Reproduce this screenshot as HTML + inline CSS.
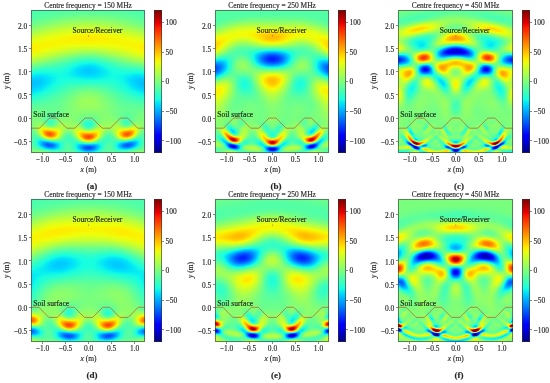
<!DOCTYPE html>
<html><head><meta charset="utf-8"><style>
html,body{margin:0;padding:0;background:#fff;}
body{width:550px;height:383px;position:relative;overflow:hidden;font-family:"Liberation Serif",serif;color:#262626;-webkit-text-stroke:0.2px rgba(38,38,38,0.7);}
.fld{position:absolute;overflow:hidden;}
.fld i{display:block;height:1px;}
.frm{position:absolute;border:1px solid rgba(50,50,50,0.6);}
.ttl{position:absolute;width:0;white-space:nowrap;font-size:7.45px;line-height:10px;display:flex;justify-content:center;}
.yt{position:absolute;width:36.8px;text-align:right;font-size:7.45px;line-height:10px;}
.xt{position:absolute;width:40px;text-align:center;font-size:7.45px;line-height:10px;}
.ct{position:absolute;font-size:7.45px;line-height:10px;white-space:nowrap;}
.yl{position:absolute;width:20px;height:10px;font-size:7.45px;line-height:10px;text-align:center;transform:rotate(-90deg);white-space:nowrap;}
.xl{position:absolute;width:40px;font-size:7.45px;line-height:10px;text-align:center;white-space:nowrap;}
.cap{position:absolute;width:40px;font-size:9px;line-height:10px;text-align:center;font-weight:bold;}
.cb{position:absolute;width:6px;border:1px solid rgba(50,50,50,0.6);background-origin:border-box;}
.tk{position:absolute;background:#8a8a8a;}
.ann{position:absolute;font-size:7.55px;line-height:10px;white-space:nowrap;color:#161616;}
svg{position:absolute;}
</style></head><body>
<div class="fld" style="left:31px;top:10px;width:114px;height:143px"><i style="background:linear-gradient(90deg,#49ffad 0px,#56ffa0 66.5px,#49ffad 114px)"></i><i style="background:linear-gradient(90deg,#49ffad 0px,#5aff9d 63.5px,#49ffad 114px)"></i><i style="background:linear-gradient(90deg,#49ffad 0px,#5dff9a 53.5px,#56ffa0 91.5px,#49ffad 114px)"></i><i style="background:linear-gradient(90deg,#49ffad 0px,#60ff97 47.5px,#60ff97 77.5px,#49ffad 114px)"></i><i style="background:linear-gradient(90deg,#4dffaa 0px,#66ff90 49.5px,#60ff97 86.5px,#4dffaa 114px)"></i><i style="background:linear-gradient(90deg,#4dffaa 0px,#6dff8a 49.5px,#66ff90 83.5px,#4dffaa 114px)"></i><i style="background:linear-gradient(90deg,#50ffa7 0px,#70ff87 44.5px,#70ff87 75.5px,#50ffa7 114px)"></i><i style="background:linear-gradient(90deg,#50ffa7 0px,#77ff80 42.5px,#77ff80 74.5px,#53ffa4 114px)"></i><i style="background:linear-gradient(90deg,#53ffa4 0px,#7aff7d 38.5px,#80ff77 68.5px,#5dff9a 107.5px,#56ffa0 114px)"></i><i style="background:linear-gradient(90deg,#56ffa0 0px,#80ff77 38.5px,#87ff70 62.5px,#7aff7d 86.5px,#5aff9d 114px)"></i><i style="background:linear-gradient(90deg,#5aff9d 0px,#87ff70 36.5px,#90ff66 64.5px,#73ff83 97.5px,#5dff9a 114px)"></i><i style="background:linear-gradient(90deg,#5dff9a 0px,#8aff6d 32.5px,#97ff60 56.5px,#8dff6a 80.5px,#60ff97 114px)"></i><i style="background:linear-gradient(90deg,#63ff94 0px,#97ff60 37.5px,#a0ff56 63.5px,#83ff73 94.5px,#63ff94 114px)"></i><i style="background:linear-gradient(90deg,#66ff90 0px,#9aff5d 33.5px,#a7ff50 55.5px,#a0ff56 76.5px,#6dff8a 111.5px,#6aff8d 114px)"></i><i style="background:linear-gradient(90deg,#6dff8a 0px,#a4ff53 35.5px,#b1ff46 57.5px,#a4ff53 80.5px,#70ff87 114px)"></i><i style="background:linear-gradient(90deg,#73ff83 0px,#aaff4d 34.5px,#baff3c 58.5px,#a7ff50 84.5px,#73ff83 114px)"></i><i style="background:linear-gradient(90deg,#7aff7d 0px,#adff49 30.5px,#c1ff36 54.5px,#baff3c 74.5px,#8aff6d 106.5px,#7aff7d 114px)"></i><i style="background:linear-gradient(90deg,#80ff77 0px,#b4ff43 29.5px,#caff2c 55.5px,#beff39 78.5px,#8aff6d 109.5px,#80ff77 114px)"></i><i style="background:linear-gradient(90deg,#87ff70 0px,#baff3c 28.5px,#d1ff26 52.5px,#caff2c 74.5px,#94ff63 108.5px,#8aff6d 114px)"></i><i style="background:linear-gradient(90deg,#8dff6a 0px,#beff39 25.5px,#d7ff1f 50.5px,#d7ff1f 68.5px,#adff49 99.5px,#90ff66 114px)"></i><i style="background:linear-gradient(90deg,#94ff63 0px,#beff39 20.5px,#e1ff16 52.5px,#dbff1c 72.5px,#adff49 103.5px,#97ff60 114px)"></i><i style="background:linear-gradient(90deg,#9dff5a 0px,#ceff29 26.5px,#e7ff0f 52.5px,#e1ff16 73.5px,#adff49 107.5px,#a0ff56 114px)"></i><i style="background:linear-gradient(90deg,#a4ff53 0px,#ceff29 21.5px,#eeff09 52.5px,#e7ff0f 72.5px,#beff39 103.5px,#a7ff50 114px)"></i><i style="background:linear-gradient(90deg,#adff49 0px,#d7ff1f 23.5px,#f1fc06 50.5px,#f1fc06 68.5px,#c7ff30 102.5px,#adff49 114px)"></i><i style="background:linear-gradient(90deg,#b4ff43 0px,#dbff1c 20.5px,#f1fc06 43.5px,#f8f500 61.5px,#e4ff13 86.5px,#beff39 110.5px,#b7ff40 114px)"></i><i style="background:linear-gradient(90deg,#baff3c 0px,#dbff1c 16.5px,#f1fc06 38.5px,#fbf100 56.5px,#f4f802 75.5px,#e4ff13 91.5px,#c1ff36 112.5px,#beff39 114px)"></i><i style="background:linear-gradient(90deg,#c4ff33 0px,#e7ff0f 22.5px,#f8f500 42.5px,#feed00 63.5px,#f1fc06 83.5px,#ceff29 110.5px,#c7ff30 114px)"></i><i style="background:linear-gradient(90deg,#caff2c 0px,#e7ff0f 18.5px,#f8f500 39.5px,#ffea00 62.5px,#f1fc06 87.5px,#d4ff23 110.5px,#ceff29 114px)"></i><i style="background:linear-gradient(90deg,#d4ff23 0px,#eeff09 19.5px,#feed00 48.5px,#feed00 72.5px,#ebff0c 100.5px,#d4ff23 114px)"></i><i style="background:linear-gradient(90deg,#dbff1c 0px,#f1fc06 19.5px,#ffea00 59.5px,#f1fc06 97.5px,#deff19 114px)"></i><i style="background:linear-gradient(90deg,#e1ff16 0px,#f4f802 19.5px,#feed00 62.5px,#f1fc06 103.5px,#e4ff13 114px)"></i><i style="background:linear-gradient(90deg,#e7ff0f 0px,#f8f500 19.5px,#f8f500 97.5px,#e7ff0f 114px)"></i><i style="background:linear-gradient(90deg,#ebff0c 0px,#f8f500 12.5px,#f4f802 109.5px,#eeff09 114px)"></i><i style="background:linear-gradient(90deg,#f1fc06 0px,#f8f500 15.5px,#f4f802 112.5px,#f1fc06 114px)"></i><i style="background:linear-gradient(90deg,#f4f802 0px,#fbf100 15.5px,#eeff09 49.5px,#f4f802 91.5px,#fbf100 109.5px,#f8f500 114px)"></i><i style="background:linear-gradient(90deg,#f8f500 0px,#f8f500 19.5px,#ebff0c 40.5px,#e7ff0f 66.5px,#f1fc06 89.5px,#fbf100 108.5px,#fbf100 114px)"></i><i style="background:linear-gradient(90deg,#fbf100 0px,#fbf100 12.5px,#e7ff0f 32.5px,#deff19 63.5px,#f1fc06 93.5px,#feed00 111.5px,#fbf100 114px)"></i><i style="background:linear-gradient(90deg,#feed00 0px,#f1fc06 20.5px,#d4ff23 51.5px,#dbff1c 75.5px,#f1fc06 96.5px,#feed00 114px)"></i><i style="background:linear-gradient(90deg,#feed00 0px,#f1fc06 16.5px,#caff2c 51.5px,#ceff29 70.5px,#f1fc06 99.5px,#feed00 114px)"></i><i style="background:linear-gradient(90deg,#feed00 0px,#f1fc06 13.5px,#c1ff36 49.5px,#c1ff36 67.5px,#f1fc06 102.5px,#feed00 114px)"></i><i style="background:linear-gradient(90deg,#fbf100 0px,#eeff09 12.5px,#b4ff43 50.5px,#b4ff43 65.5px,#f1fc06 105.5px,#fbf100 114px)"></i><i style="background:linear-gradient(90deg,#fbf100 0px,#e7ff0f 12.5px,#aaff4d 48.5px,#a7ff50 61.5px,#baff3c 77.5px,#f1fc06 108.5px,#f8f500 114px)"></i><i style="background:linear-gradient(90deg,#f4f802 0px,#d1ff26 20.5px,#9aff5d 51.5px,#9aff5d 64.5px,#f1fc06 111.5px,#f4f802 114px)"></i><i style="background:linear-gradient(90deg,#f1fc06 0px,#8dff6a 50.5px,#8dff6a 64.5px,#f1fc06 114px)"></i><i style="background:linear-gradient(90deg,#ebff0c 0px,#83ff73 48.5px,#7dff7a 62.5px,#b4ff43 88.5px,#ebff0c 114px)"></i><i style="background:linear-gradient(90deg,#e4ff13 0px,#73ff83 50.5px,#70ff87 62.5px,#a0ff56 84.5px,#e4ff13 114px)"></i><i style="background:linear-gradient(90deg,#deff19 0px,#63ff94 51.5px,#63ff94 63.5px,#dbff1c 114px)"></i><i style="background:linear-gradient(90deg,#d4ff23 0px,#6aff8d 42.5px,#53ffa4 56.5px,#5dff9a 67.5px,#adff49 98.5px,#d1ff26 114px)"></i><i style="background:linear-gradient(90deg,#caff2c 0px,#66ff90 39.5px,#46ffb1 53.5px,#4dffaa 65.5px,#a0ff56 97.5px,#c7ff30 114px)"></i><i style="background:linear-gradient(90deg,#c1ff36 0px,#56ffa0 41.5px,#39ffbe 54.5px,#40ffb7 65.5px,#8dff6a 93.5px,#beff39 114px)"></i><i style="background:linear-gradient(90deg,#b7ff40 0px,#87ff70 18.5px,#5dff9a 35.5px,#30ffc7 52.5px,#30ffc7 62.5px,#60ff97 80.5px,#b4ff43 114px)"></i><i style="background:linear-gradient(90deg,#aaff4d 0px,#7aff7d 19.5px,#50ffa7 36.5px,#26ffd1 51.5px,#23ffd4 61.5px,#46ffb1 75.5px,#73ff83 91.5px,#a0ff56 111.5px,#a7ff50 114px)"></i><i style="background:linear-gradient(90deg,#a0ff56 0px,#77ff80 15.5px,#4dffaa 34.5px,#19ffde 52.5px,#19ffde 62.5px,#6aff8d 91.5px,#8dff6a 108.5px,#9dff5a 114px)"></i><i style="background:linear-gradient(90deg,#94ff63 0px,#6dff8a 14.5px,#49ffad 32.5px,#13fce4 51.5px,#0cf4eb 59.5px,#23ffd4 70.5px,#5aff9d 88.5px,#80ff77 108.5px,#90ff66 114px)"></i><i style="background:linear-gradient(90deg,#87ff70 0px,#63ff94 13.5px,#46ffb1 30.5px,#13fce4 47.5px,#06ecf1 55.5px,#09f0ee 63.5px,#1cffdb 70.5px,#50ffa7 88.5px,#73ff83 108.5px,#83ff73 114px)"></i><i style="background:linear-gradient(90deg,#7aff7d 0px,#5aff9d 12.5px,#39ffbe 32.5px,#13fce4 45.5px,#00e4f8 53.5px,#00e4f8 62.5px,#19ffde 72.5px,#49ffad 89.5px,#6aff8d 109.5px,#77ff80 114px)"></i><i style="background:linear-gradient(90deg,#6dff8a 0px,#50ffa7 11.5px,#36ffc1 31.5px,#13fce4 42.5px,#00e0fb 51.5px,#00d8ff 59.5px,#06ecf1 67.5px,#1cffdb 75.5px,#40ffb7 88.5px,#5aff9d 108.5px,#6aff8d 114px)"></i><i style="background:linear-gradient(90deg,#60ff97 0px,#43ffb4 12.5px,#30ffc7 31.5px,#13fce4 41.5px,#00e0fb 49.5px,#00d4ff 55.5px,#00d8ff 63.5px,#06ecf1 69.5px,#19ffde 75.5px,#39ffbe 89.5px,#49ffad 106.5px,#5dff9a 114px)"></i><i style="background:linear-gradient(90deg,#53ffa4 0px,#39ffbe 11.5px,#2cffca 29.5px,#13fce4 39.5px,#00dcfe 48.5px,#00ccff 57.5px,#00e0fb 67.5px,#16ffe1 76.5px,#33ffc4 90.5px,#40ffb7 108.5px,#50ffa7 114px)"></i><i style="background:linear-gradient(90deg,#46ffb1 0px,#30ffc7 11.5px,#26ffd1 30.5px,#13fce4 38.5px,#00e0fb 46.5px,#00ccff 55.5px,#00d0ff 63.5px,#02e8f4 71.5px,#19ffde 78.5px,#2cffca 91.5px,#33ffc4 107.5px,#43ffb4 114px)"></i><i style="background:linear-gradient(90deg,#39ffbe 0px,#26ffd1 10.5px,#23ffd4 29.5px,#13fce4 37.5px,#00dcfe 46.5px,#00c8ff 56.5px,#00d4ff 65.5px,#09f0ee 74.5px,#19ffde 80.5px,#26ffd1 93.5px,#2cffca 109.5px,#36ffc1 114px)"></i><i style="background:linear-gradient(90deg,#30ffc7 0px,#1cffdb 9.5px,#1cffdb 31.5px,#0ff8e7 38.5px,#00e0fb 45.5px,#00c8ff 55.5px,#00d4ff 65.5px,#06ecf1 73.5px,#19ffde 81.5px,#1fffd7 96.5px,#1fffd7 108.5px,#2cffca 114px)"></i><i style="background:linear-gradient(90deg,#23ffd4 0px,#13fce4 12.5px,#1cffdb 29.5px,#0ff8e7 37.5px,#00e0fb 45.5px,#00ccff 55.5px,#00d0ff 63.5px,#02e8f4 72.5px,#19ffde 82.5px,#19ffde 96.5px,#16ffe1 108.5px,#1fffd7 114px)"></i><i style="background:linear-gradient(90deg,#19ffde 0px,#0cf4eb 9.5px,#19ffde 30.5px,#0cf4eb 38.5px,#00d8ff 48.5px,#00ccff 58.5px,#00e4f8 70.5px,#16ffe1 82.5px,#16ffe1 94.5px,#0cf4eb 107.5px,#16ffe1 114px)"></i><i style="background:linear-gradient(90deg,#0ff8e7 0px,#06ecf1 6.5px,#09f0ee 15.5px,#16ffe1 27.5px,#0ff8e7 37.5px,#00dcfe 48.5px,#00d0ff 58.5px,#00e4f8 69.5px,#16ffe1 82.5px,#0ff8e7 95.5px,#06ecf1 105.5px,#0cf4eb 114px)"></i><i style="background:linear-gradient(90deg,#06ecf1 0px,#00e0fb 8.5px,#0ff8e7 22.5px,#16ffe1 33.5px,#00e0fb 49.5px,#00d8ff 59.5px,#06ecf1 71.5px,#16ffe1 82.5px,#0ff8e7 93.5px,#00e0fb 106.5px,#02e8f4 114px)"></i><i style="background:linear-gradient(90deg,#00e4f8 0px,#00dcfe 8.5px,#02e8f4 16.5px,#13fce4 26.5px,#13fce4 37.5px,#00e0fb 53.5px,#00e4f8 65.5px,#16ffe1 80.5px,#0cf4eb 93.5px,#00dcfe 103.5px,#00e0fb 114px)"></i><i style="background:linear-gradient(90deg,#00dcfe 0px,#00d4ff 8.5px,#02e8f4 18.5px,#16ffe1 28.5px,#0ff8e7 42.5px,#02e8f4 55.5px,#06ecf1 66.5px,#16ffe1 79.5px,#0ff8e7 91.5px,#00dcfe 101.5px,#00d4ff 111.5px,#00d8ff 114px)"></i><i style="background:linear-gradient(90deg,#00d4ff 0px,#00ccff 6.5px,#00e4f8 17.5px,#16ffe1 28.5px,#16ffe1 41.5px,#09f0ee 56.5px,#0cf4eb 66.5px,#19ffde 79.5px,#0ff8e7 91.5px,#00e0fb 99.5px,#00ccff 109.5px,#00d0ff 114px)"></i><i style="background:linear-gradient(90deg,#00ccff 0px,#00ccff 9.5px,#00e4f8 17.5px,#16ffe1 27.5px,#19ffde 40.5px,#0ff8e7 61.5px,#1cffdb 81.5px,#0ff8e7 91.5px,#00dcfe 99.5px,#00c8ff 109.5px,#00ccff 114px)"></i><i style="background:linear-gradient(90deg,#00c8ff 0px,#00c8ff 8.5px,#00e4f8 17.5px,#16ffe1 27.5px,#1fffd7 39.5px,#19ffde 65.5px,#1fffd7 81.5px,#0ff8e7 91.5px,#00dcfe 99.5px,#00c4ff 109.5px,#00c8ff 114px)"></i><i style="background:linear-gradient(90deg,#00c4ff 0px,#00c8ff 8.5px,#00e4f8 17.5px,#16ffe1 26.5px,#23ffd4 37.5px,#23ffd4 73.5px,#1cffdb 86.5px,#0ff8e7 91.5px,#00dcfe 99.5px,#00c4ff 109.5px,#00c4ff 114px)"></i><i style="background:linear-gradient(90deg,#00c0ff 0px,#00c8ff 8.5px,#00e4f8 17.5px,#16ffe1 25.5px,#29ffce 38.5px,#26ffd1 81.5px,#13fce4 91.5px,#00e0fb 99.5px,#00c4ff 108.5px,#00c0ff 114px)"></i><i style="background:linear-gradient(90deg,#00c0ff 0px,#00c8ff 8.5px,#00e4f8 16.5px,#16ffe1 24.5px,#2cffca 36.5px,#33ffc4 67.5px,#23ffd4 85.5px,#0ff8e7 93.5px,#00dcfe 100.5px,#00c0ff 111.5px,#00c0ff 114px)"></i><i style="background:linear-gradient(90deg,#00c0ff 0px,#00d0ff 10.5px,#06ecf1 17.5px,#16ffe1 23.5px,#33ffc4 37.5px,#3cffba 61.5px,#30ffc7 80.5px,#13fce4 93.5px,#00dcfe 101.5px,#00c4ff 109.5px,#00c0ff 114px)"></i><i style="background:linear-gradient(90deg,#00c0ff 0px,#00d4ff 10.5px,#06ecf1 16.5px,#16ffe1 22.5px,#39ffbe 37.5px,#46ffb1 59.5px,#36ffc1 79.5px,#13fce4 94.5px,#00dcfe 102.5px,#00c4ff 111.5px,#00c0ff 114px)"></i><i style="background:linear-gradient(90deg,#00c4ff 0px,#00d8ff 10.5px,#09f0ee 16.5px,#19ffde 22.5px,#3cffba 36.5px,#50ffa7 56.5px,#43ffb4 74.5px,#1fffd7 90.5px,#0ff8e7 96.5px,#00dcfe 103.5px,#00c4ff 114px)"></i><i style="background:linear-gradient(90deg,#00c8ff 0px,#00dcfe 10.5px,#16ffe1 19.5px,#49ffad 40.5px,#5aff9d 58.5px,#43ffb4 77.5px,#13fce4 96.5px,#00dcfe 104.5px,#00c8ff 114px)"></i><i style="background:linear-gradient(90deg,#00ccff 0px,#00e0fb 9.5px,#16ffe1 18.5px,#50ffa7 40.5px,#60ff97 57.5px,#56ffa0 70.5px,#1cffdb 94.5px,#09f0ee 100.5px,#00d4ff 109.5px,#00ccff 114px)"></i><i style="background:linear-gradient(90deg,#00d0ff 0px,#00e4f8 9.5px,#19ffde 17.5px,#5dff9a 44.5px,#6aff8d 60.5px,#49ffad 79.5px,#13fce4 99.5px,#00e0fb 107.5px,#00d0ff 114px)"></i><i style="background:linear-gradient(90deg,#00d4ff 0px,#00e4f8 6.5px,#16ffe1 15.5px,#63ff94 44.5px,#70ff87 57.5px,#66ff90 68.5px,#1cffdb 97.5px,#0ff8e7 102.5px,#00e0fb 109.5px,#00d8ff 114px)"></i><i style="background:linear-gradient(90deg,#00dcfe 0px,#09f0ee 8.5px,#19ffde 14.5px,#73ff83 49.5px,#77ff80 62.5px,#4dffaa 81.5px,#13fce4 103.5px,#00e0fb 112.5px,#00dcfe 114px)"></i><i style="background:linear-gradient(90deg,#00e4f8 0px,#19ffde 12.5px,#7aff7d 50.5px,#7dff7a 61.5px,#63ff94 74.5px,#13fce4 105.5px,#00e4f8 114px)"></i><i style="background:linear-gradient(90deg,#06ecf1 0px,#1cffdb 10.5px,#83ff73 52.5px,#83ff73 62.5px,#5aff9d 79.5px,#13fce4 108.5px,#06ecf1 114px)"></i><i style="background:linear-gradient(90deg,#0cf4eb 0px,#1fffd7 9.5px,#66ff90 38.5px,#87ff70 51.5px,#87ff70 64.5px,#2cffca 99.5px,#0ff8e7 112.5px,#0cf4eb 114px)"></i><i style="background:linear-gradient(90deg,#13fce4 0px,#5dff9a 33.5px,#8dff6a 52.5px,#8dff6a 63.5px,#39ffbe 95.5px,#13fce4 114px)"></i><i style="background:linear-gradient(90deg,#19ffde 0px,#60ff97 33.5px,#90ff66 51.5px,#90ff66 63.5px,#46ffb1 91.5px,#19ffde 114px)"></i><i style="background:linear-gradient(90deg,#1fffd7 0px,#60ff97 32.5px,#94ff63 51.5px,#94ff63 63.5px,#49ffad 91.5px,#23ffd4 114px)"></i><i style="background:linear-gradient(90deg,#26ffd1 0px,#66ff90 34.5px,#97ff60 51.5px,#97ff60 63.5px,#50ffa7 90.5px,#29ffce 114px)"></i><i style="background:linear-gradient(90deg,#2cffca 0px,#66ff90 33.5px,#9aff5d 52.5px,#9aff5d 63.5px,#56ffa0 88.5px,#30ffc7 114px)"></i><i style="background:linear-gradient(90deg,#33ffc4 0px,#4dffaa 16.5px,#6aff8d 33.5px,#9aff5d 51.5px,#9dff5a 61.5px,#7aff7d 75.5px,#53ffa4 92.5px,#3cffba 110.5px,#36ffc1 114px)"></i><i style="background:linear-gradient(90deg,#39ffbe 0px,#50ffa7 14.5px,#60ff97 28.5px,#9dff5a 52.5px,#9dff5a 62.5px,#5aff9d 90.5px,#40ffb7 112.5px,#3cffba 114px)"></i><i style="background:linear-gradient(90deg,#40ffb7 0px,#53ffa4 13.5px,#66ff90 30.5px,#9aff5d 50.5px,#9dff5a 61.5px,#80ff77 74.5px,#5aff9d 91.5px,#49ffad 110.5px,#43ffb4 114px)"></i><i style="background:linear-gradient(90deg,#46ffb1 0px,#56ffa0 12.5px,#63ff94 28.5px,#9dff5a 52.5px,#9dff5a 62.5px,#5dff9a 90.5px,#50ffa7 110.5px,#49ffad 114px)"></i><i style="background:linear-gradient(90deg,#4dffaa 0px,#5aff9d 13.5px,#66ff90 29.5px,#9dff5a 52.5px,#97ff60 66.5px,#60ff97 89.5px,#53ffa4 111.5px,#50ffa7 114px)"></i><i style="background:linear-gradient(90deg,#53ffa4 0px,#5dff9a 12.5px,#66ff90 28.5px,#9aff5d 51.5px,#9aff5d 63.5px,#60ff97 91.5px,#5aff9d 110.5px,#53ffa4 114px)"></i><i style="background:linear-gradient(90deg,#56ffa0 0px,#60ff97 10.5px,#66ff90 27.5px,#9aff5d 52.5px,#94ff63 67.5px,#63ff94 90.5px,#5dff9a 111.5px,#5aff9d 114px)"></i><i style="background:linear-gradient(90deg,#5dff9a 0px,#63ff94 15.5px,#63ff94 24.5px,#97ff60 51.5px,#90ff66 68.5px,#63ff94 91.5px,#60ff97 112.5px,#5dff9a 114px)"></i><i style="background:linear-gradient(90deg,#60ff97 0px,#66ff90 13.5px,#66ff90 26.5px,#90ff66 48.5px,#90ff66 67.5px,#63ff94 92.5px,#63ff94 114px)"></i><i style="background:linear-gradient(90deg,#63ff94 0px,#6aff8d 11.5px,#63ff94 23.5px,#8dff6a 47.5px,#8dff6a 69.5px,#63ff94 93.5px,#66ff90 114px)"></i><i style="background:linear-gradient(90deg,#6aff8d 0px,#6aff8d 12.5px,#63ff94 23.5px,#8aff6d 45.5px,#8aff6d 71.5px,#63ff94 93.5px,#6dff8a 111.5px,#6aff8d 114px)"></i><i style="background:linear-gradient(90deg,#6dff8a 0px,#6dff8a 10.5px,#60ff97 21.5px,#87ff70 43.5px,#87ff70 73.5px,#60ff97 95.5px,#70ff87 111.5px,#6dff8a 114px)"></i><i style="background:linear-gradient(90deg,#70ff87 0px,#70ff87 9.5px,#60ff97 20.5px,#7aff7d 33.5px,#87ff70 46.5px,#83ff73 76.5px,#60ff97 94.5px,#73ff83 111.5px,#70ff87 114px)"></i><i style="background:linear-gradient(90deg,#73ff83 0px,#70ff87 9.5px,#5dff9a 20.5px,#83ff73 39.5px,#83ff73 49.5px,#7dff7a 61.5px,#87ff70 73.5px,#6dff8a 87.5px,#5dff9a 96.5px,#73ff83 110.5px,#73ff83 114px)"></i><i style="background:linear-gradient(90deg,#73ff83 0px,#73ff83 8.5px,#5aff9d 20.5px,#83ff73 37.5px,#83ff73 47.5px,#77ff80 58.5px,#87ff70 74.5px,#6dff8a 87.5px,#5aff9d 95.5px,#77ff80 109.5px,#77ff80 114px)"></i><i style="background:linear-gradient(90deg,#77ff80 0px,#73ff83 9.5px,#56ffa0 20.5px,#80ff77 34.5px,#83ff73 45.5px,#6dff8a 58.5px,#87ff70 74.5px,#73ff83 85.5px,#56ffa0 95.5px,#77ff80 108.5px,#77ff80 114px)"></i><i style="background:linear-gradient(90deg,#7aff7d 0px,#73ff83 9.5px,#53ffa4 19.5px,#6dff8a 27.5px,#83ff73 35.5px,#83ff73 45.5px,#66ff90 56.5px,#73ff83 64.5px,#87ff70 72.5px,#7dff7a 83.5px,#53ffa4 95.5px,#7aff7d 108.5px,#7aff7d 114px)"></i><i style="background:linear-gradient(90deg,#7aff7d 0px,#7aff7d 7.5px,#60ff97 14.5px,#4dffaa 19.5px,#63ff94 25.5px,#7dff7a 31.5px,#87ff70 39.5px,#7dff7a 47.5px,#5dff9a 56.5px,#66ff90 62.5px,#87ff70 71.5px,#80ff77 83.5px,#4dffaa 94.5px,#56ffa0 98.5px,#7aff7d 107.5px,#7aff7d 114px)"></i><i style="background:linear-gradient(90deg,#7dff7a 0px,#7aff7d 8.5px,#5dff9a 14.5px,#46ffb1 19.5px,#56ffa0 23.5px,#80ff77 30.5px,#8aff6d 41.5px,#6dff8a 50.5px,#53ffa4 56.5px,#60ff97 62.5px,#83ff73 70.5px,#8aff6d 78.5px,#77ff80 86.5px,#46ffb1 94.5px,#50ffa7 98.5px,#77ff80 105.5px,#7dff7a 114px)"></i><i style="background:linear-gradient(90deg,#7dff7a 0px,#7dff7a 8.5px,#5dff9a 14.5px,#40ffb7 18.5px,#49ffad 22.5px,#80ff77 29.5px,#8aff6d 37.5px,#83ff73 45.5px,#4dffaa 55.5px,#49ffad 59.5px,#80ff77 69.5px,#8aff6d 75.5px,#83ff73 84.5px,#5dff9a 90.5px,#40ffb7 94.5px,#43ffb4 97.5px,#77ff80 104.5px,#80ff77 112.5px,#7dff7a 114px)"></i><i style="background:linear-gradient(90deg,#7dff7a 0px,#7dff7a 9.5px,#5dff9a 14.5px,#39ffbe 18.5px,#40ffb7 21.5px,#7dff7a 28.5px,#8dff6a 34.5px,#87ff70 44.5px,#6dff8a 49.5px,#43ffb4 54.5px,#3cffba 58.5px,#50ffa7 62.5px,#80ff77 68.5px,#8dff6a 76.5px,#87ff70 84.5px,#70ff87 88.5px,#40ffb7 93.5px,#39ffbe 96.5px,#7aff7d 104.5px,#80ff77 112.5px,#80ff77 114px)"></i><i style="background:linear-gradient(90deg,#80ff77 0px,#80ff77 9.5px,#66ff90 13.5px,#36ffc1 18.5px,#46ffb1 22.5px,#83ff73 28.5px,#90ff66 33.5px,#87ff70 45.5px,#56ffa0 51.5px,#36ffc1 55.5px,#33ffc4 58.5px,#49ffad 62.5px,#7aff7d 67.5px,#8aff6d 71.5px,#90ff66 83.5px,#7dff7a 87.5px,#39ffbe 94.5px,#36ffc1 96.5px,#5aff9d 100.5px,#7dff7a 104.5px,#83ff73 111.5px,#80ff77 114px)"></i><i style="background:linear-gradient(90deg,#7dff7a 0px,#8aff6d 8.5px,#77ff80 12.5px,#3cffba 17.5px,#36ffc1 19.5px,#49ffad 22.5px,#8dff6a 28.5px,#94ff63 36.5px,#8aff6d 45.5px,#60ff97 50.5px,#33ffc4 54.5px,#26ffd1 57.5px,#3cffba 61.5px,#83ff73 68.5px,#90ff66 73.5px,#90ff66 85.5px,#70ff87 89.5px,#40ffb7 93.5px,#36ffc1 96.5px,#5dff9a 100.5px,#7dff7a 103.5px,#8aff6d 107.5px,#80ff77 114px)"></i><i style="background:linear-gradient(90deg,#7dff7a 0px,#90ff66 9.5px,#80ff77 12.5px,#43ffb4 17.5px,#3cffba 19.5px,#5aff9d 23.5px,#8dff6a 27.5px,#9aff5d 30.5px,#8dff6a 45.5px,#7aff7d 48.5px,#2cffca 54.5px,#1fffd7 57.5px,#2cffca 60.5px,#80ff77 67.5px,#94ff63 71.5px,#9aff5d 85.5px,#77ff80 89.5px,#46ffb1 93.5px,#3cffba 96.5px,#66ff90 100.5px,#8dff6a 104.5px,#8aff6d 109.5px,#80ff77 114px)"></i><i style="background:linear-gradient(90deg,#7dff7a 0px,#97ff60 9.5px,#8dff6a 12.5px,#50ffa7 17.5px,#46ffb1 19.5px,#5aff9d 22.5px,#97ff60 27.5px,#a4ff53 31.5px,#94ff63 39.5px,#94ff63 45.5px,#80ff77 48.5px,#23ffd4 55.5px,#1cffdb 58.5px,#36ffc1 61.5px,#7dff7a 66.5px,#90ff66 68.5px,#97ff60 74.5px,#9aff5d 80.5px,#a4ff53 84.5px,#8dff6a 88.5px,#50ffa7 93.5px,#46ffb1 95.5px,#5aff9d 98.5px,#94ff63 103.5px,#94ff63 107.5px,#80ff77 114px)"></i><i style="background:linear-gradient(90deg,#7aff7d 0px,#a4ff53 9.5px,#9dff5a 12.5px,#5dff9a 18.5px,#60ff97 21.5px,#a7ff50 28.5px,#aaff4d 31.5px,#97ff60 37.5px,#9aff5d 46.5px,#7dff7a 49.5px,#26ffd1 55.5px,#1fffd7 58.5px,#3cffba 61.5px,#8aff6d 66.5px,#9dff5a 69.5px,#9aff5d 79.5px,#aaff4d 84.5px,#9aff5d 88.5px,#63ff94 93.5px,#5aff9d 95.5px,#6dff8a 98.5px,#9dff5a 102.5px,#a4ff53 105.5px,#7dff7a 114px)"></i><i style="background:linear-gradient(90deg,#77ff80 0px,#90ff66 5.5px,#b7ff40 10.5px,#adff49 13.5px,#7aff7d 18.5px,#7aff7d 21.5px,#adff49 27.5px,#b1ff46 30.5px,#97ff60 37.5px,#a4ff53 46.5px,#97ff60 48.5px,#5aff9d 52.5px,#29ffce 56.5px,#30ffc7 59.5px,#97ff60 66.5px,#a7ff50 69.5px,#97ff60 77.5px,#a4ff53 81.5px,#b4ff43 85.5px,#9dff5a 89.5px,#7aff7d 93.5px,#7aff7d 96.5px,#b4ff43 102.5px,#b7ff40 104.5px,#7aff7d 114px)"></i><i style="background:linear-gradient(90deg,#73ff83 0px,#8aff6d 4.5px,#c7ff30 10.5px,#ceff29 12.5px,#b1ff46 16.5px,#9aff5d 19.5px,#9dff5a 22.5px,#beff39 28.5px,#aaff4d 32.5px,#94ff63 37.5px,#a4ff53 42.5px,#b1ff46 46.5px,#9dff5a 49.5px,#43ffb4 55.5px,#39ffbe 57.5px,#4dffaa 60.5px,#a7ff50 66.5px,#b1ff46 69.5px,#94ff63 77.5px,#a4ff53 81.5px,#beff39 86.5px,#97ff60 94.5px,#adff49 98.5px,#ceff29 102.5px,#c1ff36 105.5px,#83ff73 111.5px,#77ff80 114px)"></i><i style="background:linear-gradient(90deg,#6dff8a 0px,#87ff70 4.5px,#dbff1c 10.5px,#e7ff0f 13.5px,#d1ff26 17.5px,#beff39 21.5px,#caff2c 27.5px,#b4ff43 31.5px,#90ff66 36.5px,#9aff5d 40.5px,#c1ff36 46.5px,#b1ff46 49.5px,#5dff9a 55.5px,#53ffa4 57.5px,#5dff9a 59.5px,#baff3c 66.5px,#beff39 69.5px,#90ff66 76.5px,#9aff5d 80.5px,#c7ff30 86.5px,#c4ff33 90.5px,#beff39 94.5px,#e7ff0f 101.5px,#e4ff13 103.5px,#b1ff46 107.5px,#80ff77 111.5px,#73ff83 114px)"></i><i style="background:linear-gradient(90deg,#6aff8d 0px,#7aff7d 3.5px,#a0ff56 6.5px,#e7ff0f 10.5px,#f8f500 11.5px,#ffe200 13.5px,#ffea00 16.5px,#f1fc06 19.5px,#d1ff26 28.5px,#8aff6d 36.5px,#90ff66 39.5px,#b4ff43 43.5px,#ceff29 46.5px,#c7ff30 49.5px,#97ff60 53.5px,#7aff7d 56.5px,#7aff7d 58.5px,#a4ff53 62.5px,#ceff29 66.5px,#c7ff30 69.5px,#8aff6d 76.5px,#90ff66 79.5px,#b4ff43 83.5px,#d7ff1f 87.5px,#eeff09 95.5px,#ffe200 99.5px,#ffea00 102.5px,#f8f500 103.5px,#ebff0c 104.5px,#87ff70 110.5px,#6dff8a 114px)"></i><i style="background:linear-gradient(90deg,#63ff94 0px,#73ff83 3.5px,#a0ff56 6.5px,#f4f802 10.5px,#ffe200 11.5px,#ffc400 13.5px,#ffb900 16.5px,#ffde00 22.5px,#feed00 24.5px,#eeff09 26.5px,#8dff6a 34.5px,#80ff77 37.5px,#90ff66 40.5px,#d7ff1f 46.5px,#e1ff16 48.5px,#d1ff26 51.5px,#a4ff53 56.5px,#aaff4d 59.5px,#dbff1c 64.5px,#deff19 67.5px,#c4ff33 70.5px,#90ff66 74.5px,#80ff77 77.5px,#97ff60 81.5px,#ebff0c 88.5px,#fbf100 90.5px,#ffbd00 97.5px,#ffb900 100.5px,#ffe200 103.5px,#f4f802 104.5px,#a0ff56 108.5px,#73ff83 111.5px,#66ff90 114px)"></i><i style="background:linear-gradient(90deg,#60ff97 0px,#6dff8a 3.5px,#9aff5d 6.5px,#deff19 9.5px,#f8f500 10.5px,#ffab00 13.5px,#ff8d00 16.5px,#ff9800 19.5px,#ffd000 24.5px,#fbf100 26.5px,#eeff09 27.5px,#90ff66 33.5px,#7aff7d 36.5px,#7aff7d 38.5px,#94ff63 41.5px,#ebff0c 47.5px,#f4f802 50.5px,#d4ff23 56.5px,#deff19 60.5px,#f4f802 64.5px,#ebff0c 67.5px,#b4ff43 71.5px,#8aff6d 74.5px,#77ff80 77.5px,#83ff73 80.5px,#dbff1c 86.5px,#ebff0c 87.5px,#fbf100 88.5px,#ffab00 93.5px,#ff8d00 97.5px,#ff9c00 100.5px,#ffbd00 102.5px,#fbf100 104.5px,#e1ff16 105.5px,#9aff5d 108.5px,#6dff8a 111.5px,#63ff94 114px)"></i><i style="background:linear-gradient(90deg,#5dff9a 0px,#66ff90 3.5px,#7dff7a 5.5px,#beff39 8.5px,#f4f802 10.5px,#ffd700 11.5px,#ff8900 14.5px,#ff6f00 16.5px,#ff6f00 19.5px,#ff9400 22.5px,#ffe200 26.5px,#f4f802 27.5px,#a7ff50 31.5px,#7aff7d 34.5px,#6aff8d 37.5px,#7dff7a 40.5px,#d1ff26 45.5px,#f1fc06 47.5px,#feed00 48.5px,#ffd700 51.5px,#ffe600 57.5px,#ffd700 63.5px,#ffea00 66.5px,#f4f802 67.5px,#adff49 71.5px,#7dff7a 74.5px,#6aff8d 77.5px,#7aff7d 80.5px,#b7ff40 84.5px,#f1fc06 87.5px,#ffe600 88.5px,#ffa700 91.5px,#ff7a00 94.5px,#ff6c00 97.5px,#ff7a00 99.5px,#ff9c00 101.5px,#f8f500 104.5px,#dbff1c 105.5px,#90ff66 108.5px,#66ff90 111.5px,#5dff9a 114px)"></i><i style="background:linear-gradient(90deg,#5dff9a 0px,#60ff97 3.5px,#73ff83 5.5px,#b1ff46 8.5px,#ebff0c 10.5px,#ffe200 11.5px,#ff8600 14.5px,#ff6000 16.5px,#ff5500 18.5px,#ff6000 20.5px,#ff9400 23.5px,#ffde00 26.5px,#f4f802 27.5px,#9dff5a 31.5px,#70ff87 34.5px,#60ff97 36.5px,#66ff90 39.5px,#90ff66 42.5px,#e1ff16 46.5px,#f4f802 47.5px,#ffe200 48.5px,#ffb900 51.5px,#ffae00 54.5px,#ffb200 62.5px,#ffd000 65.5px,#f8f500 67.5px,#e4ff13 68.5px,#80ff77 73.5px,#63ff94 76.5px,#60ff97 78.5px,#7aff7d 81.5px,#c4ff33 85.5px,#f1fc06 87.5px,#ffde00 88.5px,#ff8200 92.5px,#ff6000 94.5px,#ff5500 97.5px,#ff8200 100.5px,#ffde00 103.5px,#eeff09 104.5px,#9aff5d 107.5px,#73ff83 109.5px,#5dff9a 112.5px,#5aff9d 114px)"></i><i style="background:linear-gradient(90deg,#5aff9d 0px,#5aff9d 3.5px,#66ff90 5.5px,#9dff5a 8.5px,#f4f802 11.5px,#ffd300 12.5px,#ff7700 15.5px,#ff5900 17.5px,#ff5200 19.5px,#ff7700 22.5px,#ffc400 25.5px,#ffe200 26.5px,#eeff09 27.5px,#90ff66 31.5px,#5aff9d 35.5px,#56ffa0 38.5px,#73ff83 41.5px,#c4ff33 45.5px,#f4f802 47.5px,#ffde00 48.5px,#ffa300 51.5px,#ff8900 53.5px,#ff7a00 57.5px,#ff8900 61.5px,#ffc400 65.5px,#ffde00 66.5px,#f4f802 67.5px,#97ff60 71.5px,#66ff90 74.5px,#53ffa4 77.5px,#63ff94 80.5px,#90ff66 83.5px,#eeff09 87.5px,#ffe200 88.5px,#ff7a00 92.5px,#ff5900 94.5px,#ff5200 96.5px,#ff5500 97.5px,#ff7700 99.5px,#ffd000 102.5px,#f8f500 103.5px,#dbff1c 104.5px,#a0ff56 106.5px,#77ff80 108.5px,#5aff9d 111.5px,#5aff9d 114px)"></i><i style="background:linear-gradient(90deg,#5aff9d 0px,#56ffa0 4.5px,#73ff83 7.5px,#baff3c 10.5px,#dbff1c 11.5px,#f8f500 12.5px,#ff9400 15.5px,#ff6c00 17.5px,#ff6000 19.5px,#ff8200 22.5px,#ffd000 25.5px,#feed00 26.5px,#e4ff13 27.5px,#87ff70 31.5px,#5aff9d 34.5px,#49ffad 37.5px,#50ffa7 39.5px,#73ff83 42.5px,#d1ff26 46.5px,#ebff0c 47.5px,#ffe600 48.5px,#ff9800 51.5px,#ff7300 53.5px,#ff5900 56.5px,#ff5d00 59.5px,#ff8200 62.5px,#ffc400 65.5px,#ffe200 66.5px,#eeff09 67.5px,#8aff6d 71.5px,#5aff9d 74.5px,#49ffad 77.5px,#5aff9d 80.5px,#83ff73 83.5px,#e1ff16 87.5px,#fbf100 88.5px,#ff9c00 91.5px,#ff7300 93.5px,#ff6000 95.5px,#ff6c00 97.5px,#ff9100 99.5px,#fbf100 102.5px,#dbff1c 103.5px,#8aff6d 106.5px,#66ff90 108.5px,#53ffa4 111.5px,#56ffa0 114px)"></i><i style="background:linear-gradient(90deg,#5aff9d 0px,#4dffaa 4.5px,#60ff97 7.5px,#83ff73 9.5px,#eeff09 13.5px,#ffde00 14.5px,#ffab00 16.5px,#ff8900 18.5px,#ff8900 20.5px,#ff9f00 22.5px,#ffea00 25.5px,#e7ff0f 26.5px,#77ff80 31.5px,#50ffa7 34.5px,#43ffb4 37.5px,#4dffaa 40.5px,#7aff7d 43.5px,#dbff1c 47.5px,#f8f500 48.5px,#ff9800 51.5px,#ff5900 54.5px,#ff4300 57.5px,#ff5900 60.5px,#ff7e00 62.5px,#ffd000 65.5px,#fbf100 66.5px,#deff19 67.5px,#7aff7d 71.5px,#50ffa7 74.5px,#43ffb4 76.5px,#49ffad 79.5px,#66ff90 82.5px,#b4ff43 86.5px,#e7ff0f 88.5px,#feed00 89.5px,#ffb600 91.5px,#ff8900 94.5px,#ff8900 96.5px,#ffa700 98.5px,#ffdb00 100.5px,#f1fc06 101.5px,#83ff73 105.5px,#60ff97 107.5px,#4dffaa 110.5px,#56ffa0 114px)"></i><i style="background:linear-gradient(90deg,#5aff9d 0px,#43ffb4 5.5px,#53ffa4 8.5px,#73ff83 10.5px,#eeff09 15.5px,#ffe600 16.5px,#ffc400 18.5px,#ffbd00 20.5px,#ffd000 22.5px,#f8f500 24.5px,#e1ff16 25.5px,#6aff8d 31.5px,#43ffb4 35.5px,#40ffb7 39.5px,#5aff9d 42.5px,#aaff4d 46.5px,#e4ff13 48.5px,#ffea00 49.5px,#ff7300 53.5px,#ff5200 55.5px,#ff4700 57.5px,#ff5200 59.5px,#ff8900 62.5px,#ffe600 65.5px,#e7ff0f 66.5px,#7dff7a 70.5px,#4dffaa 73.5px,#3cffba 77.5px,#50ffa7 81.5px,#8aff6d 85.5px,#e1ff16 89.5px,#f4f802 90.5px,#ffe200 91.5px,#ffbd00 94.5px,#ffc400 96.5px,#ffe600 98.5px,#f1fc06 99.5px,#77ff80 104.5px,#53ffa4 106.5px,#43ffb4 109.5px,#56ffa0 114px)"></i><i style="background:linear-gradient(90deg,#5dff9a 0px,#36ffc1 6.5px,#40ffb7 9.5px,#83ff73 13.5px,#d4ff23 17.5px,#e7ff0f 19.5px,#e7ff0f 21.5px,#caff2c 24.5px,#6aff8d 30.5px,#46ffb1 34.5px,#39ffbe 38.5px,#4dffaa 42.5px,#7dff7a 45.5px,#e4ff13 49.5px,#ffea00 50.5px,#ff9100 53.5px,#ff6c00 55.5px,#ff6000 57.5px,#ff6c00 59.5px,#ff9100 61.5px,#ffe600 64.5px,#e7ff0f 65.5px,#7dff7a 69.5px,#4dffaa 72.5px,#39ffbe 76.5px,#49ffad 81.5px,#77ff80 85.5px,#d7ff1f 91.5px,#ebff0c 94.5px,#e1ff16 96.5px,#b1ff46 99.5px,#4dffaa 104.5px,#36ffc1 107.5px,#46ffb1 111.5px,#53ffa4 114px)"></i><i style="background:linear-gradient(90deg,#5dff9a 0px,#23ffd4 7.5px,#26ffd1 10.5px,#5aff9d 14.5px,#97ff60 18.5px,#a7ff50 21.5px,#8dff6a 25.5px,#53ffa4 31.5px,#39ffbe 37.5px,#3cffba 41.5px,#56ffa0 44.5px,#a7ff50 48.5px,#f4f802 51.5px,#ffdb00 52.5px,#ff9c00 55.5px,#ff9100 57.5px,#ff9c00 59.5px,#ffc100 61.5px,#f8f500 63.5px,#deff19 64.5px,#7aff7d 68.5px,#43ffb4 72.5px,#39ffbe 76.5px,#50ffa7 83.5px,#9dff5a 91.5px,#a7ff50 94.5px,#8dff6a 97.5px,#30ffc7 103.5px,#23ffd4 106.5px,#30ffc7 109.5px,#53ffa4 114px)"></i><i style="background:linear-gradient(90deg,#5aff9d 0px,#36ffc1 4.5px,#16ffe1 7.5px,#06ecf1 10.5px,#16ffe1 13.5px,#5dff9a 20.5px,#63ff94 23.5px,#43ffb4 33.5px,#39ffbe 41.5px,#50ffa7 45.5px,#97ff60 49.5px,#eeff09 53.5px,#feed00 54.5px,#ffd700 56.5px,#ffd700 58.5px,#feed00 60.5px,#eeff09 61.5px,#70ff87 67.5px,#46ffb1 70.5px,#39ffbe 74.5px,#53ffa4 87.5px,#63ff94 92.5px,#56ffa0 95.5px,#16ffe1 101.5px,#06ecf1 104.5px,#16ffe1 107.5px,#53ffa4 114px)"></i><i style="background:linear-gradient(90deg,#5aff9d 0px,#33ffc4 4.5px,#19ffde 6.5px,#00e4f8 8.5px,#00ccff 10.5px,#00c4ff 13.5px,#00e4f8 17.5px,#13fce4 19.5px,#33ffc4 25.5px,#43ffb4 36.5px,#36ffc1 43.5px,#43ffb4 46.5px,#7aff7d 50.5px,#baff3c 54.5px,#ceff29 57.5px,#baff3c 60.5px,#50ffa7 67.5px,#39ffbe 70.5px,#3cffba 75.5px,#43ffb4 81.5px,#26ffd1 92.5px,#13fce4 95.5px,#00e4f8 97.5px,#00c4ff 101.5px,#00ccff 104.5px,#00e4f8 106.5px,#19ffde 108.5px,#53ffa4 114px)"></i><i style="background:linear-gradient(90deg,#5aff9d 0px,#33ffc4 4.5px,#16ffe1 6.5px,#06ecf1 7.5px,#00dcfe 8.5px,#00acff 11.5px,#0098ff 13.5px,#00a0ff 17.5px,#00dcfe 23.5px,#13fce4 26.5px,#46ffb1 34.5px,#46ffb1 38.5px,#2cffca 45.5px,#3cffba 49.5px,#7aff7d 55.5px,#7dff7a 58.5px,#60ff97 62.5px,#30ffc7 67.5px,#30ffc7 71.5px,#49ffad 78.5px,#39ffbe 83.5px,#13fce4 88.5px,#00e0fb 91.5px,#00a0ff 97.5px,#0098ff 101.5px,#00a8ff 103.5px,#00d8ff 106.5px,#06ecf1 107.5px,#16ffe1 108.5px,#49ffad 112.5px,#53ffa4 114px)"></i><i style="background:linear-gradient(90deg,#56ffa0 0px,#43ffb4 3.5px,#19ffde 6.5px,#00d8ff 8.5px,#008cff 12.5px,#0070ff 15.5px,#0070ff 17.5px,#00a0ff 22.5px,#00dcfe 26.5px,#13fce4 28.5px,#43ffb4 33.5px,#50ffa7 36.5px,#40ffb7 40.5px,#19ffde 46.5px,#19ffde 50.5px,#33ffc4 57.5px,#16ffe1 66.5px,#23ffd4 70.5px,#4dffaa 76.5px,#49ffad 80.5px,#1fffd7 85.5px,#13fce4 86.5px,#00dcfe 88.5px,#0088ff 94.5px,#0070ff 98.5px,#0078ff 100.5px,#009cff 103.5px,#00d8ff 106.5px,#06ecf1 107.5px,#16ffe1 108.5px,#40ffb7 111.5px,#53ffa4 114px)"></i><i style="background:linear-gradient(90deg,#56ffa0 0px,#46ffb1 3.5px,#0ff8e7 7.5px,#00e0fb 8.5px,#0078ff 13.5px,#0060ff 15.5px,#0058ff 17.5px,#0068ff 20.5px,#0090ff 23.5px,#00dcfe 27.5px,#06ecf1 28.5px,#16ffe1 29.5px,#4dffaa 34.5px,#50ffa7 38.5px,#33ffc4 42.5px,#13fce4 45.5px,#00e4f8 47.5px,#00d0ff 50.5px,#00d0ff 64.5px,#00e4f8 67.5px,#13fce4 69.5px,#4dffaa 75.5px,#50ffa7 79.5px,#3cffba 82.5px,#16ffe1 85.5px,#00dcfe 87.5px,#0074ff 93.5px,#005cff 96.5px,#005cff 98.5px,#006cff 100.5px,#009cff 103.5px,#00e0fb 106.5px,#1cffdb 108.5px,#4dffaa 112.5px,#53ffa4 114px)"></i><i style="background:linear-gradient(90deg,#5aff9d 0px,#40ffb7 4.5px,#19ffde 7.5px,#00d8ff 9.5px,#0074ff 14.5px,#005cff 16.5px,#0058ff 19.5px,#0068ff 21.5px,#00c0ff 26.5px,#00d4ff 27.5px,#02e8f4 28.5px,#13fce4 29.5px,#46ffb1 33.5px,#56ffa0 37.5px,#40ffb7 41.5px,#19ffde 44.5px,#00e4f8 46.5px,#00b8ff 49.5px,#0094ff 53.5px,#0088ff 58.5px,#00a0ff 63.5px,#00d4ff 67.5px,#00e4f8 68.5px,#19ffde 70.5px,#50ffa7 75.5px,#53ffa4 79.5px,#30ffc7 83.5px,#13fce4 85.5px,#00d4ff 87.5px,#0078ff 92.5px,#0058ff 95.5px,#005cff 98.5px,#0084ff 101.5px,#00d8ff 105.5px,#06ecf1 106.5px,#19ffde 107.5px,#49ffad 111.5px,#56ffa0 114px)"></i><i style="background:linear-gradient(90deg,#5dff9a 0px,#49ffad 4.5px,#19ffde 8.5px,#00dcfe 10.5px,#0080ff 15.5px,#0068ff 18.5px,#0074ff 21.5px,#009cff 24.5px,#00d8ff 27.5px,#06ecf1 28.5px,#16ffe1 29.5px,#50ffa7 34.5px,#56ffa0 38.5px,#36ffc1 42.5px,#1cffdb 44.5px,#00e0fb 46.5px,#0088ff 51.5px,#0060ff 55.5px,#0060ff 59.5px,#0084ff 63.5px,#00e0fb 68.5px,#19ffde 70.5px,#49ffad 74.5px,#56ffa0 77.5px,#50ffa7 80.5px,#26ffd1 84.5px,#16ffe1 85.5px,#06ecf1 86.5px,#00d8ff 87.5px,#0080ff 92.5px,#0068ff 95.5px,#0074ff 98.5px,#009cff 101.5px,#00dcfe 104.5px,#19ffde 106.5px,#49ffad 110.5px,#5aff9d 114px)"></i><i style="background:linear-gradient(90deg,#60ff97 0px,#53ffa4 4.5px,#23ffd4 9.5px,#13fce4 10.5px,#02e8f4 11.5px,#00d8ff 12.5px,#0098ff 16.5px,#0088ff 19.5px,#0098ff 22.5px,#00d0ff 26.5px,#00e4f8 27.5px,#1cffdb 29.5px,#50ffa7 34.5px,#56ffa0 38.5px,#39ffbe 42.5px,#0ff8e7 45.5px,#00e4f8 46.5px,#00a4ff 49.5px,#0054ff 54.5px,#0048ff 57.5px,#0054ff 60.5px,#007cff 63.5px,#00e0fb 68.5px,#1cffdb 70.5px,#4dffaa 74.5px,#5aff9d 77.5px,#49ffad 81.5px,#1cffdb 85.5px,#0ff8e7 86.5px,#00e4f8 87.5px,#00b4ff 90.5px,#0090ff 93.5px,#0088ff 95.5px,#0098ff 98.5px,#00d4ff 102.5px,#02e8f4 103.5px,#13fce4 104.5px,#4dffaa 109.5px,#60ff97 114px)"></i><i style="background:linear-gradient(90deg,#6aff8d 0px,#56ffa0 6.5px,#30ffc7 10.5px,#16ffe1 12.5px,#00e4f8 14.5px,#00c0ff 17.5px,#00b4ff 20.5px,#00c4ff 23.5px,#00dcfe 25.5px,#02e8f4 26.5px,#19ffde 28.5px,#49ffad 33.5px,#5aff9d 37.5px,#46ffb1 41.5px,#16ffe1 45.5px,#06ecf1 46.5px,#00d8ff 47.5px,#0088ff 51.5px,#005cff 54.5px,#004cff 56.5px,#004cff 58.5px,#0074ff 62.5px,#00d8ff 67.5px,#06ecf1 68.5px,#16ffe1 69.5px,#46ffb1 73.5px,#5aff9d 77.5px,#4dffaa 81.5px,#1cffdb 86.5px,#02e8f4 88.5px,#00d0ff 90.5px,#00b8ff 93.5px,#00b8ff 96.5px,#00d4ff 99.5px,#09f0ee 101.5px,#16ffe1 102.5px,#4dffaa 107.5px,#66ff90 112.5px,#66ff90 114px)"></i><i style="background:linear-gradient(90deg,#70ff87 0px,#63ff94 7.5px,#16ffe1 16.5px,#02e8f4 20.5px,#02e8f4 22.5px,#19ffde 26.5px,#49ffad 32.5px,#5aff9d 37.5px,#49ffad 41.5px,#1fffd7 45.5px,#13fce4 46.5px,#00d8ff 48.5px,#0080ff 53.5px,#0068ff 56.5px,#0068ff 58.5px,#0080ff 61.5px,#00b0ff 64.5px,#00d4ff 66.5px,#02e8f4 67.5px,#13fce4 68.5px,#43ffb4 72.5px,#5aff9d 77.5px,#49ffad 82.5px,#13fce4 89.5px,#02e8f4 94.5px,#16ffe1 98.5px,#5dff9a 106.5px,#70ff87 112.5px,#70ff87 114px)"></i><i style="background:linear-gradient(90deg,#7aff7d 0px,#73ff83 8.5px,#30ffc7 19.5px,#2cffca 23.5px,#46ffb1 30.5px,#5aff9d 36.5px,#50ffa7 41.5px,#30ffc7 45.5px,#19ffde 47.5px,#00e4f8 49.5px,#00b4ff 52.5px,#0090ff 56.5px,#0090ff 58.5px,#00a8ff 61.5px,#00e0fb 65.5px,#16ffe1 67.5px,#43ffb4 71.5px,#5aff9d 76.5px,#50ffa7 82.5px,#2cffca 90.5px,#2cffca 94.5px,#4dffaa 100.5px,#6dff8a 105.5px,#7aff7d 111.5px,#7aff7d 114px)"></i><i style="background:linear-gradient(90deg,#83ff73 0px,#83ff73 9.5px,#50ffa7 22.5px,#50ffa7 28.5px,#5dff9a 37.5px,#53ffa4 42.5px,#1cffdb 49.5px,#00e4f8 52.5px,#00ccff 55.5px,#00c4ff 57.5px,#00d8ff 61.5px,#06ecf1 63.5px,#19ffde 65.5px,#4dffaa 71.5px,#5dff9a 76.5px,#53ffa4 85.5px,#4dffaa 91.5px,#60ff97 97.5px,#83ff73 105.5px,#83ff73 114px)"></i><i style="background:linear-gradient(90deg,#8aff6d 0px,#94ff63 12.5px,#66ff90 26.5px,#5dff9a 42.5px,#40ffb7 48.5px,#19ffde 55.5px,#19ffde 59.5px,#46ffb1 67.5px,#60ff97 73.5px,#6aff8d 90.5px,#94ff63 103.5px,#8aff6d 114px)"></i></div>
<svg style="left:31px;top:10px" width="114" height="143"><path d="M-62.52,118.19 L-52.52,108.07 L-45.33,108.07 L-35.33,118.19 L-27.04,118.19 L-17.03,108.07 L-9.84,108.07 L0.16,118.19 L8.45,118.19 L18.46,108.07 L25.65,108.07 L35.65,118.19 L43.94,118.19 L53.94,108.07 L61.14,108.07 L71.14,118.19 L79.43,118.19 L89.43,108.07 L96.62,108.07 L106.63,118.19 L114.92,118.19 L124.92,108.07 L132.11,108.07 L142.12,118.19 L150.41,118.19 L160.41,108.07 L167.60,108.07 L177.60,118.19" fill="none" stroke="#b8692a" stroke-width="0.9" stroke-opacity="0.9"/><circle cx="57.54" cy="25.89" r="0.55" fill="#8e44a8" fill-opacity="0.8"/></svg>
<div class="frm" style="left:31px;top:10px;width:112px;height:141px"></div>
<div class="ann" style="left:72.4999px;top:26.0102px">Source/Receiver</div>
<div class="ann" style="left:33.3px;top:109.548px">Soil surface</div>
<div class="ttl" style="left:88px;top:1.4px">Centre frequency = 150 MHz</div>
<div class="yt" style="left:-9.5px;top:21.91px">2.0</div>
<b class="tk" style="left:29px;top:24.81px;width:2px;height:0.8px"></b>
<div class="yt" style="left:-9.5px;top:45.125px">1.5</div>
<b class="tk" style="left:29px;top:48.025px;width:2px;height:0.8px"></b>
<div class="yt" style="left:-9.5px;top:68.34px">1.0</div>
<b class="tk" style="left:29px;top:71.24px;width:2px;height:0.8px"></b>
<div class="yt" style="left:-9.5px;top:91.555px">0.5</div>
<b class="tk" style="left:29px;top:94.455px;width:2px;height:0.8px"></b>
<div class="yt" style="left:-9.5px;top:114.77px">0.0</div>
<b class="tk" style="left:29px;top:117.67px;width:2px;height:0.8px"></b>
<div class="yt" style="left:-9.5px;top:137.985px">−0.5</div>
<b class="tk" style="left:29px;top:140.885px;width:2px;height:0.8px"></b>
<div class="xt" style="left:22.45px;top:155.1px">−1.0</div>
<b class="tk" style="left:42.05px;top:153px;width:0.8px;height:1.8px"></b>
<div class="xt" style="left:45.495px;top:155.1px">−0.5</div>
<b class="tk" style="left:65.095px;top:153px;width:0.8px;height:1.8px"></b>
<div class="xt" style="left:68.54px;top:155.1px">0.0</div>
<b class="tk" style="left:88.14px;top:153px;width:0.8px;height:1.8px"></b>
<div class="xt" style="left:91.585px;top:155.1px">0.5</div>
<b class="tk" style="left:111.185px;top:153px;width:0.8px;height:1.8px"></b>
<div class="xt" style="left:114.63px;top:155.1px">1.0</div>
<b class="tk" style="left:134.23px;top:153px;width:0.8px;height:1.8px"></b>
<div class="yl" style="left:-2.8px;top:76.4px"><i>y</i> (m)</div>
<div class="xl" style="left:68.54px;top:164.5px"><i>x</i> (m)</div>
<div class="cap" style="left:72px;top:181px">(a)</div>
<div class="cb" style="left:154px;top:10px;height:141px;background-image:linear-gradient(180deg,#800000 0.00%,#9f0000 3.12%,#c40000 6.25%,#e80000 9.38%,#ff1e00 12.50%,#ff3b00 15.62%,#ff5900 18.75%,#ff7700 21.88%,#ff9400 25.00%,#ffb200 28.12%,#ffd000 31.25%,#feed00 34.38%,#e4ff13 37.50%,#caff2c 40.62%,#b1ff46 43.75%,#97ff60 46.88%,#7dff7a 50.00%,#63ff94 53.12%,#49ffad 56.25%,#30ffc7 59.38%,#16ffe1 62.50%,#00e0fb 65.62%,#00c0ff 68.75%,#00a0ff 71.88%,#0080ff 75.00%,#0060ff 78.12%,#0040ff 81.25%,#0020ff 84.38%,#0000ff 87.50%,#0000ed 90.62%,#0000c8 93.75%,#0000a4 96.88%,#000080 100.00%)"></div>
<b class="tk" style="left:162px;top:21.9333px;width:2px;height:0.8px"></b>
<div class="ct" style="left:165.5px;top:18.2333px">100</div>
<b class="tk" style="left:162px;top:51.5167px;width:2px;height:0.8px"></b>
<div class="ct" style="left:165.5px;top:47.8167px">50</div>
<b class="tk" style="left:162px;top:81.1px;width:2px;height:0.8px"></b>
<div class="ct" style="left:165.5px;top:77.4px">0</div>
<b class="tk" style="left:162px;top:110.683px;width:2px;height:0.8px"></b>
<div class="ct" style="left:165.5px;top:106.983px">−50</div>
<b class="tk" style="left:162px;top:140.267px;width:2px;height:0.8px"></b>
<div class="ct" style="left:165.5px;top:136.567px">−100</div>
<div class="fld" style="left:215px;top:10px;width:114px;height:143px"><i style="background:linear-gradient(90deg,#60ff97 0px,#50ffa7 28.5px,#53ffa4 100.5px,#5dff9a 114px)"></i><i style="background:linear-gradient(90deg,#5dff9a 0px,#50ffa7 27.5px,#53ffa4 104.5px,#5dff9a 114px)"></i><i style="background:linear-gradient(90deg,#5aff9d 0px,#50ffa7 24.5px,#53ffa4 108.5px,#5aff9d 114px)"></i><i style="background:linear-gradient(90deg,#56ffa0 0px,#50ffa7 30.5px,#53ffa4 111.5px,#56ffa0 114px)"></i><i style="background:linear-gradient(90deg,#53ffa4 0px,#53ffa4 34.5px,#53ffa4 88.5px,#53ffa4 114px)"></i><i style="background:linear-gradient(90deg,#53ffa4 0px,#53ffa4 26.5px,#5aff9d 61.5px,#53ffa4 93.5px,#50ffa7 114px)"></i><i style="background:linear-gradient(90deg,#50ffa7 0px,#56ffa0 25.5px,#5dff9a 48.5px,#5dff9a 83.5px,#50ffa7 109.5px,#50ffa7 114px)"></i><i style="background:linear-gradient(90deg,#50ffa7 0px,#56ffa0 19.5px,#63ff94 40.5px,#60ff97 87.5px,#50ffa7 108.5px,#50ffa7 114px)"></i><i style="background:linear-gradient(90deg,#4dffaa 0px,#5dff9a 20.5px,#6aff8d 37.5px,#66ff90 87.5px,#4dffaa 114px)"></i><i style="background:linear-gradient(90deg,#4dffaa 0px,#73ff83 36.5px,#70ff87 85.5px,#50ffa7 111.5px,#4dffaa 114px)"></i><i style="background:linear-gradient(90deg,#50ffa7 0px,#66ff90 17.5px,#7dff7a 37.5px,#7aff7d 84.5px,#50ffa7 114px)"></i><i style="background:linear-gradient(90deg,#50ffa7 0px,#83ff73 30.5px,#83ff73 85.5px,#50ffa7 114px)"></i><i style="background:linear-gradient(90deg,#53ffa4 0px,#8dff6a 28.5px,#8dff6a 86.5px,#53ffa4 114px)"></i><i style="background:linear-gradient(90deg,#56ffa0 0px,#97ff60 27.5px,#9dff5a 43.5px,#9aff5d 67.5px,#9aff5d 85.5px,#77ff80 101.5px,#5aff9d 114px)"></i><i style="background:linear-gradient(90deg,#5dff9a 0px,#a0ff56 25.5px,#aaff4d 40.5px,#a4ff53 64.5px,#a7ff50 85.5px,#87ff70 99.5px,#5dff9a 114px)"></i><i style="background:linear-gradient(90deg,#60ff97 0px,#aaff4d 23.5px,#b4ff43 37.5px,#b1ff46 87.5px,#87ff70 103.5px,#63ff94 114px)"></i><i style="background:linear-gradient(90deg,#6aff8d 0px,#b4ff43 22.5px,#c1ff36 36.5px,#beff39 86.5px,#9dff5a 100.5px,#6dff8a 114px)"></i><i style="background:linear-gradient(90deg,#70ff87 0px,#baff3c 20.5px,#caff2c 32.5px,#caff2c 85.5px,#adff49 98.5px,#73ff83 114px)"></i><i style="background:linear-gradient(90deg,#7aff7d 0px,#beff39 17.5px,#d4ff23 29.5px,#d4ff23 86.5px,#b7ff40 99.5px,#7dff7a 114px)"></i><i style="background:linear-gradient(90deg,#83ff73 0px,#ceff29 18.5px,#e1ff16 35.5px,#e4ff13 71.5px,#d7ff1f 91.5px,#b7ff40 102.5px,#87ff70 114px)"></i><i style="background:linear-gradient(90deg,#8dff6a 0px,#caff2c 14.5px,#e4ff13 26.5px,#f4f802 60.5px,#deff19 92.5px,#beff39 104.5px,#94ff63 114px)"></i><i style="background:linear-gradient(90deg,#9aff5d 0px,#d1ff26 13.5px,#e7ff0f 24.5px,#f4f802 42.5px,#ffea00 58.5px,#f1fc06 78.5px,#deff19 97.5px,#aaff4d 111.5px,#a0ff56 114px)"></i><i style="background:linear-gradient(90deg,#a7ff50 0px,#dbff1c 12.5px,#eeff09 26.5px,#f8f500 39.5px,#ffde00 57.5px,#f8f500 76.5px,#ebff0c 93.5px,#d4ff23 104.5px,#aaff4d 114px)"></i><i style="background:linear-gradient(90deg,#b4ff43 0px,#deff19 11.5px,#eeff09 21.5px,#f8f500 37.5px,#ffdb00 49.5px,#ffd300 61.5px,#fbf100 76.5px,#eeff09 92.5px,#e1ff16 102.5px,#beff39 112.5px,#b7ff40 114px)"></i><i style="background:linear-gradient(90deg,#c1ff36 0px,#e7ff0f 11.5px,#f4f802 34.5px,#ffdb00 45.5px,#ffc800 57.5px,#ffd700 67.5px,#f8f500 79.5px,#eeff09 91.5px,#e7ff0f 103.5px,#c4ff33 114px)"></i><i style="background:linear-gradient(90deg,#ceff29 0px,#ebff0c 9.5px,#f1fc06 19.5px,#f1fc06 33.5px,#ffde00 43.5px,#ffc100 55.5px,#ffcc00 65.5px,#fbf100 76.5px,#eeff09 86.5px,#eeff09 103.5px,#d7ff1f 111.5px,#d1ff26 114px)"></i><i style="background:linear-gradient(90deg,#d7ff1f 0px,#f1fc06 8.5px,#ebff0c 23.5px,#ebff0c 32.5px,#feed00 40.5px,#ffc100 52.5px,#ffc100 62.5px,#fbf100 75.5px,#ebff0c 82.5px,#ebff0c 93.5px,#f1fc06 106.5px,#deff19 114px)"></i><i style="background:linear-gradient(90deg,#e4ff13 0px,#f4f802 8.5px,#ebff0c 19.5px,#e1ff16 29.5px,#f1fc06 37.5px,#ffde00 44.5px,#ffbd00 53.5px,#ffbd00 61.5px,#ffe600 72.5px,#eeff09 78.5px,#e1ff16 86.5px,#f1fc06 100.5px,#f1fc06 110.5px,#e7ff0f 114px)"></i><i style="background:linear-gradient(90deg,#f1fc06 0px,#fbf100 8.5px,#ebff0c 16.5px,#d7ff1f 26.5px,#deff19 34.5px,#f4f802 40.5px,#ffe200 44.5px,#ffc100 53.5px,#ffc100 61.5px,#ffe200 70.5px,#eeff09 76.5px,#d7ff1f 84.5px,#deff19 93.5px,#f4f802 102.5px,#fbf100 109.5px,#f1fc06 114px)"></i><i style="background:linear-gradient(90deg,#fbf100 0px,#fbf100 9.5px,#eeff09 14.5px,#ceff29 24.5px,#ceff29 31.5px,#e7ff0f 39.5px,#fbf100 43.5px,#ffc800 52.5px,#ffc800 62.5px,#fbf100 71.5px,#e7ff0f 75.5px,#ceff29 83.5px,#ceff29 90.5px,#f1fc06 101.5px,#feed00 108.5px,#fbf100 114px)"></i><i style="background:linear-gradient(90deg,#ffe600 0px,#feed00 8.5px,#ebff0c 13.5px,#c1ff36 24.5px,#c1ff36 31.5px,#e1ff16 40.5px,#f4f802 44.5px,#ffe200 48.5px,#ffcc00 57.5px,#ffe200 66.5px,#f1fc06 71.5px,#c7ff30 81.5px,#beff39 88.5px,#e1ff16 99.5px,#f4f802 103.5px,#ffe600 109.5px,#ffe600 114px)"></i><i style="background:linear-gradient(90deg,#ffde00 0px,#ffea00 7.5px,#ebff0c 12.5px,#baff3c 22.5px,#b1ff46 28.5px,#beff39 35.5px,#f1fc06 46.5px,#ffe600 51.5px,#ffdb00 58.5px,#f8f500 67.5px,#ebff0c 70.5px,#b7ff40 81.5px,#b1ff46 89.5px,#d4ff23 98.5px,#eeff09 103.5px,#ffea00 107.5px,#ffde00 114px)"></i><i style="background:linear-gradient(90deg,#ffd700 0px,#ffe600 6.5px,#eeff09 10.5px,#b1ff46 21.5px,#a0ff56 29.5px,#c1ff36 39.5px,#f1fc06 50.5px,#feed00 57.5px,#f1fc06 64.5px,#a4ff53 83.5px,#a4ff53 89.5px,#c4ff33 97.5px,#eeff09 104.5px,#ffe600 108.5px,#ffd700 114px)"></i><i style="background:linear-gradient(90deg,#ffd000 0px,#ffea00 6.5px,#eeff09 9.5px,#a0ff56 21.5px,#94ff63 29.5px,#a0ff56 35.5px,#dbff1c 49.5px,#e7ff0f 57.5px,#dbff1c 65.5px,#97ff60 82.5px,#97ff60 90.5px,#beff39 98.5px,#eeff09 105.5px,#ffe200 109.5px,#ffd300 114px)"></i><i style="background:linear-gradient(90deg,#ffcc00 0px,#feed00 6.5px,#eeff09 8.5px,#9dff5a 19.5px,#83ff73 27.5px,#94ff63 35.5px,#ceff29 52.5px,#ceff29 62.5px,#a7ff50 74.5px,#83ff73 85.5px,#94ff63 93.5px,#c7ff30 101.5px,#eeff09 106.5px,#feed00 108.5px,#ffd000 114px)"></i><i style="background:linear-gradient(90deg,#ffcc00 0px,#feed00 5.5px,#eeff09 7.5px,#8aff6d 20.5px,#77ff80 27.5px,#83ff73 35.5px,#b4ff43 52.5px,#b4ff43 62.5px,#77ff80 85.5px,#7dff7a 91.5px,#a4ff53 98.5px,#eeff09 107.5px,#feed00 109.5px,#ffd000 114px)"></i><i style="background:linear-gradient(90deg,#ffd000 0px,#f8f500 5.5px,#eeff09 6.5px,#8aff6d 18.5px,#6dff8a 25.5px,#6dff8a 32.5px,#97ff60 51.5px,#94ff63 65.5px,#6aff8d 85.5px,#7aff7d 93.5px,#a7ff50 100.5px,#eeff09 108.5px,#feed00 110.5px,#ffd300 114px)"></i><i style="background:linear-gradient(90deg,#ffd300 0px,#ffea00 3.5px,#eeff09 5.5px,#7dff7a 18.5px,#63ff94 24.5px,#63ff94 34.5px,#77ff80 51.5px,#73ff83 70.5px,#60ff97 86.5px,#6dff8a 93.5px,#94ff63 99.5px,#eeff09 109.5px,#ffea00 111.5px,#ffdb00 114px)"></i><i style="background:linear-gradient(90deg,#ffdb00 0px,#f8f500 3.5px,#eeff09 4.5px,#80ff77 16.5px,#5aff9d 24.5px,#5aff9d 90.5px,#80ff77 98.5px,#eeff09 110.5px,#feed00 112.5px,#ffe200 114px)"></i><i style="background:linear-gradient(90deg,#ffe600 0px,#f4f802 2.5px,#ceff29 6.5px,#83ff73 14.5px,#60ff97 20.5px,#50ffa7 28.5px,#43ffb4 44.5px,#33ffc4 58.5px,#4dffaa 81.5px,#5aff9d 92.5px,#73ff83 98.5px,#ebff0c 111.5px,#fbf100 114px)"></i><i style="background:linear-gradient(90deg,#f8f500 0px,#eeff09 1.5px,#77ff80 14.5px,#53ffa4 22.5px,#3cffba 38.5px,#13fce4 54.5px,#13fce4 61.5px,#46ffb1 80.5px,#56ffa0 93.5px,#77ff80 100.5px,#c7ff30 109.5px,#eeff09 114px)"></i><i style="background:linear-gradient(90deg,#e7ff0f 0px,#7aff7d 12.5px,#5aff9d 18.5px,#36ffc1 37.5px,#16ffe1 44.5px,#00e0fb 50.5px,#00d0ff 55.5px,#00d4ff 61.5px,#02e8f4 66.5px,#19ffde 71.5px,#3cffba 79.5px,#5aff9d 96.5px,#80ff77 103.5px,#e1ff16 114px)"></i><i style="background:linear-gradient(90deg,#d7ff1f 0px,#73ff83 11.5px,#50ffa7 19.5px,#40ffb7 32.5px,#16ffe1 41.5px,#00e0fb 45.5px,#00bcff 50.5px,#00a8ff 55.5px,#00b0ff 62.5px,#00e0fb 69.5px,#16ffe1 73.5px,#40ffb7 82.5px,#5aff9d 98.5px,#7aff7d 104.5px,#ceff29 114px)"></i><i style="background:linear-gradient(90deg,#c4ff33 0px,#7aff7d 8.5px,#56ffa0 14.5px,#4dffaa 26.5px,#3cffba 33.5px,#16ffe1 39.5px,#00e4f8 42.5px,#00c4ff 45.5px,#0090ff 52.5px,#0084ff 57.5px,#0090ff 62.5px,#00d8ff 71.5px,#06ecf1 73.5px,#16ffe1 75.5px,#3cffba 81.5px,#4dffaa 89.5px,#56ffa0 100.5px,#80ff77 107.5px,#baff3c 114px)"></i><i style="background:linear-gradient(90deg,#adff49 0px,#66ff90 8.5px,#50ffa7 14.5px,#50ffa7 28.5px,#36ffc1 34.5px,#19ffde 38.5px,#00e0fb 41.5px,#0088ff 49.5px,#0068ff 54.5px,#0064ff 58.5px,#0078ff 63.5px,#00b0ff 69.5px,#00e0fb 73.5px,#19ffde 76.5px,#46ffb1 83.5px,#53ffa4 89.5px,#50ffa7 100.5px,#66ff90 106.5px,#a4ff53 114px)"></i><i style="background:linear-gradient(90deg,#94ff63 0px,#5aff9d 7.5px,#46ffb1 13.5px,#56ffa0 27.5px,#40ffb7 33.5px,#16ffe1 38.5px,#00e4f8 40.5px,#00bcff 43.5px,#0068ff 50.5px,#0048ff 55.5px,#004cff 60.5px,#007cff 66.5px,#00d8ff 73.5px,#09f0ee 75.5px,#16ffe1 76.5px,#46ffb1 82.5px,#56ffa0 87.5px,#4dffaa 96.5px,#49ffad 102.5px,#60ff97 108.5px,#8aff6d 114px)"></i><i style="background:linear-gradient(90deg,#7aff7d 0px,#50ffa7 5.5px,#3cffba 11.5px,#46ffb1 17.5px,#60ff97 25.5px,#50ffa7 31.5px,#1fffd7 37.5px,#09f0ee 39.5px,#00d0ff 41.5px,#006cff 48.5px,#003cff 53.5px,#0030ff 57.5px,#0044ff 62.5px,#0078ff 67.5px,#00e0fb 74.5px,#13fce4 76.5px,#4dffaa 82.5px,#60ff97 88.5px,#4dffaa 96.5px,#3cffba 102.5px,#46ffb1 107.5px,#70ff87 114px)"></i><i style="background:linear-gradient(90deg,#5dff9a 0px,#36ffc1 6.5px,#30ffc7 11.5px,#63ff94 24.5px,#63ff94 29.5px,#49ffad 33.5px,#16ffe1 38.5px,#00dcfe 40.5px,#0060ff 48.5px,#0030ff 53.5px,#0024ff 58.5px,#0040ff 63.5px,#007cff 68.5px,#00dcfe 74.5px,#16ffe1 76.5px,#5aff9d 83.5px,#66ff90 87.5px,#60ff97 92.5px,#30ffc7 103.5px,#39ffbe 109.5px,#56ffa0 114px)"></i><i style="background:linear-gradient(90deg,#40ffb7 0px,#1fffd7 6.5px,#29ffce 12.5px,#6dff8a 24.5px,#6dff8a 28.5px,#5aff9d 32.5px,#19ffde 38.5px,#00e0fb 40.5px,#0078ff 46.5px,#0030ff 52.5px,#001cff 57.5px,#0030ff 62.5px,#0078ff 68.5px,#00e0fb 74.5px,#19ffde 76.5px,#5aff9d 82.5px,#70ff87 87.5px,#66ff90 92.5px,#29ffce 102.5px,#1fffd7 108.5px,#39ffbe 114px)"></i><i style="background:linear-gradient(90deg,#26ffd1 0px,#0cf4eb 5.5px,#19ffde 11.5px,#6dff8a 22.5px,#7aff7d 27.5px,#63ff94 32.5px,#29ffce 37.5px,#0ff8e7 39.5px,#00e4f8 40.5px,#00b0ff 43.5px,#0050ff 49.5px,#0028ff 53.5px,#001cff 58.5px,#0030ff 62.5px,#006cff 67.5px,#00d4ff 73.5px,#00e4f8 74.5px,#0ff8e7 75.5px,#43ffb4 79.5px,#6aff8d 83.5px,#7aff7d 88.5px,#60ff97 94.5px,#19ffde 103.5px,#0cf4eb 109.5px,#1fffd7 114px)"></i><i style="background:linear-gradient(90deg,#09f0ee 0px,#00dcfe 4.5px,#02e8f4 9.5px,#19ffde 12.5px,#73ff83 22.5px,#80ff77 26.5px,#7aff7d 30.5px,#40ffb7 36.5px,#16ffe1 39.5px,#06ecf1 40.5px,#00dcfe 41.5px,#0064ff 48.5px,#0030ff 53.5px,#0024ff 58.5px,#0040ff 63.5px,#0084ff 68.5px,#00dcfe 73.5px,#06ecf1 74.5px,#16ffe1 75.5px,#56ffa0 80.5px,#7aff7d 84.5px,#80ff77 89.5px,#63ff94 94.5px,#19ffde 102.5px,#00e4f8 106.5px,#00dcfe 110.5px,#02e8f4 114px)"></i><i style="background:linear-gradient(90deg,#00d0ff 0px,#00c4ff 3.5px,#00d0ff 8.5px,#00e4f8 10.5px,#13fce4 12.5px,#77ff80 22.5px,#8aff6d 26.5px,#7aff7d 31.5px,#53ffa4 35.5px,#1fffd7 39.5px,#02e8f4 41.5px,#00d4ff 42.5px,#0064ff 49.5px,#0034ff 55.5px,#0034ff 59.5px,#0064ff 65.5px,#00d4ff 72.5px,#02e8f4 73.5px,#1fffd7 75.5px,#73ff83 82.5px,#8aff6d 87.5px,#7dff7a 91.5px,#49ffad 97.5px,#13fce4 102.5px,#00e4f8 104.5px,#00ccff 107.5px,#00c4ff 112.5px,#00c8ff 114px)"></i><i style="background:linear-gradient(90deg,#00b0ff 0px,#00a8ff 3.5px,#00b8ff 7.5px,#00d8ff 10.5px,#00e4f8 11.5px,#19ffde 13.5px,#73ff83 21.5px,#8dff6a 25.5px,#8dff6a 29.5px,#5dff9a 35.5px,#19ffde 40.5px,#00e4f8 42.5px,#00b0ff 45.5px,#006cff 50.5px,#004cff 55.5px,#004cff 59.5px,#006cff 64.5px,#00c0ff 70.5px,#00e4f8 72.5px,#19ffde 74.5px,#66ff90 80.5px,#8dff6a 85.5px,#8dff6a 89.5px,#6dff8a 94.5px,#19ffde 101.5px,#00e4f8 103.5px,#00c4ff 106.5px,#00acff 109.5px,#00acff 114px)"></i><i style="background:linear-gradient(90deg,#0094ff 0px,#0094ff 4.5px,#00b4ff 8.5px,#00e0fb 11.5px,#16ffe1 13.5px,#7aff7d 21.5px,#94ff63 26.5px,#8dff6a 30.5px,#70ff87 34.5px,#19ffde 41.5px,#00e4f8 43.5px,#00b8ff 46.5px,#007cff 51.5px,#0064ff 57.5px,#007cff 63.5px,#00c4ff 69.5px,#00e4f8 71.5px,#19ffde 73.5px,#7aff7d 81.5px,#94ff63 86.5px,#8dff6a 90.5px,#70ff87 94.5px,#16ffe1 101.5px,#00e0fb 103.5px,#00acff 107.5px,#0094ff 110.5px,#0090ff 114px)"></i><i style="background:linear-gradient(90deg,#007cff 0px,#0084ff 4.5px,#00acff 8.5px,#00dcfe 11.5px,#13fce4 13.5px,#66ff90 19.5px,#90ff66 24.5px,#97ff60 29.5px,#6dff8a 35.5px,#1cffdb 42.5px,#02e8f4 44.5px,#00d0ff 46.5px,#009cff 51.5px,#0084ff 57.5px,#009cff 63.5px,#00d0ff 68.5px,#02e8f4 70.5px,#1cffdb 72.5px,#77ff80 80.5px,#97ff60 85.5px,#90ff66 90.5px,#66ff90 95.5px,#13fce4 101.5px,#00dcfe 103.5px,#00acff 106.5px,#0084ff 110.5px,#007cff 114px)"></i><i style="background:linear-gradient(90deg,#0068ff 0px,#0078ff 4.5px,#00b4ff 9.5px,#00d8ff 11.5px,#02e8f4 12.5px,#13fce4 13.5px,#73ff83 20.5px,#97ff60 25.5px,#97ff60 29.5px,#83ff73 33.5px,#16ffe1 44.5px,#00e0fb 47.5px,#00b8ff 52.5px,#00a8ff 57.5px,#00c4ff 64.5px,#00e0fb 67.5px,#16ffe1 70.5px,#83ff73 81.5px,#9aff5d 86.5px,#90ff66 90.5px,#73ff83 94.5px,#13fce4 101.5px,#02e8f4 102.5px,#00d8ff 103.5px,#0098ff 107.5px,#0070ff 111.5px,#0068ff 114px)"></i><i style="background:linear-gradient(90deg,#0058ff 0px,#0078ff 5.5px,#00d8ff 11.5px,#13fce4 13.5px,#5dff9a 18.5px,#8dff6a 23.5px,#9aff5d 28.5px,#80ff77 34.5px,#16ffe1 47.5px,#00e4f8 51.5px,#00d0ff 56.5px,#00dcfe 62.5px,#09f0ee 65.5px,#1cffdb 68.5px,#8dff6a 82.5px,#9aff5d 87.5px,#8dff6a 91.5px,#50ffa7 97.5px,#13fce4 101.5px,#00d8ff 103.5px,#0078ff 109.5px,#005cff 114px)"></i><i style="background:linear-gradient(90deg,#0050ff 0px,#0060ff 3.5px,#00a4ff 8.5px,#00dcfe 11.5px,#06ecf1 12.5px,#16ffe1 13.5px,#6aff8d 19.5px,#8aff6d 23.5px,#97ff60 28.5px,#87ff70 33.5px,#29ffce 48.5px,#13fce4 55.5px,#1cffdb 63.5px,#53ffa4 73.5px,#8dff6a 82.5px,#97ff60 87.5px,#83ff73 92.5px,#5dff9a 96.5px,#16ffe1 101.5px,#06ecf1 102.5px,#00dcfe 103.5px,#0084ff 108.5px,#0058ff 112.5px,#0054ff 114px)"></i><i style="background:linear-gradient(90deg,#004cff 0px,#006cff 4.5px,#00ccff 10.5px,#00e0fb 11.5px,#19ffde 13.5px,#5dff9a 18.5px,#87ff70 23.5px,#90ff66 29.5px,#77ff80 37.5px,#40ffb7 50.5px,#36ffc1 58.5px,#46ffb1 66.5px,#90ff66 84.5px,#8aff6d 90.5px,#70ff87 94.5px,#46ffb1 98.5px,#19ffde 101.5px,#00e0fb 103.5px,#0078ff 109.5px,#0050ff 114px)"></i><i style="background:linear-gradient(90deg,#004cff 0px,#0080ff 5.5px,#00d4ff 10.5px,#02e8f4 11.5px,#13fce4 12.5px,#5dff9a 18.5px,#7dff7a 22.5px,#8aff6d 28.5px,#7aff7d 37.5px,#56ffa0 55.5px,#63ff94 67.5px,#8aff6d 85.5px,#80ff77 91.5px,#66ff90 95.5px,#2cffca 100.5px,#13fce4 102.5px,#02e8f4 103.5px,#00d4ff 104.5px,#0074ff 110.5px,#0054ff 114px)"></i><i style="background:linear-gradient(90deg,#0054ff 0px,#007cff 4.5px,#00e0fb 10.5px,#19ffde 12.5px,#5dff9a 18.5px,#77ff80 22.5px,#83ff73 30.5px,#7aff7d 66.5px,#80ff77 89.5px,#66ff90 95.5px,#33ffc4 100.5px,#19ffde 102.5px,#00e0fb 104.5px,#0070ff 111.5px,#005cff 114px)"></i><i style="background:linear-gradient(90deg,#0060ff 0px,#009cff 5.5px,#00e0fb 9.5px,#16ffe1 11.5px,#50ffa7 16.5px,#73ff83 22.5px,#83ff73 39.5px,#97ff60 52.5px,#94ff63 67.5px,#7aff7d 83.5px,#70ff87 93.5px,#46ffb1 99.5px,#16ffe1 103.5px,#00e0fb 105.5px,#0080ff 111.5px,#0068ff 114px)"></i><i style="background:linear-gradient(90deg,#0070ff 0px,#00a0ff 4.5px,#00e0fb 8.5px,#16ffe1 10.5px,#53ffa4 16.5px,#6dff8a 22.5px,#77ff80 34.5px,#b4ff43 52.5px,#b4ff43 62.5px,#8dff6a 74.5px,#70ff87 83.5px,#66ff90 94.5px,#53ffa4 98.5px,#16ffe1 104.5px,#00e0fb 106.5px,#0084ff 112.5px,#007cff 114px)"></i><i style="background:linear-gradient(90deg,#0088ff 0px,#00b8ff 4.5px,#00e4f8 7.5px,#19ffde 9.5px,#53ffa4 15.5px,#66ff90 21.5px,#66ff90 31.5px,#8aff6d 39.5px,#baff3c 47.5px,#d1ff26 55.5px,#caff2c 63.5px,#a4ff53 71.5px,#6dff8a 81.5px,#63ff94 89.5px,#63ff94 95.5px,#49ffad 100.5px,#19ffde 105.5px,#00e4f8 107.5px,#00b8ff 110.5px,#0090ff 114px)"></i><i style="background:linear-gradient(90deg,#00a0ff 0px,#00e0fb 5.5px,#13fce4 7.5px,#46ffb1 12.5px,#60ff97 17.5px,#5dff9a 24.5px,#5dff9a 31.5px,#83ff73 38.5px,#d1ff26 48.5px,#e7ff0f 55.5px,#e1ff16 62.5px,#beff39 69.5px,#6aff8d 80.5px,#5aff9d 85.5px,#60ff97 97.5px,#40ffb7 103.5px,#13fce4 107.5px,#00e0fb 109.5px,#00acff 114px)"></i><i style="background:linear-gradient(90deg,#00bcff 0px,#00e0fb 3.5px,#13fce4 5.5px,#4dffaa 11.5px,#63ff94 16.5px,#53ffa4 24.5px,#50ffa7 30.5px,#66ff90 35.5px,#d7ff1f 47.5px,#f4f802 52.5px,#feed00 58.5px,#f1fc06 63.5px,#beff39 70.5px,#60ff97 80.5px,#4dffaa 86.5px,#63ff94 98.5px,#46ffb1 104.5px,#13fce4 109.5px,#00e0fb 111.5px,#00c8ff 114px)"></i><i style="background:linear-gradient(90deg,#00d8ff 0px,#00e4f8 1.5px,#16ffe1 3.5px,#50ffa7 9.5px,#6aff8d 14.5px,#5aff9d 21.5px,#43ffb4 28.5px,#4dffaa 32.5px,#73ff83 37.5px,#d7ff1f 46.5px,#f1fc06 49.5px,#ffea00 52.5px,#ffdb00 56.5px,#ffe200 61.5px,#f8f500 64.5px,#e1ff16 67.5px,#80ff77 76.5px,#5aff9d 80.5px,#43ffb4 84.5px,#4dffaa 90.5px,#6aff8d 99.5px,#5dff9a 103.5px,#36ffc1 108.5px,#16ffe1 111.5px,#00e4f8 114px)"></i><i style="background:linear-gradient(90deg,#0ff8e7 0px,#39ffbe 4.5px,#6aff8d 10.5px,#73ff83 15.5px,#49ffad 23.5px,#39ffbe 28.5px,#43ffb4 32.5px,#63ff94 36.5px,#e7ff0f 47.5px,#fbf100 49.5px,#ffd300 54.5px,#ffcc00 58.5px,#ffea00 64.5px,#f1fc06 66.5px,#adff49 72.5px,#50ffa7 80.5px,#39ffbe 84.5px,#43ffb4 90.5px,#70ff87 98.5px,#70ff87 102.5px,#56ffa0 107.5px,#19ffde 114px)"></i><i style="background:linear-gradient(90deg,#2cffca 0px,#73ff83 8.5px,#80ff77 13.5px,#63ff94 19.5px,#30ffc7 27.5px,#36ffc1 31.5px,#53ffa4 35.5px,#baff3c 43.5px,#eeff09 47.5px,#ffea00 49.5px,#ffc400 55.5px,#ffcc00 61.5px,#ffea00 65.5px,#eeff09 67.5px,#53ffa4 79.5px,#36ffc1 83.5px,#30ffc7 87.5px,#7aff7d 99.5px,#7dff7a 103.5px,#6dff8a 107.5px,#36ffc1 114px)"></i><i style="background:linear-gradient(90deg,#46ffb1 0px,#87ff70 8.5px,#8dff6a 12.5px,#77ff80 17.5px,#33ffc4 25.5px,#29ffce 29.5px,#39ffbe 33.5px,#70ff87 38.5px,#e1ff16 46.5px,#eeff09 47.5px,#ffe600 49.5px,#ffc100 54.5px,#ffc100 60.5px,#ffe600 65.5px,#eeff09 67.5px,#9dff5a 73.5px,#4dffaa 79.5px,#2cffca 83.5px,#2cffca 88.5px,#6dff8a 96.5px,#87ff70 100.5px,#8dff6a 104.5px,#73ff83 109.5px,#50ffa7 114px)"></i><i style="background:linear-gradient(90deg,#60ff97 0px,#97ff60 7.5px,#9dff5a 11.5px,#83ff73 16.5px,#2cffca 25.5px,#23ffd4 29.5px,#33ffc4 33.5px,#5dff9a 37.5px,#eeff09 47.5px,#ffe600 49.5px,#ffc100 54.5px,#ffb900 58.5px,#ffd300 63.5px,#f8f500 66.5px,#eeff09 67.5px,#50ffa7 78.5px,#26ffd1 83.5px,#23ffd4 87.5px,#46ffb1 92.5px,#8aff6d 99.5px,#9dff5a 103.5px,#97ff60 107.5px,#6aff8d 114px)"></i><i style="background:linear-gradient(90deg,#7aff7d 0px,#a7ff50 7.5px,#aaff4d 11.5px,#8aff6d 16.5px,#29ffce 25.5px,#1cffdb 29.5px,#2cffca 33.5px,#66ff90 38.5px,#ebff0c 47.5px,#f8f500 48.5px,#ffd300 51.5px,#ffb900 56.5px,#ffc400 61.5px,#ffea00 65.5px,#f8f500 66.5px,#ebff0c 67.5px,#40ffb7 79.5px,#1fffd7 83.5px,#1fffd7 87.5px,#3cffba 91.5px,#9aff5d 100.5px,#aaff4d 104.5px,#a4ff53 108.5px,#80ff77 114px)"></i><i style="background:linear-gradient(90deg,#90ff66 0px,#b7ff40 6.5px,#b7ff40 11.5px,#83ff73 17.5px,#30ffc7 24.5px,#19ffde 28.5px,#23ffd4 32.5px,#46ffb1 36.5px,#e7ff0f 47.5px,#f1fc06 48.5px,#feed00 49.5px,#ffc800 53.5px,#ffbd00 58.5px,#ffd700 63.5px,#feed00 65.5px,#f1fc06 66.5px,#adff49 71.5px,#46ffb1 78.5px,#23ffd4 82.5px,#19ffde 86.5px,#39ffbe 91.5px,#97ff60 99.5px,#b7ff40 103.5px,#b7ff40 108.5px,#97ff60 114px)"></i><i style="background:linear-gradient(90deg,#a4ff53 0px,#c4ff33 5.5px,#c7ff30 9.5px,#b1ff46 13.5px,#6dff8a 19.5px,#30ffc7 24.5px,#16ffe1 29.5px,#26ffd1 33.5px,#50ffa7 37.5px,#eeff09 48.5px,#ffea00 50.5px,#ffc400 55.5px,#ffc400 59.5px,#ffea00 64.5px,#eeff09 66.5px,#36ffc1 79.5px,#19ffde 83.5px,#1cffdb 87.5px,#39ffbe 91.5px,#9dff5a 99.5px,#c1ff36 103.5px,#c7ff30 107.5px,#baff3c 111.5px,#adff49 114px)"></i><i style="background:linear-gradient(90deg,#b7ff40 0px,#d4ff23 5.5px,#ceff29 10.5px,#a4ff53 15.5px,#3cffba 23.5px,#1cffdb 27.5px,#19ffde 31.5px,#36ffc1 35.5px,#83ff73 41.5px,#dbff1c 47.5px,#f1fc06 49.5px,#ffe600 51.5px,#ffcc00 55.5px,#ffcc00 59.5px,#fbf100 64.5px,#e4ff13 66.5px,#94ff63 72.5px,#40ffb7 78.5px,#1cffdb 82.5px,#19ffde 86.5px,#33ffc4 90.5px,#6dff8a 95.5px,#adff49 100.5px,#ceff29 104.5px,#d4ff23 109.5px,#beff39 114px)"></i><i style="background:linear-gradient(90deg,#c7ff30 0px,#e1ff16 5.5px,#dbff1c 9.5px,#beff39 13.5px,#33ffc4 24.5px,#19ffde 28.5px,#1fffd7 32.5px,#3cffba 36.5px,#e7ff0f 49.5px,#fbf100 51.5px,#ffdb00 54.5px,#ffd300 58.5px,#ffe600 62.5px,#f1fc06 64.5px,#aaff4d 70.5px,#3cffba 78.5px,#1fffd7 82.5px,#19ffde 86.5px,#33ffc4 90.5px,#c7ff30 102.5px,#e1ff16 107.5px,#dbff1c 111.5px,#ceff29 114px)"></i><i style="background:linear-gradient(90deg,#d7ff1f 0px,#ebff0c 6.5px,#d4ff23 11.5px,#73ff83 19.5px,#40ffb7 23.5px,#1fffd7 27.5px,#1cffdb 31.5px,#33ffc4 35.5px,#94ff63 43.5px,#e1ff16 49.5px,#f1fc06 51.5px,#ffea00 53.5px,#ffde00 58.5px,#fbf100 62.5px,#ebff0c 64.5px,#a4ff53 70.5px,#3cffba 78.5px,#1fffd7 82.5px,#1cffdb 86.5px,#36ffc1 90.5px,#63ff94 94.5px,#caff2c 102.5px,#e4ff13 106.5px,#e7ff0f 110.5px,#dbff1c 114px)"></i><i style="background:linear-gradient(90deg,#e1ff16 0px,#f1fc06 5.5px,#e4ff13 9.5px,#c1ff36 13.5px,#43ffb4 23.5px,#23ffd4 27.5px,#1fffd7 31.5px,#33ffc4 35.5px,#8dff6a 43.5px,#e1ff16 50.5px,#f8f500 53.5px,#ffea00 58.5px,#f1fc06 62.5px,#b4ff43 68.5px,#46ffb1 77.5px,#26ffd1 81.5px,#1fffd7 85.5px,#30ffc7 89.5px,#73ff83 95.5px,#ceff29 102.5px,#eeff09 107.5px,#eeff09 111.5px,#e7ff0f 114px)"></i><i style="background:linear-gradient(90deg,#ebff0c 0px,#f8f500 5.5px,#e1ff16 10.5px,#90ff66 17.5px,#46ffb1 23.5px,#29ffce 27.5px,#23ffd4 31.5px,#3cffba 36.5px,#94ff63 44.5px,#e1ff16 51.5px,#f8f500 56.5px,#eeff09 61.5px,#c4ff33 66.5px,#50ffa7 76.5px,#29ffce 81.5px,#23ffd4 85.5px,#33ffc4 89.5px,#80ff77 96.5px,#ceff29 102.5px,#eeff09 106.5px,#f8f500 110.5px,#eeff09 114px)"></i><i style="background:linear-gradient(90deg,#f1fc06 0px,#fbf100 5.5px,#eeff09 8.5px,#ceff29 12.5px,#53ffa4 22.5px,#2cffca 27.5px,#29ffce 32.5px,#4dffaa 38.5px,#d7ff1f 51.5px,#eeff09 56.5px,#e4ff13 61.5px,#b1ff46 67.5px,#4dffaa 76.5px,#29ffce 82.5px,#2cffca 87.5px,#5dff9a 93.5px,#d7ff1f 103.5px,#f4f802 107.5px,#fbf100 111.5px,#f4f802 114px)"></i><i style="background:linear-gradient(90deg,#f4f802 0px,#fbf100 5.5px,#eeff09 8.5px,#b4ff43 14.5px,#56ffa0 22.5px,#36ffc1 26.5px,#2cffca 31.5px,#46ffb1 37.5px,#d4ff23 52.5px,#e4ff13 57.5px,#d4ff23 62.5px,#46ffb1 77.5px,#2cffca 83.5px,#36ffc1 88.5px,#6aff8d 94.5px,#deff19 104.5px,#f4f802 107.5px,#fbf100 112.5px,#f8f500 114px)"></i><i style="background:linear-gradient(90deg,#f8f500 0px,#fbf100 4.5px,#f1fc06 7.5px,#c7ff30 12.5px,#56ffa0 22.5px,#3cffba 26.5px,#33ffc4 32.5px,#50ffa7 38.5px,#97ff60 46.5px,#d1ff26 53.5px,#dbff1c 58.5px,#c4ff33 63.5px,#50ffa7 76.5px,#33ffc4 82.5px,#3cffba 88.5px,#60ff97 93.5px,#e4ff13 105.5px,#fbf100 109.5px,#fbf100 114px)"></i><i style="background:linear-gradient(90deg,#f8f500 0px,#f8f500 5.5px,#e7ff0f 8.5px,#adff49 14.5px,#60ff97 21.5px,#3cffba 27.5px,#3cffba 33.5px,#56ffa0 39.5px,#c7ff30 53.5px,#d1ff26 57.5px,#c7ff30 61.5px,#87ff70 69.5px,#49ffad 77.5px,#39ffbe 84.5px,#46ffb1 89.5px,#73ff83 95.5px,#e1ff16 105.5px,#f4f802 108.5px,#fbf100 114px)"></i><i style="background:linear-gradient(90deg,#f8f500 0px,#f8f500 4.5px,#ebff0c 7.5px,#9dff5a 15.5px,#5aff9d 22.5px,#43ffb4 28.5px,#43ffb4 34.5px,#6aff8d 42.5px,#baff3c 52.5px,#caff2c 57.5px,#b4ff43 63.5px,#56ffa0 75.5px,#40ffb7 82.5px,#49ffad 89.5px,#73ff83 95.5px,#ebff0c 107.5px,#fbf100 112.5px,#f8f500 114px)"></i><i style="background:linear-gradient(90deg,#f4f802 0px,#f4f802 4.5px,#deff19 8.5px,#6aff8d 20.5px,#4dffaa 26.5px,#46ffb1 33.5px,#5dff9a 40.5px,#b7ff40 53.5px,#c1ff36 58.5px,#a4ff53 64.5px,#5aff9d 75.5px,#46ffb1 81.5px,#4dffaa 88.5px,#6aff8d 94.5px,#e4ff13 107.5px,#f8f500 112.5px,#f4f802 114px)"></i><i style="background:linear-gradient(90deg,#f1fc06 0px,#ebff0c 5.5px,#baff3c 11.5px,#6aff8d 20.5px,#50ffa7 26.5px,#50ffa7 36.5px,#73ff83 44.5px,#b4ff43 54.5px,#baff3c 58.5px,#9dff5a 64.5px,#5dff9a 74.5px,#4dffaa 82.5px,#56ffa0 90.5px,#70ff87 95.5px,#e4ff13 108.5px,#f1fc06 112.5px,#f1fc06 114px)"></i><i style="background:linear-gradient(90deg,#ebff0c 0px,#e7ff0f 4.5px,#c7ff30 9.5px,#70ff87 19.5px,#53ffa4 26.5px,#5aff9d 38.5px,#7dff7a 46.5px,#aaff4d 53.5px,#b4ff43 58.5px,#8dff6a 66.5px,#66ff90 72.5px,#53ffa4 80.5px,#56ffa0 89.5px,#70ff87 95.5px,#c7ff30 105.5px,#e7ff0f 110.5px,#eeff09 114px)"></i><i style="background:linear-gradient(90deg,#e7ff0f 0px,#deff19 5.5px,#9dff5a 13.5px,#6dff8a 19.5px,#5aff9d 25.5px,#5aff9d 37.5px,#70ff87 44.5px,#a7ff50 54.5px,#adff49 58.5px,#94ff63 64.5px,#63ff94 73.5px,#56ffa0 84.5px,#63ff94 93.5px,#8aff6d 99.5px,#d7ff1f 108.5px,#e7ff0f 114px)"></i><i style="background:linear-gradient(90deg,#e1ff16 0px,#dbff1c 4.5px,#baff3c 9.5px,#70ff87 18.5px,#5dff9a 24.5px,#60ff97 39.5px,#73ff83 45.5px,#a4ff53 54.5px,#a4ff53 60.5px,#63ff94 73.5px,#5dff9a 90.5px,#70ff87 96.5px,#d7ff1f 109.5px,#e1ff16 114px)"></i><i style="background:linear-gradient(90deg,#dbff1c 0px,#d7ff1f 4.5px,#9aff5d 12.5px,#70ff87 18.5px,#60ff97 24.5px,#63ff94 40.5px,#77ff80 46.5px,#a0ff56 55.5px,#9aff5d 61.5px,#66ff90 72.5px,#60ff97 89.5px,#6aff8d 95.5px,#90ff66 101.5px,#d1ff26 109.5px,#dbff1c 114px)"></i><i style="background:linear-gradient(90deg,#d4ff23 0px,#d1ff26 4.5px,#73ff83 17.5px,#63ff94 22.5px,#66ff90 41.5px,#83ff73 49.5px,#9dff5a 56.5px,#97ff60 61.5px,#6aff8d 71.5px,#66ff90 79.5px,#66ff90 94.5px,#7dff7a 99.5px,#d1ff26 110.5px,#d7ff1f 114px)"></i><i style="background:linear-gradient(90deg,#d1ff26 0px,#caff2c 4.5px,#70ff87 17.5px,#63ff94 23.5px,#66ff90 36.5px,#6dff8a 44.5px,#9aff5d 56.5px,#8dff6a 62.5px,#66ff90 73.5px,#66ff90 88.5px,#66ff90 94.5px,#80ff77 100.5px,#caff2c 110.5px,#d1ff26 114px)"></i><i style="background:linear-gradient(90deg,#caff2c 0px,#c1ff36 5.5px,#73ff83 16.5px,#63ff94 22.5px,#6dff8a 35.5px,#6dff8a 44.5px,#97ff60 56.5px,#8aff6d 62.5px,#6aff8d 72.5px,#6aff8d 87.5px,#66ff90 95.5px,#83ff73 101.5px,#c1ff36 109.5px,#caff2c 114px)"></i><i style="background:linear-gradient(90deg,#c4ff33 0px,#beff39 4.5px,#8aff6d 12.5px,#6dff8a 17.5px,#66ff90 24.5px,#70ff87 35.5px,#6dff8a 43.5px,#94ff63 57.5px,#7dff7a 65.5px,#6aff8d 73.5px,#6dff8a 86.5px,#66ff90 95.5px,#80ff77 101.5px,#baff3c 109.5px,#c7ff30 114px)"></i><i style="background:linear-gradient(90deg,#c1ff36 0px,#b7ff40 5.5px,#70ff87 16.5px,#66ff90 22.5px,#73ff83 34.5px,#6dff8a 44.5px,#90ff66 57.5px,#6dff8a 72.5px,#70ff87 86.5px,#66ff90 95.5px,#80ff77 101.5px,#baff3c 110.5px,#c1ff36 114px)"></i><i style="background:linear-gradient(90deg,#baff3c 0px,#b7ff40 4.5px,#6aff8d 17.5px,#6aff8d 24.5px,#73ff83 34.5px,#70ff87 45.5px,#8dff6a 57.5px,#6dff8a 72.5px,#73ff83 85.5px,#66ff90 95.5px,#7dff7a 101.5px,#b7ff40 110.5px,#beff39 114px)"></i><i style="background:linear-gradient(90deg,#b7ff40 0px,#adff49 5.5px,#6dff8a 16.5px,#66ff90 22.5px,#77ff80 33.5px,#70ff87 44.5px,#8aff6d 57.5px,#7aff7d 65.5px,#6dff8a 73.5px,#77ff80 84.5px,#66ff90 95.5px,#77ff80 100.5px,#b1ff46 110.5px,#b7ff40 114px)"></i><i style="background:linear-gradient(90deg,#b4ff43 0px,#aaff4d 5.5px,#6dff8a 16.5px,#6aff8d 22.5px,#77ff80 33.5px,#73ff83 46.5px,#8aff6d 58.5px,#70ff87 71.5px,#73ff83 86.5px,#66ff90 95.5px,#7aff7d 101.5px,#adff49 110.5px,#b4ff43 114px)"></i><i style="background:linear-gradient(90deg,#b1ff46 0px,#a7ff50 5.5px,#6dff8a 16.5px,#6dff8a 24.5px,#7aff7d 34.5px,#70ff87 45.5px,#87ff70 57.5px,#70ff87 72.5px,#7aff7d 83.5px,#6aff8d 94.5px,#70ff87 99.5px,#adff49 111.5px,#b1ff46 114px)"></i><i style="background:linear-gradient(90deg,#adff49 0px,#a0ff56 6.5px,#6dff8a 16.5px,#6dff8a 24.5px,#7aff7d 33.5px,#70ff87 45.5px,#87ff70 58.5px,#70ff87 72.5px,#7aff7d 84.5px,#6aff8d 95.5px,#7aff7d 101.5px,#aaff4d 111.5px,#adff49 114px)"></i><i style="background:linear-gradient(90deg,#aaff4d 0px,#9dff5a 6.5px,#73ff83 15.5px,#6aff8d 21.5px,#7aff7d 34.5px,#70ff87 45.5px,#87ff70 57.5px,#70ff87 72.5px,#7aff7d 84.5px,#6aff8d 95.5px,#87ff70 104.5px,#aaff4d 112.5px,#aaff4d 114px)"></i><i style="background:linear-gradient(90deg,#a7ff50 0px,#97ff60 7.5px,#6dff8a 17.5px,#73ff83 27.5px,#7aff7d 36.5px,#70ff87 45.5px,#83ff73 57.5px,#70ff87 72.5px,#7aff7d 84.5px,#6dff8a 95.5px,#7dff7a 102.5px,#a7ff50 112.5px,#a7ff50 114px)"></i><i style="background:linear-gradient(90deg,#a4ff53 0px,#9aff5d 6.5px,#70ff87 16.5px,#70ff87 25.5px,#7aff7d 35.5px,#73ff83 46.5px,#83ff73 59.5px,#70ff87 71.5px,#7aff7d 84.5px,#6dff8a 95.5px,#80ff77 103.5px,#a0ff56 110.5px,#a4ff53 114px)"></i><i style="background:linear-gradient(90deg,#a0ff56 0px,#97ff60 6.5px,#70ff87 17.5px,#73ff83 28.5px,#7aff7d 37.5px,#70ff87 45.5px,#83ff73 58.5px,#70ff87 71.5px,#7aff7d 83.5px,#6dff8a 93.5px,#7dff7a 102.5px,#a0ff56 112.5px,#a0ff56 114px)"></i><i style="background:linear-gradient(90deg,#9dff5a 0px,#94ff63 6.5px,#73ff83 16.5px,#73ff83 28.5px,#7aff7d 37.5px,#73ff83 46.5px,#87ff70 57.5px,#70ff87 70.5px,#7aff7d 83.5px,#70ff87 93.5px,#80ff77 103.5px,#a0ff56 114px)"></i><i style="background:linear-gradient(90deg,#9dff5a 0px,#94ff63 6.5px,#77ff80 15.5px,#73ff83 28.5px,#7aff7d 38.5px,#70ff87 46.5px,#87ff70 58.5px,#70ff87 70.5px,#7aff7d 82.5px,#70ff87 92.5px,#83ff73 104.5px,#9dff5a 112.5px,#9dff5a 114px)"></i><i style="background:linear-gradient(90deg,#9aff5d 0px,#8aff6d 8.5px,#77ff80 16.5px,#70ff87 27.5px,#7aff7d 37.5px,#70ff87 46.5px,#87ff70 57.5px,#70ff87 70.5px,#7aff7d 82.5px,#6dff8a 90.5px,#83ff73 104.5px,#9aff5d 114px)"></i><i style="background:linear-gradient(90deg,#97ff60 0px,#8dff6a 6.5px,#7aff7d 14.5px,#73ff83 21.5px,#6aff8d 26.5px,#7dff7a 35.5px,#70ff87 47.5px,#8aff6d 57.5px,#7aff7d 63.5px,#70ff87 70.5px,#7aff7d 81.5px,#6aff8d 89.5px,#7aff7d 97.5px,#80ff77 104.5px,#97ff60 112.5px,#97ff60 114px)"></i><i style="background:linear-gradient(90deg,#97ff60 0px,#87ff70 8.5px,#7aff7d 13.5px,#7aff7d 20.5px,#66ff90 26.5px,#7dff7a 35.5px,#70ff87 48.5px,#8dff6a 57.5px,#70ff87 67.5px,#7dff7a 80.5px,#66ff90 89.5px,#7dff7a 96.5px,#7dff7a 104.5px,#94ff63 111.5px,#97ff60 114px)"></i><i style="background:linear-gradient(90deg,#94ff63 0px,#83ff73 8.5px,#77ff80 14.5px,#83ff73 19.5px,#63ff94 25.5px,#7dff7a 34.5px,#6dff8a 47.5px,#8dff6a 57.5px,#7aff7d 63.5px,#6dff8a 68.5px,#7dff7a 80.5px,#63ff94 89.5px,#83ff73 95.5px,#77ff80 102.5px,#94ff63 114px)"></i><i style="background:linear-gradient(90deg,#90ff66 0px,#8aff6d 6.5px,#73ff83 12.5px,#7aff7d 15.5px,#87ff70 19.5px,#5dff9a 25.5px,#6dff8a 29.5px,#80ff77 35.5px,#6dff8a 48.5px,#7dff7a 52.5px,#8dff6a 57.5px,#7dff7a 62.5px,#6dff8a 66.5px,#7dff7a 80.5px,#6dff8a 85.5px,#5dff9a 89.5px,#87ff70 95.5px,#7aff7d 99.5px,#73ff83 103.5px,#90ff66 111.5px,#90ff66 114px)"></i><i style="background:linear-gradient(90deg,#8dff6a 0px,#87ff70 6.5px,#6dff8a 13.5px,#8dff6a 19.5px,#6aff8d 23.5px,#5aff9d 25.5px,#5dff9a 27.5px,#7dff7a 32.5px,#7dff7a 39.5px,#66ff90 48.5px,#8aff6d 55.5px,#87ff70 60.5px,#66ff90 66.5px,#80ff77 78.5px,#7aff7d 83.5px,#5aff9d 88.5px,#60ff97 90.5px,#87ff70 94.5px,#8aff6d 96.5px,#6dff8a 101.5px,#8dff6a 111.5px,#8dff6a 114px)"></i><i style="background:linear-gradient(90deg,#8aff6d 0px,#87ff70 6.5px,#63ff94 13.5px,#8dff6a 19.5px,#80ff77 21.5px,#56ffa0 25.5px,#5dff9a 27.5px,#7dff7a 31.5px,#83ff73 36.5px,#70ff87 44.5px,#60ff97 49.5px,#87ff70 55.5px,#87ff70 59.5px,#60ff97 65.5px,#80ff77 75.5px,#80ff77 82.5px,#66ff90 86.5px,#56ffa0 88.5px,#5dff9a 90.5px,#8aff6d 94.5px,#8aff6d 96.5px,#63ff94 101.5px,#8aff6d 109.5px,#8dff6a 114px)"></i><i style="background:linear-gradient(90deg,#87ff70 0px,#87ff70 6.5px,#63ff94 11.5px,#56ffa0 13.5px,#63ff94 15.5px,#87ff70 18.5px,#87ff70 20.5px,#56ffa0 25.5px,#6aff8d 28.5px,#83ff73 31.5px,#80ff77 40.5px,#66ff90 46.5px,#5aff9d 49.5px,#63ff94 51.5px,#83ff73 55.5px,#83ff73 59.5px,#5aff9d 65.5px,#6dff8a 69.5px,#83ff73 76.5px,#83ff73 83.5px,#5aff9d 88.5px,#5dff9a 90.5px,#87ff70 94.5px,#87ff70 96.5px,#5aff9d 100.5px,#5aff9d 102.5px,#83ff73 107.5px,#8aff6d 114px)"></i><i style="background:linear-gradient(90deg,#83ff73 0px,#8aff6d 6.5px,#66ff90 10.5px,#46ffb1 13.5px,#53ffa4 15.5px,#7dff7a 18.5px,#83ff73 20.5px,#5dff9a 24.5px,#5dff9a 26.5px,#8dff6a 31.5px,#7aff7d 43.5px,#4dffaa 49.5px,#70ff87 53.5px,#83ff73 56.5px,#7aff7d 60.5px,#53ffa4 64.5px,#50ffa7 66.5px,#7aff7d 71.5px,#8dff6a 83.5px,#5dff9a 88.5px,#5dff9a 90.5px,#83ff73 94.5px,#7dff7a 96.5px,#49ffad 100.5px,#4dffaa 102.5px,#7dff7a 106.5px,#8aff6d 109.5px,#87ff70 114px)"></i><i style="background:linear-gradient(90deg,#80ff77 0px,#8dff6a 6.5px,#83ff73 8.5px,#66ff90 10.5px,#40ffb7 12.5px,#36ffc1 14.5px,#70ff87 18.5px,#7aff7d 20.5px,#60ff97 24.5px,#66ff90 26.5px,#90ff66 30.5px,#8dff6a 34.5px,#80ff77 43.5px,#56ffa0 47.5px,#46ffb1 49.5px,#50ffa7 51.5px,#7aff7d 55.5px,#7aff7d 59.5px,#46ffb1 64.5px,#49ffad 66.5px,#7aff7d 70.5px,#87ff70 75.5px,#94ff63 83.5px,#8aff6d 85.5px,#60ff97 89.5px,#63ff94 91.5px,#7aff7d 94.5px,#70ff87 96.5px,#36ffc1 100.5px,#40ffb7 102.5px,#83ff73 106.5px,#8dff6a 110.5px,#83ff73 114px)"></i><i style="background:linear-gradient(90deg,#7dff7a 0px,#94ff63 6.5px,#8aff6d 8.5px,#6aff8d 10.5px,#39ffbe 12.5px,#29ffce 13.5px,#2cffca 15.5px,#66ff90 19.5px,#63ff94 24.5px,#97ff60 29.5px,#9aff5d 32.5px,#87ff70 38.5px,#87ff70 43.5px,#6aff8d 46.5px,#40ffb7 49.5px,#43ffb4 51.5px,#77ff80 56.5px,#70ff87 59.5px,#3cffba 64.5px,#49ffad 66.5px,#80ff77 70.5px,#8aff6d 74.5px,#8aff6d 78.5px,#9dff5a 83.5px,#8dff6a 86.5px,#63ff94 90.5px,#66ff90 95.5px,#4dffaa 97.5px,#2cffca 99.5px,#29ffce 101.5px,#50ffa7 103.5px,#7dff7a 105.5px,#90ff66 107.5px,#8aff6d 111.5px,#80ff77 114px)"></i><i style="background:linear-gradient(90deg,#77ff80 0px,#a0ff56 7.5px,#8dff6a 9.5px,#56ffa0 11.5px,#23ffd4 13.5px,#19ffde 15.5px,#53ffa4 19.5px,#6aff8d 24.5px,#a0ff56 29.5px,#9dff5a 32.5px,#87ff70 37.5px,#90ff66 43.5px,#83ff73 45.5px,#40ffb7 49.5px,#36ffc1 50.5px,#4dffaa 53.5px,#6dff8a 56.5px,#6dff8a 58.5px,#39ffbe 63.5px,#36ffc1 64.5px,#4dffaa 66.5px,#83ff73 69.5px,#90ff66 71.5px,#8aff6d 78.5px,#a4ff53 84.5px,#9aff5d 86.5px,#6aff8d 90.5px,#53ffa4 95.5px,#19ffde 99.5px,#23ffd4 101.5px,#56ffa0 103.5px,#8dff6a 105.5px,#a0ff56 107.5px,#7dff7a 114px)"></i><i style="background:linear-gradient(90deg,#70ff87 0px,#94ff63 4.5px,#b1ff46 7.5px,#b1ff46 8.5px,#8dff6a 10.5px,#26ffd1 13.5px,#09f0ee 15.5px,#1cffdb 17.5px,#46ffb1 20.5px,#6dff8a 24.5px,#a4ff53 28.5px,#aaff4d 30.5px,#87ff70 36.5px,#90ff66 40.5px,#9dff5a 44.5px,#83ff73 46.5px,#43ffb4 49.5px,#33ffc4 51.5px,#43ffb4 53.5px,#60ff97 56.5px,#60ff97 58.5px,#36ffc1 62.5px,#36ffc1 64.5px,#56ffa0 66.5px,#94ff63 69.5px,#9dff5a 71.5px,#87ff70 77.5px,#97ff60 81.5px,#aaff4d 84.5px,#a4ff53 86.5px,#63ff94 91.5px,#3cffba 95.5px,#0ff8e7 98.5px,#09f0ee 99.5px,#26ffd1 101.5px,#8dff6a 104.5px,#b1ff46 106.5px,#aaff4d 108.5px,#77ff80 114px)"></i><i style="background:linear-gradient(90deg,#6dff8a 0px,#77ff80 2.5px,#b4ff43 6.5px,#caff2c 8.5px,#c4ff33 9.5px,#adff49 10.5px,#19ffde 14.5px,#06ecf1 15.5px,#00e4f8 16.5px,#13fce4 18.5px,#83ff73 25.5px,#a4ff53 27.5px,#b1ff46 29.5px,#97ff60 33.5px,#83ff73 36.5px,#90ff66 40.5px,#adff49 44.5px,#97ff60 46.5px,#4dffaa 49.5px,#33ffc4 51.5px,#30ffc7 52.5px,#53ffa4 56.5px,#53ffa4 58.5px,#30ffc7 62.5px,#3cffba 64.5px,#66ff90 66.5px,#97ff60 68.5px,#adff49 70.5px,#87ff70 76.5px,#87ff70 79.5px,#b1ff46 85.5px,#a4ff53 87.5px,#13fce4 96.5px,#00e4f8 98.5px,#06ecf1 99.5px,#19ffde 100.5px,#60ff97 102.5px,#adff49 104.5px,#c4ff33 105.5px,#caff2c 106.5px,#b4ff43 108.5px,#77ff80 112.5px,#70ff87 114px)"></i><i style="background:linear-gradient(90deg,#66ff90 0px,#7aff7d 3.5px,#e1ff16 8.5px,#e1ff16 9.5px,#d4ff23 10.5px,#b4ff43 11.5px,#2cffca 14.5px,#0cf4eb 15.5px,#00e0fb 16.5px,#00dcfe 17.5px,#00e4f8 18.5px,#0ff8e7 19.5px,#5dff9a 23.5px,#9dff5a 26.5px,#b4ff43 28.5px,#aaff4d 31.5px,#83ff73 35.5px,#80ff77 38.5px,#baff3c 44.5px,#aaff4d 46.5px,#7aff7d 48.5px,#46ffb1 50.5px,#30ffc7 52.5px,#49ffad 56.5px,#43ffb4 59.5px,#30ffc7 62.5px,#46ffb1 64.5px,#97ff60 67.5px,#b7ff40 69.5px,#b4ff43 71.5px,#80ff77 76.5px,#83ff73 79.5px,#b1ff46 84.5px,#b4ff43 86.5px,#9dff5a 88.5px,#1fffd7 94.5px,#0ff8e7 95.5px,#00e4f8 96.5px,#00dcfe 97.5px,#00e0fb 98.5px,#0cf4eb 99.5px,#2cffca 100.5px,#b4ff43 103.5px,#d4ff23 104.5px,#e1ff16 105.5px,#e1ff16 106.5px,#baff3c 108.5px,#7aff7d 111.5px,#6aff8d 114px)"></i><i style="background:linear-gradient(90deg,#63ff94 0px,#66ff90 2.5px,#83ff73 4.5px,#b7ff40 6.5px,#f1fc06 8.5px,#feed00 9.5px,#f8f500 10.5px,#e1ff16 11.5px,#83ff73 13.5px,#23ffd4 15.5px,#06ecf1 16.5px,#00d8ff 17.5px,#00d8ff 18.5px,#00e4f8 19.5px,#13fce4 20.5px,#a0ff56 26.5px,#b7ff40 28.5px,#aaff4d 31.5px,#7dff7a 35.5px,#7aff7d 38.5px,#8dff6a 40.5px,#c4ff33 44.5px,#c1ff36 46.5px,#94ff63 48.5px,#43ffb4 51.5px,#33ffc4 53.5px,#3cffba 58.5px,#33ffc4 61.5px,#43ffb4 63.5px,#adff49 67.5px,#c1ff36 68.5px,#c4ff33 70.5px,#80ff77 75.5px,#77ff80 77.5px,#87ff70 80.5px,#b1ff46 84.5px,#b7ff40 86.5px,#a0ff56 88.5px,#13fce4 94.5px,#00e4f8 95.5px,#00d8ff 96.5px,#00d8ff 97.5px,#06ecf1 98.5px,#23ffd4 99.5px,#b7ff40 102.5px,#e1ff16 103.5px,#f8f500 104.5px,#feed00 105.5px,#f1fc06 106.5px,#83ff73 110.5px,#66ff90 112.5px,#63ff94 114px)"></i><i style="background:linear-gradient(90deg,#60ff97 0px,#60ff97 2.5px,#73ff83 4.5px,#adff49 6.5px,#d4ff23 7.5px,#f8f500 8.5px,#ffd700 9.5px,#ffd000 10.5px,#ffde00 11.5px,#ebff0c 12.5px,#4dffaa 15.5px,#1fffd7 16.5px,#06ecf1 17.5px,#00e0fb 18.5px,#00e4f8 19.5px,#0cf4eb 20.5px,#23ffd4 21.5px,#90ff66 25.5px,#b4ff43 27.5px,#baff3c 29.5px,#70ff87 36.5px,#70ff87 38.5px,#97ff60 41.5px,#ceff29 44.5px,#d4ff23 46.5px,#b1ff46 48.5px,#56ffa0 51.5px,#36ffc1 53.5px,#30ffc7 57.5px,#36ffc1 61.5px,#56ffa0 63.5px,#b1ff46 66.5px,#d4ff23 68.5px,#ceff29 70.5px,#7aff7d 75.5px,#70ff87 77.5px,#77ff80 79.5px,#baff3c 85.5px,#b4ff43 87.5px,#90ff66 89.5px,#23ffd4 93.5px,#0cf4eb 94.5px,#00e4f8 95.5px,#00e0fb 96.5px,#06ecf1 97.5px,#1fffd7 98.5px,#80ff77 100.5px,#ebff0c 102.5px,#ffde00 103.5px,#ffd000 104.5px,#ffd700 105.5px,#f8f500 106.5px,#d4ff23 107.5px,#8dff6a 109.5px,#73ff83 110.5px,#60ff97 112.5px,#5dff9a 114px)"></i><i style="background:linear-gradient(90deg,#5dff9a 0px,#5aff9d 3.5px,#63ff94 4.5px,#9aff5d 6.5px,#eeff09 8.5px,#ffd300 9.5px,#ffb600 10.5px,#ffb200 11.5px,#ffc800 12.5px,#f4f802 13.5px,#53ffa4 16.5px,#2cffca 17.5px,#16ffe1 18.5px,#0ff8e7 19.5px,#2cffca 21.5px,#97ff60 25.5px,#b7ff40 27.5px,#baff3c 29.5px,#8aff6d 33.5px,#6aff8d 36.5px,#66ff90 38.5px,#7dff7a 40.5px,#d1ff26 44.5px,#e4ff13 46.5px,#deff19 47.5px,#b1ff46 49.5px,#53ffa4 52.5px,#30ffc7 54.5px,#23ffd4 57.5px,#30ffc7 60.5px,#53ffa4 62.5px,#caff2c 66.5px,#deff19 67.5px,#e4ff13 68.5px,#d1ff26 70.5px,#7dff7a 74.5px,#66ff90 76.5px,#70ff87 79.5px,#b1ff46 84.5px,#beff39 86.5px,#aaff4d 88.5px,#7dff7a 90.5px,#2cffca 93.5px,#0ff8e7 95.5px,#16ffe1 96.5px,#2cffca 97.5px,#53ffa4 98.5px,#f4f802 101.5px,#ffc800 102.5px,#ffb200 103.5px,#ffb600 104.5px,#ffd300 105.5px,#eeff09 106.5px,#9aff5d 108.5px,#63ff94 110.5px,#56ffa0 112.5px,#5aff9d 114px)"></i><i style="background:linear-gradient(90deg,#5dff9a 0px,#4dffaa 2.5px,#50ffa7 4.5px,#60ff97 5.5px,#7dff7a 6.5px,#d7ff1f 8.5px,#ffe200 9.5px,#ffb200 10.5px,#ff9800 11.5px,#ff9c00 12.5px,#ffb600 13.5px,#ffea00 14.5px,#ceff29 15.5px,#6aff8d 17.5px,#4dffaa 18.5px,#3cffba 19.5px,#3cffba 20.5px,#5dff9a 22.5px,#a4ff53 25.5px,#b7ff40 26.5px,#c1ff36 28.5px,#b1ff46 30.5px,#6aff8d 35.5px,#5dff9a 37.5px,#66ff90 39.5px,#87ff70 41.5px,#e4ff13 45.5px,#f1fc06 47.5px,#ceff29 49.5px,#49ffad 53.5px,#26ffd1 55.5px,#19ffde 57.5px,#26ffd1 59.5px,#49ffad 61.5px,#ceff29 65.5px,#f1fc06 67.5px,#e4ff13 69.5px,#73ff83 74.5px,#60ff97 76.5px,#60ff97 78.5px,#83ff73 81.5px,#baff3c 85.5px,#beff39 87.5px,#b7ff40 88.5px,#77ff80 91.5px,#49ffad 93.5px,#3cffba 94.5px,#3cffba 95.5px,#4dffaa 96.5px,#6aff8d 97.5px,#ceff29 99.5px,#ffea00 100.5px,#ffb600 101.5px,#ff9c00 102.5px,#ff9800 103.5px,#ffb200 104.5px,#ffe200 105.5px,#d7ff1f 106.5px,#7dff7a 108.5px,#60ff97 109.5px,#50ffa7 110.5px,#4dffaa 112.5px,#53ffa4 114px)"></i><i style="background:linear-gradient(90deg,#5aff9d 0px,#40ffb7 3.5px,#49ffad 5.5px,#60ff97 6.5px,#83ff73 7.5px,#ebff0c 9.5px,#ffc800 10.5px,#ff9800 11.5px,#ff7e00 12.5px,#ff7e00 13.5px,#ff9c00 14.5px,#ffc800 15.5px,#eeff09 16.5px,#9dff5a 18.5px,#83ff73 19.5px,#7aff7d 20.5px,#8aff6d 22.5px,#c4ff33 26.5px,#c4ff33 28.5px,#8aff6d 32.5px,#60ff97 35.5px,#56ffa0 38.5px,#6aff8d 40.5px,#90ff66 42.5px,#e1ff16 45.5px,#f4f802 46.5px,#feed00 47.5px,#fbf100 48.5px,#ebff0c 49.5px,#aaff4d 51.5px,#5dff9a 53.5px,#29ffce 55.5px,#19ffde 57.5px,#29ffce 59.5px,#5dff9a 61.5px,#ceff29 64.5px,#ebff0c 65.5px,#fbf100 66.5px,#feed00 67.5px,#f4f802 68.5px,#c7ff30 70.5px,#7aff7d 73.5px,#5dff9a 75.5px,#56ffa0 77.5px,#60ff97 79.5px,#c4ff33 86.5px,#c4ff33 88.5px,#7dff7a 93.5px,#7aff7d 94.5px,#83ff73 95.5px,#c1ff36 97.5px,#eeff09 98.5px,#ffc800 99.5px,#ff9c00 100.5px,#ff7e00 101.5px,#ff7e00 102.5px,#ff9800 103.5px,#ffc800 104.5px,#ebff0c 105.5px,#83ff73 107.5px,#60ff97 108.5px,#49ffad 109.5px,#40ffb7 111.5px,#50ffa7 114px)"></i><i style="background:linear-gradient(90deg,#5aff9d 0px,#30ffc7 4.5px,#40ffb7 6.5px,#5aff9d 7.5px,#beff39 9.5px,#fbf100 10.5px,#ffae00 11.5px,#ff7a00 12.5px,#ff6000 13.5px,#ff5d00 14.5px,#ff6f00 15.5px,#ffea00 18.5px,#e4ff13 19.5px,#c7ff30 21.5px,#d4ff23 26.5px,#c4ff33 28.5px,#70ff87 33.5px,#53ffa4 36.5px,#53ffa4 39.5px,#6dff8a 41.5px,#9aff5d 43.5px,#f1fc06 46.5px,#ffe600 47.5px,#ffde00 48.5px,#ffea00 49.5px,#ebff0c 50.5px,#5aff9d 54.5px,#2cffca 56.5px,#2cffca 58.5px,#5aff9d 60.5px,#ebff0c 64.5px,#ffea00 65.5px,#ffde00 66.5px,#ffe600 67.5px,#f1fc06 68.5px,#80ff77 72.5px,#5dff9a 74.5px,#50ffa7 76.5px,#5aff9d 79.5px,#7dff7a 82.5px,#c4ff33 86.5px,#d4ff23 88.5px,#c7ff30 93.5px,#e4ff13 95.5px,#ffea00 96.5px,#ff6f00 99.5px,#ff5d00 100.5px,#ff6000 101.5px,#ff7a00 102.5px,#ffae00 103.5px,#fbf100 104.5px,#beff39 105.5px,#5aff9d 107.5px,#40ffb7 108.5px,#30ffc7 110.5px,#50ffa7 114px)"></i><i style="background:linear-gradient(90deg,#5dff9a 0px,#1fffd7 5.5px,#23ffd4 6.5px,#33ffc4 7.5px,#53ffa4 8.5px,#83ff73 9.5px,#c4ff33 10.5px,#ffe200 11.5px,#ff9800 12.5px,#ff5d00 13.5px,#ff3800 14.5px,#ff2d00 15.5px,#ff3400 16.5px,#ff6c00 18.5px,#ffae00 20.5px,#ffe600 23.5px,#eeff09 25.5px,#a7ff50 29.5px,#70ff87 32.5px,#53ffa4 35.5px,#4dffaa 39.5px,#5dff9a 41.5px,#87ff70 43.5px,#e4ff13 46.5px,#ffea00 47.5px,#ffd700 48.5px,#ffd300 49.5px,#ffe200 50.5px,#f1fc06 51.5px,#6aff8d 55.5px,#53ffa4 57.5px,#6aff8d 59.5px,#f1fc06 63.5px,#ffe200 64.5px,#ffd300 65.5px,#ffd700 66.5px,#ffea00 67.5px,#e4ff13 68.5px,#6dff8a 72.5px,#50ffa7 74.5px,#4dffaa 77.5px,#63ff94 81.5px,#90ff66 84.5px,#e1ff16 88.5px,#eeff09 89.5px,#ffe600 91.5px,#ffae00 94.5px,#ff4e00 97.5px,#ff3400 98.5px,#ff2d00 99.5px,#ff3800 100.5px,#ff5d00 101.5px,#ff9800 102.5px,#ffe200 103.5px,#c4ff33 104.5px,#83ff73 105.5px,#53ffa4 106.5px,#33ffc4 107.5px,#23ffd4 108.5px,#1fffd7 109.5px,#53ffa4 114px)"></i><i style="background:linear-gradient(90deg,#66ff90 0px,#29ffce 4.5px,#0ff8e7 6.5px,#13fce4 7.5px,#23ffd4 8.5px,#49ffad 9.5px,#c7ff30 11.5px,#ffd300 12.5px,#ff8200 13.5px,#ff3b00 14.5px,#fa0f00 15.5px,#df0000 16.5px,#da0000 17.5px,#f10800 18.5px,#ff2200 19.5px,#feed00 25.5px,#e1ff16 26.5px,#7aff7d 30.5px,#5dff9a 32.5px,#4dffaa 36.5px,#46ffb1 40.5px,#5aff9d 42.5px,#87ff70 44.5px,#eeff09 47.5px,#ffde00 48.5px,#ffcc00 49.5px,#ffc800 50.5px,#ffd300 51.5px,#ffea00 52.5px,#e4ff13 53.5px,#b1ff46 55.5px,#a0ff56 56.5px,#a0ff56 58.5px,#caff2c 60.5px,#e4ff13 61.5px,#ffea00 62.5px,#ffd300 63.5px,#ffc800 64.5px,#ffcc00 65.5px,#ffde00 66.5px,#eeff09 67.5px,#87ff70 70.5px,#5aff9d 72.5px,#46ffb1 74.5px,#50ffa7 80.5px,#6aff8d 83.5px,#90ff66 85.5px,#e1ff16 88.5px,#feed00 89.5px,#ff2200 95.5px,#f10800 96.5px,#da0000 97.5px,#df0000 98.5px,#fa0f00 99.5px,#ff3b00 100.5px,#ff8200 101.5px,#ffd300 102.5px,#c7ff30 103.5px,#49ffad 105.5px,#23ffd4 106.5px,#13fce4 107.5px,#0ff8e7 108.5px,#29ffce 110.5px,#5aff9d 114px)"></i><i style="background:linear-gradient(90deg,#70ff87 0px,#49ffad 3.5px,#1cffdb 5.5px,#09f0ee 6.5px,#00e4f8 7.5px,#02e8f4 8.5px,#19ffde 9.5px,#43ffb4 10.5px,#80ff77 11.5px,#caff2c 12.5px,#ffcc00 13.5px,#ff7300 14.5px,#ff2900 15.5px,#da0000 16.5px,#b60000 17.5px,#b20000 18.5px,#c40000 19.5px,#e80000 20.5px,#ff2900 21.5px,#fbf100 25.5px,#d4ff23 26.5px,#8dff6a 28.5px,#60ff97 30.5px,#49ffad 32.5px,#43ffb4 39.5px,#3cffba 41.5px,#50ffa7 43.5px,#83ff73 45.5px,#d1ff26 47.5px,#f8f500 48.5px,#ffb900 50.5px,#ffae00 51.5px,#ffae00 52.5px,#ffe600 56.5px,#ffe600 58.5px,#ffae00 62.5px,#ffae00 63.5px,#ffb900 64.5px,#f8f500 66.5px,#d1ff26 67.5px,#83ff73 69.5px,#50ffa7 71.5px,#3cffba 73.5px,#49ffad 79.5px,#49ffad 82.5px,#60ff97 84.5px,#8dff6a 86.5px,#d4ff23 88.5px,#fbf100 89.5px,#ff2900 93.5px,#e80000 94.5px,#c40000 95.5px,#b20000 96.5px,#b60000 97.5px,#da0000 98.5px,#ff2900 99.5px,#ff7300 100.5px,#ffcc00 101.5px,#caff2c 102.5px,#80ff77 103.5px,#43ffb4 104.5px,#19ffde 105.5px,#02e8f4 106.5px,#00e4f8 107.5px,#09f0ee 108.5px,#1cffdb 109.5px,#5aff9d 112.5px,#66ff90 114px)"></i><i style="background:linear-gradient(90deg,#83ff73 0px,#5dff9a 3.5px,#16ffe1 6.5px,#00e4f8 7.5px,#00d4ff 8.5px,#00d8ff 9.5px,#0ff8e7 10.5px,#39ffbe 11.5px,#c4ff33 13.5px,#ffd300 14.5px,#ff7e00 15.5px,#ff3400 16.5px,#ed0400 17.5px,#cd0000 18.5px,#cd0000 19.5px,#e80000 20.5px,#ff2900 21.5px,#ff5900 22.5px,#ffd000 24.5px,#e4ff13 25.5px,#8aff6d 27.5px,#53ffa4 29.5px,#3cffba 31.5px,#3cffba 33.5px,#49ffad 37.5px,#30ffc7 42.5px,#43ffb4 44.5px,#5aff9d 45.5px,#a4ff53 47.5px,#d1ff26 48.5px,#feed00 49.5px,#ff9c00 51.5px,#ff8200 52.5px,#ff6c00 54.5px,#ff6c00 60.5px,#ff8200 62.5px,#ff9c00 63.5px,#feed00 65.5px,#d1ff26 66.5px,#7dff7a 68.5px,#5aff9d 69.5px,#36ffc1 71.5px,#33ffc4 73.5px,#49ffad 77.5px,#39ffbe 82.5px,#43ffb4 84.5px,#6aff8d 86.5px,#b4ff43 88.5px,#e4ff13 89.5px,#ffd000 90.5px,#ff5900 92.5px,#ff2900 93.5px,#e80000 94.5px,#cd0000 95.5px,#cd0000 96.5px,#ed0400 97.5px,#ff3400 98.5px,#ff7e00 99.5px,#ffd300 100.5px,#c4ff33 101.5px,#39ffbe 103.5px,#0ff8e7 104.5px,#00d8ff 105.5px,#00d4ff 106.5px,#00e4f8 107.5px,#16ffe1 108.5px,#5dff9a 111.5px,#7aff7d 114px)"></i><i style="background:linear-gradient(90deg,#94ff63 0px,#77ff80 3.5px,#30ffc7 6.5px,#13fce4 7.5px,#00dcfe 8.5px,#00ccff 9.5px,#00ccff 10.5px,#00e4f8 11.5px,#29ffce 12.5px,#60ff97 13.5px,#ebff0c 15.5px,#ffb900 16.5px,#ff7a00 17.5px,#ff5500 18.5px,#ff4700 19.5px,#ff4e00 20.5px,#ff6800 21.5px,#ffc800 23.5px,#ebff0c 24.5px,#8aff6d 26.5px,#49ffad 28.5px,#2cffca 30.5px,#30ffc7 32.5px,#4dffaa 36.5px,#49ffad 38.5px,#23ffd4 42.5px,#23ffd4 44.5px,#4dffaa 46.5px,#a0ff56 48.5px,#d4ff23 49.5px,#ffde00 50.5px,#ff7300 52.5px,#ff4700 53.5px,#ff2500 54.5px,#fa0f00 55.5px,#e80000 57.5px,#fa0f00 59.5px,#ff2500 60.5px,#ff4700 61.5px,#ffa700 63.5px,#ffde00 64.5px,#d4ff23 65.5px,#73ff83 67.5px,#4dffaa 68.5px,#23ffd4 70.5px,#23ffd4 72.5px,#49ffad 76.5px,#4dffaa 78.5px,#2cffca 83.5px,#36ffc1 85.5px,#66ff90 87.5px,#b7ff40 89.5px,#ebff0c 90.5px,#ffc800 91.5px,#ff6800 93.5px,#ff4e00 94.5px,#ff4700 95.5px,#ff5500 96.5px,#ff7a00 97.5px,#ffb900 98.5px,#ebff0c 99.5px,#60ff97 101.5px,#29ffce 102.5px,#00e4f8 103.5px,#00ccff 104.5px,#00ccff 105.5px,#00dcfe 106.5px,#13fce4 107.5px,#63ff94 110.5px,#83ff73 112.5px,#8dff6a 114px)"></i><i style="background:linear-gradient(90deg,#a4ff53 0px,#90ff66 3.5px,#6aff8d 5.5px,#13fce4 8.5px,#00d8ff 9.5px,#00c0ff 10.5px,#00b8ff 11.5px,#00c4ff 12.5px,#02e8f4 13.5px,#2cffca 14.5px,#caff2c 17.5px,#f1fc06 18.5px,#ffe200 19.5px,#ffdb00 20.5px,#ffe600 21.5px,#eeff09 22.5px,#60ff97 26.5px,#33ffc4 28.5px,#26ffd1 30.5px,#53ffa4 36.5px,#50ffa7 38.5px,#16ffe1 43.5px,#0ff8e7 44.5px,#13fce4 45.5px,#23ffd4 46.5px,#40ffb7 47.5px,#9dff5a 49.5px,#d7ff1f 50.5px,#ffd000 51.5px,#ff4a00 53.5px,#ff1600 54.5px,#d60000 55.5px,#b60000 56.5px,#ad0000 57.5px,#b60000 58.5px,#d60000 59.5px,#ff1600 60.5px,#ff4a00 61.5px,#ffd000 63.5px,#d7ff1f 64.5px,#6aff8d 66.5px,#40ffb7 67.5px,#23ffd4 68.5px,#13fce4 69.5px,#0ff8e7 70.5px,#2cffca 73.5px,#50ffa7 76.5px,#53ffa4 78.5px,#26ffd1 84.5px,#33ffc4 86.5px,#60ff97 88.5px,#eeff09 92.5px,#ffe600 93.5px,#ffdb00 94.5px,#ffe200 95.5px,#f1fc06 96.5px,#caff2c 97.5px,#2cffca 100.5px,#02e8f4 101.5px,#00c4ff 102.5px,#00b8ff 103.5px,#00c0ff 104.5px,#00d8ff 105.5px,#13fce4 106.5px,#6aff8d 109.5px,#90ff66 111.5px,#a0ff56 114px)"></i><i style="background:linear-gradient(90deg,#adff49 0px,#a4ff53 3.5px,#8aff6d 5.5px,#56ffa0 7.5px,#0ff8e7 9.5px,#00ccff 10.5px,#00a8ff 11.5px,#0094ff 12.5px,#0090ff 13.5px,#009cff 14.5px,#00b8ff 15.5px,#00e4f8 16.5px,#23ffd4 17.5px,#63ff94 19.5px,#77ff80 20.5px,#7aff7d 22.5px,#33ffc4 27.5px,#2cffca 29.5px,#5dff9a 36.5px,#53ffa4 39.5px,#16ffe1 43.5px,#02e8f4 45.5px,#16ffe1 47.5px,#60ff97 49.5px,#d4ff23 51.5px,#ffd300 52.5px,#ff8900 53.5px,#ff4e00 54.5px,#ff1e00 55.5px,#e80000 56.5px,#da0000 57.5px,#e80000 58.5px,#ff1e00 59.5px,#ff4e00 60.5px,#ff8900 61.5px,#ffd300 62.5px,#d4ff23 63.5px,#60ff97 65.5px,#16ffe1 67.5px,#02e8f4 69.5px,#16ffe1 71.5px,#53ffa4 75.5px,#5dff9a 78.5px,#43ffb4 82.5px,#2cffca 85.5px,#33ffc4 87.5px,#7aff7d 92.5px,#77ff80 94.5px,#46ffb1 96.5px,#23ffd4 97.5px,#00e4f8 98.5px,#00b8ff 99.5px,#009cff 100.5px,#0090ff 101.5px,#0094ff 102.5px,#00a8ff 103.5px,#00ccff 104.5px,#0ff8e7 105.5px,#73ff83 108.5px,#97ff60 110.5px,#a7ff50 112.5px,#aaff4d 114px)"></i><i style="background:linear-gradient(90deg,#aaff4d 0px,#a4ff53 4.5px,#8aff6d 6.5px,#53ffa4 8.5px,#2cffca 9.5px,#02e8f4 10.5px,#00b4ff 11.5px,#005cff 13.5px,#0048ff 14.5px,#0040ff 15.5px,#0060ff 17.5px,#00dcfe 21.5px,#0cf4eb 22.5px,#19ffde 23.5px,#4dffaa 30.5px,#70ff87 35.5px,#66ff90 39.5px,#3cffba 42.5px,#19ffde 44.5px,#02e8f4 46.5px,#02e8f4 47.5px,#13fce4 48.5px,#2cffca 49.5px,#83ff73 51.5px,#eeff09 53.5px,#ffc400 54.5px,#ff9800 55.5px,#ff7e00 56.5px,#ff7300 57.5px,#ff7e00 58.5px,#ff9800 59.5px,#ffc400 60.5px,#eeff09 61.5px,#53ffa4 64.5px,#2cffca 65.5px,#13fce4 66.5px,#02e8f4 67.5px,#09f0ee 69.5px,#19ffde 70.5px,#5dff9a 74.5px,#70ff87 77.5px,#66ff90 81.5px,#26ffd1 89.5px,#19ffde 91.5px,#0cf4eb 92.5px,#00dcfe 93.5px,#0060ff 97.5px,#0040ff 99.5px,#0048ff 100.5px,#005cff 101.5px,#00b4ff 103.5px,#02e8f4 104.5px,#2cffca 105.5px,#73ff83 107.5px,#9aff5d 109.5px,#aaff4d 111.5px,#aaff4d 114px)"></i><i style="background:linear-gradient(90deg,#97ff60 0px,#a4ff53 4.5px,#94ff63 6.5px,#6aff8d 8.5px,#1cffdb 10.5px,#00d0ff 11.5px,#0058ff 13.5px,#0028ff 14.5px,#0008ff 15.5px,#0000ff 17.5px,#0000ff 18.5px,#0018ff 19.5px,#00d8ff 24.5px,#0ff8e7 25.5px,#40ffb7 27.5px,#77ff80 31.5px,#8aff6d 35.5px,#80ff77 39.5px,#5dff9a 42.5px,#13fce4 46.5px,#06ecf1 47.5px,#02e8f4 48.5px,#19ffde 50.5px,#50ffa7 52.5px,#94ff63 54.5px,#beff39 56.5px,#c4ff33 57.5px,#adff49 59.5px,#73ff83 61.5px,#30ffc7 63.5px,#19ffde 64.5px,#02e8f4 66.5px,#06ecf1 67.5px,#13fce4 68.5px,#6aff8d 73.5px,#80ff77 75.5px,#8aff6d 80.5px,#6dff8a 84.5px,#40ffb7 87.5px,#0ff8e7 89.5px,#00d8ff 90.5px,#0018ff 95.5px,#0000ff 96.5px,#0000ff 98.5px,#0008ff 99.5px,#0028ff 100.5px,#0058ff 101.5px,#00d0ff 103.5px,#1cffdb 104.5px,#6aff8d 106.5px,#94ff63 108.5px,#a4ff53 110.5px,#9dff5a 114px)"></i><i style="background:linear-gradient(90deg,#80ff77 0px,#90ff66 4.5px,#8dff6a 6.5px,#70ff87 8.5px,#36ffc1 10.5px,#0cf4eb 11.5px,#00b8ff 12.5px,#0010ff 15.5px,#0000fa 16.5px,#0000e3 17.5px,#0000e3 18.5px,#0000ff 20.5px,#0058ff 22.5px,#00c0ff 24.5px,#09f0ee 25.5px,#2cffca 26.5px,#6aff8d 28.5px,#8dff6a 30.5px,#a4ff53 33.5px,#9aff5d 39.5px,#80ff77 42.5px,#49ffad 45.5px,#1cffdb 47.5px,#09f0ee 48.5px,#00dcfe 49.5px,#00ccff 51.5px,#00e4f8 54.5px,#13fce4 57.5px,#00dcfe 61.5px,#00ccff 63.5px,#00dcfe 65.5px,#09f0ee 66.5px,#1cffdb 67.5px,#70ff87 71.5px,#8dff6a 73.5px,#a4ff53 78.5px,#9dff5a 82.5px,#8dff6a 84.5px,#6aff8d 86.5px,#2cffca 88.5px,#09f0ee 89.5px,#00c0ff 90.5px,#0028ff 93.5px,#0000ff 94.5px,#0000e3 96.5px,#0000e3 97.5px,#0000fa 98.5px,#0010ff 99.5px,#00b8ff 102.5px,#0cf4eb 103.5px,#36ffc1 104.5px,#70ff87 106.5px,#8dff6a 108.5px,#90ff66 111.5px,#83ff73 114px)"></i><i style="background:linear-gradient(90deg,#63ff94 0px,#7dff7a 5.5px,#7aff7d 7.5px,#60ff97 9.5px,#29ffce 11.5px,#06ecf1 12.5px,#00b8ff 13.5px,#0054ff 15.5px,#000cff 17.5px,#0000ff 18.5px,#0000ff 19.5px,#0010ff 20.5px,#0030ff 21.5px,#00c0ff 24.5px,#0ff8e7 25.5px,#5aff9d 27.5px,#8dff6a 29.5px,#aaff4d 31.5px,#b7ff40 35.5px,#aaff4d 41.5px,#83ff73 44.5px,#56ffa0 46.5px,#1cffdb 48.5px,#00e0fb 49.5px,#007cff 52.5px,#004cff 55.5px,#0044ff 57.5px,#004cff 59.5px,#007cff 62.5px,#00e0fb 65.5px,#1cffdb 66.5px,#70ff87 69.5px,#a0ff56 72.5px,#b4ff43 76.5px,#b4ff43 81.5px,#aaff4d 83.5px,#8dff6a 85.5px,#5aff9d 87.5px,#0ff8e7 89.5px,#00c0ff 90.5px,#0030ff 93.5px,#0010ff 94.5px,#0000ff 95.5px,#0000ff 96.5px,#000cff 97.5px,#0054ff 99.5px,#00b8ff 101.5px,#06ecf1 102.5px,#29ffce 103.5px,#60ff97 105.5px,#7aff7d 107.5px,#77ff80 111.5px,#6aff8d 114px)"></i><i style="background:linear-gradient(90deg,#50ffa7 0px,#6dff8a 7.5px,#5aff9d 10.5px,#33ffc4 12.5px,#19ffde 13.5px,#00dcfe 14.5px,#0090ff 16.5px,#0060ff 18.5px,#0058ff 19.5px,#005cff 20.5px,#006cff 21.5px,#0088ff 22.5px,#00d8ff 24.5px,#19ffde 25.5px,#73ff83 28.5px,#9dff5a 30.5px,#b4ff43 33.5px,#baff3c 40.5px,#aaff4d 43.5px,#8dff6a 45.5px,#56ffa0 47.5px,#33ffc4 48.5px,#0cf4eb 49.5px,#00c0ff 50.5px,#002cff 53.5px,#0008ff 54.5px,#0000fa 55.5px,#0000e8 56.5px,#0000e8 58.5px,#0000fa 59.5px,#0008ff 60.5px,#002cff 61.5px,#00c0ff 64.5px,#0cf4eb 65.5px,#33ffc4 66.5px,#73ff83 68.5px,#9dff5a 70.5px,#b4ff43 72.5px,#baff3c 79.5px,#a7ff50 83.5px,#8aff6d 85.5px,#5aff9d 87.5px,#19ffde 89.5px,#00d8ff 90.5px,#0088ff 92.5px,#006cff 93.5px,#005cff 94.5px,#0058ff 95.5px,#0060ff 96.5px,#0090ff 98.5px,#00dcfe 100.5px,#19ffde 101.5px,#49ffad 103.5px,#63ff94 105.5px,#6dff8a 107.5px,#53ffa4 114px)"></i><i style="background:linear-gradient(90deg,#49ffad 0px,#6aff8d 10.5px,#53ffa4 13.5px,#19ffde 16.5px,#06ecf1 17.5px,#00d8ff 18.5px,#00c4ff 20.5px,#00d0ff 22.5px,#00e4f8 23.5px,#13fce4 24.5px,#7aff7d 29.5px,#a4ff53 33.5px,#b4ff43 41.5px,#a0ff56 44.5px,#80ff77 46.5px,#43ffb4 48.5px,#1cffdb 49.5px,#00d4ff 50.5px,#0064ff 52.5px,#0008ff 54.5px,#0000da 56.5px,#0000d1 57.5px,#0000da 58.5px,#0008ff 60.5px,#0064ff 62.5px,#00d4ff 64.5px,#1cffdb 65.5px,#66ff90 67.5px,#94ff63 69.5px,#b1ff46 72.5px,#adff49 78.5px,#9dff5a 82.5px,#7aff7d 85.5px,#13fce4 90.5px,#00e4f8 91.5px,#00d0ff 92.5px,#00c4ff 94.5px,#00d8ff 96.5px,#06ecf1 97.5px,#19ffde 98.5px,#53ffa4 101.5px,#6aff8d 104.5px,#56ffa0 110.5px,#4dffaa 114px)"></i><i style="background:linear-gradient(90deg,#50ffa7 0px,#5aff9d 5.5px,#83ff73 12.5px,#77ff80 15.5px,#33ffc4 21.5px,#33ffc4 24.5px,#56ffa0 28.5px,#8aff6d 34.5px,#9dff5a 41.5px,#87ff70 45.5px,#66ff90 47.5px,#30ffc7 49.5px,#0cf4eb 50.5px,#00c4ff 51.5px,#0044ff 54.5px,#0024ff 55.5px,#000cff 57.5px,#0024ff 59.5px,#006cff 61.5px,#00c4ff 63.5px,#0cf4eb 64.5px,#30ffc7 65.5px,#66ff90 67.5px,#87ff70 69.5px,#9dff5a 73.5px,#83ff73 81.5px,#39ffbe 89.5px,#30ffc7 92.5px,#39ffbe 94.5px,#77ff80 99.5px,#83ff73 102.5px,#53ffa4 111.5px,#50ffa7 114px)"></i><i style="background:linear-gradient(90deg,#60ff97 0px,#63ff94 5.5px,#94ff63 11.5px,#aaff4d 14.5px,#a0ff56 17.5px,#53ffa4 24.5px,#49ffad 28.5px,#7aff7d 40.5px,#77ff80 44.5px,#60ff97 47.5px,#13fce4 51.5px,#00dcfe 52.5px,#0094ff 55.5px,#0080ff 57.5px,#0094ff 59.5px,#00dcfe 62.5px,#13fce4 63.5px,#60ff97 67.5px,#7aff7d 71.5px,#70ff87 77.5px,#49ffad 86.5px,#53ffa4 90.5px,#a0ff56 97.5px,#aaff4d 100.5px,#63ff94 109.5px,#60ff97 114px)"></i><i style="background:linear-gradient(90deg,#73ff83 0px,#73ff83 4.5px,#87ff70 8.5px,#c1ff36 14.5px,#c7ff30 17.5px,#adff49 20.5px,#5aff9d 26.5px,#43ffb4 30.5px,#5dff9a 44.5px,#4dffaa 49.5px,#19ffde 56.5px,#1fffd7 59.5px,#56ffa0 67.5px,#5dff9a 71.5px,#43ffb4 84.5px,#5aff9d 88.5px,#baff3c 95.5px,#c7ff30 98.5px,#b7ff40 101.5px,#7aff7d 108.5px,#70ff87 112.5px,#73ff83 114px)"></i></div>
<svg style="left:215px;top:10px" width="114" height="143"><path d="M-62.33,118.19 L-52.35,108.07 L-45.17,108.07 L-35.19,118.19 L-26.91,118.19 L-16.93,108.07 L-9.75,108.07 L0.23,118.19 L8.51,118.19 L18.49,108.07 L25.67,108.07 L35.65,118.19 L43.93,118.19 L53.91,108.07 L61.09,108.07 L71.07,118.19 L79.35,118.19 L89.33,108.07 L96.51,108.07 L106.49,118.19 L114.77,118.19 L124.75,108.07 L131.93,108.07 L141.91,118.19 L150.19,118.19 L160.17,108.07 L167.35,108.07 L177.33,118.19" fill="none" stroke="#b8692a" stroke-width="0.9" stroke-opacity="0.9"/><circle cx="57.50" cy="25.89" r="0.55" fill="#8e44a8" fill-opacity="0.8"/></svg>
<div class="frm" style="left:215px;top:10px;width:112px;height:141px"></div>
<div class="ann" style="left:256.49px;top:26.0102px">Source/Receiver</div>
<div class="ann" style="left:217.3px;top:109.548px">Soil surface</div>
<div class="ttl" style="left:272px;top:1.4px">Centre frequency = 250 MHz</div>
<div class="yt" style="left:174.5px;top:21.91px">2.0</div>
<b class="tk" style="left:213px;top:24.81px;width:2px;height:0.8px"></b>
<div class="yt" style="left:174.5px;top:45.125px">1.5</div>
<b class="tk" style="left:213px;top:48.025px;width:2px;height:0.8px"></b>
<div class="yt" style="left:174.5px;top:68.34px">1.0</div>
<b class="tk" style="left:213px;top:71.24px;width:2px;height:0.8px"></b>
<div class="yt" style="left:174.5px;top:91.555px">0.5</div>
<b class="tk" style="left:213px;top:94.455px;width:2px;height:0.8px"></b>
<div class="yt" style="left:174.5px;top:114.77px">0.0</div>
<b class="tk" style="left:213px;top:117.67px;width:2px;height:0.8px"></b>
<div class="yt" style="left:174.5px;top:137.985px">−0.5</div>
<b class="tk" style="left:213px;top:140.885px;width:2px;height:0.8px"></b>
<div class="xt" style="left:206.5px;top:155.1px">−1.0</div>
<b class="tk" style="left:226.1px;top:153px;width:0.8px;height:1.8px"></b>
<div class="xt" style="left:229.5px;top:155.1px">−0.5</div>
<b class="tk" style="left:249.1px;top:153px;width:0.8px;height:1.8px"></b>
<div class="xt" style="left:252.5px;top:155.1px">0.0</div>
<b class="tk" style="left:272.1px;top:153px;width:0.8px;height:1.8px"></b>
<div class="xt" style="left:275.5px;top:155.1px">0.5</div>
<b class="tk" style="left:295.1px;top:153px;width:0.8px;height:1.8px"></b>
<div class="xt" style="left:298.5px;top:155.1px">1.0</div>
<b class="tk" style="left:318.1px;top:153px;width:0.8px;height:1.8px"></b>
<div class="yl" style="left:181.2px;top:76.4px"><i>y</i> (m)</div>
<div class="xl" style="left:252.5px;top:164.5px"><i>x</i> (m)</div>
<div class="cap" style="left:256px;top:181px">(b)</div>
<div class="cb" style="left:338px;top:10px;height:141px;background-image:linear-gradient(180deg,#800000 0.00%,#9f0000 3.12%,#c40000 6.25%,#e80000 9.38%,#ff1e00 12.50%,#ff3b00 15.62%,#ff5900 18.75%,#ff7700 21.88%,#ff9400 25.00%,#ffb200 28.12%,#ffd000 31.25%,#feed00 34.38%,#e4ff13 37.50%,#caff2c 40.62%,#b1ff46 43.75%,#97ff60 46.88%,#7dff7a 50.00%,#63ff94 53.12%,#49ffad 56.25%,#30ffc7 59.38%,#16ffe1 62.50%,#00e0fb 65.62%,#00c0ff 68.75%,#00a0ff 71.88%,#0080ff 75.00%,#0060ff 78.12%,#0040ff 81.25%,#0020ff 84.38%,#0000ff 87.50%,#0000ed 90.62%,#0000c8 93.75%,#0000a4 96.88%,#000080 100.00%)"></div>
<b class="tk" style="left:346px;top:21.9333px;width:2px;height:0.8px"></b>
<div class="ct" style="left:349.5px;top:18.2333px">100</div>
<b class="tk" style="left:346px;top:51.5167px;width:2px;height:0.8px"></b>
<div class="ct" style="left:349.5px;top:47.8167px">50</div>
<b class="tk" style="left:346px;top:81.1px;width:2px;height:0.8px"></b>
<div class="ct" style="left:349.5px;top:77.4px">0</div>
<b class="tk" style="left:346px;top:110.683px;width:2px;height:0.8px"></b>
<div class="ct" style="left:349.5px;top:106.983px">−50</div>
<b class="tk" style="left:346px;top:140.267px;width:2px;height:0.8px"></b>
<div class="ct" style="left:349.5px;top:136.567px">−100</div>
<div class="fld" style="left:398px;top:10px;width:115px;height:143px"><i style="background:linear-gradient(90deg,#77ff80 0px,#5dff9a 40.5px,#60ff97 87.5px,#77ff80 115px)"></i><i style="background:linear-gradient(90deg,#77ff80 0px,#5aff9d 34.5px,#5dff9a 69.5px,#5dff9a 90.5px,#73ff83 115px)"></i><i style="background:linear-gradient(90deg,#73ff83 0px,#53ffa4 33.5px,#60ff97 60.5px,#56ffa0 85.5px,#66ff90 103.5px,#73ff83 115px)"></i><i style="background:linear-gradient(90deg,#70ff87 0px,#50ffa7 29.5px,#66ff90 60.5px,#50ffa7 88.5px,#70ff87 115px)"></i><i style="background:linear-gradient(90deg,#6dff8a 0px,#4dffaa 25.5px,#56ffa0 38.5px,#6dff8a 58.5px,#56ffa0 77.5px,#4dffaa 91.5px,#6dff8a 115px)"></i><i style="background:linear-gradient(90deg,#66ff90 0px,#49ffad 23.5px,#56ffa0 36.5px,#73ff83 54.5px,#6dff8a 67.5px,#49ffad 89.5px,#53ffa4 102.5px,#66ff90 115px)"></i><i style="background:linear-gradient(90deg,#63ff94 0px,#46ffb1 20.5px,#53ffa4 32.5px,#7aff7d 51.5px,#7aff7d 64.5px,#46ffb1 91.5px,#53ffa4 106.5px,#63ff94 115px)"></i><i style="background:linear-gradient(90deg,#60ff97 0px,#46ffb1 17.5px,#50ffa7 28.5px,#80ff77 48.5px,#83ff73 61.5px,#73ff83 73.5px,#46ffb1 93.5px,#4dffaa 105.5px,#5dff9a 115px)"></i><i style="background:linear-gradient(90deg,#5aff9d 0px,#46ffb1 15.5px,#53ffa4 25.5px,#87ff70 45.5px,#8dff6a 63.5px,#73ff83 78.5px,#49ffad 94.5px,#49ffad 105.5px,#5aff9d 115px)"></i><i style="background:linear-gradient(90deg,#56ffa0 0px,#49ffad 13.5px,#5aff9d 23.5px,#8aff6d 40.5px,#94ff63 60.5px,#87ff70 76.5px,#49ffad 98.5px,#50ffa7 112.5px,#53ffa4 115px)"></i><i style="background:linear-gradient(90deg,#53ffa4 0px,#4dffaa 11.5px,#5dff9a 20.5px,#94ff63 36.5px,#97ff60 49.5px,#97ff60 68.5px,#94ff63 78.5px,#4dffaa 101.5px,#50ffa7 113.5px,#53ffa4 115px)"></i><i style="background:linear-gradient(90deg,#50ffa7 0px,#53ffa4 11.5px,#73ff83 21.5px,#9aff5d 30.5px,#a4ff53 40.5px,#94ff63 58.5px,#a4ff53 78.5px,#94ff63 86.5px,#53ffa4 103.5px,#50ffa7 115px)"></i><i style="background:linear-gradient(90deg,#53ffa4 0px,#5aff9d 9.5px,#7dff7a 18.5px,#adff49 29.5px,#b7ff40 36.5px,#8dff6a 56.5px,#97ff60 65.5px,#b4ff43 77.5px,#b4ff43 83.5px,#9aff5d 91.5px,#5dff9a 104.5px,#53ffa4 115px)"></i><i style="background:linear-gradient(90deg,#56ffa0 0px,#66ff90 9.5px,#beff39 26.5px,#caff2c 33.5px,#b7ff40 41.5px,#8aff6d 52.5px,#87ff70 60.5px,#aaff4d 71.5px,#c7ff30 80.5px,#c4ff33 87.5px,#94ff63 97.5px,#63ff94 107.5px,#56ffa0 115px)"></i><i style="background:linear-gradient(90deg,#5dff9a 0px,#7aff7d 9.5px,#d1ff26 24.5px,#deff19 31.5px,#c1ff36 40.5px,#83ff73 52.5px,#7aff7d 59.5px,#90ff66 66.5px,#d7ff1f 80.5px,#dbff1c 88.5px,#aaff4d 98.5px,#77ff80 106.5px,#5dff9a 115px)"></i><i style="background:linear-gradient(90deg,#66ff90 0px,#87ff70 8.5px,#e4ff13 22.5px,#f1fc06 28.5px,#dbff1c 36.5px,#7dff7a 51.5px,#70ff87 59.5px,#90ff66 67.5px,#e1ff16 80.5px,#f1fc06 87.5px,#deff19 94.5px,#70ff87 111.5px,#66ff90 115px)"></i><i style="background:linear-gradient(90deg,#73ff83 0px,#9dff5a 8.5px,#eeff09 19.5px,#fbf100 23.5px,#fbf100 29.5px,#e7ff0f 34.5px,#77ff80 51.5px,#6aff8d 57.5px,#70ff87 62.5px,#9dff5a 70.5px,#ebff0c 81.5px,#fbf100 86.5px,#fbf100 92.5px,#ebff0c 96.5px,#83ff73 111.5px,#73ff83 115px)"></i><i style="background:linear-gradient(90deg,#80ff77 0px,#b4ff43 8.5px,#f1fc06 16.5px,#ffea00 19.5px,#ffde00 25.5px,#f8f500 31.5px,#e4ff13 34.5px,#73ff83 51.5px,#66ff90 58.5px,#80ff77 66.5px,#eeff09 82.5px,#ffea00 86.5px,#ffde00 92.5px,#fbf100 97.5px,#e7ff0f 100.5px,#87ff70 113.5px,#83ff73 115px)"></i><i style="background:linear-gradient(90deg,#8dff6a 0px,#f1fc06 13.5px,#ffe600 16.5px,#ffd700 22.5px,#fbf100 29.5px,#e4ff13 33.5px,#80ff77 48.5px,#6dff8a 56.5px,#77ff80 64.5px,#adff49 74.5px,#f1fc06 84.5px,#ffea00 87.5px,#ffd700 93.5px,#ffde00 97.5px,#fbf100 100.5px,#e7ff0f 103.5px,#90ff66 115px)"></i><i style="background:linear-gradient(90deg,#9dff5a 0px,#f1fc06 11.5px,#ffe600 14.5px,#ffd700 20.5px,#fbf100 27.5px,#e7ff0f 30.5px,#97ff60 43.5px,#7dff7a 51.5px,#7aff7d 62.5px,#9dff5a 73.5px,#f1fc06 86.5px,#ffe600 90.5px,#ffd700 96.5px,#feed00 102.5px,#f1fc06 104.5px,#a0ff56 115px)"></i><i style="background:linear-gradient(90deg,#aaff4d 0px,#eeff09 9.5px,#fbf100 11.5px,#ffdb00 17.5px,#feed00 23.5px,#eeff09 26.5px,#9aff5d 40.5px,#8aff6d 50.5px,#8dff6a 70.5px,#b1ff46 79.5px,#eeff09 89.5px,#ffe600 93.5px,#ffde00 99.5px,#fbf100 104.5px,#e4ff13 107.5px,#adff49 115px)"></i><i style="background:linear-gradient(90deg,#b4ff43 0px,#eeff09 8.5px,#ffea00 12.5px,#ffea00 17.5px,#f1fc06 21.5px,#9aff5d 36.5px,#8dff6a 42.5px,#a7ff50 58.5px,#8dff6a 73.5px,#a4ff53 81.5px,#eeff09 93.5px,#feed00 97.5px,#ffe600 101.5px,#f1fc06 106.5px,#b7ff40 115px)"></i><i style="background:linear-gradient(90deg,#baff3c 0px,#eeff09 8.5px,#f8f500 13.5px,#e4ff13 19.5px,#97ff60 31.5px,#87ff70 36.5px,#8aff6d 42.5px,#c4ff33 55.5px,#beff39 61.5px,#87ff70 74.5px,#8aff6d 80.5px,#b1ff46 88.5px,#ebff0c 97.5px,#f8f500 103.5px,#e7ff0f 108.5px,#beff39 115px)"></i><i style="background:linear-gradient(90deg,#beff39 0px,#e7ff0f 8.5px,#e4ff13 13.5px,#b7ff40 21.5px,#83ff73 29.5px,#73ff83 35.5px,#83ff73 41.5px,#e1ff16 54.5px,#e4ff13 59.5px,#ceff29 64.5px,#87ff70 73.5px,#73ff83 79.5px,#80ff77 85.5px,#e4ff13 101.5px,#e7ff0f 107.5px,#c1ff36 115px)"></i><i style="background:linear-gradient(90deg,#beff39 0px,#dbff1c 7.5px,#ceff29 13.5px,#6aff8d 28.5px,#60ff97 34.5px,#73ff83 39.5px,#c1ff36 47.5px,#f1fc06 52.5px,#ffea00 55.5px,#ffe200 58.5px,#f8f500 62.5px,#eeff09 63.5px,#7aff7d 75.5px,#63ff94 79.5px,#63ff94 85.5px,#97ff60 94.5px,#ceff29 102.5px,#dbff1c 107.5px,#c7ff30 113.5px,#c1ff36 115px)"></i><i style="background:linear-gradient(90deg,#baff3c 0px,#caff2c 7.5px,#b1ff46 13.5px,#60ff97 24.5px,#4dffaa 30.5px,#56ffa0 35.5px,#87ff70 41.5px,#eeff09 49.5px,#ffea00 51.5px,#ffcc00 54.5px,#ffc100 58.5px,#ffd700 62.5px,#feed00 64.5px,#f4f802 65.5px,#c1ff36 69.5px,#7aff7d 75.5px,#53ffa4 80.5px,#4dffaa 85.5px,#63ff94 91.5px,#c4ff33 105.5px,#c7ff30 111.5px,#beff39 115px)"></i><i style="background:linear-gradient(90deg,#b4ff43 0px,#baff3c 5.5px,#adff49 9.5px,#49ffad 23.5px,#39ffbe 29.5px,#49ffad 34.5px,#6aff8d 38.5px,#c7ff30 45.5px,#f4f802 48.5px,#ffea00 49.5px,#ffb200 54.5px,#ffa700 58.5px,#ffbd00 62.5px,#fbf100 66.5px,#eeff09 67.5px,#70ff87 76.5px,#46ffb1 81.5px,#3cffba 87.5px,#4dffaa 92.5px,#8dff6a 101.5px,#b4ff43 107.5px,#beff39 111.5px,#b7ff40 115px)"></i><i style="background:linear-gradient(90deg,#adff49 0px,#adff49 5.5px,#87ff70 11.5px,#46ffb1 19.5px,#30ffc7 25.5px,#30ffc7 30.5px,#4dffaa 35.5px,#a7ff50 42.5px,#e7ff0f 46.5px,#f4f802 47.5px,#ffea00 48.5px,#ffb200 52.5px,#ff9800 57.5px,#ffa700 61.5px,#ffde00 66.5px,#feed00 67.5px,#eeff09 68.5px,#5dff9a 78.5px,#36ffc1 83.5px,#2cffca 89.5px,#50ffa7 97.5px,#a7ff50 108.5px,#b1ff46 115px)"></i><i style="background:linear-gradient(90deg,#aaff4d 0px,#a4ff53 4.5px,#7aff7d 10.5px,#36ffc1 18.5px,#1fffd7 25.5px,#29ffce 30.5px,#50ffa7 35.5px,#c4ff33 43.5px,#f1fc06 46.5px,#ffea00 47.5px,#ffb600 51.5px,#ff9800 56.5px,#ff9c00 60.5px,#ffb900 64.5px,#fbf100 68.5px,#ebff0c 69.5px,#63ff94 78.5px,#33ffc4 83.5px,#1fffd7 88.5px,#29ffce 94.5px,#50ffa7 100.5px,#a0ff56 110.5px,#aaff4d 115px)"></i><i style="background:linear-gradient(90deg,#aaff4d 0px,#8dff6a 6.5px,#33ffc4 16.5px,#19ffde 21.5px,#19ffde 27.5px,#40ffb7 33.5px,#a0ff56 40.5px,#ebff0c 45.5px,#f8f500 46.5px,#ffcc00 49.5px,#ffa700 54.5px,#ff9f00 58.5px,#ffbd00 64.5px,#ffea00 68.5px,#f4f802 69.5px,#baff3c 73.5px,#46ffb1 81.5px,#1fffd7 86.5px,#16ffe1 92.5px,#30ffc7 98.5px,#73ff83 106.5px,#9dff5a 111.5px,#a7ff50 115px)"></i><i style="background:linear-gradient(90deg,#aaff4d 0px,#94ff63 4.5px,#2cffca 15.5px,#0ff8e7 21.5px,#16ffe1 27.5px,#46ffb1 33.5px,#eeff09 45.5px,#ffea00 47.5px,#ffc400 52.5px,#ffb900 58.5px,#ffcc00 64.5px,#feed00 68.5px,#ebff0c 70.5px,#4dffaa 81.5px,#26ffd1 85.5px,#0ff8e7 90.5px,#19ffde 96.5px,#40ffb7 102.5px,#a0ff56 112.5px,#aaff4d 115px)"></i><i style="background:linear-gradient(90deg,#b1ff46 0px,#94ff63 4.5px,#36ffc1 13.5px,#0ff8e7 19.5px,#09f0ee 24.5px,#19ffde 28.5px,#4dffaa 33.5px,#caff2c 42.5px,#f1fc06 46.5px,#ffe600 51.5px,#ffe600 64.5px,#f4f802 68.5px,#d4ff23 72.5px,#30ffc7 84.5px,#0ff8e7 89.5px,#09f0ee 93.5px,#1fffd7 99.5px,#6dff8a 107.5px,#a7ff50 113.5px,#adff49 115px)"></i><i style="background:linear-gradient(90deg,#beff39 0px,#80ff77 6.5px,#29ffce 14.5px,#0ff8e7 18.5px,#06ecf1 23.5px,#13fce4 27.5px,#39ffbe 31.5px,#c1ff36 41.5px,#e1ff16 46.5px,#deff19 62.5px,#e1ff16 68.5px,#ceff29 72.5px,#97ff60 77.5px,#33ffc4 84.5px,#0ff8e7 88.5px,#06ecf1 93.5px,#13fce4 97.5px,#40ffb7 103.5px,#b1ff46 113.5px,#b7ff40 115px)"></i><i style="background:linear-gradient(90deg,#caff2c 0px,#87ff70 6.5px,#2cffca 14.5px,#0ff8e7 18.5px,#02e8f4 22.5px,#09f0ee 26.5px,#23ffd4 29.5px,#a7ff50 39.5px,#c1ff36 43.5px,#c1ff36 48.5px,#a0ff56 56.5px,#aaff4d 62.5px,#c4ff33 68.5px,#c1ff36 72.5px,#a4ff53 76.5px,#1fffd7 86.5px,#06ecf1 90.5px,#06ecf1 94.5px,#1fffd7 99.5px,#5aff9d 105.5px,#baff3c 113.5px,#c4ff33 115px)"></i><i style="background:linear-gradient(90deg,#dbff1c 0px,#3cffba 13.5px,#19ffde 17.5px,#02e8f4 21.5px,#02e8f4 25.5px,#19ffde 28.5px,#97ff60 38.5px,#aaff4d 42.5px,#a0ff56 46.5px,#6aff8d 54.5px,#60ff97 58.5px,#77ff80 63.5px,#a7ff50 70.5px,#a7ff50 74.5px,#87ff70 78.5px,#1fffd7 86.5px,#16ffe1 87.5px,#02e8f4 90.5px,#02e8f4 94.5px,#19ffde 98.5px,#6dff8a 106.5px,#d4ff23 115px)"></i><i style="background:linear-gradient(90deg,#e7ff0f 0px,#43ffb4 13.5px,#13fce4 18.5px,#00e4f8 22.5px,#02e8f4 25.5px,#19ffde 28.5px,#7dff7a 36.5px,#94ff63 40.5px,#87ff70 44.5px,#26ffd1 54.5px,#1cffdb 58.5px,#30ffc7 62.5px,#87ff70 71.5px,#94ff63 75.5px,#7aff7d 79.5px,#16ffe1 87.5px,#02e8f4 90.5px,#02e8f4 94.5px,#16ffe1 97.5px,#6aff8d 105.5px,#e1ff16 115px)"></i><i style="background:linear-gradient(90deg,#f4f802 0px,#c1ff36 4.5px,#40ffb7 14.5px,#13fce4 19.5px,#02e8f4 22.5px,#02e8f4 24.5px,#16ffe1 27.5px,#6dff8a 35.5px,#7dff7a 39.5px,#66ff90 43.5px,#19ffde 49.5px,#00e4f8 51.5px,#00c0ff 54.5px,#00b4ff 57.5px,#00c4ff 61.5px,#00dcfe 63.5px,#13fce4 65.5px,#73ff83 73.5px,#7dff7a 77.5px,#60ff97 81.5px,#13fce4 88.5px,#02e8f4 91.5px,#13fce4 96.5px,#6aff8d 104.5px,#eeff09 115px)"></i><i style="background:linear-gradient(90deg,#fbf100 0px,#eeff09 1.5px,#60ff97 12.5px,#19ffde 19.5px,#0cf4eb 23.5px,#1fffd7 27.5px,#63ff94 34.5px,#6dff8a 37.5px,#56ffa0 41.5px,#1fffd7 45.5px,#0ff8e7 46.5px,#00e4f8 47.5px,#00a8ff 50.5px,#007cff 53.5px,#0064ff 56.5px,#006cff 60.5px,#0090ff 63.5px,#00d8ff 67.5px,#06ecf1 68.5px,#16ffe1 69.5px,#5aff9d 74.5px,#6dff8a 77.5px,#60ff97 81.5px,#16ffe1 89.5px,#0cf4eb 92.5px,#1cffdb 96.5px,#5aff9d 102.5px,#f1fc06 115px)"></i><i style="background:linear-gradient(90deg,#f8f500 0px,#ebff0c 1.5px,#73ff83 11.5px,#26ffd1 19.5px,#1fffd7 23.5px,#33ffc4 27.5px,#5dff9a 32.5px,#63ff94 36.5px,#43ffb4 40.5px,#13fce4 43.5px,#00e4f8 44.5px,#00a0ff 47.5px,#0044ff 52.5px,#0024ff 55.5px,#001cff 58.5px,#003cff 62.5px,#006cff 65.5px,#00d8ff 70.5px,#19ffde 72.5px,#53ffa4 76.5px,#63ff94 80.5px,#53ffa4 84.5px,#23ffd4 90.5px,#1fffd7 94.5px,#39ffbe 98.5px,#c7ff30 111.5px,#eeff09 115px)"></i><i style="background:linear-gradient(90deg,#ebff0c 0px,#94ff63 8.5px,#46ffb1 17.5px,#36ffc1 21.5px,#43ffb4 25.5px,#6aff8d 32.5px,#5dff9a 36.5px,#26ffd1 40.5px,#13fce4 41.5px,#00e4f8 42.5px,#0098ff 45.5px,#0028ff 50.5px,#0000ff 53.5px,#0000f6 58.5px,#0004ff 62.5px,#0044ff 66.5px,#00d4ff 72.5px,#06ecf1 73.5px,#19ffde 74.5px,#56ffa0 78.5px,#6aff8d 81.5px,#60ff97 85.5px,#39ffbe 92.5px,#3cffba 96.5px,#7aff7d 104.5px,#caff2c 112.5px,#e4ff13 115px)"></i><i style="background:linear-gradient(90deg,#d4ff23 0px,#97ff60 6.5px,#5dff9a 16.5px,#56ffa0 20.5px,#80ff77 29.5px,#7aff7d 33.5px,#46ffb1 37.5px,#1fffd7 39.5px,#0cf4eb 40.5px,#00d8ff 41.5px,#0050ff 46.5px,#0000ff 50.5px,#0000ff 51.5px,#0000da 54.5px,#0000cd 57.5px,#0000df 61.5px,#0000ff 64.5px,#0018ff 66.5px,#0090ff 71.5px,#00e4f8 74.5px,#13fce4 75.5px,#5dff9a 79.5px,#80ff77 83.5px,#7aff7d 87.5px,#56ffa0 94.5px,#5dff9a 99.5px,#a4ff53 110.5px,#caff2c 115px)"></i><i style="background:linear-gradient(90deg,#b1ff46 0px,#87ff70 5.5px,#6dff8a 13.5px,#77ff80 19.5px,#a7ff50 27.5px,#a7ff50 30.5px,#8aff6d 33.5px,#40ffb7 37.5px,#0ff8e7 39.5px,#00d8ff 40.5px,#004cff 45.5px,#001cff 47.5px,#0000ff 49.5px,#0000ed 51.5px,#0000c8 55.5px,#0000c8 59.5px,#0000e3 63.5px,#0000ff 65.5px,#0000ff 66.5px,#003cff 69.5px,#00c8ff 74.5px,#00e4f8 75.5px,#19ffde 76.5px,#70ff87 80.5px,#9aff5d 83.5px,#aaff4d 86.5px,#9aff5d 90.5px,#70ff87 97.5px,#70ff87 103.5px,#90ff66 111.5px,#aaff4d 115px)"></i><i style="background:linear-gradient(90deg,#83ff73 0px,#6aff8d 4.5px,#6aff8d 11.5px,#80ff77 16.5px,#d7ff1f 25.5px,#deff19 28.5px,#c4ff33 31.5px,#8aff6d 34.5px,#1fffd7 38.5px,#02e8f4 39.5px,#00c8ff 40.5px,#0050ff 44.5px,#0014ff 47.5px,#0004ff 48.5px,#0000f1 51.5px,#0000d6 57.5px,#0000e3 62.5px,#0000ff 65.5px,#0008ff 67.5px,#0044ff 70.5px,#00b4ff 74.5px,#00d4ff 75.5px,#0ff8e7 76.5px,#7dff7a 80.5px,#baff3c 83.5px,#dbff1c 86.5px,#dbff1c 89.5px,#77ff80 100.5px,#66ff90 106.5px,#70ff87 112.5px,#80ff77 115px)"></i><i style="background:linear-gradient(90deg,#50ffa7 0px,#40ffb7 5.5px,#5dff9a 11.5px,#a0ff56 17.5px,#f1fc06 22.5px,#feed00 23.5px,#ffd300 26.5px,#ffd700 28.5px,#f8f500 30.5px,#e7ff0f 31.5px,#7dff7a 35.5px,#1cffdb 38.5px,#00e4f8 39.5px,#0080ff 42.5px,#0050ff 44.5px,#001cff 47.5px,#0004ff 50.5px,#0004ff 65.5px,#0030ff 69.5px,#0070ff 72.5px,#00ccff 75.5px,#0cf4eb 76.5px,#29ffce 77.5px,#a7ff50 81.5px,#eeff09 84.5px,#feed00 85.5px,#ffd700 87.5px,#ffd300 89.5px,#f8f500 92.5px,#ebff0c 93.5px,#80ff77 100.5px,#53ffa4 105.5px,#40ffb7 111.5px,#4dffaa 115px)"></i><i style="background:linear-gradient(90deg,#19ffde 0px,#16ffe1 4.5px,#2cffca 8.5px,#5dff9a 12.5px,#a4ff53 16.5px,#e7ff0f 19.5px,#fbf100 20.5px,#ffae00 23.5px,#ff9800 25.5px,#ff9800 27.5px,#ff9f00 28.5px,#ffc400 30.5px,#ffe200 31.5px,#ebff0c 32.5px,#1fffd7 38.5px,#00e4f8 39.5px,#00a0ff 41.5px,#005cff 44.5px,#0038ff 47.5px,#0030ff 52.5px,#0034ff 67.5px,#0044ff 69.5px,#0078ff 72.5px,#00b0ff 74.5px,#00d0ff 75.5px,#0cf4eb 76.5px,#2cffca 77.5px,#dbff1c 82.5px,#f8f500 83.5px,#ffbd00 85.5px,#ff9c00 87.5px,#ff9400 89.5px,#ffb600 92.5px,#ffe200 94.5px,#f4f802 95.5px,#9dff5a 99.5px,#56ffa0 103.5px,#29ffce 107.5px,#13fce4 111.5px,#16ffe1 115px)"></i><i style="background:linear-gradient(90deg,#00c0ff 0px,#00c0ff 3.5px,#00dcfe 6.5px,#02e8f4 7.5px,#1cffdb 9.5px,#66ff90 13.5px,#ceff29 17.5px,#ebff0c 18.5px,#ffe600 19.5px,#ffa700 21.5px,#ff6c00 24.5px,#ff6000 25.5px,#ff6400 27.5px,#ff8600 29.5px,#ffe600 32.5px,#e1ff16 33.5px,#49ffad 37.5px,#29ffce 38.5px,#09f0ee 39.5px,#00d0ff 40.5px,#0098ff 42.5px,#0078ff 44.5px,#0068ff 46.5px,#0068ff 49.5px,#0084ff 56.5px,#007cff 61.5px,#0064ff 67.5px,#0070ff 70.5px,#00a0ff 73.5px,#00dcfe 75.5px,#16ffe1 76.5px,#a4ff53 80.5px,#eeff09 82.5px,#ffd700 83.5px,#ff7e00 86.5px,#ff6c00 87.5px,#ff6000 89.5px,#ff6f00 91.5px,#ff9800 93.5px,#fbf100 96.5px,#deff19 97.5px,#5dff9a 102.5px,#16ffe1 106.5px,#00e0fb 108.5px,#00c0ff 112.5px,#00c0ff 115px)"></i><i style="background:linear-gradient(90deg,#0080ff 0px,#008cff 3.5px,#00b0ff 6.5px,#00d4ff 8.5px,#02e8f4 9.5px,#16ffe1 10.5px,#5dff9a 13.5px,#dbff1c 17.5px,#fbf100 18.5px,#ff8600 21.5px,#ff4300 24.5px,#ff3b00 26.5px,#ff4300 27.5px,#ff6c00 29.5px,#ffae00 31.5px,#ffd700 32.5px,#eeff09 33.5px,#56ffa0 37.5px,#19ffde 39.5px,#00e4f8 40.5px,#00a8ff 43.5px,#009cff 46.5px,#00bcff 51.5px,#00dcfe 55.5px,#00dcfe 59.5px,#00c4ff 63.5px,#009cff 68.5px,#009cff 70.5px,#00c0ff 73.5px,#00d4ff 74.5px,#09f0ee 75.5px,#23ffd4 76.5px,#adff49 80.5px,#d4ff23 81.5px,#fbf100 82.5px,#ff9f00 84.5px,#ff6000 86.5px,#ff3f00 88.5px,#ff3f00 90.5px,#ff5d00 92.5px,#ffb600 95.5px,#ffdb00 96.5px,#eeff09 97.5px,#6dff8a 101.5px,#23ffd4 104.5px,#0cf4eb 105.5px,#00e0fb 106.5px,#00a8ff 109.5px,#0088ff 112.5px,#0080ff 115px)"></i><i style="background:linear-gradient(90deg,#004cff 0px,#006cff 4.5px,#009cff 7.5px,#00ccff 9.5px,#02e8f4 10.5px,#19ffde 11.5px,#97ff60 15.5px,#deff19 17.5px,#ffe600 18.5px,#ff7700 21.5px,#ff4300 23.5px,#ff2d00 25.5px,#ff2d00 26.5px,#ff4a00 28.5px,#ff8200 30.5px,#ffd000 32.5px,#f4f802 33.5px,#63ff94 37.5px,#2cffca 39.5px,#19ffde 40.5px,#00e0fb 42.5px,#00d4ff 45.5px,#00e0fb 47.5px,#19ffde 50.5px,#40ffb7 55.5px,#43ffb4 59.5px,#1fffd7 64.5px,#02e8f4 67.5px,#00d8ff 69.5px,#00d8ff 72.5px,#00e4f8 73.5px,#1fffd7 75.5px,#50ffa7 77.5px,#dbff1c 81.5px,#ffea00 82.5px,#ff7300 85.5px,#ff3f00 87.5px,#ff3000 88.5px,#ff2d00 90.5px,#ff4a00 92.5px,#ff8200 94.5px,#ffd000 96.5px,#f4f802 97.5px,#66ff90 101.5px,#0ff8e7 104.5px,#00dcfe 105.5px,#0094ff 108.5px,#005cff 112.5px,#0050ff 115px)"></i><i style="background:linear-gradient(90deg,#0028ff 0px,#0050ff 4.5px,#0084ff 7.5px,#00b4ff 9.5px,#00d4ff 10.5px,#0cf4eb 11.5px,#29ffce 12.5px,#b4ff43 16.5px,#dbff1c 17.5px,#ffea00 18.5px,#ff7700 21.5px,#ff5900 22.5px,#ff3800 24.5px,#ff3800 26.5px,#ff5500 28.5px,#ff6c00 29.5px,#ffd300 32.5px,#f1fc06 33.5px,#8dff6a 36.5px,#46ffb1 39.5px,#29ffce 41.5px,#1fffd7 44.5px,#40ffb7 48.5px,#80ff77 54.5px,#8dff6a 58.5px,#73ff83 62.5px,#29ffce 69.5px,#1fffd7 72.5px,#2cffca 74.5px,#63ff94 77.5px,#dbff1c 81.5px,#feed00 82.5px,#ff7e00 85.5px,#ff4a00 87.5px,#ff3400 89.5px,#ff3b00 91.5px,#ff6400 93.5px,#ffd000 96.5px,#f1fc06 97.5px,#39ffbe 102.5px,#1cffdb 103.5px,#00e4f8 104.5px,#0094ff 107.5px,#0058ff 110.5px,#002cff 115px)"></i><i style="background:linear-gradient(90deg,#0014ff 0px,#0044ff 4.5px,#0078ff 7.5px,#00c4ff 10.5px,#02e8f4 11.5px,#1fffd7 12.5px,#aaff4d 16.5px,#f4f802 18.5px,#ffd000 19.5px,#ff8d00 21.5px,#ff6000 23.5px,#ff5200 25.5px,#ff6400 27.5px,#ffa700 30.5px,#ffe600 32.5px,#e7ff0f 33.5px,#97ff60 36.5px,#60ff97 39.5px,#4dffaa 42.5px,#60ff97 46.5px,#beff39 54.5px,#caff2c 58.5px,#b1ff46 62.5px,#5dff9a 69.5px,#4dffaa 73.5px,#66ff90 76.5px,#a0ff56 79.5px,#f1fc06 82.5px,#ffdb00 83.5px,#ff8200 86.5px,#ff5d00 88.5px,#ff5200 90.5px,#ff6800 92.5px,#ff7a00 93.5px,#ffde00 96.5px,#e7ff0f 97.5px,#33ffc4 102.5px,#13fce4 103.5px,#00d8ff 104.5px,#0084ff 107.5px,#003cff 111.5px,#001cff 115px)"></i><i style="background:linear-gradient(90deg,#0018ff 0px,#0048ff 4.5px,#0078ff 7.5px,#00c4ff 10.5px,#00e4f8 11.5px,#19ffde 12.5px,#e1ff16 18.5px,#ffea00 19.5px,#ffb200 21.5px,#ff9100 23.5px,#ff8900 25.5px,#ffab00 28.5px,#feed00 31.5px,#e7ff0f 32.5px,#a0ff56 36.5px,#87ff70 38.5px,#7aff7d 41.5px,#83ff73 44.5px,#eeff09 54.5px,#fbf100 58.5px,#ebff0c 61.5px,#87ff70 70.5px,#7aff7d 74.5px,#8aff6d 77.5px,#c7ff30 81.5px,#f1fc06 83.5px,#ffe200 84.5px,#ffa300 87.5px,#ff8d00 89.5px,#ff8d00 91.5px,#ff9400 92.5px,#ffd700 95.5px,#f4f802 96.5px,#6dff8a 100.5px,#0ff8e7 103.5px,#00d4ff 104.5px,#009cff 106.5px,#0040ff 111.5px,#001cff 115px)"></i><i style="background:linear-gradient(90deg,#002cff 0px,#0078ff 6.5px,#00b0ff 9.5px,#00ccff 10.5px,#02e8f4 11.5px,#1cffdb 12.5px,#e1ff16 19.5px,#f4f802 20.5px,#ffe600 21.5px,#ffd000 24.5px,#ffe600 27.5px,#f8f500 28.5px,#ebff0c 29.5px,#b1ff46 34.5px,#9dff5a 38.5px,#adff49 43.5px,#d7ff1f 48.5px,#eeff09 50.5px,#ffea00 52.5px,#ffd300 55.5px,#ffcc00 58.5px,#ffdb00 61.5px,#feed00 63.5px,#ebff0c 65.5px,#b1ff46 71.5px,#9dff5a 75.5px,#a7ff50 79.5px,#caff2c 83.5px,#f1fc06 86.5px,#feed00 87.5px,#ffd300 90.5px,#ffd300 92.5px,#feed00 94.5px,#eeff09 95.5px,#83ff73 99.5px,#0ff8e7 103.5px,#00dcfe 104.5px,#0094ff 107.5px,#003cff 113.5px,#0034ff 115px)"></i><i style="background:linear-gradient(90deg,#0050ff 0px,#00b4ff 8.5px,#00e0fb 10.5px,#0ff8e7 11.5px,#6dff8a 15.5px,#baff3c 19.5px,#ceff29 21.5px,#ceff29 24.5px,#9dff5a 31.5px,#a0ff56 35.5px,#eeff09 46.5px,#ffde00 50.5px,#ffbd00 55.5px,#ffbd00 59.5px,#ffe200 65.5px,#f1fc06 68.5px,#a0ff56 80.5px,#a0ff56 84.5px,#d1ff26 91.5px,#caff2c 94.5px,#b4ff43 96.5px,#63ff94 100.5px,#1cffdb 103.5px,#06ecf1 104.5px,#00d4ff 105.5px,#0084ff 110.5px,#0058ff 115px)"></i><i style="background:linear-gradient(90deg,#0084ff 0px,#00ccff 7.5px,#00dcfe 8.5px,#13fce4 10.5px,#87ff70 17.5px,#97ff60 19.5px,#90ff66 22.5px,#66ff90 27.5px,#63ff94 30.5px,#7aff7d 33.5px,#eeff09 41.5px,#ffe600 44.5px,#ffb900 56.5px,#ffcc00 65.5px,#fbf100 72.5px,#e7ff0f 74.5px,#77ff80 82.5px,#60ff97 85.5px,#70ff87 89.5px,#94ff63 93.5px,#94ff63 96.5px,#73ff83 99.5px,#1cffdb 104.5px,#00e4f8 106.5px,#00bcff 109.5px,#008cff 115px)"></i><i style="background:linear-gradient(90deg,#00c0ff 0px,#00e4f8 4.5px,#16ffe1 7.5px,#5aff9d 13.5px,#77ff80 16.5px,#73ff83 19.5px,#43ffb4 23.5px,#1cffdb 26.5px,#16ffe1 28.5px,#23ffd4 30.5px,#56ffa0 33.5px,#d4ff23 38.5px,#e7ff0f 39.5px,#fbf100 40.5px,#ffc800 43.5px,#ffbd00 47.5px,#ffc800 56.5px,#ffc100 67.5px,#ffc100 70.5px,#ffd700 73.5px,#ffe600 74.5px,#f4f802 75.5px,#9aff5d 79.5px,#39ffbe 83.5px,#1cffdb 85.5px,#16ffe1 87.5px,#1fffd7 89.5px,#6dff8a 95.5px,#7aff7d 97.5px,#6dff8a 100.5px,#19ffde 107.5px,#02e8f4 110.5px,#00d0ff 113.5px,#00c8ff 115px)"></i><i style="background:linear-gradient(90deg,#16ffe1 0px,#50ffa7 9.5px,#7aff7d 14.5px,#70ff87 17.5px,#56ffa0 19.5px,#16ffe1 22.5px,#02e8f4 23.5px,#00ccff 24.5px,#00acff 26.5px,#00a4ff 27.5px,#00b0ff 29.5px,#00e0fb 31.5px,#16ffe1 32.5px,#dbff1c 38.5px,#f4f802 39.5px,#ffde00 40.5px,#ffb900 42.5px,#ffab00 44.5px,#ffae00 47.5px,#ffe200 55.5px,#ffdb00 61.5px,#ffab00 69.5px,#ffb200 72.5px,#ffd000 74.5px,#ffe600 75.5px,#ebff0c 76.5px,#8dff6a 79.5px,#29ffce 82.5px,#09f0ee 83.5px,#00d4ff 84.5px,#00acff 86.5px,#00a4ff 87.5px,#00b0ff 89.5px,#00d8ff 91.5px,#09f0ee 92.5px,#1fffd7 93.5px,#5dff9a 96.5px,#7aff7d 99.5px,#6aff8d 103.5px,#39ffbe 109.5px,#1cffdb 115px)"></i><i style="background:linear-gradient(90deg,#49ffad 0px,#94ff63 13.5px,#80ff77 16.5px,#5aff9d 18.5px,#23ffd4 20.5px,#06ecf1 21.5px,#00c8ff 22.5px,#0084ff 24.5px,#006cff 25.5px,#0058ff 27.5px,#005cff 28.5px,#0084ff 30.5px,#00d0ff 32.5px,#16ffe1 33.5px,#dbff1c 38.5px,#fbf100 39.5px,#ffb900 41.5px,#ff9f00 43.5px,#ff9f00 46.5px,#fbf100 53.5px,#ebff0c 56.5px,#f1fc06 60.5px,#ffe200 63.5px,#ffa700 68.5px,#ff9c00 71.5px,#ffae00 73.5px,#ffde00 75.5px,#eeff09 76.5px,#80ff77 79.5px,#2cffca 81.5px,#06ecf1 82.5px,#00c0ff 83.5px,#0078ff 85.5px,#0064ff 86.5px,#0058ff 88.5px,#0078ff 90.5px,#00b0ff 92.5px,#00d4ff 93.5px,#13fce4 94.5px,#63ff94 97.5px,#83ff73 99.5px,#90ff66 101.5px,#83ff73 105.5px,#56ffa0 112.5px,#4dffaa 115px)"></i><i style="background:linear-gradient(90deg,#77ff80 0px,#a4ff53 8.5px,#b7ff40 12.5px,#aaff4d 14.5px,#8aff6d 16.5px,#53ffa4 18.5px,#0ff8e7 20.5px,#00c8ff 21.5px,#0050ff 24.5px,#0034ff 25.5px,#0024ff 26.5px,#0020ff 27.5px,#0038ff 29.5px,#0054ff 30.5px,#00a8ff 32.5px,#00dcfe 33.5px,#26ffd1 34.5px,#d4ff23 38.5px,#f8f500 39.5px,#ffb900 41.5px,#ff9800 43.5px,#ff9800 45.5px,#ffb900 48.5px,#feed00 51.5px,#f1fc06 52.5px,#ceff29 56.5px,#ceff29 59.5px,#ebff0c 62.5px,#f8f500 63.5px,#ffc100 66.5px,#ff9c00 69.5px,#ff9400 71.5px,#ffab00 73.5px,#ffde00 75.5px,#ebff0c 76.5px,#70ff87 79.5px,#13fce4 81.5px,#00c8ff 82.5px,#0094ff 83.5px,#0048ff 85.5px,#0030ff 86.5px,#0020ff 88.5px,#0040ff 90.5px,#005cff 91.5px,#00acff 93.5px,#00dcfe 94.5px,#1cffdb 95.5px,#7dff7a 98.5px,#a4ff53 100.5px,#b4ff43 102.5px,#adff49 105.5px,#7aff7d 115px)"></i><i style="background:linear-gradient(90deg,#9aff5d 0px,#dbff1c 10.5px,#d4ff23 13.5px,#b4ff43 15.5px,#7aff7d 17.5px,#2cffca 19.5px,#02e8f4 20.5px,#00b4ff 21.5px,#0054ff 23.5px,#0014ff 25.5px,#0004ff 26.5px,#0004ff 28.5px,#0034ff 30.5px,#008cff 32.5px,#00c0ff 33.5px,#13fce4 34.5px,#c7ff30 38.5px,#ebff0c 39.5px,#ffde00 40.5px,#ffab00 42.5px,#ff9800 44.5px,#ffae00 47.5px,#ffea00 50.5px,#f1fc06 51.5px,#c1ff36 54.5px,#adff49 57.5px,#baff3c 60.5px,#e4ff13 63.5px,#f8f500 64.5px,#ffb900 67.5px,#ff9f00 69.5px,#ff9c00 71.5px,#ffb200 73.5px,#ffea00 75.5px,#deff19 76.5px,#5dff9a 79.5px,#2cffca 80.5px,#00e4f8 81.5px,#0078ff 83.5px,#0028ff 85.5px,#0000ff 87.5px,#0008ff 89.5px,#0040ff 91.5px,#0094ff 93.5px,#00c8ff 94.5px,#13fce4 95.5px,#66ff90 97.5px,#beff39 100.5px,#d7ff1f 102.5px,#d7ff1f 105.5px,#9dff5a 115px)"></i><i style="background:linear-gradient(90deg,#b7ff40 0px,#deff19 6.5px,#f8f500 9.5px,#feed00 11.5px,#f1fc06 13.5px,#c7ff30 15.5px,#83ff73 17.5px,#30ffc7 19.5px,#02e8f4 20.5px,#00b0ff 21.5px,#004cff 23.5px,#000cff 25.5px,#0000ff 26.5px,#0000ff 28.5px,#000cff 29.5px,#0028ff 30.5px,#007cff 32.5px,#00b0ff 33.5px,#02e8f4 34.5px,#30ffc7 35.5px,#b4ff43 38.5px,#d7ff1f 39.5px,#f8f500 40.5px,#ffd300 41.5px,#ffae00 43.5px,#ffa700 45.5px,#ffcc00 48.5px,#ffe200 49.5px,#f4f802 50.5px,#adff49 54.5px,#9aff5d 56.5px,#97ff60 58.5px,#b4ff43 61.5px,#e7ff0f 64.5px,#feed00 65.5px,#ffb600 68.5px,#ffa700 70.5px,#ffb600 72.5px,#ffc400 73.5px,#ffde00 74.5px,#eeff09 75.5px,#a4ff53 77.5px,#1cffdb 80.5px,#00d0ff 81.5px,#0068ff 83.5px,#001cff 85.5px,#0004ff 86.5px,#0000ff 89.5px,#0014ff 90.5px,#005cff 92.5px,#00c4ff 94.5px,#13fce4 95.5px,#94ff63 98.5px,#d1ff26 100.5px,#f4f802 102.5px,#feed00 103.5px,#f4f802 106.5px,#d4ff23 110.5px,#baff3c 115px)"></i><i style="background:linear-gradient(90deg,#caff2c 0px,#f1fc06 5.5px,#ffe600 7.5px,#ffcc00 10.5px,#ffd300 12.5px,#ffe200 13.5px,#f4f802 14.5px,#b7ff40 16.5px,#36ffc1 19.5px,#06ecf1 20.5px,#00b4ff 21.5px,#0054ff 23.5px,#0030ff 24.5px,#0008ff 26.5px,#0000ff 27.5px,#0018ff 29.5px,#0050ff 31.5px,#00a8ff 33.5px,#00d8ff 34.5px,#1fffd7 35.5px,#c1ff36 39.5px,#e1ff16 40.5px,#fbf100 41.5px,#ffc800 43.5px,#ffbd00 44.5px,#ffc100 46.5px,#ffdb00 48.5px,#fbf100 49.5px,#e7ff0f 50.5px,#9dff5a 54.5px,#87ff70 56.5px,#83ff73 58.5px,#94ff63 60.5px,#dbff1c 64.5px,#f1fc06 65.5px,#ffe600 66.5px,#ffbd00 69.5px,#ffc100 71.5px,#ffe200 73.5px,#f1fc06 74.5px,#b1ff46 76.5px,#0ff8e7 80.5px,#00c4ff 81.5px,#0068ff 83.5px,#0024ff 85.5px,#0004ff 87.5px,#0000ff 88.5px,#0020ff 90.5px,#0068ff 92.5px,#0094ff 93.5px,#00ccff 94.5px,#19ffde 95.5px,#a0ff56 98.5px,#e4ff13 100.5px,#feed00 101.5px,#ffd000 103.5px,#ffcc00 105.5px,#ffea00 108.5px,#f8f500 109.5px,#ebff0c 110.5px,#ceff29 115px)"></i><i style="background:linear-gradient(90deg,#d4ff23 0px,#f4f802 4.5px,#ffea00 5.5px,#ffb600 9.5px,#ffb600 11.5px,#ffbd00 12.5px,#ffea00 14.5px,#e4ff13 15.5px,#6dff8a 18.5px,#13fce4 20.5px,#00c8ff 21.5px,#006cff 23.5px,#0034ff 25.5px,#0024ff 27.5px,#0034ff 29.5px,#0064ff 31.5px,#00d0ff 34.5px,#13fce4 35.5px,#a0ff56 39.5px,#dbff1c 41.5px,#f1fc06 42.5px,#ffea00 43.5px,#ffdb00 44.5px,#ffd700 46.5px,#feed00 48.5px,#eeff09 49.5px,#94ff63 54.5px,#7dff7a 56.5px,#7aff7d 58.5px,#8aff6d 60.5px,#e4ff13 65.5px,#f8f500 66.5px,#ffdb00 68.5px,#ffd700 70.5px,#fbf100 72.5px,#e7ff0f 73.5px,#b4ff43 75.5px,#29ffce 79.5px,#06ecf1 80.5px,#00c0ff 81.5px,#0074ff 83.5px,#002cff 86.5px,#0024ff 88.5px,#003cff 90.5px,#007cff 92.5px,#00dcfe 94.5px,#23ffd4 95.5px,#d1ff26 99.5px,#f1fc06 100.5px,#ffde00 101.5px,#ffb900 103.5px,#ffb200 105.5px,#ffd300 108.5px,#feed00 110.5px,#f1fc06 111.5px,#d7ff1f 115px)"></i><i style="background:linear-gradient(90deg,#d7ff1f 0px,#f1fc06 3.5px,#feed00 4.5px,#ffb200 8.5px,#ffa300 10.5px,#ffb200 12.5px,#ffc400 13.5px,#ffe200 14.5px,#ebff0c 15.5px,#49ffad 19.5px,#1fffd7 20.5px,#00dcfe 21.5px,#0090ff 23.5px,#0064ff 25.5px,#0054ff 27.5px,#006cff 30.5px,#00b4ff 33.5px,#00d4ff 34.5px,#0cf4eb 35.5px,#29ffce 36.5px,#9dff5a 40.5px,#e1ff16 43.5px,#eeff09 44.5px,#f8f500 45.5px,#f8f500 47.5px,#eeff09 48.5px,#d4ff23 50.5px,#90ff66 54.5px,#7aff7d 56.5px,#77ff80 58.5px,#87ff70 60.5px,#e7ff0f 66.5px,#f8f500 68.5px,#f4f802 70.5px,#dbff1c 72.5px,#77ff80 76.5px,#1cffdb 79.5px,#02e8f4 80.5px,#00c8ff 81.5px,#0090ff 83.5px,#0068ff 85.5px,#0054ff 87.5px,#005cff 89.5px,#0068ff 90.5px,#00a0ff 92.5px,#00c4ff 93.5px,#09f0ee 94.5px,#30ffc7 95.5px,#d4ff23 99.5px,#f8f500 100.5px,#ffbd00 102.5px,#ffa300 104.5px,#ffab00 106.5px,#ffe200 110.5px,#eeff09 112.5px,#dbff1c 115px)"></i><i style="background:linear-gradient(90deg,#d4ff23 0px,#f4f802 3.5px,#ffea00 4.5px,#ffab00 8.5px,#ff9f00 10.5px,#ffa300 11.5px,#ffc800 13.5px,#ffe200 14.5px,#e7ff0f 15.5px,#30ffc7 20.5px,#0ff8e7 21.5px,#00d8ff 22.5px,#00a8ff 24.5px,#0090ff 27.5px,#0098ff 29.5px,#00c8ff 33.5px,#00dcfe 34.5px,#0cf4eb 35.5px,#1fffd7 36.5px,#a7ff50 42.5px,#d7ff1f 45.5px,#e1ff16 47.5px,#d7ff1f 49.5px,#87ff70 55.5px,#7aff7d 57.5px,#80ff77 59.5px,#b4ff43 63.5px,#dbff1c 66.5px,#e1ff16 68.5px,#c7ff30 71.5px,#70ff87 75.5px,#16ffe1 79.5px,#02e8f4 80.5px,#00d4ff 81.5px,#00a4ff 84.5px,#0090ff 87.5px,#0094ff 89.5px,#00b0ff 91.5px,#00e4f8 93.5px,#1cffdb 94.5px,#d4ff23 99.5px,#f4f802 100.5px,#ffd700 101.5px,#ffab00 103.5px,#ff9f00 105.5px,#ffae00 107.5px,#fbf100 111.5px,#eeff09 112.5px,#d7ff1f 115px)"></i><i style="background:linear-gradient(90deg,#ceff29 0px,#f1fc06 3.5px,#ffea00 4.5px,#ffab00 8.5px,#ffa300 10.5px,#ffab00 11.5px,#ffd300 13.5px,#fbf100 14.5px,#deff19 15.5px,#5aff9d 19.5px,#13fce4 22.5px,#00e0fb 24.5px,#00d0ff 27.5px,#00e4f8 33.5px,#19ffde 36.5px,#5aff9d 40.5px,#a7ff50 44.5px,#c1ff36 46.5px,#caff2c 48.5px,#baff3c 51.5px,#87ff70 56.5px,#83ff73 58.5px,#a7ff50 62.5px,#caff2c 66.5px,#c7ff30 68.5px,#a0ff56 71.5px,#1fffd7 78.5px,#16ffe1 79.5px,#00e4f8 82.5px,#00d0ff 87.5px,#00d8ff 90.5px,#09f0ee 92.5px,#19ffde 93.5px,#66ff90 96.5px,#ebff0c 100.5px,#ffe200 101.5px,#ffb600 103.5px,#ffa700 104.5px,#ffa700 106.5px,#ffcc00 109.5px,#fbf100 111.5px,#ebff0c 112.5px,#d1ff26 115px)"></i><i style="background:linear-gradient(90deg,#c4ff33 0px,#ebff0c 3.5px,#fbf100 4.5px,#ffbd00 7.5px,#ffae00 9.5px,#ffbd00 11.5px,#ffe600 13.5px,#ebff0c 14.5px,#77ff80 18.5px,#3cffba 21.5px,#29ffce 23.5px,#1fffd7 32.5px,#19ffde 36.5px,#30ffc7 39.5px,#70ff87 43.5px,#a4ff53 46.5px,#baff3c 49.5px,#b1ff46 52.5px,#94ff63 56.5px,#9dff5a 60.5px,#baff3c 65.5px,#b4ff43 67.5px,#7dff7a 71.5px,#36ffc1 75.5px,#1cffdb 78.5px,#1cffdb 82.5px,#26ffd1 88.5px,#2cffca 92.5px,#53ffa4 95.5px,#beff39 99.5px,#f4f802 101.5px,#ffdb00 102.5px,#ffb600 104.5px,#ffae00 106.5px,#ffc100 108.5px,#ffe600 110.5px,#f4f802 111.5px,#caff2c 115px)"></i><i style="background:linear-gradient(90deg,#baff3c 0px,#f4f802 4.5px,#ffe600 5.5px,#ffc800 7.5px,#ffc100 9.5px,#ffd300 11.5px,#ffe600 12.5px,#eeff09 13.5px,#87ff70 17.5px,#60ff97 19.5px,#4dffaa 21.5px,#5aff9d 29.5px,#1fffd7 36.5px,#1cffdb 39.5px,#3cffba 42.5px,#94ff63 47.5px,#b1ff46 50.5px,#a4ff53 58.5px,#b1ff46 64.5px,#9dff5a 67.5px,#29ffce 74.5px,#19ffde 77.5px,#33ffc4 81.5px,#56ffa0 85.5px,#56ffa0 89.5px,#49ffad 92.5px,#5aff9d 95.5px,#7aff7d 97.5px,#deff19 101.5px,#f8f500 102.5px,#ffcc00 104.5px,#ffc100 106.5px,#ffcc00 108.5px,#feed00 110.5px,#eeff09 111.5px,#c1ff36 115px)"></i><i style="background:linear-gradient(90deg,#b4ff43 0px,#eeff09 4.5px,#ffe200 6.5px,#ffd300 8.5px,#ffde00 10.5px,#fbf100 11.5px,#e7ff0f 12.5px,#7aff7d 17.5px,#60ff97 19.5px,#60ff97 22.5px,#87ff70 27.5px,#80ff77 30.5px,#1fffd7 37.5px,#13fce4 39.5px,#19ffde 41.5px,#30ffc7 43.5px,#9aff5d 49.5px,#b4ff43 52.5px,#b4ff43 62.5px,#a0ff56 65.5px,#73ff83 68.5px,#2cffca 72.5px,#16ffe1 74.5px,#13fce4 76.5px,#30ffc7 79.5px,#7aff7d 84.5px,#87ff70 86.5px,#77ff80 90.5px,#5dff9a 94.5px,#63ff94 96.5px,#94ff63 99.5px,#f1fc06 103.5px,#ffea00 104.5px,#ffd300 106.5px,#ffdb00 108.5px,#ffe600 109.5px,#f4f802 110.5px,#baff3c 115px)"></i><i style="background:linear-gradient(90deg,#adff49 0px,#f1fc06 5.5px,#ffea00 7.5px,#fbf100 9.5px,#f1fc06 10.5px,#77ff80 16.5px,#60ff97 18.5px,#60ff97 20.5px,#8dff6a 24.5px,#aaff4d 27.5px,#aaff4d 29.5px,#9aff5d 31.5px,#26ffd1 37.5px,#09f0ee 40.5px,#0ff8e7 42.5px,#26ffd1 44.5px,#9aff5d 50.5px,#baff3c 53.5px,#c7ff30 57.5px,#beff39 61.5px,#a4ff53 64.5px,#5aff9d 68.5px,#13fce4 72.5px,#09f0ee 74.5px,#13fce4 76.5px,#40ffb7 79.5px,#90ff66 83.5px,#adff49 86.5px,#aaff4d 88.5px,#7aff7d 92.5px,#63ff94 94.5px,#5dff9a 96.5px,#6dff8a 98.5px,#beff39 102.5px,#e7ff0f 104.5px,#f4f802 105.5px,#ffea00 107.5px,#f8f500 109.5px,#eeff09 110.5px,#b4ff43 115px)"></i><i style="background:linear-gradient(90deg,#a7ff50 0px,#e7ff0f 5.5px,#f1fc06 7.5px,#e4ff13 9.5px,#adff49 12.5px,#70ff87 15.5px,#5aff9d 17.5px,#5aff9d 19.5px,#90ff66 23.5px,#beff39 26.5px,#caff2c 28.5px,#c1ff36 30.5px,#a7ff50 32.5px,#1fffd7 38.5px,#13fce4 39.5px,#00e4f8 41.5px,#06ecf1 43.5px,#13fce4 44.5px,#49ffad 47.5px,#a0ff56 51.5px,#caff2c 54.5px,#d7ff1f 57.5px,#c7ff30 61.5px,#87ff70 65.5px,#2cffca 69.5px,#1cffdb 70.5px,#02e8f4 72.5px,#02e8f4 74.5px,#16ffe1 76.5px,#6dff8a 80.5px,#adff49 83.5px,#c7ff30 85.5px,#caff2c 87.5px,#adff49 90.5px,#5dff9a 95.5px,#56ffa0 97.5px,#66ff90 99.5px,#dbff1c 105.5px,#eeff09 107.5px,#ebff0c 109.5px,#baff3c 113.5px,#adff49 115px)"></i><i style="background:linear-gradient(90deg,#a7ff50 0px,#dbff1c 5.5px,#deff19 7.5px,#caff2c 9.5px,#66ff90 14.5px,#4dffaa 16.5px,#4dffaa 18.5px,#63ff94 20.5px,#d1ff26 26.5px,#deff19 28.5px,#d7ff1f 30.5px,#beff39 32.5px,#19ffde 39.5px,#00e4f8 41.5px,#00dcfe 42.5px,#02e8f4 44.5px,#23ffd4 46.5px,#adff49 52.5px,#d1ff26 54.5px,#e7ff0f 57.5px,#d7ff1f 60.5px,#a7ff50 63.5px,#19ffde 69.5px,#00e4f8 71.5px,#00dcfe 72.5px,#02e8f4 74.5px,#1fffd7 76.5px,#b1ff46 82.5px,#d1ff26 84.5px,#deff19 86.5px,#d7ff1f 88.5px,#94ff63 92.5px,#50ffa7 96.5px,#49ffad 98.5px,#5dff9a 100.5px,#d1ff26 106.5px,#deff19 108.5px,#d7ff1f 110.5px,#aaff4d 115px)"></i><i style="background:linear-gradient(90deg,#a7ff50 0px,#d1ff26 5.5px,#caff2c 7.5px,#b4ff43 9.5px,#50ffa7 14.5px,#3cffba 16.5px,#43ffb4 18.5px,#73ff83 21.5px,#caff2c 25.5px,#e4ff13 27.5px,#ebff0c 29.5px,#deff19 31.5px,#8dff6a 35.5px,#26ffd1 39.5px,#13fce4 40.5px,#02e8f4 41.5px,#00d8ff 43.5px,#02e8f4 45.5px,#13fce4 46.5px,#3cffba 48.5px,#c1ff36 53.5px,#e4ff13 55.5px,#f1fc06 57.5px,#ebff0c 59.5px,#ceff29 61.5px,#6aff8d 65.5px,#1cffdb 68.5px,#00e4f8 70.5px,#00d8ff 71.5px,#00e0fb 73.5px,#19ffde 75.5px,#7dff7a 79.5px,#c4ff33 82.5px,#e1ff16 84.5px,#ebff0c 86.5px,#e1ff16 88.5px,#c4ff33 90.5px,#5aff9d 95.5px,#40ffb7 97.5px,#40ffb7 99.5px,#56ffa0 101.5px,#baff3c 106.5px,#ceff29 108.5px,#ceff29 110.5px,#aaff4d 115px)"></i><i style="background:linear-gradient(90deg,#a7ff50 0px,#c4ff33 4.5px,#baff3c 7.5px,#9dff5a 9.5px,#49ffad 13.5px,#33ffc4 15.5px,#33ffc4 17.5px,#4dffaa 19.5px,#a4ff53 23.5px,#dbff1c 26.5px,#eeff09 28.5px,#eeff09 30.5px,#c7ff30 33.5px,#6aff8d 37.5px,#1fffd7 40.5px,#00e4f8 42.5px,#00d8ff 43.5px,#00e0fb 45.5px,#06ecf1 46.5px,#19ffde 47.5px,#87ff70 51.5px,#d7ff1f 54.5px,#f4f802 56.5px,#fbf100 57.5px,#f1fc06 59.5px,#ceff29 61.5px,#5dff9a 65.5px,#0ff8e7 68.5px,#02e8f4 69.5px,#00d8ff 71.5px,#02e8f4 73.5px,#13fce4 74.5px,#73ff83 78.5px,#baff3c 81.5px,#deff19 83.5px,#eeff09 85.5px,#e4ff13 88.5px,#9aff5d 92.5px,#46ffb1 96.5px,#30ffc7 98.5px,#36ffc1 100.5px,#50ffa7 102.5px,#b4ff43 107.5px,#c4ff33 109.5px,#b4ff43 113.5px,#aaff4d 115px)"></i><i style="background:linear-gradient(90deg,#aaff4d 0px,#beff39 4.5px,#aaff4d 7.5px,#36ffc1 13.5px,#26ffd1 15.5px,#2cffca 17.5px,#49ffad 19.5px,#c7ff30 25.5px,#e4ff13 27.5px,#eeff09 29.5px,#deff19 32.5px,#aaff4d 35.5px,#19ffde 41.5px,#00e0fb 43.5px,#00d8ff 44.5px,#00e4f8 46.5px,#0ff8e7 47.5px,#5dff9a 50.5px,#d4ff23 54.5px,#ebff0c 55.5px,#f8f500 56.5px,#feed00 57.5px,#f1fc06 59.5px,#caff2c 61.5px,#1cffdb 67.5px,#09f0ee 68.5px,#00d8ff 70.5px,#00e4f8 72.5px,#1fffd7 74.5px,#b1ff46 80.5px,#e1ff16 83.5px,#eeff09 85.5px,#e7ff0f 87.5px,#c1ff36 90.5px,#40ffb7 96.5px,#23ffd4 99.5px,#30ffc7 101.5px,#63ff94 104.5px,#a0ff56 107.5px,#b7ff40 109.5px,#baff3c 112.5px,#adff49 115px)"></i><i style="background:linear-gradient(90deg,#b1ff46 0px,#b7ff40 4.5px,#9aff5d 7.5px,#26ffd1 13.5px,#1cffdb 15.5px,#26ffd1 17.5px,#70ff87 21.5px,#c1ff36 25.5px,#dbff1c 27.5px,#e7ff0f 30.5px,#d1ff26 33.5px,#9dff5a 36.5px,#13fce4 42.5px,#00e0fb 44.5px,#00dcfe 45.5px,#00e4f8 46.5px,#1fffd7 48.5px,#56ffa0 50.5px,#d1ff26 54.5px,#e7ff0f 55.5px,#f8f500 56.5px,#feed00 57.5px,#f1fc06 59.5px,#c7ff30 61.5px,#2cffca 66.5px,#16ffe1 67.5px,#06ecf1 68.5px,#00dcfe 70.5px,#00e4f8 71.5px,#1cffdb 73.5px,#baff3c 80.5px,#d7ff1f 82.5px,#e7ff0f 85.5px,#d7ff1f 88.5px,#aaff4d 91.5px,#40ffb7 96.5px,#23ffd4 98.5px,#1cffdb 100.5px,#2cffca 102.5px,#a0ff56 108.5px,#b7ff40 111.5px,#b4ff43 115px)"></i><i style="background:linear-gradient(90deg,#b7ff40 0px,#b1ff46 4.5px,#8aff6d 7.5px,#29ffce 12.5px,#16ffe1 14.5px,#19ffde 16.5px,#46ffb1 19.5px,#baff3c 25.5px,#d7ff1f 28.5px,#dbff1c 31.5px,#c4ff33 34.5px,#94ff63 37.5px,#23ffd4 42.5px,#13fce4 43.5px,#00e4f8 45.5px,#0cf4eb 47.5px,#1cffdb 48.5px,#4dffaa 50.5px,#b1ff46 53.5px,#e4ff13 55.5px,#f4f802 56.5px,#fbf100 57.5px,#eeff09 59.5px,#c1ff36 61.5px,#43ffb4 65.5px,#13fce4 67.5px,#00e4f8 69.5px,#09f0ee 71.5px,#19ffde 72.5px,#6dff8a 76.5px,#adff49 79.5px,#caff2c 81.5px,#dbff1c 85.5px,#d4ff23 87.5px,#a4ff53 91.5px,#2cffca 97.5px,#19ffde 99.5px,#16ffe1 101.5px,#40ffb7 104.5px,#90ff66 108.5px,#adff49 110.5px,#baff3c 113.5px,#b7ff40 115px)"></i><i style="background:linear-gradient(90deg,#c1ff36 0px,#adff49 4.5px,#6aff8d 8.5px,#1cffdb 12.5px,#0ff8e7 14.5px,#19ffde 16.5px,#5aff9d 20.5px,#a0ff56 24.5px,#caff2c 28.5px,#ceff29 32.5px,#b7ff40 35.5px,#73ff83 39.5px,#1fffd7 43.5px,#09f0ee 45.5px,#0cf4eb 47.5px,#19ffde 48.5px,#66ff90 51.5px,#deff19 55.5px,#f4f802 57.5px,#e7ff0f 59.5px,#baff3c 61.5px,#3cffba 65.5px,#16ffe1 67.5px,#09f0ee 68.5px,#0cf4eb 70.5px,#16ffe1 71.5px,#7aff7d 76.5px,#b1ff46 79.5px,#d1ff26 83.5px,#c7ff30 87.5px,#aaff4d 90.5px,#66ff90 94.5px,#1fffd7 98.5px,#0ff8e7 100.5px,#16ffe1 102.5px,#46ffb1 105.5px,#97ff60 109.5px,#b1ff46 111.5px,#c1ff36 115px)"></i><i style="background:linear-gradient(90deg,#caff2c 0px,#b7ff40 3.5px,#8aff6d 6.5px,#23ffd4 11.5px,#0ff8e7 13.5px,#13fce4 15.5px,#49ffad 19.5px,#9aff5d 24.5px,#c1ff36 29.5px,#c1ff36 33.5px,#adff49 36.5px,#6aff8d 40.5px,#1fffd7 44.5px,#13fce4 46.5px,#1cffdb 48.5px,#46ffb1 50.5px,#beff39 54.5px,#e4ff13 56.5px,#ebff0c 58.5px,#caff2c 60.5px,#3cffba 65.5px,#19ffde 67.5px,#13fce4 69.5px,#26ffd1 71.5px,#97ff60 77.5px,#baff3c 80.5px,#c4ff33 84.5px,#b4ff43 88.5px,#87ff70 92.5px,#16ffe1 99.5px,#0ff8e7 101.5px,#1cffdb 103.5px,#50ffa7 106.5px,#a4ff53 110.5px,#c7ff30 115px)"></i><i style="background:linear-gradient(90deg,#d1ff26 0px,#baff3c 3.5px,#6dff8a 7.5px,#1cffdb 11.5px,#0cf4eb 13.5px,#1fffd7 16.5px,#7dff7a 22.5px,#aaff4d 27.5px,#b7ff40 33.5px,#aaff4d 36.5px,#77ff80 40.5px,#30ffc7 44.5px,#1cffdb 46.5px,#23ffd4 48.5px,#46ffb1 50.5px,#caff2c 55.5px,#e1ff16 57.5px,#d4ff23 59.5px,#aaff4d 61.5px,#3cffba 65.5px,#1fffd7 67.5px,#1fffd7 69.5px,#33ffc4 71.5px,#8dff6a 76.5px,#adff49 79.5px,#b7ff40 83.5px,#a7ff50 88.5px,#77ff80 93.5px,#19ffde 99.5px,#0cf4eb 101.5px,#16ffe1 103.5px,#46ffb1 106.5px,#a0ff56 110.5px,#c7ff30 113.5px,#ceff29 115px)"></i><i style="background:linear-gradient(90deg,#dbff1c 0px,#caff2c 2.5px,#94ff63 5.5px,#39ffbe 9.5px,#19ffde 11.5px,#0ff8e7 13.5px,#19ffde 15.5px,#83ff73 23.5px,#9dff5a 27.5px,#adff49 34.5px,#97ff60 38.5px,#5dff9a 42.5px,#30ffc7 45.5px,#26ffd1 47.5px,#36ffc1 49.5px,#5dff9a 51.5px,#beff39 55.5px,#d4ff23 57.5px,#c7ff30 59.5px,#a0ff56 61.5px,#40ffb7 65.5px,#29ffce 67.5px,#2cffca 69.5px,#63ff94 73.5px,#9dff5a 77.5px,#adff49 81.5px,#9dff5a 88.5px,#77ff80 93.5px,#1fffd7 99.5px,#0ff8e7 101.5px,#13fce4 103.5px,#2cffca 105.5px,#b1ff46 111.5px,#d7ff1f 115px)"></i><i style="background:linear-gradient(90deg,#e1ff16 0px,#ceff29 2.5px,#94ff63 5.5px,#33ffc4 9.5px,#16ffe1 11.5px,#0ff8e7 13.5px,#29ffce 16.5px,#7aff7d 22.5px,#97ff60 28.5px,#a4ff53 36.5px,#90ff66 39.5px,#36ffc1 46.5px,#36ffc1 48.5px,#49ffad 50.5px,#b1ff46 55.5px,#c4ff33 57.5px,#baff3c 59.5px,#43ffb4 65.5px,#33ffc4 67.5px,#39ffbe 69.5px,#94ff63 76.5px,#a4ff53 80.5px,#90ff66 89.5px,#77ff80 93.5px,#19ffde 100.5px,#0ff8e7 102.5px,#1cffdb 104.5px,#3cffba 106.5px,#c7ff30 112.5px,#deff19 115px)"></i><i style="background:linear-gradient(90deg,#e7ff0f 0px,#d4ff23 2.5px,#94ff63 5.5px,#33ffc4 9.5px,#19ffde 11.5px,#16ffe1 13.5px,#23ffd4 15.5px,#70ff87 21.5px,#8aff6d 25.5px,#9dff5a 37.5px,#80ff77 41.5px,#43ffb4 46.5px,#43ffb4 49.5px,#70ff87 52.5px,#a7ff50 55.5px,#b7ff40 57.5px,#adff49 59.5px,#49ffad 65.5px,#40ffb7 68.5px,#94ff63 76.5px,#9dff5a 80.5px,#83ff73 91.5px,#63ff94 95.5px,#16ffe1 101.5px,#16ffe1 103.5px,#29ffce 105.5px,#50ffa7 107.5px,#caff2c 112.5px,#e4ff13 115px)"></i><i style="background:linear-gradient(90deg,#eeff09 0px,#d7ff1f 2.5px,#7aff7d 6.5px,#33ffc4 9.5px,#1cffdb 11.5px,#19ffde 13.5px,#46ffb1 17.5px,#73ff83 21.5px,#87ff70 25.5px,#97ff60 38.5px,#7aff7d 42.5px,#53ffa4 46.5px,#49ffad 48.5px,#53ffa4 50.5px,#a4ff53 56.5px,#a7ff50 58.5px,#87ff70 61.5px,#50ffa7 65.5px,#4dffaa 68.5px,#90ff66 75.5px,#97ff60 80.5px,#7dff7a 92.5px,#5aff9d 96.5px,#1cffdb 101.5px,#1cffdb 104.5px,#39ffbe 106.5px,#ceff29 112.5px,#ebff0c 115px)"></i><i style="background:linear-gradient(90deg,#f1fc06 0px,#dbff1c 2.5px,#b1ff46 4.5px,#46ffb1 8.5px,#26ffd1 10.5px,#1cffdb 12.5px,#33ffc4 15.5px,#77ff80 21.5px,#83ff73 25.5px,#94ff63 38.5px,#80ff77 42.5px,#5aff9d 47.5px,#5aff9d 50.5px,#97ff60 56.5px,#94ff63 59.5px,#60ff97 64.5px,#56ffa0 67.5px,#73ff83 71.5px,#94ff63 76.5px,#7dff7a 92.5px,#60ff97 96.5px,#26ffd1 101.5px,#1cffdb 103.5px,#2cffca 105.5px,#50ffa7 107.5px,#d1ff26 112.5px,#eeff09 115px)"></i><i style="background:linear-gradient(90deg,#f1fc06 0px,#deff19 2.5px,#97ff60 5.5px,#49ffad 8.5px,#29ffce 10.5px,#23ffd4 12.5px,#46ffb1 16.5px,#73ff83 20.5px,#83ff73 25.5px,#8aff6d 34.5px,#90ff66 40.5px,#60ff97 48.5px,#66ff90 51.5px,#8aff6d 56.5px,#80ff77 60.5px,#60ff97 65.5px,#66ff90 68.5px,#8dff6a 74.5px,#8dff6a 80.5px,#83ff73 88.5px,#7dff7a 93.5px,#5aff9d 97.5px,#26ffd1 102.5px,#26ffd1 104.5px,#3cffba 106.5px,#a0ff56 110.5px,#d1ff26 112.5px,#eeff09 115px)"></i><i style="background:linear-gradient(90deg,#eeff09 0px,#dbff1c 2.5px,#b1ff46 4.5px,#4dffaa 8.5px,#30ffc7 10.5px,#29ffce 12.5px,#77ff80 20.5px,#83ff73 24.5px,#83ff73 33.5px,#90ff66 40.5px,#66ff90 49.5px,#7dff7a 57.5px,#73ff83 61.5px,#66ff90 65.5px,#8dff6a 74.5px,#8aff6d 79.5px,#83ff73 87.5px,#80ff77 93.5px,#60ff97 97.5px,#2cffca 102.5px,#2cffca 104.5px,#43ffb4 106.5px,#a0ff56 110.5px,#d1ff26 112.5px,#ebff0c 115px)"></i><i style="background:linear-gradient(90deg,#e7ff0f 0px,#dbff1c 2.5px,#50ffa7 8.5px,#36ffc1 10.5px,#33ffc4 12.5px,#56ffa0 16.5px,#7aff7d 20.5px,#87ff70 24.5px,#83ff73 34.5px,#8dff6a 41.5px,#7aff7d 47.5px,#6dff8a 51.5px,#70ff87 60.5px,#70ff87 66.5px,#8dff6a 72.5px,#8aff6d 78.5px,#80ff77 86.5px,#83ff73 93.5px,#66ff90 97.5px,#36ffc1 102.5px,#33ffc4 104.5px,#46ffb1 106.5px,#87ff70 109.5px,#ceff29 112.5px,#e7ff0f 115px)"></i><i style="background:linear-gradient(90deg,#e1ff16 0px,#d4ff23 2.5px,#b1ff46 4.5px,#53ffa4 8.5px,#3cffba 10.5px,#39ffbe 12.5px,#80ff77 20.5px,#87ff70 26.5px,#80ff77 34.5px,#90ff66 42.5px,#7dff7a 48.5px,#6aff8d 54.5px,#70ff87 64.5px,#90ff66 72.5px,#80ff77 85.5px,#83ff73 93.5px,#6dff8a 97.5px,#3cffba 102.5px,#39ffbe 104.5px,#49ffad 106.5px,#a0ff56 110.5px,#dbff1c 113.5px,#e1ff16 115px)"></i><i style="background:linear-gradient(90deg,#d7ff1f 0px,#ceff29 2.5px,#adff49 4.5px,#5aff9d 8.5px,#43ffb4 10.5px,#43ffb4 12.5px,#83ff73 20.5px,#87ff70 26.5px,#80ff77 35.5px,#90ff66 43.5px,#83ff73 48.5px,#63ff94 55.5px,#63ff94 60.5px,#90ff66 70.5px,#80ff77 84.5px,#87ff70 93.5px,#73ff83 97.5px,#46ffb1 102.5px,#40ffb7 104.5px,#50ffa7 106.5px,#c7ff30 112.5px,#d7ff1f 115px)"></i><i style="background:linear-gradient(90deg,#ceff29 0px,#c7ff30 2.5px,#aaff4d 4.5px,#5dff9a 8.5px,#49ffad 10.5px,#50ffa7 13.5px,#87ff70 20.5px,#87ff70 27.5px,#80ff77 35.5px,#94ff63 45.5px,#77ff80 51.5px,#5dff9a 55.5px,#5aff9d 59.5px,#90ff66 68.5px,#90ff66 73.5px,#7dff7a 82.5px,#8aff6d 93.5px,#7aff7d 97.5px,#49ffad 103.5px,#4dffaa 105.5px,#73ff83 108.5px,#c1ff36 112.5px,#ceff29 115px)"></i><i style="background:linear-gradient(90deg,#c4ff33 0px,#c1ff36 2.5px,#60ff97 8.5px,#50ffa7 10.5px,#60ff97 14.5px,#83ff73 19.5px,#8aff6d 25.5px,#7dff7a 35.5px,#97ff60 45.5px,#87ff70 49.5px,#56ffa0 55.5px,#53ffa4 59.5px,#90ff66 67.5px,#94ff63 71.5px,#7dff7a 82.5px,#8aff6d 94.5px,#77ff80 98.5px,#50ffa7 103.5px,#5aff9d 106.5px,#baff3c 112.5px,#c4ff33 115px)"></i><i style="background:linear-gradient(90deg,#b7ff40 0px,#b7ff40 2.5px,#80ff77 6.5px,#63ff94 8.5px,#56ffa0 11.5px,#87ff70 19.5px,#8aff6d 25.5px,#7dff7a 34.5px,#90ff66 42.5px,#97ff60 46.5px,#83ff73 50.5px,#53ffa4 55.5px,#49ffad 58.5px,#66ff90 62.5px,#8dff6a 66.5px,#97ff60 70.5px,#7dff7a 80.5px,#8dff6a 93.5px,#80ff77 97.5px,#5aff9d 103.5px,#5dff9a 106.5px,#b1ff46 112.5px,#baff3c 115px)"></i><i style="background:linear-gradient(90deg,#adff49 0px,#adff49 2.5px,#80ff77 6.5px,#66ff90 8.5px,#5dff9a 11.5px,#8aff6d 19.5px,#8aff6d 25.5px,#7dff7a 34.5px,#87ff70 40.5px,#9aff5d 46.5px,#83ff73 50.5px,#46ffb1 56.5px,#49ffad 59.5px,#90ff66 66.5px,#97ff60 70.5px,#7dff7a 79.5px,#83ff73 87.5px,#8dff6a 94.5px,#70ff87 100.5px,#5dff9a 104.5px,#6aff8d 107.5px,#aaff4d 112.5px,#b1ff46 115px)"></i><i style="background:linear-gradient(90deg,#a4ff53 0px,#a0ff56 3.5px,#63ff94 9.5px,#6aff8d 13.5px,#8aff6d 19.5px,#87ff70 26.5px,#7aff7d 36.5px,#9aff5d 46.5px,#87ff70 50.5px,#43ffb4 56.5px,#46ffb1 59.5px,#8aff6d 65.5px,#9aff5d 69.5px,#7aff7d 79.5px,#8dff6a 94.5px,#77ff80 100.5px,#63ff94 104.5px,#6dff8a 107.5px,#a0ff56 112.5px,#a7ff50 115px)"></i><i style="background:linear-gradient(90deg,#9aff5d 0px,#9dff5a 2.5px,#66ff90 9.5px,#70ff87 13.5px,#8dff6a 20.5px,#7aff7d 36.5px,#9aff5d 46.5px,#87ff70 50.5px,#49ffad 55.5px,#40ffb7 58.5px,#4dffaa 60.5px,#8aff6d 65.5px,#9aff5d 69.5px,#7aff7d 78.5px,#83ff73 88.5px,#8dff6a 94.5px,#7aff7d 100.5px,#66ff90 104.5px,#77ff80 108.5px,#9aff5d 112.5px,#9dff5a 115px)"></i><i style="background:linear-gradient(90deg,#94ff63 0px,#94ff63 3.5px,#6aff8d 9.5px,#7dff7a 15.5px,#8aff6d 19.5px,#80ff77 28.5px,#77ff80 36.5px,#97ff60 46.5px,#87ff70 50.5px,#46ffb1 55.5px,#3cffba 58.5px,#56ffa0 61.5px,#8aff6d 65.5px,#97ff60 68.5px,#77ff80 80.5px,#8aff6d 96.5px,#6aff8d 105.5px,#80ff77 109.5px,#97ff60 113.5px,#97ff60 115px)"></i><i style="background:linear-gradient(90deg,#8dff6a 0px,#8dff6a 3.5px,#6dff8a 9.5px,#8aff6d 19.5px,#77ff80 36.5px,#97ff60 47.5px,#87ff70 50.5px,#46ffb1 55.5px,#3cffba 58.5px,#56ffa0 61.5px,#8aff6d 65.5px,#97ff60 68.5px,#77ff80 78.5px,#7dff7a 86.5px,#8aff6d 96.5px,#6dff8a 105.5px,#90ff66 113.5px,#90ff66 115px)"></i><i style="background:linear-gradient(90deg,#87ff70 0px,#8aff6d 3.5px,#70ff87 9.5px,#77ff80 13.5px,#8aff6d 19.5px,#73ff83 36.5px,#8aff6d 43.5px,#97ff60 47.5px,#87ff70 50.5px,#40ffb7 56.5px,#3cffba 58.5px,#56ffa0 61.5px,#8aff6d 65.5px,#97ff60 68.5px,#73ff83 79.5px,#8aff6d 96.5px,#70ff87 105.5px,#7dff7a 109.5px,#8aff6d 113.5px,#8aff6d 115px)"></i><i style="background:linear-gradient(90deg,#83ff73 0px,#83ff73 4.5px,#73ff83 9.5px,#87ff70 19.5px,#73ff83 37.5px,#94ff63 47.5px,#8dff6a 49.5px,#49ffad 55.5px,#40ffb7 58.5px,#5aff9d 61.5px,#8aff6d 65.5px,#94ff63 69.5px,#73ff83 78.5px,#83ff73 92.5px,#83ff73 99.5px,#73ff83 105.5px,#7dff7a 109.5px,#87ff70 115px)"></i><i style="background:linear-gradient(90deg,#83ff73 0px,#7aff7d 6.5px,#73ff83 10.5px,#87ff70 20.5px,#73ff83 36.5px,#83ff73 42.5px,#94ff63 47.5px,#83ff73 50.5px,#46ffb1 56.5px,#46ffb1 59.5px,#8aff6d 65.5px,#94ff63 69.5px,#73ff83 77.5px,#7dff7a 88.5px,#87ff70 96.5px,#73ff83 106.5px,#83ff73 113.5px,#83ff73 115px)"></i><i style="background:linear-gradient(90deg,#80ff77 0px,#7dff7a 5.5px,#77ff80 11.5px,#83ff73 20.5px,#73ff83 37.5px,#94ff63 47.5px,#7dff7a 51.5px,#50ffa7 55.5px,#46ffb1 58.5px,#6aff8d 62.5px,#8aff6d 65.5px,#94ff63 68.5px,#73ff83 78.5px,#7dff7a 89.5px,#83ff73 98.5px,#77ff80 106.5px,#83ff73 115px)"></i><i style="background:linear-gradient(90deg,#80ff77 0px,#7aff7d 6.5px,#7aff7d 13.5px,#83ff73 21.5px,#73ff83 36.5px,#80ff77 42.5px,#90ff66 47.5px,#87ff70 50.5px,#4dffaa 56.5px,#56ffa0 60.5px,#8aff6d 65.5px,#90ff66 69.5px,#73ff83 77.5px,#7dff7a 90.5px,#80ff77 98.5px,#77ff80 107.5px,#80ff77 115px)"></i><i style="background:linear-gradient(90deg,#80ff77 0px,#77ff80 11.5px,#80ff77 21.5px,#73ff83 38.5px,#90ff66 47.5px,#87ff70 50.5px,#53ffa4 56.5px,#56ffa0 59.5px,#8dff6a 66.5px,#8dff6a 70.5px,#73ff83 77.5px,#7dff7a 91.5px,#7dff7a 101.5px,#77ff80 107.5px,#80ff77 115px)"></i><i style="background:linear-gradient(90deg,#80ff77 0px,#77ff80 11.5px,#80ff77 22.5px,#73ff83 38.5px,#90ff66 47.5px,#80ff77 51.5px,#56ffa0 57.5px,#6aff8d 61.5px,#8dff6a 66.5px,#8aff6d 70.5px,#73ff83 78.5px,#80ff77 98.5px,#77ff80 106.5px,#80ff77 115px)"></i><i style="background:linear-gradient(90deg,#83ff73 0px,#7aff7d 11.5px,#7aff7d 28.5px,#73ff83 37.5px,#90ff66 47.5px,#80ff77 51.5px,#60ff97 56.5px,#66ff90 60.5px,#8dff6a 66.5px,#8aff6d 70.5px,#73ff83 78.5px,#7dff7a 100.5px,#7aff7d 108.5px,#83ff73 115px)"></i><i style="background:linear-gradient(90deg,#83ff73 0px,#7aff7d 14.5px,#7aff7d 28.5px,#73ff83 37.5px,#8dff6a 48.5px,#70ff87 54.5px,#66ff90 58.5px,#8dff6a 66.5px,#83ff73 72.5px,#73ff83 80.5px,#7dff7a 100.5px,#7dff7a 109.5px,#83ff73 115px)"></i><i style="background:linear-gradient(90deg,#83ff73 0px,#7aff7d 14.5px,#7aff7d 27.5px,#77ff80 38.5px,#8dff6a 48.5px,#70ff87 56.5px,#7aff7d 62.5px,#8dff6a 67.5px,#73ff83 80.5px,#7dff7a 94.5px,#7dff7a 109.5px,#83ff73 115px)"></i><i style="background:linear-gradient(90deg,#87ff70 0px,#7aff7d 11.5px,#7aff7d 27.5px,#7aff7d 40.5px,#8aff6d 48.5px,#77ff80 56.5px,#7dff7a 62.5px,#8aff6d 68.5px,#77ff80 80.5px,#7aff7d 102.5px,#80ff77 110.5px,#87ff70 115px)"></i><i style="background:linear-gradient(90deg,#87ff70 0px,#7aff7d 11.5px,#7aff7d 18.5px,#7aff7d 27.5px,#7aff7d 40.5px,#87ff70 49.5px,#7dff7a 55.5px,#7dff7a 59.5px,#80ff77 63.5px,#87ff70 69.5px,#77ff80 80.5px,#7aff7d 93.5px,#7dff7a 109.5px,#87ff70 115px)"></i><i style="background:linear-gradient(90deg,#87ff70 0px,#7aff7d 11.5px,#7aff7d 17.5px,#77ff80 21.5px,#7dff7a 26.5px,#77ff80 34.5px,#83ff73 50.5px,#80ff77 55.5px,#8aff6d 57.5px,#7dff7a 62.5px,#83ff73 68.5px,#77ff80 85.5px,#7aff7d 92.5px,#77ff80 96.5px,#7dff7a 101.5px,#7dff7a 109.5px,#87ff70 115px)"></i><i style="background:linear-gradient(90deg,#87ff70 0px,#77ff80 10.5px,#80ff77 16.5px,#70ff87 21.5px,#7dff7a 25.5px,#73ff83 31.5px,#80ff77 50.5px,#80ff77 54.5px,#8aff6d 58.5px,#7dff7a 62.5px,#80ff77 68.5px,#77ff80 87.5px,#7dff7a 91.5px,#70ff87 95.5px,#80ff77 100.5px,#77ff80 106.5px,#87ff70 115px)"></i><i style="background:linear-gradient(90deg,#87ff70 0px,#77ff80 11.5px,#83ff73 16.5px,#6dff8a 21.5px,#7dff7a 25.5px,#70ff87 30.5px,#7aff7d 36.5px,#80ff77 54.5px,#87ff70 58.5px,#7dff7a 63.5px,#7dff7a 69.5px,#77ff80 83.5px,#70ff87 86.5px,#7dff7a 89.5px,#6dff8a 94.5px,#83ff73 99.5px,#77ff80 106.5px,#87ff70 115px)"></i><i style="background:linear-gradient(90deg,#87ff70 0px,#77ff80 8.5px,#7aff7d 12.5px,#8aff6d 16.5px,#70ff87 21.5px,#80ff77 26.5px,#6aff8d 29.5px,#7dff7a 34.5px,#7aff7d 47.5px,#7dff7a 62.5px,#7aff7d 76.5px,#7aff7d 82.5px,#6aff8d 86.5px,#80ff77 89.5px,#70ff87 94.5px,#8aff6d 99.5px,#73ff83 105.5px,#87ff70 115px)"></i><i style="background:linear-gradient(90deg,#87ff70 0px,#7dff7a 6.5px,#70ff87 10.5px,#8aff6d 16.5px,#83ff73 19.5px,#73ff83 22.5px,#80ff77 25.5px,#73ff83 27.5px,#63ff94 29.5px,#80ff77 33.5px,#73ff83 47.5px,#7dff7a 51.5px,#7aff7d 59.5px,#7dff7a 63.5px,#73ff83 70.5px,#80ff77 82.5px,#63ff94 85.5px,#6aff8d 87.5px,#80ff77 89.5px,#73ff83 93.5px,#8aff6d 97.5px,#80ff77 101.5px,#70ff87 105.5px,#87ff70 115px)"></i><i style="background:linear-gradient(90deg,#87ff70 0px,#7dff7a 6.5px,#6dff8a 10.5px,#73ff83 12.5px,#8aff6d 16.5px,#87ff70 20.5px,#7dff7a 23.5px,#80ff77 25.5px,#6aff8d 27.5px,#5dff9a 28.5px,#5dff9a 29.5px,#7dff7a 31.5px,#87ff70 33.5px,#70ff87 44.5px,#6aff8d 46.5px,#80ff77 51.5px,#77ff80 58.5px,#80ff77 64.5px,#6aff8d 69.5px,#7dff7a 75.5px,#83ff73 83.5px,#5aff9d 86.5px,#70ff87 88.5px,#83ff73 90.5px,#7dff7a 93.5px,#8aff6d 97.5px,#80ff77 101.5px,#6dff8a 104.5px,#87ff70 115px)"></i><i style="background:linear-gradient(90deg,#83ff73 0px,#7dff7a 6.5px,#63ff94 10.5px,#70ff87 12.5px,#87ff70 14.5px,#87ff70 23.5px,#7dff7a 25.5px,#5aff9d 27.5px,#50ffa7 28.5px,#5aff9d 29.5px,#8aff6d 31.5px,#8dff6a 33.5px,#7dff7a 39.5px,#73ff83 43.5px,#5dff9a 46.5px,#6dff8a 48.5px,#83ff73 50.5px,#83ff73 53.5px,#73ff83 58.5px,#87ff70 64.5px,#5dff9a 68.5px,#66ff90 70.5px,#7dff7a 74.5px,#87ff70 80.5px,#90ff66 83.5px,#53ffa4 86.5px,#53ffa4 87.5px,#80ff77 90.5px,#8aff6d 97.5px,#83ff73 101.5px,#63ff94 104.5px,#6aff8d 106.5px,#83ff73 110.5px,#83ff73 115px)"></i><i style="background:linear-gradient(90deg,#83ff73 0px,#80ff77 6.5px,#6dff8a 8.5px,#53ffa4 10.5px,#6aff8d 12.5px,#8aff6d 14.5px,#87ff70 19.5px,#8dff6a 22.5px,#7dff7a 24.5px,#46ffb1 27.5px,#49ffad 28.5px,#97ff60 31.5px,#94ff63 33.5px,#80ff77 36.5px,#7dff7a 42.5px,#6aff8d 44.5px,#49ffad 46.5px,#50ffa7 47.5px,#8aff6d 50.5px,#8aff6d 52.5px,#73ff83 57.5px,#80ff77 61.5px,#8dff6a 64.5px,#87ff70 65.5px,#49ffad 68.5px,#4dffaa 69.5px,#70ff87 71.5px,#7dff7a 73.5px,#80ff77 79.5px,#9aff5d 83.5px,#90ff66 84.5px,#56ffa0 86.5px,#46ffb1 87.5px,#4dffaa 88.5px,#77ff80 90.5px,#8aff6d 92.5px,#87ff70 96.5px,#87ff70 101.5px,#56ffa0 104.5px,#56ffa0 105.5px,#83ff73 109.5px,#83ff73 115px)"></i><i style="background:linear-gradient(90deg,#7dff7a 0px,#87ff70 6.5px,#80ff77 7.5px,#40ffb7 10.5px,#46ffb1 11.5px,#7aff7d 13.5px,#8aff6d 14.5px,#87ff70 16.5px,#7dff7a 18.5px,#8dff6a 22.5px,#87ff70 23.5px,#43ffb4 26.5px,#3cffba 27.5px,#4dffaa 28.5px,#90ff66 30.5px,#a0ff56 31.5px,#90ff66 33.5px,#80ff77 35.5px,#80ff77 43.5px,#70ff87 44.5px,#3cffba 46.5px,#3cffba 47.5px,#53ffa4 48.5px,#77ff80 49.5px,#8dff6a 50.5px,#90ff66 52.5px,#77ff80 56.5px,#7dff7a 60.5px,#90ff66 64.5px,#83ff73 65.5px,#49ffad 67.5px,#36ffc1 68.5px,#43ffb4 69.5px,#77ff80 71.5px,#83ff73 72.5px,#80ff77 80.5px,#a0ff56 83.5px,#9dff5a 84.5px,#43ffb4 87.5px,#3cffba 88.5px,#66ff90 90.5px,#8aff6d 92.5px,#87ff70 94.5px,#7dff7a 96.5px,#8dff6a 100.5px,#70ff87 102.5px,#40ffb7 104.5px,#46ffb1 105.5px,#77ff80 107.5px,#8aff6d 109.5px,#7dff7a 115px)"></i><i style="background:linear-gradient(90deg,#77ff80 0px,#7dff7a 2.5px,#94ff63 6.5px,#90ff66 7.5px,#7aff7d 8.5px,#30ffc7 10.5px,#29ffce 11.5px,#83ff73 14.5px,#87ff70 16.5px,#7aff7d 19.5px,#8aff6d 22.5px,#80ff77 23.5px,#3cffba 26.5px,#43ffb4 27.5px,#87ff70 29.5px,#a0ff56 30.5px,#a7ff50 31.5px,#7dff7a 34.5px,#87ff70 41.5px,#90ff66 43.5px,#87ff70 44.5px,#3cffba 46.5px,#30ffc7 47.5px,#43ffb4 48.5px,#87ff70 50.5px,#94ff63 51.5px,#7aff7d 56.5px,#7dff7a 60.5px,#94ff63 63.5px,#90ff66 64.5px,#7dff7a 65.5px,#36ffc1 67.5px,#30ffc7 68.5px,#73ff83 70.5px,#8dff6a 71.5px,#8aff6d 73.5px,#7aff7d 79.5px,#83ff73 81.5px,#a0ff56 83.5px,#a7ff50 84.5px,#97ff60 85.5px,#53ffa4 87.5px,#40ffb7 88.5px,#43ffb4 89.5px,#87ff70 92.5px,#83ff73 94.5px,#7aff7d 96.5px,#83ff73 98.5px,#8aff6d 100.5px,#7dff7a 101.5px,#36ffc1 103.5px,#29ffce 104.5px,#3cffba 105.5px,#87ff70 107.5px,#94ff63 108.5px,#83ff73 112.5px,#77ff80 115px)"></i><i style="background:linear-gradient(90deg,#6aff8d 0px,#a0ff56 6.5px,#a4ff53 7.5px,#94ff63 8.5px,#30ffc7 10.5px,#16ffe1 11.5px,#26ffd1 12.5px,#77ff80 14.5px,#8aff6d 15.5px,#77ff80 19.5px,#83ff73 22.5px,#7dff7a 23.5px,#53ffa4 25.5px,#4dffaa 26.5px,#5dff9a 27.5px,#9dff5a 29.5px,#aaff4d 30.5px,#a4ff53 31.5px,#80ff77 33.5px,#73ff83 35.5px,#83ff73 38.5px,#80ff77 40.5px,#94ff63 42.5px,#a4ff53 43.5px,#a4ff53 44.5px,#83ff73 45.5px,#53ffa4 46.5px,#30ffc7 47.5px,#30ffc7 48.5px,#7aff7d 50.5px,#90ff66 51.5px,#7aff7d 57.5px,#87ff70 61.5px,#94ff63 63.5px,#8aff6d 64.5px,#43ffb4 66.5px,#2cffca 67.5px,#39ffbe 68.5px,#94ff63 70.5px,#a7ff50 71.5px,#83ff73 74.5px,#7dff7a 78.5px,#73ff83 80.5px,#87ff70 82.5px,#a7ff50 84.5px,#a7ff50 85.5px,#70ff87 87.5px,#53ffa4 88.5px,#4dffaa 89.5px,#80ff77 92.5px,#7dff7a 94.5px,#77ff80 96.5px,#8aff6d 99.5px,#83ff73 100.5px,#6aff8d 101.5px,#19ffde 103.5px,#19ffde 104.5px,#43ffb4 105.5px,#7dff7a 106.5px,#9dff5a 107.5px,#a4ff53 108.5px,#6dff8a 115px)"></i><i style="background:linear-gradient(90deg,#63ff94 0px,#7aff7d 2.5px,#a4ff53 6.5px,#b7ff40 7.5px,#b4ff43 8.5px,#8dff6a 9.5px,#46ffb1 10.5px,#0ff8e7 11.5px,#09f0ee 12.5px,#33ffc4 13.5px,#63ff94 14.5px,#83ff73 15.5px,#87ff70 17.5px,#7aff7d 19.5px,#80ff77 22.5px,#63ff94 25.5px,#6aff8d 26.5px,#9aff5d 28.5px,#aaff4d 29.5px,#9aff5d 31.5px,#77ff80 33.5px,#6dff8a 34.5px,#87ff70 38.5px,#7dff7a 41.5px,#b7ff40 44.5px,#a7ff50 45.5px,#40ffb7 47.5px,#29ffce 48.5px,#39ffbe 49.5px,#80ff77 51.5px,#8dff6a 52.5px,#7dff7a 56.5px,#80ff77 60.5px,#8dff6a 62.5px,#8aff6d 63.5px,#73ff83 64.5px,#30ffc7 66.5px,#2cffca 67.5px,#53ffa4 68.5px,#8dff6a 69.5px,#b4ff43 70.5px,#b4ff43 71.5px,#87ff70 73.5px,#7dff7a 74.5px,#83ff73 77.5px,#6dff8a 80.5px,#7dff7a 82.5px,#a0ff56 84.5px,#aaff4d 85.5px,#a4ff53 86.5px,#73ff83 88.5px,#63ff94 89.5px,#73ff83 91.5px,#80ff77 93.5px,#7aff7d 96.5px,#8aff6d 98.5px,#8aff6d 99.5px,#7aff7d 100.5px,#1fffd7 102.5px,#06ecf1 103.5px,#23ffd4 104.5px,#a0ff56 106.5px,#b7ff40 107.5px,#b1ff46 108.5px,#94ff63 110.5px,#66ff90 115px)"></i><i style="background:linear-gradient(90deg,#63ff94 0px,#a7ff50 6.5px,#caff2c 8.5px,#b4ff43 9.5px,#73ff83 10.5px,#23ffd4 11.5px,#00e0fb 12.5px,#13fce4 13.5px,#73ff83 15.5px,#87ff70 16.5px,#83ff73 18.5px,#77ff80 23.5px,#73ff83 25.5px,#a7ff50 28.5px,#9dff5a 30.5px,#6dff8a 33.5px,#6dff8a 35.5px,#8dff6a 38.5px,#73ff83 41.5px,#80ff77 42.5px,#beff39 44.5px,#c1ff36 45.5px,#9dff5a 46.5px,#60ff97 47.5px,#30ffc7 48.5px,#29ffce 49.5px,#7dff7a 52.5px,#80ff77 54.5px,#77ff80 58.5px,#80ff77 62.5px,#73ff83 63.5px,#36ffc1 65.5px,#26ffd1 66.5px,#40ffb7 67.5px,#b1ff46 69.5px,#c4ff33 70.5px,#b4ff43 71.5px,#7aff7d 73.5px,#7dff7a 75.5px,#8aff6d 76.5px,#83ff73 78.5px,#6aff8d 80.5px,#73ff83 82.5px,#a4ff53 85.5px,#aaff4d 86.5px,#8dff6a 88.5px,#70ff87 90.5px,#7dff7a 94.5px,#8aff6d 98.5px,#83ff73 99.5px,#63ff94 100.5px,#30ffc7 101.5px,#02e8f4 102.5px,#06ecf1 103.5px,#40ffb7 104.5px,#90ff66 105.5px,#c4ff33 106.5px,#c7ff30 107.5px,#9dff5a 109.5px,#80ff77 112.5px,#66ff90 115px)"></i><i style="background:linear-gradient(90deg,#6aff8d 0px,#73ff83 2.5px,#a4ff53 6.5px,#d7ff1f 8.5px,#d7ff1f 9.5px,#a4ff53 10.5px,#4dffaa 11.5px,#06ecf1 12.5px,#00e0fb 13.5px,#23ffd4 14.5px,#56ffa0 15.5px,#77ff80 16.5px,#83ff73 17.5px,#70ff87 23.5px,#7dff7a 25.5px,#a0ff56 27.5px,#9dff5a 29.5px,#73ff83 32.5px,#6aff8d 34.5px,#8dff6a 37.5px,#8aff6d 39.5px,#6dff8a 41.5px,#77ff80 42.5px,#b4ff43 44.5px,#caff2c 45.5px,#b7ff40 46.5px,#46ffb1 48.5px,#26ffd1 49.5px,#2cffca 50.5px,#63ff94 52.5px,#73ff83 53.5px,#73ff83 61.5px,#6dff8a 62.5px,#26ffd1 65.5px,#30ffc7 66.5px,#5dff9a 67.5px,#9aff5d 68.5px,#c4ff33 69.5px,#c4ff33 70.5px,#83ff73 72.5px,#70ff87 73.5px,#70ff87 74.5px,#8dff6a 76.5px,#8aff6d 78.5px,#6dff8a 80.5px,#70ff87 82.5px,#a0ff56 86.5px,#a4ff53 87.5px,#70ff87 91.5px,#83ff73 97.5px,#80ff77 98.5px,#6dff8a 99.5px,#0ff8e7 101.5px,#00dcfe 102.5px,#1cffdb 103.5px,#beff39 105.5px,#dbff1c 106.5px,#ceff29 107.5px,#9dff5a 109.5px,#70ff87 113.5px,#6dff8a 115px)"></i><i style="background:linear-gradient(90deg,#77ff80 0px,#6dff8a 2.5px,#70ff87 3.5px,#a4ff53 6.5px,#dbff1c 8.5px,#eeff09 9.5px,#d1ff26 10.5px,#83ff73 11.5px,#29ffce 12.5px,#00dcfe 13.5px,#06ecf1 14.5px,#33ffc4 15.5px,#5aff9d 16.5px,#70ff87 17.5px,#6aff8d 23.5px,#94ff63 26.5px,#97ff60 28.5px,#73ff83 32.5px,#7dff7a 35.5px,#90ff66 38.5px,#70ff87 41.5px,#70ff87 42.5px,#80ff77 43.5px,#beff39 45.5px,#c1ff36 46.5px,#a0ff56 47.5px,#3cffba 49.5px,#29ffce 50.5px,#36ffc1 51.5px,#63ff94 53.5px,#70ff87 55.5px,#6aff8d 61.5px,#46ffb1 63.5px,#30ffc7 64.5px,#2cffca 65.5px,#4dffaa 66.5px,#b4ff43 68.5px,#c4ff33 69.5px,#b4ff43 70.5px,#77ff80 72.5px,#6dff8a 73.5px,#8dff6a 76.5px,#8aff6d 78.5px,#73ff83 81.5px,#7dff7a 84.5px,#9aff5d 87.5px,#9aff5d 88.5px,#70ff87 91.5px,#6aff8d 94.5px,#73ff83 97.5px,#6aff8d 98.5px,#4dffaa 99.5px,#1fffd7 100.5px,#00e0fb 101.5px,#06ecf1 102.5px,#4dffaa 103.5px,#a7ff50 104.5px,#e4ff13 105.5px,#ebff0c 106.5px,#b1ff46 108.5px,#6dff8a 112.5px,#73ff83 115px)"></i><i style="background:linear-gradient(90deg,#80ff77 0px,#63ff94 2.5px,#5dff9a 3.5px,#6aff8d 4.5px,#deff19 8.5px,#fbf100 9.5px,#f8f500 10.5px,#c1ff36 11.5px,#66ff90 12.5px,#19ffde 13.5px,#02e8f4 14.5px,#19ffde 15.5px,#40ffb7 16.5px,#5aff9d 17.5px,#63ff94 19.5px,#63ff94 22.5px,#8dff6a 26.5px,#7aff7d 31.5px,#87ff70 35.5px,#7aff7d 41.5px,#7dff7a 43.5px,#baff3c 46.5px,#b1ff46 47.5px,#60ff97 49.5px,#43ffb4 50.5px,#40ffb7 51.5px,#6dff8a 54.5px,#73ff83 58.5px,#6aff8d 61.5px,#46ffb1 63.5px,#3cffba 64.5px,#4dffaa 65.5px,#9dff5a 67.5px,#b7ff40 68.5px,#b4ff43 69.5px,#83ff73 71.5px,#77ff80 72.5px,#87ff70 80.5px,#7aff7d 84.5px,#90ff66 88.5px,#80ff77 90.5px,#66ff90 92.5px,#60ff97 94.5px,#60ff97 97.5px,#50ffa7 98.5px,#30ffc7 99.5px,#0cf4eb 100.5px,#06ecf1 101.5px,#33ffc4 102.5px,#deff19 104.5px,#ffea00 105.5px,#f1fc06 106.5px,#77ff80 110.5px,#63ff94 111.5px,#5dff9a 112.5px,#7aff7d 115px)"></i><i style="background:linear-gradient(90deg,#83ff73 0px,#49ffad 3.5px,#4dffaa 4.5px,#66ff90 5.5px,#deff19 8.5px,#ffe600 9.5px,#ffd300 10.5px,#f8f500 11.5px,#aaff4d 12.5px,#53ffa4 13.5px,#1cffdb 14.5px,#16ffe1 15.5px,#4dffaa 17.5px,#60ff97 19.5px,#66ff90 22.5px,#83ff73 26.5px,#7aff7d 29.5px,#94ff63 33.5px,#8aff6d 35.5px,#66ff90 37.5px,#63ff94 38.5px,#8aff6d 41.5px,#87ff70 44.5px,#b1ff46 47.5px,#a4ff53 48.5px,#63ff94 50.5px,#56ffa0 51.5px,#5aff9d 52.5px,#77ff80 54.5px,#80ff77 58.5px,#7dff7a 60.5px,#56ffa0 63.5px,#5aff9d 64.5px,#aaff4d 67.5px,#b1ff46 68.5px,#8dff6a 70.5px,#83ff73 71.5px,#8aff6d 74.5px,#6aff8d 76.5px,#63ff94 77.5px,#7dff7a 79.5px,#90ff66 80.5px,#97ff60 81.5px,#7aff7d 85.5px,#83ff73 89.5px,#60ff97 94.5px,#56ffa0 97.5px,#13fce4 100.5px,#2cffca 101.5px,#73ff83 102.5px,#ceff29 103.5px,#ffde00 104.5px,#ffd300 105.5px,#f8f500 106.5px,#ceff29 107.5px,#5aff9d 110.5px,#49ffad 111.5px,#50ffa7 112.5px,#7aff7d 115px)"></i><i style="background:linear-gradient(90deg,#7dff7a 0px,#5aff9d 2.5px,#43ffb4 3.5px,#39ffbe 4.5px,#43ffb4 5.5px,#66ff90 6.5px,#d1ff26 8.5px,#ffe600 9.5px,#ffbd00 10.5px,#ffc100 11.5px,#ebff0c 12.5px,#90ff66 13.5px,#43ffb4 14.5px,#23ffd4 15.5px,#29ffce 16.5px,#56ffa0 18.5px,#77ff80 24.5px,#77ff80 28.5px,#a0ff56 33.5px,#97ff60 34.5px,#4dffaa 37.5px,#49ffad 38.5px,#9aff5d 41.5px,#a0ff56 42.5px,#90ff66 44.5px,#90ff66 45.5px,#a7ff50 47.5px,#a7ff50 48.5px,#6dff8a 51.5px,#6aff8d 52.5px,#8aff6d 55.5px,#87ff70 60.5px,#6aff8d 63.5px,#73ff83 64.5px,#a0ff56 66.5px,#aaff4d 67.5px,#90ff66 70.5px,#a0ff56 73.5px,#90ff66 74.5px,#53ffa4 76.5px,#46ffb1 77.5px,#53ffa4 78.5px,#8dff6a 80.5px,#9dff5a 81.5px,#a0ff56 82.5px,#77ff80 87.5px,#77ff80 91.5px,#5dff9a 96.5px,#50ffa7 97.5px,#23ffd4 99.5px,#29ffce 100.5px,#5dff9a 101.5px,#b7ff40 102.5px,#ffe200 103.5px,#ffb900 104.5px,#ffc800 105.5px,#f1fc06 106.5px,#83ff73 108.5px,#56ffa0 109.5px,#3cffba 110.5px,#3cffba 111.5px,#77ff80 115px)"></i><i style="background:linear-gradient(90deg,#77ff80 0px,#63ff94 2.5px,#39ffbe 4.5px,#2cffca 5.5px,#3cffba 6.5px,#66ff90 7.5px,#eeff09 9.5px,#ffb900 10.5px,#ff9f00 11.5px,#ffc400 12.5px,#ceff29 13.5px,#6dff8a 14.5px,#2cffca 15.5px,#19ffde 16.5px,#26ffd1 17.5px,#56ffa0 19.5px,#6dff8a 23.5px,#6dff8a 26.5px,#a0ff56 31.5px,#9aff5d 33.5px,#70ff87 35.5px,#40ffb7 37.5px,#40ffb7 38.5px,#53ffa4 39.5px,#97ff60 41.5px,#aaff4d 42.5px,#9dff5a 46.5px,#a4ff53 48.5px,#9dff5a 49.5px,#7aff7d 51.5px,#70ff87 52.5px,#87ff70 56.5px,#80ff77 60.5px,#70ff87 62.5px,#80ff77 64.5px,#a0ff56 66.5px,#a0ff56 70.5px,#adff49 72.5px,#a4ff53 73.5px,#49ffad 76.5px,#3cffba 77.5px,#46ffb1 78.5px,#90ff66 81.5px,#a0ff56 83.5px,#97ff60 85.5px,#70ff87 88.5px,#6aff8d 93.5px,#50ffa7 96.5px,#1fffd7 98.5px,#19ffde 99.5px,#40ffb7 100.5px,#94ff63 101.5px,#f4f802 102.5px,#ffae00 103.5px,#ffa300 104.5px,#ffd300 105.5px,#d4ff23 106.5px,#8dff6a 107.5px,#53ffa4 108.5px,#33ffc4 109.5px,#30ffc7 110.5px,#6aff8d 113.5px,#73ff83 115px)"></i><i style="background:linear-gradient(90deg,#73ff83 0px,#70ff87 2.5px,#63ff94 3.5px,#30ffc7 5.5px,#23ffd4 6.5px,#36ffc1 7.5px,#6dff8a 8.5px,#c1ff36 9.5px,#ffd000 10.5px,#ff8d00 11.5px,#ff8900 12.5px,#ffd300 13.5px,#aaff4d 14.5px,#43ffb4 15.5px,#09f0ee 16.5px,#00e4f8 17.5px,#13fce4 18.5px,#43ffb4 20.5px,#56ffa0 22.5px,#66ff90 25.5px,#aaff4d 29.5px,#adff49 30.5px,#94ff63 32.5px,#60ff97 35.5px,#50ffa7 37.5px,#53ffa4 39.5px,#aaff4d 43.5px,#b1ff46 45.5px,#a4ff53 48.5px,#6dff8a 52.5px,#6aff8d 54.5px,#6dff8a 58.5px,#6aff8d 62.5px,#80ff77 64.5px,#a7ff50 67.5px,#b1ff46 71.5px,#8dff6a 73.5px,#5dff9a 75.5px,#4dffaa 77.5px,#63ff94 80.5px,#aaff4d 84.5px,#a7ff50 86.5px,#63ff94 90.5px,#4dffaa 94.5px,#26ffd1 96.5px,#09f0ee 97.5px,#00e0fb 98.5px,#19ffde 99.5px,#6aff8d 100.5px,#d7ff1f 101.5px,#ffae00 102.5px,#ff8200 103.5px,#ff9f00 104.5px,#f4f802 105.5px,#9dff5a 106.5px,#53ffa4 107.5px,#29ffce 108.5px,#26ffd1 109.5px,#6aff8d 112.5px,#73ff83 115px)"></i><i style="background:linear-gradient(90deg,#7aff7d 0px,#7dff7a 2.5px,#77ff80 3.5px,#63ff94 4.5px,#23ffd4 6.5px,#16ffe1 7.5px,#30ffc7 8.5px,#77ff80 9.5px,#deff19 10.5px,#ff9f00 11.5px,#ff5d00 12.5px,#ff7300 13.5px,#ffde00 14.5px,#90ff66 15.5px,#29ffce 16.5px,#00d8ff 17.5px,#00d0ff 18.5px,#06ecf1 19.5px,#1cffdb 20.5px,#60ff97 24.5px,#b4ff43 27.5px,#c4ff33 28.5px,#c1ff36 29.5px,#b1ff46 30.5px,#60ff97 33.5px,#56ffa0 34.5px,#6dff8a 37.5px,#63ff94 39.5px,#5aff9d 40.5px,#5dff9a 41.5px,#8dff6a 43.5px,#beff39 45.5px,#c4ff33 46.5px,#b1ff46 48.5px,#60ff97 52.5px,#4dffaa 54.5px,#4dffaa 60.5px,#5aff9d 62.5px,#77ff80 64.5px,#b7ff40 67.5px,#c4ff33 68.5px,#c4ff33 69.5px,#b7ff40 70.5px,#66ff90 73.5px,#5aff9d 74.5px,#6dff8a 78.5px,#56ffa0 80.5px,#66ff90 82.5px,#baff3c 85.5px,#c4ff33 86.5px,#c1ff36 87.5px,#8dff6a 89.5px,#56ffa0 91.5px,#29ffce 94.5px,#13fce4 95.5px,#00e0fb 96.5px,#00d0ff 97.5px,#02e8f4 98.5px,#4dffaa 99.5px,#c1ff36 100.5px,#ffab00 101.5px,#ff6000 102.5px,#ff6f00 103.5px,#ffc800 104.5px,#b1ff46 105.5px,#53ffa4 106.5px,#1fffd7 107.5px,#16ffe1 108.5px,#6dff8a 111.5px,#7dff7a 112.5px,#7aff7d 115px)"></i><i style="background:linear-gradient(90deg,#80ff77 0px,#83ff73 3.5px,#77ff80 4.5px,#5dff9a 5.5px,#0ff8e7 7.5px,#00e4f8 8.5px,#1fffd7 9.5px,#7aff7d 10.5px,#f4f802 11.5px,#ff6f00 12.5px,#ff2d00 13.5px,#ff4a00 14.5px,#ffb900 15.5px,#b4ff43 16.5px,#53ffa4 17.5px,#23ffd4 18.5px,#16ffe1 19.5px,#33ffc4 21.5px,#66ff90 23.5px,#d7ff1f 26.5px,#e4ff13 27.5px,#deff19 28.5px,#c4ff33 29.5px,#77ff80 31.5px,#5aff9d 32.5px,#4dffaa 33.5px,#63ff94 35.5px,#8aff6d 37.5px,#87ff70 38.5px,#56ffa0 40.5px,#46ffb1 41.5px,#46ffb1 42.5px,#60ff97 43.5px,#b1ff46 45.5px,#d1ff26 46.5px,#dbff1c 47.5px,#ceff29 48.5px,#90ff66 50.5px,#53ffa4 52.5px,#23ffd4 55.5px,#19ffde 58.5px,#33ffc4 61.5px,#60ff97 63.5px,#c1ff36 66.5px,#d7ff1f 67.5px,#d7ff1f 68.5px,#c4ff33 69.5px,#53ffa4 72.5px,#43ffb4 73.5px,#49ffad 74.5px,#7dff7a 76.5px,#8aff6d 77.5px,#87ff70 78.5px,#4dffaa 81.5px,#50ffa7 82.5px,#63ff94 83.5px,#d1ff26 86.5px,#e4ff13 87.5px,#e1ff16 88.5px,#caff2c 89.5px,#5dff9a 92.5px,#2cffca 94.5px,#1cffdb 95.5px,#19ffde 96.5px,#30ffc7 97.5px,#77ff80 98.5px,#e4ff13 99.5px,#ff8600 100.5px,#ff3000 101.5px,#ff3b00 102.5px,#ffa300 103.5px,#c1ff36 104.5px,#50ffa7 105.5px,#0cf4eb 106.5px,#02e8f4 107.5px,#1cffdb 108.5px,#6aff8d 110.5px,#7dff7a 111.5px,#83ff73 113.5px,#80ff77 115px)"></i><i style="background:linear-gradient(90deg,#80ff77 0px,#83ff73 3.5px,#6dff8a 5.5px,#49ffad 6.5px,#19ffde 7.5px,#00c8ff 8.5px,#00b0ff 9.5px,#00dcfe 10.5px,#60ff97 11.5px,#f8f500 12.5px,#ff5200 13.5px,#d10000 14.5px,#d10000 15.5px,#ff3f00 16.5px,#ffb200 17.5px,#d7ff1f 18.5px,#a0ff56 19.5px,#8dff6a 20.5px,#94ff63 21.5px,#caff2c 23.5px,#ebff0c 24.5px,#ffe600 25.5px,#ffde00 26.5px,#fbf100 27.5px,#d4ff23 28.5px,#77ff80 30.5px,#5aff9d 31.5px,#50ffa7 32.5px,#53ffa4 33.5px,#87ff70 36.5px,#90ff66 37.5px,#8dff6a 38.5px,#7dff7a 39.5px,#46ffb1 41.5px,#36ffc1 42.5px,#3cffba 43.5px,#5aff9d 44.5px,#c1ff36 46.5px,#ebff0c 47.5px,#f8f500 48.5px,#ebff0c 49.5px,#94ff63 51.5px,#39ffbe 53.5px,#19ffde 54.5px,#02e8f4 55.5px,#00d8ff 56.5px,#00d0ff 57.5px,#00dcfe 59.5px,#09f0ee 60.5px,#26ffd1 61.5px,#77ff80 63.5px,#d4ff23 65.5px,#f4f802 66.5px,#f4f802 67.5px,#dbff1c 68.5px,#77ff80 70.5px,#4dffaa 71.5px,#36ffc1 72.5px,#39ffbe 73.5px,#83ff73 76.5px,#90ff66 77.5px,#80ff77 79.5px,#5aff9d 81.5px,#50ffa7 83.5px,#63ff94 84.5px,#87ff70 85.5px,#e4ff13 87.5px,#ffe600 88.5px,#ffdb00 89.5px,#feed00 90.5px,#deff19 91.5px,#a0ff56 93.5px,#90ff66 94.5px,#94ff63 95.5px,#b4ff43 96.5px,#f8f500 97.5px,#ff1600 99.5px,#c40000 100.5px,#f60b00 101.5px,#ff8d00 102.5px,#b7ff40 103.5px,#30ffc7 104.5px,#00c0ff 105.5px,#00b4ff 106.5px,#00e0fb 107.5px,#2cffca 108.5px,#5aff9d 109.5px,#77ff80 110.5px,#83ff73 112.5px,#83ff73 115px)"></i><i style="background:linear-gradient(90deg,#7aff7d 0px,#7aff7d 4.5px,#73ff83 5.5px,#5aff9d 6.5px,#2cffca 7.5px,#00d0ff 8.5px,#0084ff 9.5px,#0060ff 10.5px,#008cff 11.5px,#30ffc7 12.5px,#e1ff16 13.5px,#ff3b00 14.5px,#800000 15.5px,#800000 17.5px,#e40000 18.5px,#ff5200 19.5px,#ff8d00 20.5px,#ffa700 21.5px,#ffa700 24.5px,#ffbd00 25.5px,#ffea00 26.5px,#ceff29 27.5px,#97ff60 28.5px,#6dff8a 29.5px,#53ffa4 30.5px,#56ffa0 32.5px,#7dff7a 35.5px,#83ff73 37.5px,#7aff7d 39.5px,#56ffa0 41.5px,#33ffc4 43.5px,#39ffbe 44.5px,#5aff9d 45.5px,#d4ff23 47.5px,#ffde00 48.5px,#ffc100 49.5px,#ffd000 50.5px,#ebff0c 51.5px,#6aff8d 53.5px,#33ffc4 54.5px,#0ff8e7 55.5px,#00dcfe 56.5px,#00d0ff 57.5px,#00d4ff 58.5px,#00e4f8 59.5px,#1cffdb 60.5px,#46ffb1 61.5px,#c4ff33 63.5px,#feed00 64.5px,#ffc400 65.5px,#ffc400 66.5px,#f8f500 67.5px,#baff3c 68.5px,#7aff7d 69.5px,#49ffad 70.5px,#33ffc4 71.5px,#36ffc1 72.5px,#73ff83 75.5px,#83ff73 78.5px,#70ff87 81.5px,#53ffa4 83.5px,#50ffa7 84.5px,#5aff9d 85.5px,#7dff7a 86.5px,#e4ff13 88.5px,#ffd300 89.5px,#ffb200 90.5px,#ffa300 91.5px,#ffab00 93.5px,#ff9f00 94.5px,#ff7700 95.5px,#ff3000 96.5px,#b60000 97.5px,#800000 98.5px,#800000 99.5px,#bb0000 100.5px,#ff8d00 101.5px,#97ff60 102.5px,#00d8ff 103.5px,#0070ff 104.5px,#0064ff 105.5px,#00a0ff 106.5px,#09f0ee 107.5px,#43ffb4 108.5px,#66ff90 109.5px,#7dff7a 111.5px,#7aff7d 115px)"></i><i style="background:linear-gradient(90deg,#6dff8a 0px,#73ff83 4.5px,#66ff90 6.5px,#49ffad 7.5px,#13fce4 8.5px,#00a0ff 9.5px,#0044ff 10.5px,#0014ff 11.5px,#003cff 12.5px,#00d8ff 13.5px,#b4ff43 14.5px,#ff5d00 15.5px,#840000 16.5px,#800000 19.5px,#bb0000 20.5px,#ff1e00 21.5px,#ff8d00 23.5px,#ffd000 24.5px,#d7ff1f 25.5px,#60ff97 27.5px,#3cffba 28.5px,#33ffc4 29.5px,#39ffbe 30.5px,#77ff80 33.5px,#7aff7d 35.5px,#6dff8a 41.5px,#30ffc7 44.5px,#33ffc4 45.5px,#53ffa4 46.5px,#94ff63 47.5px,#e4ff13 48.5px,#ffb600 49.5px,#ff8900 50.5px,#ff8d00 51.5px,#ffc100 52.5px,#e7ff0f 53.5px,#aaff4d 54.5px,#7dff7a 55.5px,#60ff97 56.5px,#56ffa0 58.5px,#6aff8d 59.5px,#8dff6a 60.5px,#c1ff36 61.5px,#ffea00 62.5px,#ffa700 63.5px,#ff8600 64.5px,#ff9400 65.5px,#ffd300 66.5px,#c4ff33 67.5px,#77ff80 68.5px,#43ffb4 69.5px,#2cffca 70.5px,#36ffc1 71.5px,#63ff94 73.5px,#73ff83 75.5px,#73ff83 78.5px,#7dff7a 80.5px,#70ff87 82.5px,#36ffc1 85.5px,#33ffc4 86.5px,#49ffad 87.5px,#73ff83 88.5px,#f1fc06 90.5px,#ffb200 91.5px,#ff3f00 93.5px,#ed0400 94.5px,#9b0000 95.5px,#800000 96.5px,#800000 98.5px,#cd0000 99.5px,#ffb600 100.5px,#60ff97 101.5px,#008cff 102.5px,#0020ff 103.5px,#0020ff 104.5px,#0068ff 105.5px,#00c8ff 106.5px,#2cffca 107.5px,#56ffa0 108.5px,#6dff8a 109.5px,#73ff83 112.5px,#70ff87 115px)"></i><i style="background:linear-gradient(90deg,#6aff8d 0px,#73ff83 6.5px,#6aff8d 7.5px,#50ffa7 8.5px,#1cffdb 9.5px,#00acff 10.5px,#0044ff 11.5px,#0004ff 12.5px,#0010ff 13.5px,#0084ff 14.5px,#50ffa7 15.5px,#ffea00 16.5px,#ff4300 17.5px,#c80000 18.5px,#b60000 19.5px,#ed0400 20.5px,#ff5500 21.5px,#ffb600 22.5px,#d1ff26 23.5px,#2cffca 25.5px,#00dcfe 26.5px,#00c4ff 27.5px,#00ccff 28.5px,#09f0ee 29.5px,#2cffca 30.5px,#50ffa7 31.5px,#77ff80 33.5px,#73ff83 39.5px,#7aff7d 41.5px,#5aff9d 43.5px,#1fffd7 45.5px,#1cffdb 46.5px,#39ffbe 47.5px,#7aff7d 48.5px,#d4ff23 49.5px,#ffb600 50.5px,#ff6c00 51.5px,#ff4e00 52.5px,#ff5500 53.5px,#ffab00 56.5px,#ffb200 58.5px,#ff8600 60.5px,#ff6400 61.5px,#ff4e00 62.5px,#ff5500 63.5px,#ff8600 64.5px,#ffde00 65.5px,#adff49 66.5px,#5dff9a 67.5px,#29ffce 68.5px,#19ffde 69.5px,#29ffce 70.5px,#63ff94 72.5px,#7aff7d 74.5px,#70ff87 78.5px,#7aff7d 81.5px,#60ff97 83.5px,#1fffd7 85.5px,#00e0fb 86.5px,#00c4ff 87.5px,#00c8ff 88.5px,#0cf4eb 89.5px,#49ffad 90.5px,#9aff5d 91.5px,#f8f500 92.5px,#ff8d00 93.5px,#ff3000 94.5px,#d10000 95.5px,#b20000 96.5px,#e80000 97.5px,#ff7e00 98.5px,#beff39 99.5px,#0cf4eb 100.5px,#004cff 101.5px,#0000ff 102.5px,#0018ff 103.5px,#006cff 104.5px,#00d4ff 105.5px,#33ffc4 106.5px,#5dff9a 107.5px,#70ff87 108.5px,#6dff8a 112.5px,#6aff8d 115px)"></i><i style="background:linear-gradient(90deg,#80ff77 0px,#77ff80 2.5px,#8dff6a 6.5px,#9aff5d 8.5px,#8aff6d 9.5px,#60ff97 10.5px,#16ffe1 11.5px,#008cff 12.5px,#0024ff 13.5px,#0000ff 14.5px,#001cff 15.5px,#0094ff 16.5px,#39ffbe 17.5px,#aaff4d 18.5px,#e7ff0f 19.5px,#eeff09 20.5px,#c4ff33 21.5px,#26ffd1 23.5px,#00bcff 24.5px,#0080ff 25.5px,#006cff 26.5px,#0080ff 27.5px,#00b0ff 28.5px,#02e8f4 29.5px,#2cffca 30.5px,#63ff94 32.5px,#77ff80 35.5px,#7dff7a 41.5px,#66ff90 43.5px,#23ffd4 45.5px,#00e0fb 46.5px,#00c4ff 47.5px,#00d0ff 48.5px,#29ffce 49.5px,#87ff70 50.5px,#f8f500 51.5px,#ff7a00 52.5px,#ff1a00 53.5px,#bf0000 54.5px,#960000 55.5px,#840000 56.5px,#800000 58.5px,#890000 59.5px,#a40000 60.5px,#d60000 61.5px,#ff3f00 62.5px,#ffab00 63.5px,#caff2c 64.5px,#5dff9a 65.5px,#0cf4eb 66.5px,#00c4ff 67.5px,#00c8ff 68.5px,#09f0ee 69.5px,#33ffc4 70.5px,#70ff87 72.5px,#7dff7a 74.5px,#73ff83 81.5px,#5aff9d 83.5px,#1cffdb 85.5px,#00d0ff 86.5px,#009cff 87.5px,#0074ff 88.5px,#0070ff 89.5px,#0094ff 90.5px,#00dcfe 91.5px,#46ffb1 92.5px,#9aff5d 93.5px,#dbff1c 94.5px,#f4f802 95.5px,#d7ff1f 96.5px,#80ff77 97.5px,#06ecf1 98.5px,#005cff 99.5px,#0004ff 100.5px,#0000ff 101.5px,#0048ff 102.5px,#00bcff 103.5px,#36ffc1 104.5px,#77ff80 105.5px,#94ff63 106.5px,#9aff5d 107.5px,#7dff7a 111.5px,#7dff7a 115px)"></i><i style="background:linear-gradient(90deg,#adff49 0px,#a0ff56 3.5px,#baff3c 6.5px,#deff19 8.5px,#e7ff0f 9.5px,#deff19 10.5px,#b1ff46 11.5px,#60ff97 12.5px,#00d4ff 13.5px,#0044ff 14.5px,#0000e8 15.5px,#0000bf 16.5px,#0000ed 17.5px,#0038ff 18.5px,#0094ff 19.5px,#00d4ff 20.5px,#06ecf1 21.5px,#00e0fb 22.5px,#00b0ff 24.5px,#00a8ff 25.5px,#00b0ff 26.5px,#00ccff 27.5px,#06ecf1 28.5px,#1fffd7 29.5px,#4dffaa 31.5px,#73ff83 35.5px,#80ff77 39.5px,#77ff80 42.5px,#53ffa4 44.5px,#2cffca 45.5px,#00dcfe 46.5px,#0094ff 47.5px,#0060ff 48.5px,#0058ff 49.5px,#008cff 50.5px,#19ffde 51.5px,#9dff5a 52.5px,#ffbd00 53.5px,#ff3000 54.5px,#9f0000 55.5px,#800000 56.5px,#800000 59.5px,#cd0000 60.5px,#ff6400 61.5px,#f1fc06 62.5px,#66ff90 63.5px,#00d0ff 64.5px,#0070ff 65.5px,#0054ff 66.5px,#0070ff 67.5px,#00b0ff 68.5px,#0ff8e7 69.5px,#40ffb7 70.5px,#60ff97 71.5px,#7aff7d 73.5px,#80ff77 77.5px,#60ff97 82.5px,#30ffc7 85.5px,#16ffe1 86.5px,#00dcfe 87.5px,#00acff 89.5px,#00a8ff 90.5px,#00b8ff 91.5px,#00d4ff 92.5px,#02e8f4 93.5px,#02e8f4 94.5px,#00c0ff 95.5px,#0070ff 96.5px,#0010ff 97.5px,#0000d1 98.5px,#0000c4 99.5px,#0000ff 100.5px,#007cff 101.5px,#1fffd7 102.5px,#87ff70 103.5px,#c7ff30 104.5px,#e4ff13 105.5px,#e4ff13 106.5px,#aaff4d 110.5px,#a0ff56 112.5px,#aaff4d 115px)"></i><i style="background:linear-gradient(90deg,#ceff29 0px,#ceff29 4.5px,#f1fc06 8.5px,#feed00 9.5px,#ffea00 10.5px,#f1fc06 11.5px,#c4ff33 12.5px,#73ff83 13.5px,#02e8f4 14.5px,#0054ff 15.5px,#0000df 16.5px,#000092 17.5px,#000092 18.5px,#0000d1 19.5px,#0020ff 20.5px,#00d4ff 22.5px,#29ffce 23.5px,#50ffa7 24.5px,#6aff8d 25.5px,#77ff80 27.5px,#5aff9d 31.5px,#5aff9d 33.5px,#73ff83 38.5px,#6aff8d 42.5px,#56ffa0 44.5px,#3cffba 45.5px,#13fce4 46.5px,#00b8ff 47.5px,#0070ff 48.5px,#0034ff 49.5px,#0020ff 50.5px,#0044ff 51.5px,#00a4ff 52.5px,#39ffbe 53.5px,#b1ff46 54.5px,#ffd000 55.5px,#ff7e00 56.5px,#ff5500 57.5px,#ff6000 58.5px,#ff9800 59.5px,#f1fc06 60.5px,#80ff77 61.5px,#0cf4eb 62.5px,#0078ff 63.5px,#0030ff 64.5px,#0020ff 65.5px,#0048ff 66.5px,#00d8ff 68.5px,#26ffd1 69.5px,#49ffad 70.5px,#66ff90 72.5px,#73ff83 76.5px,#63ff94 80.5px,#56ffa0 83.5px,#77ff80 88.5px,#60ff97 90.5px,#43ffb4 91.5px,#13fce4 92.5px,#00b4ff 93.5px,#0000ff 95.5px,#0000b2 96.5px,#000089 97.5px,#0000a8 98.5px,#0000ff 99.5px,#008cff 100.5px,#33ffc4 101.5px,#97ff60 102.5px,#dbff1c 103.5px,#fbf100 104.5px,#ffea00 105.5px,#eeff09 107.5px,#d1ff26 110.5px,#ceff29 115px)"></i><i style="background:linear-gradient(90deg,#b4ff43 0px,#c4ff33 4.5px,#caff2c 11.5px,#beff39 12.5px,#9aff5d 13.5px,#5dff9a 14.5px,#09f0ee 15.5px,#007cff 16.5px,#0014ff 17.5px,#0000e3 18.5px,#0000e3 19.5px,#0014ff 20.5px,#007cff 21.5px,#0ff8e7 22.5px,#70ff87 23.5px,#beff39 24.5px,#eeff09 25.5px,#ffea00 26.5px,#fbf100 27.5px,#e1ff16 28.5px,#83ff73 31.5px,#63ff94 33.5px,#5aff9d 36.5px,#5aff9d 45.5px,#3cffba 47.5px,#19ffde 48.5px,#00ccff 49.5px,#0094ff 50.5px,#0068ff 51.5px,#005cff 52.5px,#006cff 53.5px,#00d4ff 55.5px,#1cffdb 56.5px,#30ffc7 57.5px,#29ffce 58.5px,#0cf4eb 59.5px,#00bcff 60.5px,#0088ff 61.5px,#0060ff 62.5px,#005cff 63.5px,#0078ff 64.5px,#00e4f8 66.5px,#29ffce 67.5px,#46ffb1 68.5px,#5aff9d 70.5px,#5aff9d 80.5px,#66ff90 82.5px,#8dff6a 84.5px,#eeff09 87.5px,#feed00 88.5px,#fbf100 89.5px,#deff19 90.5px,#a0ff56 91.5px,#4dffaa 92.5px,#00c8ff 93.5px,#0050ff 94.5px,#0000ff 95.5px,#0000da 96.5px,#0000f6 97.5px,#0038ff 98.5px,#00a8ff 99.5px,#2cffca 100.5px,#7aff7d 101.5px,#aaff4d 102.5px,#c4ff33 103.5px,#caff2c 105.5px,#beff39 113.5px,#b7ff40 115px)"></i><i style="background:linear-gradient(90deg,#60ff97 0px,#7dff7a 3.5px,#70ff87 10.5px,#83ff73 13.5px,#7dff7a 14.5px,#63ff94 15.5px,#39ffbe 16.5px,#02e8f4 17.5px,#00a8ff 18.5px,#0084ff 19.5px,#0088ff 20.5px,#00b8ff 21.5px,#1cffdb 22.5px,#b4ff43 24.5px,#eeff09 25.5px,#ffd300 26.5px,#ffc100 27.5px,#ffc800 28.5px,#ffe200 29.5px,#ebff0c 30.5px,#94ff63 33.5px,#70ff87 35.5px,#60ff97 38.5px,#6aff8d 42.5px,#94ff63 45.5px,#b7ff40 47.5px,#b7ff40 48.5px,#a7ff50 49.5px,#7dff7a 50.5px,#3cffba 51.5px,#00d4ff 52.5px,#0078ff 53.5px,#0030ff 54.5px,#0000ff 55.5px,#0000e8 57.5px,#0000e8 58.5px,#0000fa 59.5px,#0010ff 60.5px,#004cff 61.5px,#009cff 62.5px,#0ff8e7 63.5px,#56ffa0 64.5px,#90ff66 65.5px,#b1ff46 66.5px,#baff3c 67.5px,#a0ff56 69.5px,#70ff87 72.5px,#60ff97 75.5px,#6aff8d 79.5px,#87ff70 81.5px,#b7ff40 83.5px,#d7ff1f 84.5px,#f8f500 85.5px,#ffd700 86.5px,#ffc400 87.5px,#ffc400 88.5px,#ffe200 89.5px,#dbff1c 90.5px,#49ffad 92.5px,#00e4f8 93.5px,#00a0ff 94.5px,#0080ff 95.5px,#008cff 96.5px,#00c0ff 97.5px,#19ffde 98.5px,#4dffaa 99.5px,#70ff87 100.5px,#80ff77 101.5px,#70ff87 106.5px,#7dff7a 110.5px,#73ff83 113.5px,#6aff8d 115px)"></i><i style="background:linear-gradient(90deg,#23ffd4 0px,#33ffc4 5.5px,#33ffc4 9.5px,#46ffb1 11.5px,#6dff8a 13.5px,#97ff60 15.5px,#9dff5a 16.5px,#90ff66 17.5px,#30ffc7 20.5px,#1fffd7 21.5px,#1fffd7 22.5px,#36ffc1 23.5px,#87ff70 25.5px,#dbff1c 27.5px,#f8f500 28.5px,#ffe200 29.5px,#ffea00 31.5px,#f1fc06 32.5px,#aaff4d 36.5px,#97ff60 38.5px,#9dff5a 41.5px,#caff2c 44.5px,#e4ff13 45.5px,#fbf100 46.5px,#ffd700 47.5px,#ffc800 48.5px,#ffd000 49.5px,#f8f500 50.5px,#baff3c 51.5px,#66ff90 52.5px,#00e4f8 53.5px,#0068ff 54.5px,#0000ff 55.5px,#0000b6 56.5px,#00008d 57.5px,#000096 58.5px,#0000d1 59.5px,#0024ff 60.5px,#0098ff 61.5px,#29ffce 62.5px,#8aff6d 63.5px,#d7ff1f 64.5px,#ffe200 65.5px,#ffc800 66.5px,#ffcc00 67.5px,#ffde00 68.5px,#f1fc06 69.5px,#b1ff46 72.5px,#9aff5d 74.5px,#9aff5d 77.5px,#beff39 80.5px,#e4ff13 82.5px,#f8f500 83.5px,#ffe600 84.5px,#ffe200 85.5px,#ffea00 86.5px,#eeff09 87.5px,#ceff29 88.5px,#49ffad 91.5px,#2cffca 92.5px,#1cffdb 93.5px,#23ffd4 94.5px,#60ff97 96.5px,#97ff60 98.5px,#9dff5a 99.5px,#7dff7a 101.5px,#50ffa7 103.5px,#36ffc1 105.5px,#33ffc4 109.5px,#29ffce 113.5px,#26ffd1 115px)"></i><i style="background:linear-gradient(90deg,#29ffce 0px,#23ffd4 4.5px,#30ffc7 8.5px,#40ffb7 10.5px,#7aff7d 13.5px,#caff2c 16.5px,#d7ff1f 17.5px,#d1ff26 18.5px,#baff3c 19.5px,#43ffb4 22.5px,#26ffd1 23.5px,#19ffde 24.5px,#1fffd7 25.5px,#5aff9d 27.5px,#ceff29 30.5px,#f4f802 32.5px,#fbf100 34.5px,#e7ff0f 38.5px,#e4ff13 40.5px,#f8f500 43.5px,#ffd700 46.5px,#ffdb00 48.5px,#ffea00 49.5px,#e4ff13 50.5px,#baff3c 51.5px,#80ff77 52.5px,#39ffbe 53.5px,#00d0ff 54.5px,#0078ff 55.5px,#0038ff 56.5px,#0018ff 57.5px,#0020ff 58.5px,#004cff 59.5px,#0098ff 60.5px,#0cf4eb 61.5px,#56ffa0 62.5px,#9aff5d 63.5px,#ceff29 64.5px,#f1fc06 65.5px,#ffe200 66.5px,#ffd700 67.5px,#ffe200 70.5px,#eeff09 73.5px,#e4ff13 76.5px,#f1fc06 79.5px,#fbf100 81.5px,#eeff09 83.5px,#deff19 84.5px,#9dff5a 86.5px,#4dffaa 88.5px,#2cffca 89.5px,#1cffdb 90.5px,#1cffdb 91.5px,#30ffc7 92.5px,#50ffa7 93.5px,#a7ff50 95.5px,#c7ff30 96.5px,#d4ff23 97.5px,#d4ff23 98.5px,#a7ff50 100.5px,#5aff9d 103.5px,#33ffc4 106.5px,#23ffd4 111.5px,#26ffd1 115px)"></i><i style="background:linear-gradient(90deg,#60ff97 0px,#50ffa7 4.5px,#5dff9a 8.5px,#83ff73 12.5px,#dbff1c 17.5px,#e1ff16 18.5px,#dbff1c 19.5px,#c7ff30 20.5px,#7aff7d 22.5px,#26ffd1 24.5px,#0cf4eb 25.5px,#00e4f8 26.5px,#06ecf1 27.5px,#16ffe1 28.5px,#b7ff40 33.5px,#dbff1c 35.5px,#f1fc06 38.5px,#eeff09 42.5px,#d4ff23 45.5px,#26ffd1 55.5px,#13fce4 57.5px,#1cffdb 59.5px,#a7ff50 67.5px,#d7ff1f 70.5px,#eeff09 73.5px,#eeff09 77.5px,#e1ff16 79.5px,#c4ff33 81.5px,#8dff6a 83.5px,#26ffd1 86.5px,#02e8f4 88.5px,#02e8f4 89.5px,#16ffe1 90.5px,#60ff97 92.5px,#b4ff43 94.5px,#d1ff26 95.5px,#e1ff16 96.5px,#d7ff1f 98.5px,#8dff6a 102.5px,#60ff97 106.5px,#50ffa7 110.5px,#5dff9a 115px)"></i></div>
<svg style="left:398px;top:10px" width="115" height="143"><path d="M-62.42,118.19 L-52.41,108.07 L-45.21,108.07 L-35.19,118.19 L-26.89,118.19 L-16.87,108.07 L-9.67,108.07 L0.34,118.19 L8.65,118.19 L18.66,108.07 L25.86,108.07 L35.88,118.19 L44.19,118.19 L54.20,108.07 L61.40,108.07 L71.41,118.19 L79.72,118.19 L89.74,108.07 L96.94,108.07 L106.95,118.19 L115.26,118.19 L125.27,108.07 L132.47,108.07 L142.49,118.19 L150.79,118.19 L160.81,108.07 L168.01,108.07 L178.02,118.19" fill="none" stroke="#b8692a" stroke-width="0.9" stroke-opacity="0.9"/><circle cx="57.80" cy="25.89" r="0.55" fill="#8e44a8" fill-opacity="0.8"/></svg>
<div class="frm" style="left:398px;top:10px;width:113px;height:141px"></div>
<div class="ann" style="left:439.74px;top:26.0102px">Source/Receiver</div>
<div class="ann" style="left:400.3px;top:109.548px">Soil surface</div>
<div class="ttl" style="left:455.5px;top:1.4px">Centre frequency = 450 MHz</div>
<div class="yt" style="left:357.5px;top:21.91px">2.0</div>
<b class="tk" style="left:396px;top:24.81px;width:2px;height:0.8px"></b>
<div class="yt" style="left:357.5px;top:45.125px">1.5</div>
<b class="tk" style="left:396px;top:48.025px;width:2px;height:0.8px"></b>
<div class="yt" style="left:357.5px;top:68.34px">1.0</div>
<b class="tk" style="left:396px;top:71.24px;width:2px;height:0.8px"></b>
<div class="yt" style="left:357.5px;top:91.555px">0.5</div>
<b class="tk" style="left:396px;top:94.455px;width:2px;height:0.8px"></b>
<div class="yt" style="left:357.5px;top:114.77px">0.0</div>
<b class="tk" style="left:396px;top:117.67px;width:2px;height:0.8px"></b>
<div class="yt" style="left:357.5px;top:137.985px">−0.5</div>
<b class="tk" style="left:396px;top:140.885px;width:2px;height:0.8px"></b>
<div class="xt" style="left:389.65px;top:155.1px">−1.0</div>
<b class="tk" style="left:409.25px;top:153px;width:0.8px;height:1.8px"></b>
<div class="xt" style="left:412.725px;top:155.1px">−0.5</div>
<b class="tk" style="left:432.325px;top:153px;width:0.8px;height:1.8px"></b>
<div class="xt" style="left:435.8px;top:155.1px">0.0</div>
<b class="tk" style="left:455.4px;top:153px;width:0.8px;height:1.8px"></b>
<div class="xt" style="left:458.875px;top:155.1px">0.5</div>
<b class="tk" style="left:478.475px;top:153px;width:0.8px;height:1.8px"></b>
<div class="xt" style="left:481.95px;top:155.1px">1.0</div>
<b class="tk" style="left:501.55px;top:153px;width:0.8px;height:1.8px"></b>
<div class="yl" style="left:364.2px;top:76.4px"><i>y</i> (m)</div>
<div class="xl" style="left:435.8px;top:164.5px"><i>x</i> (m)</div>
<div class="cap" style="left:439px;top:181px">(c)</div>
<div class="cb" style="left:522px;top:10px;height:141px;background-image:linear-gradient(180deg,#800000 0.00%,#9f0000 3.12%,#c40000 6.25%,#e80000 9.38%,#ff1e00 12.50%,#ff3b00 15.62%,#ff5900 18.75%,#ff7700 21.88%,#ff9400 25.00%,#ffb200 28.12%,#ffd000 31.25%,#feed00 34.38%,#e4ff13 37.50%,#caff2c 40.62%,#b1ff46 43.75%,#97ff60 46.88%,#7dff7a 50.00%,#63ff94 53.12%,#49ffad 56.25%,#30ffc7 59.38%,#16ffe1 62.50%,#00e0fb 65.62%,#00c0ff 68.75%,#00a0ff 71.88%,#0080ff 75.00%,#0060ff 78.12%,#0040ff 81.25%,#0020ff 84.38%,#0000ff 87.50%,#0000ed 90.62%,#0000c8 93.75%,#0000a4 96.88%,#000080 100.00%)"></div>
<b class="tk" style="left:530px;top:21.9333px;width:2px;height:0.8px"></b>
<div class="ct" style="left:533.5px;top:18.2333px">100</div>
<b class="tk" style="left:530px;top:51.5167px;width:2px;height:0.8px"></b>
<div class="ct" style="left:533.5px;top:47.8167px">50</div>
<b class="tk" style="left:530px;top:81.1px;width:2px;height:0.8px"></b>
<div class="ct" style="left:533.5px;top:77.4px">0</div>
<b class="tk" style="left:530px;top:110.683px;width:2px;height:0.8px"></b>
<div class="ct" style="left:533.5px;top:106.983px">−50</div>
<b class="tk" style="left:530px;top:140.267px;width:2px;height:0.8px"></b>
<div class="ct" style="left:533.5px;top:136.567px">−100</div>
<div class="fld" style="left:31px;top:199px;width:114px;height:143px"><i style="background:linear-gradient(90deg,#49ffad 0px,#53ffa4 74.5px,#49ffad 114px)"></i><i style="background:linear-gradient(90deg,#49ffad 0px,#56ffa0 66.5px,#49ffad 114px)"></i><i style="background:linear-gradient(90deg,#49ffad 0px,#5aff9d 59.5px,#49ffad 114px)"></i><i style="background:linear-gradient(90deg,#49ffad 0px,#60ff97 62.5px,#49ffad 114px)"></i><i style="background:linear-gradient(90deg,#49ffad 0px,#63ff94 55.5px,#56ffa0 94.5px,#49ffad 114px)"></i><i style="background:linear-gradient(90deg,#49ffad 0px,#66ff90 48.5px,#63ff94 79.5px,#4dffaa 114px)"></i><i style="background:linear-gradient(90deg,#4dffaa 0px,#6dff8a 51.5px,#66ff90 81.5px,#4dffaa 114px)"></i><i style="background:linear-gradient(90deg,#4dffaa 0px,#70ff87 44.5px,#70ff87 74.5px,#50ffa7 114px)"></i><i style="background:linear-gradient(90deg,#50ffa7 0px,#77ff80 45.5px,#77ff80 73.5px,#50ffa7 114px)"></i><i style="background:linear-gradient(90deg,#53ffa4 0px,#7aff7d 40.5px,#80ff77 65.5px,#66ff90 97.5px,#53ffa4 114px)"></i><i style="background:linear-gradient(90deg,#56ffa0 0px,#80ff77 39.5px,#87ff70 66.5px,#6dff8a 96.5px,#56ffa0 114px)"></i><i style="background:linear-gradient(90deg,#5aff9d 0px,#87ff70 38.5px,#8dff6a 68.5px,#6dff8a 100.5px,#5aff9d 114px)"></i><i style="background:linear-gradient(90deg,#5dff9a 0px,#8dff6a 36.5px,#94ff63 70.5px,#73ff83 100.5px,#5dff9a 114px)"></i><i style="background:linear-gradient(90deg,#60ff97 0px,#8dff6a 29.5px,#9dff5a 55.5px,#94ff63 80.5px,#63ff94 114px)"></i><i style="background:linear-gradient(90deg,#66ff90 0px,#9aff5d 33.5px,#a4ff53 59.5px,#97ff60 85.5px,#66ff90 114px)"></i><i style="background:linear-gradient(90deg,#6aff8d 0px,#9dff5a 29.5px,#aaff4d 51.5px,#a7ff50 76.5px,#83ff73 102.5px,#6dff8a 114px)"></i><i style="background:linear-gradient(90deg,#70ff87 0px,#a4ff53 28.5px,#b4ff43 52.5px,#adff49 78.5px,#7dff7a 108.5px,#73ff83 114px)"></i><i style="background:linear-gradient(90deg,#77ff80 0px,#adff49 28.5px,#baff3c 54.5px,#b4ff43 80.5px,#87ff70 107.5px,#7aff7d 114px)"></i><i style="background:linear-gradient(90deg,#7dff7a 0px,#b1ff46 25.5px,#c1ff36 47.5px,#c1ff36 73.5px,#aaff4d 93.5px,#80ff77 114px)"></i><i style="background:linear-gradient(90deg,#83ff73 0px,#baff3c 26.5px,#caff2c 50.5px,#c4ff33 80.5px,#a0ff56 102.5px,#87ff70 114px)"></i><i style="background:linear-gradient(90deg,#8aff6d 0px,#beff39 22.5px,#d1ff26 46.5px,#caff2c 82.5px,#a4ff53 104.5px,#8dff6a 114px)"></i><i style="background:linear-gradient(90deg,#90ff66 0px,#c4ff33 21.5px,#d4ff23 39.5px,#d4ff23 80.5px,#b1ff46 102.5px,#94ff63 114px)"></i><i style="background:linear-gradient(90deg,#9aff5d 0px,#ceff29 22.5px,#deff19 44.5px,#dbff1c 81.5px,#b7ff40 103.5px,#9dff5a 114px)"></i><i style="background:linear-gradient(90deg,#a0ff56 0px,#d4ff23 21.5px,#e4ff13 43.5px,#e1ff16 82.5px,#c1ff36 102.5px,#a4ff53 114px)"></i><i style="background:linear-gradient(90deg,#a7ff50 0px,#d4ff23 17.5px,#e7ff0f 36.5px,#e4ff13 86.5px,#c4ff33 104.5px,#aaff4d 114px)"></i><i style="background:linear-gradient(90deg,#b1ff46 0px,#e1ff16 20.5px,#eeff09 39.5px,#ebff0c 86.5px,#ceff29 103.5px,#b4ff43 114px)"></i><i style="background:linear-gradient(90deg,#b7ff40 0px,#e4ff13 18.5px,#f1fc06 34.5px,#eeff09 89.5px,#caff2c 108.5px,#baff3c 114px)"></i><i style="background:linear-gradient(90deg,#c1ff36 0px,#eeff09 20.5px,#f8f500 41.5px,#f4f802 88.5px,#d4ff23 107.5px,#c4ff33 114px)"></i><i style="background:linear-gradient(90deg,#c7ff30 0px,#f1fc06 19.5px,#fbf100 37.5px,#f4f802 64.5px,#fbf100 85.5px,#ebff0c 100.5px,#caff2c 114px)"></i><i style="background:linear-gradient(90deg,#ceff29 0px,#f1fc06 16.5px,#feed00 32.5px,#f8f500 61.5px,#fbf100 88.5px,#f1fc06 99.5px,#d1ff26 114px)"></i><i style="background:linear-gradient(90deg,#d4ff23 0px,#f1fc06 13.5px,#feed00 26.5px,#f8f500 68.5px,#feed00 92.5px,#eeff09 104.5px,#d7ff1f 114px)"></i><i style="background:linear-gradient(90deg,#dbff1c 0px,#f4f802 12.5px,#ffea00 27.5px,#f4f802 62.5px,#ffea00 90.5px,#f1fc06 105.5px,#deff19 114px)"></i><i style="background:linear-gradient(90deg,#e1ff16 0px,#f4f802 10.5px,#ffea00 23.5px,#f4f802 60.5px,#ffea00 94.5px,#f1fc06 107.5px,#e4ff13 114px)"></i><i style="background:linear-gradient(90deg,#e7ff0f 0px,#f4f802 7.5px,#ffea00 22.5px,#f4f802 48.5px,#f4f802 70.5px,#ffea00 92.5px,#f4f802 108.5px,#ebff0c 114px)"></i><i style="background:linear-gradient(90deg,#ebff0c 0px,#fbf100 10.5px,#ffea00 24.5px,#f1fc06 48.5px,#f1fc06 70.5px,#ffea00 94.5px,#f4f802 110.5px,#eeff09 114px)"></i><i style="background:linear-gradient(90deg,#f1fc06 0px,#feed00 15.5px,#fbf100 30.5px,#ebff0c 48.5px,#ebff0c 68.5px,#feed00 88.5px,#fbf100 107.5px,#f1fc06 114px)"></i><i style="background:linear-gradient(90deg,#f4f802 0px,#feed00 16.5px,#f1fc06 35.5px,#e4ff13 56.5px,#ebff0c 74.5px,#fbf100 92.5px,#fbf100 109.5px,#f4f802 114px)"></i><i style="background:linear-gradient(90deg,#f8f500 0px,#fbf100 15.5px,#eeff09 33.5px,#deff19 53.5px,#e4ff13 74.5px,#f4f802 90.5px,#feed00 104.5px,#f8f500 114px)"></i><i style="background:linear-gradient(90deg,#f8f500 0px,#f8f500 18.5px,#e7ff0f 31.5px,#d7ff1f 53.5px,#deff19 75.5px,#f1fc06 92.5px,#fbf100 106.5px,#f8f500 114px)"></i><i style="background:linear-gradient(90deg,#f8f500 0px,#f8f500 13.5px,#e7ff0f 26.5px,#d1ff26 48.5px,#d1ff26 70.5px,#f1fc06 97.5px,#fbf100 114px)"></i><i style="background:linear-gradient(90deg,#f8f500 0px,#f1fc06 14.5px,#caff2c 42.5px,#caff2c 73.5px,#f1fc06 102.5px,#f8f500 114px)"></i><i style="background:linear-gradient(90deg,#f8f500 0px,#e7ff0f 16.5px,#c4ff33 39.5px,#beff39 68.5px,#dbff1c 91.5px,#f4f802 109.5px,#f8f500 114px)"></i><i style="background:linear-gradient(90deg,#f8f500 0px,#e4ff13 13.5px,#b7ff40 41.5px,#b7ff40 74.5px,#e1ff16 99.5px,#f4f802 114px)"></i><i style="background:linear-gradient(90deg,#f4f802 0px,#d7ff1f 16.5px,#b1ff46 36.5px,#aaff4d 67.5px,#b7ff40 83.5px,#f1fc06 112.5px,#f1fc06 114px)"></i><i style="background:linear-gradient(90deg,#f1fc06 0px,#a7ff50 34.5px,#a0ff56 56.5px,#a4ff53 78.5px,#caff2c 97.5px,#eeff09 114px)"></i><i style="background:linear-gradient(90deg,#ebff0c 0px,#baff3c 19.5px,#9aff5d 34.5px,#94ff63 65.5px,#9dff5a 83.5px,#ebff0c 114px)"></i><i style="background:linear-gradient(90deg,#e7ff0f 0px,#90ff66 31.5px,#8aff6d 53.5px,#8dff6a 81.5px,#beff39 100.5px,#e4ff13 114px)"></i><i style="background:linear-gradient(90deg,#e1ff16 0px,#87ff70 29.5px,#7dff7a 43.5px,#80ff77 81.5px,#a4ff53 95.5px,#deff19 114px)"></i><i style="background:linear-gradient(90deg,#dbff1c 0px,#7aff7d 29.5px,#70ff87 43.5px,#73ff83 65.5px,#73ff83 81.5px,#90ff66 93.5px,#d7ff1f 114px)"></i><i style="background:linear-gradient(90deg,#d4ff23 0px,#73ff83 26.5px,#63ff94 38.5px,#6aff8d 61.5px,#66ff90 82.5px,#87ff70 94.5px,#ceff29 114px)"></i><i style="background:linear-gradient(90deg,#caff2c 0px,#6aff8d 24.5px,#56ffa0 37.5px,#60ff97 60.5px,#5aff9d 80.5px,#70ff87 92.5px,#c7ff30 114px)"></i><i style="background:linear-gradient(90deg,#c1ff36 0px,#5aff9d 25.5px,#4dffaa 36.5px,#5aff9d 59.5px,#4dffaa 80.5px,#63ff94 92.5px,#beff39 114px)"></i><i style="background:linear-gradient(90deg,#baff3c 0px,#53ffa4 23.5px,#40ffb7 35.5px,#50ffa7 60.5px,#40ffb7 80.5px,#53ffa4 91.5px,#b4ff43 114px)"></i><i style="background:linear-gradient(90deg,#b1ff46 0px,#49ffad 22.5px,#33ffc4 34.5px,#46ffb1 58.5px,#33ffc4 81.5px,#49ffad 92.5px,#aaff4d 114px)"></i><i style="background:linear-gradient(90deg,#a7ff50 0px,#39ffbe 23.5px,#29ffce 33.5px,#36ffc1 47.5px,#40ffb7 60.5px,#29ffce 80.5px,#33ffc4 89.5px,#6aff8d 102.5px,#a0ff56 114px)"></i><i style="background:linear-gradient(90deg,#9aff5d 0px,#36ffc1 21.5px,#1fffd7 30.5px,#26ffd1 42.5px,#39ffbe 58.5px,#1fffd7 80.5px,#26ffd1 88.5px,#53ffa4 100.5px,#97ff60 114px)"></i><i style="background:linear-gradient(90deg,#90ff66 0px,#26ffd1 22.5px,#13fce4 33.5px,#33ffc4 58.5px,#13fce4 81.5px,#26ffd1 92.5px,#7dff7a 110.5px,#8dff6a 114px)"></i><i style="background:linear-gradient(90deg,#87ff70 0px,#1cffdb 22.5px,#0cf4eb 32.5px,#19ffde 43.5px,#2cffca 57.5px,#19ffde 71.5px,#0cf4eb 82.5px,#1cffdb 92.5px,#80ff77 114px)"></i><i style="background:linear-gradient(90deg,#7dff7a 0px,#13fce4 22.5px,#02e8f4 31.5px,#0cf4eb 40.5px,#1cffdb 47.5px,#26ffd1 59.5px,#13fce4 71.5px,#02e8f4 81.5px,#0cf4eb 90.5px,#1cffdb 95.5px,#77ff80 114px)"></i><i style="background:linear-gradient(90deg,#73ff83 0px,#13fce4 20.5px,#00e4f8 27.5px,#00e4f8 36.5px,#19ffde 48.5px,#23ffd4 60.5px,#13fce4 69.5px,#00e0fb 80.5px,#02e8f4 89.5px,#19ffde 96.5px,#6dff8a 114px)"></i><i style="background:linear-gradient(90deg,#66ff90 0px,#13fce4 18.5px,#00e4f8 24.5px,#00d8ff 30.5px,#00e4f8 39.5px,#16ffe1 49.5px,#1fffd7 59.5px,#13fce4 67.5px,#00e0fb 77.5px,#00d8ff 86.5px,#06ecf1 93.5px,#19ffde 98.5px,#63ff94 114px)"></i><i style="background:linear-gradient(90deg,#5dff9a 0px,#13fce4 16.5px,#00e0fb 22.5px,#00d4ff 30.5px,#00dcfe 38.5px,#09f0ee 44.5px,#19ffde 52.5px,#19ffde 63.5px,#00e4f8 74.5px,#00d4ff 82.5px,#00d8ff 89.5px,#06ecf1 95.5px,#1cffdb 100.5px,#5aff9d 114px)"></i><i style="background:linear-gradient(90deg,#53ffa4 0px,#16ffe1 14.5px,#00e0fb 20.5px,#00ccff 30.5px,#00e0fb 40.5px,#16ffe1 51.5px,#19ffde 62.5px,#09f0ee 69.5px,#00d4ff 78.5px,#00ccff 86.5px,#00e4f8 95.5px,#19ffde 101.5px,#50ffa7 114px)"></i><i style="background:linear-gradient(90deg,#49ffad 0px,#13fce4 13.5px,#00e0fb 19.5px,#00ccff 27.5px,#00ccff 33.5px,#00e4f8 42.5px,#16ffe1 51.5px,#16ffe1 63.5px,#00dcfe 74.5px,#00c8ff 85.5px,#00dcfe 94.5px,#09f0ee 99.5px,#1cffdb 103.5px,#46ffb1 114px)"></i><i style="background:linear-gradient(90deg,#43ffb4 0px,#13fce4 12.5px,#00e0fb 18.5px,#00c8ff 26.5px,#00ccff 34.5px,#00e4f8 42.5px,#16ffe1 52.5px,#16ffe1 63.5px,#00dcfe 74.5px,#00c8ff 84.5px,#00d0ff 92.5px,#06ecf1 99.5px,#19ffde 104.5px,#3cffba 114px)"></i><i style="background:linear-gradient(90deg,#39ffbe 0px,#16ffe1 10.5px,#00e0fb 17.5px,#00c8ff 25.5px,#00ccff 34.5px,#00e4f8 42.5px,#16ffe1 51.5px,#16ffe1 63.5px,#00dcfe 74.5px,#00c8ff 84.5px,#00ccff 91.5px,#00e4f8 98.5px,#19ffde 105.5px,#36ffc1 114px)"></i><i style="background:linear-gradient(90deg,#33ffc4 0px,#13fce4 9.5px,#00dcfe 17.5px,#00c8ff 27.5px,#00d0ff 35.5px,#00e4f8 41.5px,#16ffe1 51.5px,#1cffdb 59.5px,#0ff8e7 67.5px,#00e0fb 74.5px,#00c8ff 84.5px,#00ccff 91.5px,#00e4f8 99.5px,#19ffde 107.5px,#30ffc7 114px)"></i><i style="background:linear-gradient(90deg,#29ffce 0px,#13fce4 8.5px,#00e0fb 16.5px,#00ccff 24.5px,#00ccff 32.5px,#00e4f8 41.5px,#16ffe1 50.5px,#1cffdb 61.5px,#0ff8e7 68.5px,#00e0fb 75.5px,#00ccff 84.5px,#00ccff 91.5px,#00e4f8 100.5px,#19ffde 108.5px,#26ffd1 114px)"></i><i style="background:linear-gradient(90deg,#23ffd4 0px,#0ff8e7 8.5px,#00e0fb 16.5px,#00ccff 26.5px,#00d8ff 35.5px,#09f0ee 43.5px,#19ffde 50.5px,#1fffd7 60.5px,#0ff8e7 69.5px,#00e0fb 76.5px,#00ccff 86.5px,#00d4ff 94.5px,#06ecf1 103.5px,#16ffe1 109.5px,#1fffd7 114px)"></i><i style="background:linear-gradient(90deg,#1cffdb 0px,#0ff8e7 7.5px,#00e0fb 16.5px,#00d0ff 27.5px,#00e4f8 38.5px,#16ffe1 47.5px,#23ffd4 59.5px,#0ff8e7 70.5px,#00e0fb 78.5px,#00d0ff 89.5px,#00e4f8 100.5px,#16ffe1 111.5px,#1cffdb 114px)"></i><i style="background:linear-gradient(90deg,#16ffe1 0px,#02e8f4 13.5px,#00d8ff 23.5px,#00dcfe 32.5px,#09f0ee 40.5px,#19ffde 46.5px,#26ffd1 60.5px,#0ff8e7 72.5px,#00e0fb 80.5px,#00d8ff 90.5px,#00e0fb 98.5px,#16ffe1 114px)"></i><i style="background:linear-gradient(90deg,#13fce4 0px,#00e0fb 20.5px,#00e0fb 31.5px,#0ff8e7 40.5px,#26ffd1 52.5px,#26ffd1 63.5px,#0ff8e7 74.5px,#00e0fb 84.5px,#00e0fb 96.5px,#0ff8e7 114px)"></i><i style="background:linear-gradient(90deg,#0cf4eb 0px,#06ecf1 13.5px,#00e4f8 26.5px,#0cf4eb 36.5px,#1cffdb 43.5px,#2cffca 57.5px,#1fffd7 69.5px,#0ff8e7 77.5px,#00e4f8 87.5px,#02e8f4 100.5px,#0cf4eb 114px)"></i><i style="background:linear-gradient(90deg,#09f0ee 0px,#09f0ee 30.5px,#1cffdb 40.5px,#30ffc7 55.5px,#29ffce 67.5px,#0ff8e7 81.5px,#06ecf1 91.5px,#09f0ee 114px)"></i><i style="background:linear-gradient(90deg,#06ecf1 0px,#0ff8e7 29.5px,#2cffca 46.5px,#36ffc1 60.5px,#13fce4 84.5px,#09f0ee 99.5px,#06ecf1 114px)"></i><i style="background:linear-gradient(90deg,#02e8f4 0px,#0cf4eb 11.5px,#1cffdb 33.5px,#39ffbe 54.5px,#33ffc4 68.5px,#13fce4 91.5px,#06ecf1 114px)"></i><i style="background:linear-gradient(90deg,#00e4f8 0px,#0ff8e7 10.5px,#29ffce 35.5px,#3cffba 54.5px,#36ffc1 70.5px,#16ffe1 96.5px,#06ecf1 112.5px,#02e8f4 114px)"></i><i style="background:linear-gradient(90deg,#00e4f8 0px,#16ffe1 12.5px,#43ffb4 54.5px,#39ffbe 73.5px,#13fce4 105.5px,#02e8f4 114px)"></i><i style="background:linear-gradient(90deg,#00e4f8 0px,#16ffe1 10.5px,#43ffb4 46.5px,#43ffb4 70.5px,#13fce4 106.5px,#02e8f4 114px)"></i><i style="background:linear-gradient(90deg,#00e4f8 0px,#19ffde 9.5px,#43ffb4 37.5px,#4dffaa 62.5px,#36ffc1 88.5px,#13fce4 107.5px,#02e8f4 114px)"></i><i style="background:linear-gradient(90deg,#00e0fb 0px,#16ffe1 7.5px,#3cffba 25.5px,#4dffaa 43.5px,#4dffaa 76.5px,#2cffca 98.5px,#13fce4 108.5px,#02e8f4 114px)"></i><i style="background:linear-gradient(90deg,#00e4f8 0px,#16ffe1 6.5px,#3cffba 20.5px,#53ffa4 40.5px,#50ffa7 81.5px,#33ffc4 98.5px,#13fce4 109.5px,#02e8f4 114px)"></i><i style="background:linear-gradient(90deg,#00e4f8 0px,#19ffde 6.5px,#4dffaa 24.5px,#5aff9d 41.5px,#56ffa0 83.5px,#30ffc7 102.5px,#16ffe1 109.5px,#02e8f4 114px)"></i><i style="background:linear-gradient(90deg,#00e4f8 0px,#16ffe1 5.5px,#49ffad 19.5px,#60ff97 36.5px,#5dff9a 84.5px,#3cffba 99.5px,#13fce4 110.5px,#06ecf1 114px)"></i><i style="background:linear-gradient(90deg,#02e8f4 0px,#19ffde 5.5px,#49ffad 17.5px,#63ff94 30.5px,#63ff94 48.5px,#63ff94 71.5px,#63ff94 85.5px,#43ffb4 99.5px,#13fce4 111.5px,#09f0ee 114px)"></i><i style="background:linear-gradient(90deg,#02e8f4 0px,#19ffde 4.5px,#53ffa4 18.5px,#6aff8d 30.5px,#6aff8d 44.5px,#63ff94 64.5px,#6dff8a 82.5px,#56ffa0 95.5px,#1fffd7 109.5px,#09f0ee 114px)"></i><i style="background:linear-gradient(90deg,#06ecf1 0px,#16ffe1 3.5px,#53ffa4 16.5px,#6dff8a 27.5px,#70ff87 40.5px,#66ff90 60.5px,#70ff87 82.5px,#66ff90 91.5px,#40ffb7 103.5px,#13fce4 112.5px,#0cf4eb 114px)"></i><i style="background:linear-gradient(90deg,#09f0ee 0px,#19ffde 3.5px,#53ffa4 15.5px,#73ff83 26.5px,#73ff83 42.5px,#66ff90 60.5px,#77ff80 81.5px,#6aff8d 92.5px,#40ffb7 104.5px,#16ffe1 112.5px,#0ff8e7 114px)"></i><i style="background:linear-gradient(90deg,#0cf4eb 0px,#1cffdb 3.5px,#60ff97 17.5px,#7aff7d 27.5px,#7aff7d 40.5px,#6aff8d 58.5px,#7dff7a 84.5px,#66ff90 95.5px,#39ffbe 106.5px,#13fce4 114px)"></i><i style="background:linear-gradient(90deg,#0ff8e7 0px,#26ffd1 4.5px,#6aff8d 18.5px,#80ff77 30.5px,#7aff7d 42.5px,#6dff8a 58.5px,#80ff77 83.5px,#6dff8a 95.5px,#33ffc4 108.5px,#16ffe1 114px)"></i><i style="background:linear-gradient(90deg,#13fce4 0px,#63ff94 15.5px,#83ff73 27.5px,#7dff7a 42.5px,#6dff8a 58.5px,#83ff73 82.5px,#7aff7d 92.5px,#4dffaa 104.5px,#19ffde 114px)"></i><i style="background:linear-gradient(90deg,#16ffe1 0px,#66ff90 15.5px,#87ff70 26.5px,#80ff77 41.5px,#70ff87 56.5px,#7aff7d 70.5px,#87ff70 83.5px,#80ff77 91.5px,#63ff94 100.5px,#1cffdb 114px)"></i><i style="background:linear-gradient(90deg,#19ffde 0px,#66ff90 14.5px,#87ff70 24.5px,#87ff70 38.5px,#70ff87 56.5px,#80ff77 73.5px,#8aff6d 85.5px,#7aff7d 95.5px,#43ffb4 107.5px,#1fffd7 114px)"></i><i style="background:linear-gradient(90deg,#1cffdb 0px,#6aff8d 14.5px,#8aff6d 24.5px,#8aff6d 36.5px,#73ff83 54.5px,#7aff7d 68.5px,#8dff6a 85.5px,#7dff7a 95.5px,#46ffb1 107.5px,#23ffd4 114px)"></i><i style="background:linear-gradient(90deg,#23ffd4 0px,#7aff7d 17.5px,#8dff6a 26.5px,#8aff6d 37.5px,#73ff83 55.5px,#7dff7a 70.5px,#90ff66 86.5px,#7aff7d 97.5px,#39ffbe 110.5px,#26ffd1 114px)"></i><i style="background:linear-gradient(90deg,#26ffd1 0px,#73ff83 15.5px,#8dff6a 23.5px,#8dff6a 34.5px,#73ff83 57.5px,#90ff66 88.5px,#7aff7d 98.5px,#2cffca 114px)"></i><i style="background:linear-gradient(90deg,#29ffce 0px,#77ff80 15.5px,#8dff6a 23.5px,#8dff6a 34.5px,#77ff80 54.5px,#7aff7d 67.5px,#90ff66 87.5px,#83ff73 96.5px,#40ffb7 110.5px,#30ffc7 114px)"></i><i style="background:linear-gradient(90deg,#2cffca 0px,#7dff7a 16.5px,#90ff66 25.5px,#87ff70 38.5px,#77ff80 55.5px,#7dff7a 70.5px,#90ff66 87.5px,#80ff77 97.5px,#33ffc4 114px)"></i><i style="background:linear-gradient(90deg,#33ffc4 0px,#83ff73 17.5px,#90ff66 26.5px,#77ff80 55.5px,#80ff77 74.5px,#90ff66 88.5px,#80ff77 98.5px,#36ffc1 114px)"></i><i style="background:linear-gradient(90deg,#36ffc1 0px,#80ff77 16.5px,#90ff66 24.5px,#87ff70 35.5px,#7aff7d 49.5px,#7aff7d 70.5px,#90ff66 89.5px,#83ff73 97.5px,#50ffa7 109.5px,#39ffbe 114px)"></i><i style="background:linear-gradient(90deg,#39ffbe 0px,#87ff70 17.5px,#90ff66 27.5px,#7aff7d 45.5px,#7aff7d 73.5px,#90ff66 89.5px,#80ff77 99.5px,#40ffb7 114px)"></i><i style="background:linear-gradient(90deg,#3cffba 0px,#80ff77 15.5px,#90ff66 25.5px,#77ff80 44.5px,#7aff7d 76.5px,#90ff66 90.5px,#80ff77 99.5px,#43ffb4 114px)"></i><i style="background:linear-gradient(90deg,#43ffb4 0px,#87ff70 16.5px,#90ff66 25.5px,#73ff83 42.5px,#7aff7d 64.5px,#77ff80 76.5px,#90ff66 90.5px,#80ff77 100.5px,#46ffb1 114px)"></i><i style="background:linear-gradient(90deg,#46ffb1 0px,#8aff6d 17.5px,#8dff6a 25.5px,#70ff87 41.5px,#7aff7d 59.5px,#73ff83 76.5px,#90ff66 91.5px,#80ff77 100.5px,#49ffad 114px)"></i><i style="background:linear-gradient(90deg,#49ffad 0px,#87ff70 15.5px,#90ff66 23.5px,#7aff7d 32.5px,#6dff8a 40.5px,#7dff7a 58.5px,#6dff8a 77.5px,#90ff66 91.5px,#80ff77 101.5px,#4dffaa 114px)"></i><i style="background:linear-gradient(90deg,#4dffaa 0px,#8aff6d 16.5px,#8dff6a 25.5px,#66ff90 38.5px,#7dff7a 55.5px,#77ff80 66.5px,#66ff90 76.5px,#8dff6a 90.5px,#8aff6d 98.5px,#60ff97 109.5px,#50ffa7 114px)"></i><i style="background:linear-gradient(90deg,#50ffa7 0px,#70ff87 8.5px,#8aff6d 16.5px,#8aff6d 26.5px,#60ff97 38.5px,#6aff8d 44.5px,#7dff7a 52.5px,#7dff7a 63.5px,#60ff97 75.5px,#70ff87 82.5px,#8aff6d 88.5px,#8aff6d 98.5px,#6dff8a 107.5px,#53ffa4 114px)"></i><i style="background:linear-gradient(90deg,#53ffa4 0px,#6aff8d 6.5px,#87ff70 13.5px,#8dff6a 24.5px,#73ff83 31.5px,#5aff9d 36.5px,#5aff9d 41.5px,#80ff77 52.5px,#7dff7a 64.5px,#56ffa0 76.5px,#6dff8a 82.5px,#8dff6a 90.5px,#87ff70 101.5px,#60ff97 110.5px,#56ffa0 114px)"></i><i style="background:linear-gradient(90deg,#56ffa0 0px,#60ff97 4.5px,#87ff70 12.5px,#8dff6a 24.5px,#70ff87 31.5px,#50ffa7 36.5px,#50ffa7 40.5px,#80ff77 51.5px,#80ff77 63.5px,#63ff94 70.5px,#4dffaa 76.5px,#60ff97 81.5px,#87ff70 88.5px,#8dff6a 96.5px,#7dff7a 105.5px,#56ffa0 114px)"></i><i style="background:linear-gradient(90deg,#5aff9d 0px,#63ff94 4.5px,#83ff73 10.5px,#90ff66 21.5px,#80ff77 28.5px,#43ffb4 37.5px,#4dffaa 41.5px,#7dff7a 49.5px,#87ff70 57.5px,#7dff7a 65.5px,#5aff9d 71.5px,#43ffb4 75.5px,#4dffaa 79.5px,#83ff73 87.5px,#90ff66 94.5px,#83ff73 104.5px,#5aff9d 112.5px,#5aff9d 114px)"></i><i style="background:linear-gradient(90deg,#63ff94 0px,#63ff94 3.5px,#8aff6d 10.5px,#8dff6a 24.5px,#80ff77 28.5px,#3cffba 36.5px,#39ffbe 39.5px,#66ff90 45.5px,#83ff73 50.5px,#8aff6d 61.5px,#77ff80 67.5px,#39ffbe 75.5px,#40ffb7 79.5px,#7dff7a 86.5px,#90ff66 92.5px,#87ff70 105.5px,#60ff97 112.5px,#60ff97 114px)"></i><i style="background:linear-gradient(90deg,#70ff87 0px,#73ff83 4.5px,#90ff66 10.5px,#8dff6a 25.5px,#7aff7d 29.5px,#33ffc4 36.5px,#36ffc1 40.5px,#80ff77 48.5px,#8dff6a 56.5px,#87ff70 64.5px,#70ff87 68.5px,#36ffc1 74.5px,#33ffc4 78.5px,#4dffaa 81.5px,#80ff77 86.5px,#90ff66 92.5px,#8dff6a 105.5px,#6dff8a 112.5px,#6dff8a 114px)"></i><i style="background:linear-gradient(90deg,#80ff77 0px,#80ff77 4.5px,#94ff63 10.5px,#90ff66 23.5px,#83ff73 28.5px,#33ffc4 35.5px,#26ffd1 38.5px,#39ffbe 41.5px,#7dff7a 47.5px,#8dff6a 51.5px,#8dff6a 64.5px,#77ff80 68.5px,#33ffc4 74.5px,#26ffd1 77.5px,#3cffba 80.5px,#7aff7d 85.5px,#8dff6a 89.5px,#94ff63 106.5px,#7dff7a 112.5px,#7dff7a 114px)"></i><i style="background:linear-gradient(90deg,#9aff5d 0px,#94ff63 4.5px,#9dff5a 9.5px,#8dff6a 19.5px,#90ff66 26.5px,#80ff77 29.5px,#30ffc7 35.5px,#23ffd4 37.5px,#26ffd1 39.5px,#83ff73 47.5px,#94ff63 51.5px,#90ff66 65.5px,#70ff87 69.5px,#30ffc7 74.5px,#23ffd4 76.5px,#26ffd1 78.5px,#56ffa0 82.5px,#87ff70 86.5px,#94ff63 90.5px,#90ff66 100.5px,#9dff5a 106.5px,#94ff63 112.5px,#97ff60 114px)"></i><i style="background:linear-gradient(90deg,#baff3c 0px,#aaff4d 5.5px,#8dff6a 18.5px,#94ff63 27.5px,#7aff7d 30.5px,#29ffce 36.5px,#23ffd4 38.5px,#3cffba 41.5px,#8dff6a 47.5px,#9aff5d 50.5px,#97ff60 60.5px,#9aff5d 65.5px,#77ff80 69.5px,#30ffc7 74.5px,#23ffd4 77.5px,#3cffba 80.5px,#87ff70 85.5px,#97ff60 89.5px,#8dff6a 98.5px,#aaff4d 109.5px,#b4ff43 114px)"></i><i style="background:linear-gradient(90deg,#deff19 0px,#8aff6d 16.5px,#94ff63 22.5px,#9aff5d 27.5px,#87ff70 30.5px,#3cffba 35.5px,#2cffca 37.5px,#36ffc1 40.5px,#8dff6a 46.5px,#a4ff53 49.5px,#97ff60 58.5px,#a4ff53 65.5px,#9aff5d 67.5px,#39ffbe 74.5px,#2cffca 76.5px,#30ffc7 78.5px,#66ff90 82.5px,#90ff66 85.5px,#9dff5a 88.5px,#8aff6d 97.5px,#97ff60 101.5px,#d7ff1f 114px)"></i><i style="background:linear-gradient(90deg,#ffe600 0px,#eeff09 3.5px,#90ff66 14.5px,#87ff70 18.5px,#a7ff50 27.5px,#97ff60 30.5px,#4dffaa 35.5px,#39ffbe 38.5px,#46ffb1 40.5px,#a4ff53 47.5px,#adff49 50.5px,#97ff60 57.5px,#adff49 65.5px,#9dff5a 68.5px,#46ffb1 74.5px,#39ffbe 76.5px,#40ffb7 78.5px,#a0ff56 85.5px,#a4ff53 88.5px,#87ff70 96.5px,#90ff66 100.5px,#c1ff36 106.5px,#ebff0c 111.5px,#fbf100 114px)"></i><i style="background:linear-gradient(90deg,#ffbd00 0px,#ffdb00 3.5px,#ffea00 4.5px,#f4f802 5.5px,#c1ff36 9.5px,#94ff63 13.5px,#80ff77 17.5px,#8dff6a 21.5px,#b4ff43 27.5px,#aaff4d 30.5px,#5aff9d 36.5px,#53ffa4 38.5px,#66ff90 41.5px,#aaff4d 46.5px,#b7ff40 48.5px,#b1ff46 51.5px,#97ff60 56.5px,#9dff5a 60.5px,#b7ff40 65.5px,#b4ff43 67.5px,#83ff73 71.5px,#5dff9a 74.5px,#53ffa4 77.5px,#63ff94 79.5px,#aaff4d 84.5px,#b4ff43 87.5px,#83ff73 95.5px,#87ff70 99.5px,#a7ff50 103.5px,#e7ff0f 108.5px,#f4f802 109.5px,#ffea00 110.5px,#ffc400 114px)"></i><i style="background:linear-gradient(90deg,#ff9400 0px,#ffb600 3.5px,#feed00 6.5px,#ebff0c 7.5px,#9dff5a 12.5px,#80ff77 15.5px,#7dff7a 19.5px,#9aff5d 23.5px,#c1ff36 27.5px,#c7ff30 29.5px,#adff49 32.5px,#7dff7a 36.5px,#73ff83 39.5px,#9aff5d 43.5px,#baff3c 46.5px,#c4ff33 48.5px,#adff49 52.5px,#94ff63 57.5px,#a7ff50 61.5px,#c1ff36 65.5px,#beff39 68.5px,#7aff7d 74.5px,#73ff83 77.5px,#a0ff56 81.5px,#c1ff36 84.5px,#c7ff30 86.5px,#7dff7a 95.5px,#80ff77 99.5px,#aaff4d 103.5px,#ebff0c 107.5px,#fbf100 108.5px,#ffa700 112.5px,#ff9c00 114px)"></i><i style="background:linear-gradient(90deg,#ff7700 0px,#ff7a00 1.5px,#ffab00 4.5px,#f8f500 7.5px,#e4ff13 8.5px,#9aff5d 12.5px,#7aff7d 15.5px,#77ff80 19.5px,#9aff5d 23.5px,#ceff29 27.5px,#dbff1c 29.5px,#d7ff1f 31.5px,#9dff5a 37.5px,#9dff5a 40.5px,#ceff29 46.5px,#caff2c 49.5px,#97ff60 55.5px,#90ff66 58.5px,#c1ff36 64.5px,#d1ff26 67.5px,#c1ff36 70.5px,#9aff5d 75.5px,#a4ff53 78.5px,#d7ff1f 83.5px,#d7ff1f 86.5px,#7dff7a 94.5px,#73ff83 97.5px,#83ff73 100.5px,#a7ff50 103.5px,#e1ff16 106.5px,#f8f500 107.5px,#ffae00 110.5px,#ff8900 112.5px,#ff7e00 114px)"></i><i style="background:linear-gradient(90deg,#ff6400 0px,#ff7300 2.5px,#ffb200 5.5px,#ffea00 7.5px,#e7ff0f 8.5px,#97ff60 12.5px,#6dff8a 16.5px,#77ff80 20.5px,#97ff60 23.5px,#d7ff1f 27.5px,#f4f802 30.5px,#e4ff13 34.5px,#c7ff30 38.5px,#e1ff16 46.5px,#d1ff26 49.5px,#97ff60 54.5px,#8aff6d 57.5px,#97ff60 60.5px,#deff19 67.5px,#d7ff1f 71.5px,#c7ff30 76.5px,#f4f802 83.5px,#e7ff0f 86.5px,#8aff6d 92.5px,#6dff8a 96.5px,#73ff83 99.5px,#97ff60 102.5px,#ceff29 105.5px,#e7ff0f 106.5px,#feed00 107.5px,#ff8600 111.5px,#ff6800 114px)"></i><i style="background:linear-gradient(90deg,#ff6400 0px,#ff6f00 2.5px,#ffae00 5.5px,#ffea00 7.5px,#e7ff0f 8.5px,#90ff66 12.5px,#66ff90 16.5px,#66ff90 19.5px,#83ff73 22.5px,#f1fc06 28.5px,#feed00 29.5px,#ffd700 31.5px,#ffde00 35.5px,#f8f500 39.5px,#f4f802 45.5px,#deff19 48.5px,#90ff66 54.5px,#80ff77 56.5px,#87ff70 59.5px,#b4ff43 63.5px,#e7ff0f 67.5px,#f8f500 70.5px,#fbf100 76.5px,#ffd700 82.5px,#ffde00 84.5px,#feed00 85.5px,#f1fc06 86.5px,#83ff73 92.5px,#66ff90 95.5px,#66ff90 98.5px,#80ff77 101.5px,#b7ff40 104.5px,#e7ff0f 106.5px,#feed00 107.5px,#ff9800 110.5px,#ff6f00 112.5px,#ff6800 114px)"></i><i style="background:linear-gradient(90deg,#ff7700 0px,#ff7e00 2.5px,#ff9f00 4.5px,#fbf100 7.5px,#e1ff16 8.5px,#8aff6d 12.5px,#60ff97 16.5px,#63ff94 20.5px,#8aff6d 23.5px,#e1ff16 27.5px,#f4f802 28.5px,#ffde00 29.5px,#ffb200 32.5px,#ffae00 35.5px,#ffd700 44.5px,#feed00 46.5px,#f1fc06 47.5px,#83ff73 54.5px,#73ff83 57.5px,#83ff73 60.5px,#c1ff36 64.5px,#eeff09 67.5px,#ffe200 69.5px,#ffb900 76.5px,#ffab00 80.5px,#ffbd00 83.5px,#f8f500 86.5px,#e1ff16 87.5px,#8dff6a 91.5px,#66ff90 94.5px,#5dff9a 97.5px,#7aff7d 101.5px,#b1ff46 104.5px,#deff19 106.5px,#f8f500 107.5px,#ffa300 110.5px,#ff7e00 112.5px,#ff7700 114px)"></i><i style="background:linear-gradient(90deg,#ff9f00 0px,#ff9f00 2.5px,#ffb900 4.5px,#ffea00 6.5px,#ebff0c 7.5px,#94ff63 11.5px,#6aff8d 14.5px,#56ffa0 17.5px,#5dff9a 20.5px,#70ff87 22.5px,#c1ff36 26.5px,#f4f802 28.5px,#ffdb00 29.5px,#ffab00 31.5px,#ff8600 34.5px,#ff8600 38.5px,#ffb200 43.5px,#ffe200 46.5px,#f4f802 47.5px,#a7ff50 51.5px,#77ff80 54.5px,#66ff90 57.5px,#77ff80 60.5px,#b7ff40 64.5px,#f4f802 67.5px,#ffe600 68.5px,#ffb600 71.5px,#ff9400 74.5px,#ff8200 77.5px,#ff8600 80.5px,#ff9800 82.5px,#ffdb00 85.5px,#f8f500 86.5px,#deff19 87.5px,#97ff60 90.5px,#66ff90 93.5px,#56ffa0 95.5px,#60ff97 99.5px,#80ff77 102.5px,#d1ff26 106.5px,#ebff0c 107.5px,#ffea00 108.5px,#ffab00 111.5px,#ff9c00 114px)"></i><i style="background:linear-gradient(90deg,#ffd700 0px,#ffd000 2.5px,#ffe200 4.5px,#f8f500 5.5px,#e7ff0f 6.5px,#9aff5d 10.5px,#63ff94 14.5px,#50ffa7 18.5px,#53ffa4 20.5px,#77ff80 23.5px,#9dff5a 25.5px,#eeff09 28.5px,#ffde00 29.5px,#ff8d00 32.5px,#ff6000 35.5px,#ff6000 38.5px,#ff7a00 41.5px,#ffb200 44.5px,#ffde00 46.5px,#f4f802 47.5px,#9aff5d 51.5px,#6aff8d 54.5px,#5aff9d 57.5px,#6aff8d 60.5px,#adff49 64.5px,#f1fc06 67.5px,#ffe200 68.5px,#ff9f00 71.5px,#ff6f00 74.5px,#ff5d00 77.5px,#ff6000 79.5px,#ff8d00 82.5px,#ffbd00 84.5px,#ffde00 85.5px,#f1fc06 86.5px,#a0ff56 89.5px,#66ff90 92.5px,#50ffa7 95.5px,#5aff9d 99.5px,#87ff70 103.5px,#e4ff13 108.5px,#f8f500 109.5px,#ffd000 112.5px,#ffd000 114px)"></i><i style="background:linear-gradient(90deg,#d4ff23 0px,#e1ff16 2.5px,#c4ff33 6.5px,#70ff87 12.5px,#53ffa4 16.5px,#4dffaa 20.5px,#6aff8d 23.5px,#8dff6a 25.5px,#deff19 28.5px,#feed00 29.5px,#ff8d00 32.5px,#ff5200 35.5px,#ff4700 38.5px,#ff6800 41.5px,#ffab00 44.5px,#ffe600 46.5px,#ebff0c 47.5px,#7aff7d 52.5px,#5dff9a 54.5px,#4dffaa 57.5px,#5dff9a 60.5px,#8aff6d 63.5px,#ebff0c 67.5px,#ffe600 68.5px,#ff7e00 72.5px,#ff4e00 75.5px,#ff4a00 78.5px,#ff6000 80.5px,#ff8d00 82.5px,#feed00 85.5px,#e1ff16 86.5px,#90ff66 89.5px,#6aff8d 91.5px,#53ffa4 93.5px,#4dffaa 97.5px,#66ff90 101.5px,#97ff60 105.5px,#d7ff1f 110.5px,#e1ff16 112.5px,#deff19 114px)"></i><i style="background:linear-gradient(90deg,#90ff66 0px,#a4ff53 3.5px,#9aff5d 6.5px,#5aff9d 14.5px,#49ffad 19.5px,#53ffa4 22.5px,#6aff8d 24.5px,#c7ff30 28.5px,#e7ff0f 29.5px,#ffe200 30.5px,#ff8200 33.5px,#ff4a00 36.5px,#ff4a00 39.5px,#ff7e00 42.5px,#fbf100 46.5px,#deff19 47.5px,#7dff7a 51.5px,#53ffa4 54.5px,#43ffb4 57.5px,#50ffa7 60.5px,#7dff7a 63.5px,#deff19 67.5px,#f8f500 68.5px,#ff9800 71.5px,#ff5900 74.5px,#ff4700 76.5px,#ff4a00 78.5px,#ff6800 80.5px,#ffbd00 83.5px,#ffe200 84.5px,#ebff0c 85.5px,#94ff63 88.5px,#5dff9a 91.5px,#49ffad 94.5px,#53ffa4 99.5px,#87ff70 106.5px,#a4ff53 110.5px,#9aff5d 114px)"></i><i style="background:linear-gradient(90deg,#4dffaa 0px,#6aff8d 4.5px,#66ff90 9.5px,#46ffb1 21.5px,#5aff9d 24.5px,#94ff63 27.5px,#e7ff0f 30.5px,#ffe200 31.5px,#ff8900 34.5px,#ff6400 36.5px,#ff5900 38.5px,#ff5d00 39.5px,#ff9100 42.5px,#ffea00 45.5px,#e7ff0f 46.5px,#83ff73 50.5px,#53ffa4 53.5px,#3cffba 56.5px,#46ffb1 60.5px,#6dff8a 63.5px,#adff49 66.5px,#e4ff13 68.5px,#ffea00 69.5px,#ff9400 72.5px,#ff6c00 74.5px,#ff5900 76.5px,#ff5900 77.5px,#ff8600 80.5px,#ffe200 83.5px,#ebff0c 84.5px,#94ff63 87.5px,#6aff8d 89.5px,#49ffad 92.5px,#49ffad 96.5px,#6dff8a 109.5px,#56ffa0 114px)"></i><i style="background:linear-gradient(90deg,#0cf4eb 0px,#19ffde 1.5px,#40ffb7 6.5px,#53ffa4 12.5px,#46ffb1 20.5px,#46ffb1 23.5px,#63ff94 26.5px,#a4ff53 29.5px,#deff19 31.5px,#fbf100 32.5px,#ffa300 35.5px,#ff9100 36.5px,#ff8600 38.5px,#ff9100 40.5px,#ffd000 43.5px,#feed00 44.5px,#e4ff13 45.5px,#83ff73 49.5px,#53ffa4 52.5px,#3cffba 55.5px,#39ffbe 58.5px,#49ffad 61.5px,#70ff87 64.5px,#b1ff46 67.5px,#e4ff13 69.5px,#feed00 70.5px,#ffa300 73.5px,#ff8900 75.5px,#ff8600 77.5px,#ff9f00 79.5px,#fbf100 82.5px,#e1ff16 83.5px,#77ff80 87.5px,#4dffaa 90.5px,#43ffb4 93.5px,#53ffa4 101.5px,#43ffb4 108.5px,#19ffde 114px)"></i><i style="background:linear-gradient(90deg,#00b4ff 0px,#00dcfe 3.5px,#1cffdb 6.5px,#46ffb1 11.5px,#53ffa4 15.5px,#49ffad 19.5px,#3cffba 23.5px,#4dffaa 26.5px,#7dff7a 29.5px,#deff19 33.5px,#f4f802 34.5px,#ffe200 35.5px,#ffc800 37.5px,#ffc400 39.5px,#ffdb00 41.5px,#feed00 42.5px,#ebff0c 43.5px,#80ff77 48.5px,#49ffad 52.5px,#36ffc1 56.5px,#3cffba 60.5px,#60ff97 64.5px,#a7ff50 68.5px,#ebff0c 71.5px,#feed00 72.5px,#ffcc00 74.5px,#ffc400 76.5px,#ffd300 78.5px,#ffe200 79.5px,#f4f802 80.5px,#97ff60 84.5px,#5aff9d 87.5px,#40ffb7 90.5px,#46ffb1 94.5px,#53ffa4 99.5px,#46ffb1 103.5px,#1cffdb 108.5px,#00dcfe 111.5px,#00c0ff 114px)"></i><i style="background:linear-gradient(90deg,#0084ff 0px,#00bcff 4.5px,#00e0fb 6.5px,#19ffde 8.5px,#4dffaa 13.5px,#53ffa4 17.5px,#33ffc4 25.5px,#46ffb1 28.5px,#8aff6d 32.5px,#d1ff26 36.5px,#deff19 38.5px,#dbff1c 40.5px,#b7ff40 43.5px,#66ff90 48.5px,#46ffb1 51.5px,#39ffbe 56.5px,#43ffb4 62.5px,#5aff9d 65.5px,#94ff63 69.5px,#d1ff26 73.5px,#deff19 75.5px,#dbff1c 77.5px,#b4ff43 80.5px,#66ff90 84.5px,#3cffba 87.5px,#33ffc4 90.5px,#53ffa4 97.5px,#4dffaa 101.5px,#26ffd1 105.5px,#19ffde 106.5px,#00e0fb 108.5px,#0090ff 114px)"></i><i style="background:linear-gradient(90deg,#006cff 0px,#008cff 3.5px,#00dcfe 7.5px,#19ffde 9.5px,#49ffad 13.5px,#56ffa0 16.5px,#50ffa7 19.5px,#23ffd4 26.5px,#2cffca 29.5px,#5dff9a 33.5px,#8dff6a 37.5px,#94ff63 40.5px,#6aff8d 45.5px,#46ffb1 49.5px,#3cffba 53.5px,#40ffb7 64.5px,#66ff90 69.5px,#8dff6a 73.5px,#94ff63 76.5px,#6dff8a 80.5px,#2cffca 85.5px,#23ffd4 88.5px,#56ffa0 96.5px,#50ffa7 100.5px,#36ffc1 103.5px,#19ffde 105.5px,#00dcfe 107.5px,#0080ff 112.5px,#0074ff 114px)"></i><i style="background:linear-gradient(90deg,#0068ff 0px,#0074ff 2.5px,#00a4ff 5.5px,#00e4f8 8.5px,#0ff8e7 9.5px,#46ffb1 13.5px,#5aff9d 16.5px,#4dffaa 20.5px,#13fce4 26.5px,#09f0ee 29.5px,#1cffdb 33.5px,#46ffb1 38.5px,#46ffb1 42.5px,#33ffc4 50.5px,#43ffb4 57.5px,#33ffc4 66.5px,#49ffad 74.5px,#39ffbe 78.5px,#16ffe1 82.5px,#09f0ee 85.5px,#13fce4 88.5px,#53ffa4 95.5px,#56ffa0 99.5px,#30ffc7 103.5px,#13fce4 105.5px,#02e8f4 106.5px,#00d0ff 107.5px,#0084ff 111.5px,#006cff 114px)"></i><i style="background:linear-gradient(90deg,#0078ff 0px,#0080ff 2.5px,#0098ff 4.5px,#00d0ff 7.5px,#00e4f8 8.5px,#0ff8e7 9.5px,#46ffb1 13.5px,#5aff9d 16.5px,#53ffa4 19.5px,#30ffc7 23.5px,#16ffe1 25.5px,#00e0fb 27.5px,#00c8ff 30.5px,#00c4ff 33.5px,#00e4f8 38.5px,#16ffe1 46.5px,#49ffad 56.5px,#43ffb4 60.5px,#13fce4 69.5px,#00d8ff 78.5px,#00c4ff 82.5px,#00c4ff 84.5px,#00e0fb 87.5px,#13fce4 89.5px,#4dffaa 94.5px,#5aff9d 97.5px,#50ffa7 100.5px,#1fffd7 104.5px,#0ff8e7 105.5px,#00e4f8 106.5px,#00a8ff 109.5px,#0078ff 114px)"></i><i style="background:linear-gradient(90deg,#0098ff 0px,#0098ff 2.5px,#00c8ff 6.5px,#00d8ff 7.5px,#13fce4 9.5px,#46ffb1 13.5px,#5aff9d 17.5px,#50ffa7 20.5px,#1fffd7 24.5px,#13fce4 25.5px,#02e8f4 26.5px,#00d4ff 27.5px,#009cff 31.5px,#0090ff 34.5px,#0094ff 37.5px,#00d4ff 45.5px,#06ecf1 47.5px,#19ffde 49.5px,#4dffaa 55.5px,#4dffaa 59.5px,#23ffd4 64.5px,#0ff8e7 66.5px,#00e0fb 68.5px,#00a0ff 75.5px,#0090ff 80.5px,#009cff 83.5px,#00d4ff 87.5px,#02e8f4 88.5px,#1fffd7 90.5px,#50ffa7 94.5px,#5aff9d 98.5px,#3cffba 102.5px,#16ffe1 105.5px,#06ecf1 106.5px,#00dcfe 107.5px,#00acff 110.5px,#0094ff 114px)"></i><i style="background:linear-gradient(90deg,#00c0ff 0px,#00c8ff 4.5px,#00e0fb 6.5px,#1cffdb 9.5px,#50ffa7 14.5px,#5aff9d 18.5px,#3cffba 22.5px,#13fce4 25.5px,#02e8f4 26.5px,#00d4ff 27.5px,#0088ff 31.5px,#0068ff 34.5px,#0068ff 38.5px,#0098ff 43.5px,#00d8ff 47.5px,#13fce4 49.5px,#49ffad 54.5px,#53ffa4 58.5px,#39ffbe 62.5px,#13fce4 65.5px,#00dcfe 67.5px,#008cff 72.5px,#0064ff 77.5px,#0068ff 80.5px,#0078ff 82.5px,#00d0ff 87.5px,#00e4f8 88.5px,#13fce4 89.5px,#46ffb1 93.5px,#5aff9d 96.5px,#50ffa7 100.5px,#29ffce 104.5px,#13fce4 106.5px,#00e0fb 108.5px,#00c0ff 112.5px,#00c0ff 114px)"></i><i style="background:linear-gradient(90deg,#0cf4eb 0px,#06ecf1 3.5px,#19ffde 7.5px,#50ffa7 14.5px,#5aff9d 18.5px,#40ffb7 22.5px,#19ffde 25.5px,#00d8ff 27.5px,#0074ff 32.5px,#0050ff 35.5px,#004cff 38.5px,#0074ff 42.5px,#00d0ff 47.5px,#00e4f8 48.5px,#0ff8e7 49.5px,#43ffb4 53.5px,#56ffa0 56.5px,#4dffaa 60.5px,#1fffd7 64.5px,#0ff8e7 65.5px,#00e4f8 66.5px,#00acff 69.5px,#0074ff 72.5px,#004cff 76.5px,#0050ff 79.5px,#0070ff 82.5px,#00c0ff 86.5px,#00d8ff 87.5px,#06ecf1 88.5px,#16ffe1 89.5px,#49ffad 93.5px,#5aff9d 97.5px,#3cffba 103.5px,#13fce4 108.5px,#06ecf1 112.5px,#09f0ee 114px)"></i><i style="background:linear-gradient(90deg,#33ffc4 0px,#29ffce 5.5px,#5aff9d 16.5px,#53ffa4 20.5px,#30ffc7 24.5px,#13fce4 26.5px,#00e4f8 27.5px,#00a4ff 30.5px,#006cff 33.5px,#004cff 36.5px,#0050ff 39.5px,#0080ff 43.5px,#00d0ff 47.5px,#02e8f4 48.5px,#13fce4 49.5px,#46ffb1 53.5px,#5aff9d 57.5px,#46ffb1 61.5px,#13fce4 65.5px,#02e8f4 66.5px,#00d4ff 67.5px,#0084ff 71.5px,#0058ff 74.5px,#004cff 77.5px,#0054ff 79.5px,#007cff 82.5px,#00d0ff 86.5px,#00e4f8 87.5px,#0ff8e7 88.5px,#43ffb4 92.5px,#5aff9d 96.5px,#50ffa7 101.5px,#29ffce 109.5px,#30ffc7 114px)"></i><i style="background:linear-gradient(90deg,#5aff9d 0px,#46ffb1 6.5px,#5aff9d 18.5px,#49ffad 22.5px,#1fffd7 26.5px,#13fce4 27.5px,#02e8f4 28.5px,#00d4ff 29.5px,#0078ff 34.5px,#0060ff 37.5px,#006cff 40.5px,#0090ff 43.5px,#00dcfe 47.5px,#16ffe1 49.5px,#46ffb1 53.5px,#5aff9d 57.5px,#46ffb1 61.5px,#19ffde 65.5px,#00dcfe 67.5px,#0090ff 71.5px,#006cff 74.5px,#0060ff 77.5px,#0078ff 80.5px,#00bcff 84.5px,#00e4f8 86.5px,#0ff8e7 87.5px,#43ffb4 91.5px,#5aff9d 95.5px,#50ffa7 103.5px,#46ffb1 108.5px,#53ffa4 114px)"></i><i style="background:linear-gradient(90deg,#7aff7d 0px,#5dff9a 8.5px,#5aff9d 20.5px,#46ffb1 24.5px,#19ffde 28.5px,#00e0fb 30.5px,#0094ff 35.5px,#0088ff 38.5px,#0094ff 41.5px,#00dcfe 46.5px,#06ecf1 47.5px,#16ffe1 48.5px,#49ffad 53.5px,#5aff9d 57.5px,#43ffb4 62.5px,#16ffe1 66.5px,#00dcfe 68.5px,#0094ff 73.5px,#0088ff 76.5px,#0094ff 79.5px,#00ccff 83.5px,#09f0ee 85.5px,#16ffe1 86.5px,#43ffb4 90.5px,#5aff9d 94.5px,#60ff97 108.5px,#73ff83 114px)"></i><i style="background:linear-gradient(90deg,#94ff63 0px,#6aff8d 10.5px,#5aff9d 23.5px,#29ffce 29.5px,#0ff8e7 31.5px,#00e0fb 33.5px,#00c0ff 36.5px,#00b8ff 39.5px,#00c8ff 42.5px,#00e0fb 44.5px,#19ffde 47.5px,#40ffb7 51.5px,#56ffa0 55.5px,#53ffa4 60.5px,#30ffc7 65.5px,#0ff8e7 68.5px,#00e0fb 70.5px,#00b8ff 75.5px,#00c8ff 79.5px,#00dcfe 81.5px,#1cffdb 84.5px,#53ffa4 90.5px,#63ff94 96.5px,#6dff8a 105.5px,#8dff6a 114px)"></i><i style="background:linear-gradient(90deg,#a7ff50 0px,#73ff83 11.5px,#63ff94 24.5px,#36ffc1 31.5px,#16ffe1 35.5px,#09f0ee 39.5px,#16ffe1 43.5px,#50ffa7 52.5px,#5aff9d 58.5px,#46ffb1 64.5px,#16ffe1 71.5px,#09f0ee 75.5px,#16ffe1 79.5px,#5aff9d 88.5px,#6aff8d 96.5px,#77ff80 104.5px,#a0ff56 114px)"></i><i style="background:linear-gradient(90deg,#b1ff46 0px,#77ff80 14.5px,#6aff8d 27.5px,#39ffbe 37.5px,#39ffbe 43.5px,#5dff9a 54.5px,#5aff9d 62.5px,#36ffc1 73.5px,#3cffba 78.5px,#6dff8a 88.5px,#7aff7d 101.5px,#adff49 114px)"></i></div>
<svg style="left:31px;top:199px" width="114" height="143"><path d="M-80.27,118.42 L-70.27,108.30 L-63.08,108.30 L-53.08,118.42 L-44.78,118.42 L-34.78,108.30 L-27.59,108.30 L-17.59,118.42 L-9.29,118.42 L0.71,108.30 L7.90,108.30 L17.90,118.42 L26.20,118.42 L36.20,108.30 L43.39,108.30 L53.39,118.42 L61.69,118.42 L71.69,108.30 L78.88,108.30 L88.88,118.42 L97.18,118.42 L107.18,108.30 L114.37,108.30 L124.37,118.42 L132.67,118.42 L142.67,108.30 L149.86,108.30 L159.86,118.42 L168.16,118.42 L178.16,108.30 L185.35,108.30 L195.35,118.42" fill="none" stroke="#b8692a" stroke-width="0.9" stroke-opacity="0.9"/><circle cx="57.54" cy="26.12" r="0.55" fill="#8e44a8" fill-opacity="0.8"/></svg>
<div class="frm" style="left:31px;top:199px;width:112px;height:141px"></div>
<div class="ann" style="left:72.4999px;top:215.24px">Source/Receiver</div>
<div class="ann" style="left:33.3px;top:298.779px">Soil surface</div>
<div class="ttl" style="left:88px;top:190.4px">Centre frequency = 150 MHz</div>
<div class="yt" style="left:-9.5px;top:211.14px">2.0</div>
<b class="tk" style="left:29px;top:214.04px;width:2px;height:0.8px"></b>
<div class="yt" style="left:-9.5px;top:234.355px">1.5</div>
<b class="tk" style="left:29px;top:237.255px;width:2px;height:0.8px"></b>
<div class="yt" style="left:-9.5px;top:257.57px">1.0</div>
<b class="tk" style="left:29px;top:260.47px;width:2px;height:0.8px"></b>
<div class="yt" style="left:-9.5px;top:280.785px">0.5</div>
<b class="tk" style="left:29px;top:283.685px;width:2px;height:0.8px"></b>
<div class="yt" style="left:-9.5px;top:304px">0.0</div>
<b class="tk" style="left:29px;top:306.9px;width:2px;height:0.8px"></b>
<div class="yt" style="left:-9.5px;top:327.215px">−0.5</div>
<b class="tk" style="left:29px;top:330.115px;width:2px;height:0.8px"></b>
<div class="xt" style="left:22.45px;top:344.1px">−1.0</div>
<b class="tk" style="left:42.05px;top:342px;width:0.8px;height:1.8px"></b>
<div class="xt" style="left:45.495px;top:344.1px">−0.5</div>
<b class="tk" style="left:65.095px;top:342px;width:0.8px;height:1.8px"></b>
<div class="xt" style="left:68.54px;top:344.1px">0.0</div>
<b class="tk" style="left:88.14px;top:342px;width:0.8px;height:1.8px"></b>
<div class="xt" style="left:91.585px;top:344.1px">0.5</div>
<b class="tk" style="left:111.185px;top:342px;width:0.8px;height:1.8px"></b>
<div class="xt" style="left:114.63px;top:344.1px">1.0</div>
<b class="tk" style="left:134.23px;top:342px;width:0.8px;height:1.8px"></b>
<div class="yl" style="left:-2.8px;top:265.4px"><i>y</i> (m)</div>
<div class="xl" style="left:68.54px;top:353.5px"><i>x</i> (m)</div>
<div class="cap" style="left:72px;top:370px">(d)</div>
<div class="cb" style="left:154px;top:199px;height:141px;background-image:linear-gradient(180deg,#800000 0.00%,#9f0000 3.12%,#c40000 6.25%,#e80000 9.38%,#ff1e00 12.50%,#ff3b00 15.62%,#ff5900 18.75%,#ff7700 21.88%,#ff9400 25.00%,#ffb200 28.12%,#ffd000 31.25%,#feed00 34.38%,#e4ff13 37.50%,#caff2c 40.62%,#b1ff46 43.75%,#97ff60 46.88%,#7dff7a 50.00%,#63ff94 53.12%,#49ffad 56.25%,#30ffc7 59.38%,#16ffe1 62.50%,#00e0fb 65.62%,#00c0ff 68.75%,#00a0ff 71.88%,#0080ff 75.00%,#0060ff 78.12%,#0040ff 81.25%,#0020ff 84.38%,#0000ff 87.50%,#0000ed 90.62%,#0000c8 93.75%,#0000a4 96.88%,#000080 100.00%)"></div>
<b class="tk" style="left:162px;top:210.933px;width:2px;height:0.8px"></b>
<div class="ct" style="left:165.5px;top:207.233px">100</div>
<b class="tk" style="left:162px;top:240.517px;width:2px;height:0.8px"></b>
<div class="ct" style="left:165.5px;top:236.817px">50</div>
<b class="tk" style="left:162px;top:270.1px;width:2px;height:0.8px"></b>
<div class="ct" style="left:165.5px;top:266.4px">0</div>
<b class="tk" style="left:162px;top:299.683px;width:2px;height:0.8px"></b>
<div class="ct" style="left:165.5px;top:295.983px">−50</div>
<b class="tk" style="left:162px;top:329.267px;width:2px;height:0.8px"></b>
<div class="ct" style="left:165.5px;top:325.567px">−100</div>
<div class="fld" style="left:215px;top:199px;width:114px;height:143px"><i style="background:linear-gradient(90deg,#70ff87 0px,#5aff9d 58.5px,#70ff87 114px)"></i><i style="background:linear-gradient(90deg,#6dff8a 0px,#56ffa0 59.5px,#6dff8a 114px)"></i><i style="background:linear-gradient(90deg,#6aff8d 0px,#53ffa4 61.5px,#6aff8d 114px)"></i><i style="background:linear-gradient(90deg,#6aff8d 0px,#53ffa4 51.5px,#5aff9d 88.5px,#6aff8d 114px)"></i><i style="background:linear-gradient(90deg,#66ff90 0px,#50ffa7 54.5px,#5dff9a 100.5px,#66ff90 114px)"></i><i style="background:linear-gradient(90deg,#63ff94 0px,#50ffa7 50.5px,#56ffa0 92.5px,#63ff94 114px)"></i><i style="background:linear-gradient(90deg,#60ff97 0px,#50ffa7 48.5px,#56ffa0 98.5px,#60ff97 114px)"></i><i style="background:linear-gradient(90deg,#5dff9a 0px,#50ffa7 47.5px,#56ffa0 103.5px,#5dff9a 114px)"></i><i style="background:linear-gradient(90deg,#5dff9a 0px,#50ffa7 35.5px,#53ffa4 101.5px,#5aff9d 114px)"></i><i style="background:linear-gradient(90deg,#5aff9d 0px,#50ffa7 35.5px,#53ffa4 107.5px,#5aff9d 114px)"></i><i style="background:linear-gradient(90deg,#56ffa0 0px,#50ffa7 33.5px,#5aff9d 62.5px,#50ffa7 101.5px,#56ffa0 114px)"></i><i style="background:linear-gradient(90deg,#53ffa4 0px,#53ffa4 35.5px,#5dff9a 59.5px,#50ffa7 103.5px,#53ffa4 114px)"></i><i style="background:linear-gradient(90deg,#50ffa7 0px,#56ffa0 35.5px,#66ff90 59.5px,#50ffa7 98.5px,#50ffa7 114px)"></i><i style="background:linear-gradient(90deg,#50ffa7 0px,#56ffa0 30.5px,#6dff8a 56.5px,#60ff97 77.5px,#50ffa7 99.5px,#50ffa7 114px)"></i><i style="background:linear-gradient(90deg,#4dffaa 0px,#5aff9d 29.5px,#77ff80 55.5px,#70ff87 69.5px,#53ffa4 95.5px,#4dffaa 114px)"></i><i style="background:linear-gradient(90deg,#4dffaa 0px,#5dff9a 27.5px,#80ff77 53.5px,#7dff7a 66.5px,#56ffa0 94.5px,#4dffaa 114px)"></i><i style="background:linear-gradient(90deg,#4dffaa 0px,#63ff94 28.5px,#8dff6a 54.5px,#87ff70 67.5px,#5aff9d 95.5px,#4dffaa 114px)"></i><i style="background:linear-gradient(90deg,#50ffa7 0px,#66ff90 26.5px,#97ff60 51.5px,#97ff60 64.5px,#5dff9a 96.5px,#50ffa7 114px)"></i><i style="background:linear-gradient(90deg,#50ffa7 0px,#70ff87 27.5px,#a4ff53 51.5px,#a4ff53 64.5px,#63ff94 95.5px,#50ffa7 114px)"></i><i style="background:linear-gradient(90deg,#53ffa4 0px,#7aff7d 27.5px,#b1ff46 51.5px,#b1ff46 64.5px,#6aff8d 95.5px,#53ffa4 114px)"></i><i style="background:linear-gradient(90deg,#56ffa0 0px,#83ff73 27.5px,#beff39 50.5px,#beff39 64.5px,#6dff8a 98.5px,#5aff9d 114px)"></i><i style="background:linear-gradient(90deg,#5dff9a 0px,#90ff66 28.5px,#c7ff30 49.5px,#ceff29 60.5px,#b1ff46 75.5px,#7aff7d 96.5px,#60ff97 114px)"></i><i style="background:linear-gradient(90deg,#63ff94 0px,#9aff5d 27.5px,#d1ff26 48.5px,#d7ff1f 62.5px,#adff49 80.5px,#80ff77 98.5px,#66ff90 114px)"></i><i style="background:linear-gradient(90deg,#6dff8a 0px,#adff49 30.5px,#deff19 49.5px,#deff19 65.5px,#83ff73 102.5px,#6dff8a 114px)"></i><i style="background:linear-gradient(90deg,#77ff80 0px,#baff3c 30.5px,#e4ff13 48.5px,#ebff0c 61.5px,#ceff29 77.5px,#90ff66 101.5px,#77ff80 114px)"></i><i style="background:linear-gradient(90deg,#80ff77 0px,#ceff29 32.5px,#eeff09 49.5px,#eeff09 65.5px,#caff2c 83.5px,#83ff73 114px)"></i><i style="background:linear-gradient(90deg,#8aff6d 0px,#e7ff0f 39.5px,#f4f802 58.5px,#e7ff0f 75.5px,#8dff6a 114px)"></i><i style="background:linear-gradient(90deg,#97ff60 0px,#ebff0c 35.5px,#f4f802 51.5px,#f1fc06 75.5px,#c1ff36 97.5px,#9aff5d 114px)"></i><i style="background:linear-gradient(90deg,#a4ff53 0px,#f1fc06 32.5px,#f8f500 47.5px,#f4f802 80.5px,#dbff1c 92.5px,#a7ff50 114px)"></i><i style="background:linear-gradient(90deg,#b1ff46 0px,#f1fc06 26.5px,#feed00 38.5px,#eeff09 59.5px,#feed00 79.5px,#eeff09 90.5px,#b4ff43 114px)"></i><i style="background:linear-gradient(90deg,#beff39 0px,#f1fc06 20.5px,#ffea00 28.5px,#ffea00 39.5px,#f1fc06 48.5px,#e7ff0f 59.5px,#f4f802 68.5px,#ffe600 79.5px,#feed00 89.5px,#ebff0c 97.5px,#c1ff36 114px)"></i><i style="background:linear-gradient(90deg,#caff2c 0px,#f1fc06 15.5px,#ffe600 23.5px,#ffdb00 32.5px,#fbf100 42.5px,#e7ff0f 49.5px,#deff19 58.5px,#f1fc06 68.5px,#ffe600 76.5px,#ffdb00 85.5px,#f8f500 97.5px,#e4ff13 104.5px,#ceff29 114px)"></i><i style="background:linear-gradient(90deg,#d7ff1f 0px,#f1fc06 10.5px,#ffe600 18.5px,#ffd300 27.5px,#ffdb00 35.5px,#fbf100 41.5px,#e7ff0f 47.5px,#d4ff23 55.5px,#dbff1c 63.5px,#f4f802 71.5px,#ffe200 76.5px,#ffd300 85.5px,#ffde00 94.5px,#f4f802 103.5px,#deff19 111.5px,#dbff1c 114px)"></i><i style="background:linear-gradient(90deg,#e1ff16 0px,#f4f802 7.5px,#ffde00 16.5px,#ffc800 26.5px,#ffd700 35.5px,#feed00 40.5px,#ebff0c 44.5px,#caff2c 52.5px,#c7ff30 60.5px,#e4ff13 69.5px,#f4f802 72.5px,#ffe600 76.5px,#ffcc00 83.5px,#ffcc00 91.5px,#fbf100 104.5px,#ebff0c 111.5px,#e4ff13 114px)"></i><i style="background:linear-gradient(90deg,#ebff0c 0px,#feed00 8.5px,#ffc100 23.5px,#ffc800 31.5px,#feed00 39.5px,#eeff09 42.5px,#beff39 52.5px,#b7ff40 59.5px,#d1ff26 67.5px,#eeff09 72.5px,#ffe600 76.5px,#ffc100 86.5px,#ffc800 94.5px,#fbf100 108.5px,#eeff09 114px)"></i><i style="background:linear-gradient(90deg,#f4f802 0px,#ffdb00 11.5px,#ffbd00 22.5px,#ffbd00 28.5px,#ffd300 34.5px,#f8f500 39.5px,#e4ff13 42.5px,#adff49 52.5px,#a7ff50 59.5px,#baff3c 65.5px,#f1fc06 74.5px,#ffe600 77.5px,#ffc100 84.5px,#ffb900 90.5px,#ffd000 99.5px,#fbf100 111.5px,#f4f802 114px)"></i><i style="background:linear-gradient(90deg,#f8f500 0px,#ffdb00 10.5px,#ffb900 21.5px,#ffb900 27.5px,#ffd700 34.5px,#f8f500 38.5px,#e1ff16 41.5px,#a0ff56 51.5px,#94ff63 58.5px,#aaff4d 65.5px,#f1fc06 75.5px,#ffe600 78.5px,#ffc800 83.5px,#ffb600 90.5px,#ffc800 99.5px,#fbf100 114px)"></i><i style="background:linear-gradient(90deg,#fbf100 0px,#ffc800 14.5px,#ffb600 23.5px,#ffc400 30.5px,#feed00 36.5px,#eeff09 38.5px,#97ff60 50.5px,#83ff73 56.5px,#8dff6a 62.5px,#ceff29 72.5px,#eeff09 76.5px,#feed00 78.5px,#ffc100 85.5px,#ffb600 92.5px,#ffd000 102.5px,#feed00 114px)"></i><i style="background:linear-gradient(90deg,#feed00 0px,#ffd000 12.5px,#ffb900 21.5px,#ffc100 27.5px,#ffde00 33.5px,#f4f802 36.5px,#d4ff23 40.5px,#8dff6a 49.5px,#73ff83 55.5px,#7aff7d 61.5px,#a0ff56 68.5px,#ebff0c 77.5px,#fbf100 79.5px,#ffc800 85.5px,#ffb900 91.5px,#ffc800 100.5px,#ffea00 111.5px,#feed00 114px)"></i><i style="background:linear-gradient(90deg,#fbf100 0px,#ffd300 12.5px,#ffbd00 21.5px,#ffcc00 28.5px,#feed00 33.5px,#f1fc06 35.5px,#7dff7a 49.5px,#63ff94 55.5px,#6aff8d 61.5px,#8aff6d 67.5px,#f1fc06 79.5px,#ffe600 82.5px,#ffc100 89.5px,#ffc100 96.5px,#feed00 111.5px,#feed00 114px)"></i><i style="background:linear-gradient(90deg,#f8f500 0px,#ffde00 11.5px,#ffc800 20.5px,#ffd300 27.5px,#f8f500 32.5px,#e1ff16 35.5px,#6dff8a 49.5px,#53ffa4 57.5px,#6dff8a 65.5px,#d1ff26 77.5px,#f1fc06 81.5px,#ffe600 84.5px,#ffcc00 89.5px,#ffcc00 97.5px,#f8f500 112.5px,#f8f500 114px)"></i><i style="background:linear-gradient(90deg,#f1fc06 0px,#feed00 9.5px,#ffd300 20.5px,#ffea00 28.5px,#eeff09 31.5px,#60ff97 49.5px,#49ffad 56.5px,#53ffa4 62.5px,#73ff83 68.5px,#eeff09 83.5px,#ffe600 87.5px,#ffd300 94.5px,#fbf100 106.5px,#f1fc06 114px)"></i><i style="background:linear-gradient(90deg,#e7ff0f 0px,#f4f802 10.5px,#ffe600 19.5px,#f8f500 26.5px,#e7ff0f 29.5px,#7dff7a 43.5px,#49ffad 51.5px,#3cffba 57.5px,#49ffad 63.5px,#83ff73 72.5px,#e7ff0f 85.5px,#f8f500 88.5px,#ffe600 95.5px,#f4f802 104.5px,#e7ff0f 114px)"></i><i style="background:linear-gradient(90deg,#deff19 0px,#e1ff16 8.5px,#f4f802 19.5px,#deff19 27.5px,#8aff6d 39.5px,#43ffb4 50.5px,#36ffc1 58.5px,#4dffaa 66.5px,#a7ff50 79.5px,#e7ff0f 89.5px,#f4f802 97.5px,#deff19 109.5px,#deff19 114px)"></i><i style="background:linear-gradient(90deg,#d1ff26 0px,#d1ff26 7.5px,#deff19 18.5px,#d1ff26 24.5px,#a7ff50 32.5px,#50ffa7 45.5px,#33ffc4 54.5px,#39ffbe 63.5px,#5dff9a 71.5px,#caff2c 88.5px,#deff19 95.5px,#d7ff1f 104.5px,#ceff29 114px)"></i><i style="background:linear-gradient(90deg,#c1ff36 0px,#c1ff36 8.5px,#caff2c 17.5px,#b4ff43 25.5px,#4dffaa 43.5px,#33ffc4 52.5px,#33ffc4 62.5px,#50ffa7 72.5px,#b7ff40 90.5px,#caff2c 98.5px,#beff39 112.5px,#c1ff36 114px)"></i><i style="background:linear-gradient(90deg,#b1ff46 0px,#b1ff46 11.5px,#b1ff46 17.5px,#97ff60 25.5px,#50ffa7 38.5px,#36ffc1 47.5px,#30ffc7 61.5px,#46ffb1 74.5px,#a7ff50 93.5px,#b4ff43 102.5px,#adff49 112.5px,#b1ff46 114px)"></i><i style="background:linear-gradient(90deg,#a0ff56 0px,#9aff5d 8.5px,#9aff5d 15.5px,#80ff77 23.5px,#3cffba 37.5px,#30ffc7 46.5px,#33ffc4 73.5px,#50ffa7 82.5px,#94ff63 96.5px,#9dff5a 105.5px,#9dff5a 114px)"></i><i style="background:linear-gradient(90deg,#90ff66 0px,#87ff70 10.5px,#77ff80 18.5px,#29ffce 34.5px,#23ffd4 42.5px,#39ffbe 57.5px,#23ffd4 76.5px,#39ffbe 84.5px,#7dff7a 98.5px,#87ff70 108.5px,#8dff6a 114px)"></i><i style="background:linear-gradient(90deg,#80ff77 0px,#63ff94 16.5px,#16ffe1 31.5px,#0cf4eb 38.5px,#23ffd4 45.5px,#43ffb4 55.5px,#39ffbe 63.5px,#13fce4 73.5px,#0cf4eb 79.5px,#23ffd4 86.5px,#6aff8d 100.5px,#7dff7a 114px)"></i><i style="background:linear-gradient(90deg,#70ff87 0px,#50ffa7 14.5px,#13fce4 25.5px,#00e0fb 29.5px,#00d4ff 35.5px,#00e0fb 39.5px,#16ffe1 44.5px,#43ffb4 52.5px,#4dffaa 58.5px,#36ffc1 65.5px,#16ffe1 70.5px,#00e0fb 75.5px,#00d4ff 81.5px,#00e0fb 85.5px,#16ffe1 90.5px,#50ffa7 100.5px,#6aff8d 111.5px,#6dff8a 114px)"></i><i style="background:linear-gradient(90deg,#63ff94 0px,#3cffba 13.5px,#13fce4 20.5px,#00e0fb 23.5px,#00bcff 29.5px,#00b4ff 34.5px,#00d4ff 40.5px,#09f0ee 43.5px,#19ffde 45.5px,#53ffa4 53.5px,#5aff9d 59.5px,#33ffc4 66.5px,#13fce4 70.5px,#00dcfe 73.5px,#00b8ff 79.5px,#00b8ff 84.5px,#00d8ff 90.5px,#02e8f4 92.5px,#19ffde 95.5px,#49ffad 104.5px,#60ff97 114px)"></i><i style="background:linear-gradient(90deg,#56ffa0 0px,#33ffc4 11.5px,#13fce4 16.5px,#00e0fb 19.5px,#00a0ff 27.5px,#0094ff 32.5px,#00a8ff 37.5px,#00dcfe 42.5px,#02e8f4 43.5px,#19ffde 45.5px,#56ffa0 52.5px,#66ff90 56.5px,#63ff94 60.5px,#36ffc1 66.5px,#0ff8e7 70.5px,#02e8f4 71.5px,#00d0ff 73.5px,#00a4ff 78.5px,#0094ff 82.5px,#00a0ff 87.5px,#00e0fb 95.5px,#13fce4 98.5px,#39ffbe 105.5px,#53ffa4 114px)"></i><i style="background:linear-gradient(90deg,#4dffaa 0px,#26ffd1 10.5px,#13fce4 13.5px,#00e0fb 16.5px,#0090ff 24.5px,#0078ff 28.5px,#0078ff 32.5px,#008cff 36.5px,#00c8ff 41.5px,#00e4f8 43.5px,#19ffde 45.5px,#5aff9d 51.5px,#73ff83 55.5px,#73ff83 59.5px,#53ffa4 64.5px,#19ffde 69.5px,#00e4f8 71.5px,#00bcff 74.5px,#008cff 78.5px,#0074ff 84.5px,#0088ff 89.5px,#00c0ff 95.5px,#00e0fb 98.5px,#13fce4 101.5px,#3cffba 109.5px,#49ffad 114px)"></i><i style="background:linear-gradient(90deg,#43ffb4 0px,#1fffd7 9.5px,#13fce4 11.5px,#00dcfe 14.5px,#0070ff 24.5px,#0058ff 30.5px,#0074ff 35.5px,#00b0ff 40.5px,#00e4f8 43.5px,#1cffdb 45.5px,#66ff90 51.5px,#80ff77 55.5px,#80ff77 59.5px,#5dff9a 64.5px,#1cffdb 69.5px,#00e4f8 71.5px,#00b0ff 74.5px,#0074ff 79.5px,#0058ff 84.5px,#0070ff 90.5px,#00dcfe 100.5px,#13fce4 103.5px,#39ffbe 111.5px,#40ffb7 114px)"></i><i style="background:linear-gradient(90deg,#40ffb7 0px,#16ffe1 9.5px,#00e0fb 12.5px,#0060ff 23.5px,#0044ff 28.5px,#0050ff 33.5px,#008cff 38.5px,#00d0ff 42.5px,#00e4f8 43.5px,#0ff8e7 44.5px,#4dffaa 48.5px,#83ff73 53.5px,#90ff66 57.5px,#83ff73 61.5px,#4dffaa 66.5px,#0ff8e7 70.5px,#00e4f8 71.5px,#00acff 74.5px,#0064ff 79.5px,#004cff 82.5px,#0044ff 86.5px,#0060ff 91.5px,#00e0fb 102.5px,#16ffe1 105.5px,#3cffba 114px)"></i><i style="background:linear-gradient(90deg,#3cffba 0px,#16ffe1 8.5px,#00e0fb 11.5px,#0054ff 22.5px,#0034ff 27.5px,#0034ff 30.5px,#0044ff 33.5px,#0088ff 38.5px,#00d4ff 42.5px,#02e8f4 43.5px,#13fce4 44.5px,#70ff87 50.5px,#9aff5d 55.5px,#9aff5d 59.5px,#70ff87 64.5px,#13fce4 70.5px,#02e8f4 71.5px,#00d4ff 72.5px,#0078ff 77.5px,#003cff 82.5px,#0030ff 86.5px,#004cff 91.5px,#00acff 99.5px,#00e0fb 103.5px,#16ffe1 106.5px,#39ffbe 114px)"></i><i style="background:linear-gradient(90deg,#3cffba 0px,#23ffd4 6.5px,#13fce4 8.5px,#00e4f8 10.5px,#00c0ff 13.5px,#005cff 20.5px,#002cff 25.5px,#0024ff 28.5px,#0040ff 33.5px,#0074ff 37.5px,#00d8ff 42.5px,#06ecf1 43.5px,#19ffde 44.5px,#6aff8d 49.5px,#97ff60 53.5px,#aaff4d 57.5px,#97ff60 61.5px,#6aff8d 65.5px,#19ffde 70.5px,#06ecf1 71.5px,#00d8ff 72.5px,#0074ff 77.5px,#0038ff 82.5px,#0024ff 86.5px,#0034ff 90.5px,#0068ff 95.5px,#00d8ff 103.5px,#09f0ee 105.5px,#19ffde 107.5px,#36ffc1 112.5px,#39ffbe 114px)"></i><i style="background:linear-gradient(90deg,#40ffb7 0px,#23ffd4 6.5px,#13fce4 8.5px,#00e4f8 10.5px,#00b8ff 13.5px,#0054ff 20.5px,#002cff 24.5px,#0020ff 28.5px,#0034ff 32.5px,#0078ff 37.5px,#00e0fb 42.5px,#1fffd7 44.5px,#80ff77 50.5px,#a7ff50 54.5px,#b1ff46 58.5px,#97ff60 62.5px,#63ff94 66.5px,#1fffd7 70.5px,#00e0fb 72.5px,#0068ff 78.5px,#002cff 83.5px,#0020ff 87.5px,#003cff 92.5px,#007cff 97.5px,#00d8ff 103.5px,#09f0ee 105.5px,#1cffdb 107.5px,#3cffba 114px)"></i><i style="background:linear-gradient(90deg,#43ffb4 0px,#30ffc7 5.5px,#16ffe1 8.5px,#00d8ff 11.5px,#005cff 19.5px,#0030ff 23.5px,#0020ff 27.5px,#0030ff 31.5px,#0060ff 35.5px,#00bcff 40.5px,#00d4ff 41.5px,#02e8f4 42.5px,#16ffe1 43.5px,#87ff70 50.5px,#b1ff46 54.5px,#b7ff40 58.5px,#a0ff56 62.5px,#49ffad 68.5px,#16ffe1 71.5px,#02e8f4 72.5px,#00d4ff 73.5px,#0070ff 78.5px,#0038ff 82.5px,#0024ff 85.5px,#0024ff 89.5px,#0044ff 93.5px,#0098ff 99.5px,#00d8ff 103.5px,#16ffe1 106.5px,#36ffc1 110.5px,#43ffb4 114px)"></i><i style="background:linear-gradient(90deg,#49ffad 0px,#3cffba 4.5px,#13fce4 9.5px,#00dcfe 11.5px,#0060ff 19.5px,#0030ff 24.5px,#0028ff 27.5px,#0034ff 30.5px,#005cff 34.5px,#00b4ff 39.5px,#00e0fb 41.5px,#1fffd7 43.5px,#80ff77 49.5px,#adff49 53.5px,#beff39 57.5px,#adff49 61.5px,#73ff83 66.5px,#1fffd7 71.5px,#00e0fb 73.5px,#007cff 78.5px,#0044ff 82.5px,#002cff 85.5px,#002cff 89.5px,#0054ff 94.5px,#009cff 99.5px,#00dcfe 103.5px,#13fce4 105.5px,#43ffb4 111.5px,#49ffad 114px)"></i><i style="background:linear-gradient(90deg,#53ffa4 0px,#40ffb7 5.5px,#19ffde 9.5px,#00e4f8 11.5px,#00b4ff 14.5px,#0068ff 19.5px,#0040ff 23.5px,#0034ff 26.5px,#0044ff 30.5px,#0060ff 33.5px,#00b0ff 38.5px,#00d8ff 40.5px,#06ecf1 41.5px,#19ffde 42.5px,#94ff63 50.5px,#b7ff40 54.5px,#beff39 58.5px,#a7ff50 62.5px,#7aff7d 66.5px,#19ffde 72.5px,#06ecf1 73.5px,#00d8ff 74.5px,#007cff 79.5px,#004cff 83.5px,#0038ff 86.5px,#0038ff 89.5px,#0050ff 93.5px,#0094ff 98.5px,#00d4ff 102.5px,#00e4f8 103.5px,#19ffde 105.5px,#46ffb1 110.5px,#53ffa4 114px)"></i><i style="background:linear-gradient(90deg,#5dff9a 0px,#50ffa7 4.5px,#30ffc7 8.5px,#16ffe1 10.5px,#00e0fb 12.5px,#0068ff 20.5px,#0048ff 25.5px,#0050ff 29.5px,#0084ff 34.5px,#00d8ff 39.5px,#06ecf1 40.5px,#16ffe1 41.5px,#8aff6d 49.5px,#b1ff46 53.5px,#beff39 57.5px,#b1ff46 61.5px,#8aff6d 65.5px,#16ffe1 73.5px,#06ecf1 74.5px,#00d8ff 75.5px,#0078ff 81.5px,#0050ff 85.5px,#0048ff 89.5px,#0068ff 94.5px,#00e0fb 102.5px,#16ffe1 104.5px,#43ffb4 108.5px,#5dff9a 114px)"></i><i style="background:linear-gradient(90deg,#66ff90 0px,#56ffa0 5.5px,#23ffd4 10.5px,#16ffe1 11.5px,#00e0fb 13.5px,#0094ff 18.5px,#006cff 22.5px,#0060ff 26.5px,#007cff 31.5px,#00acff 35.5px,#00dcfe 38.5px,#16ffe1 40.5px,#83ff73 48.5px,#b1ff46 53.5px,#baff3c 58.5px,#aaff4d 62.5px,#6aff8d 68.5px,#16ffe1 74.5px,#00dcfe 76.5px,#0084ff 82.5px,#0064ff 87.5px,#0064ff 90.5px,#007cff 94.5px,#00c0ff 99.5px,#00e0fb 101.5px,#16ffe1 103.5px,#4dffaa 108.5px,#63ff94 112.5px,#66ff90 114px)"></i><i style="background:linear-gradient(90deg,#70ff87 0px,#6aff8d 4.5px,#30ffc7 10.5px,#16ffe1 12.5px,#00e0fb 14.5px,#009cff 19.5px,#007cff 24.5px,#0088ff 29.5px,#00c8ff 35.5px,#00d8ff 36.5px,#02e8f4 37.5px,#1cffdb 39.5px,#87ff70 48.5px,#b1ff46 54.5px,#b1ff46 60.5px,#87ff70 66.5px,#1cffdb 75.5px,#02e8f4 77.5px,#00d8ff 78.5px,#0090ff 84.5px,#007cff 89.5px,#008cff 93.5px,#00b4ff 97.5px,#00e0fb 100.5px,#16ffe1 102.5px,#5aff9d 108.5px,#70ff87 112.5px,#70ff87 114px)"></i><i style="background:linear-gradient(90deg,#7dff7a 0px,#73ff83 4.5px,#53ffa4 8.5px,#19ffde 13.5px,#02e8f4 15.5px,#00d8ff 16.5px,#00acff 20.5px,#009cff 24.5px,#00a4ff 28.5px,#00d0ff 33.5px,#02e8f4 35.5px,#19ffde 37.5px,#7aff7d 46.5px,#a7ff50 53.5px,#aaff4d 59.5px,#97ff60 64.5px,#5dff9a 71.5px,#19ffde 77.5px,#02e8f4 79.5px,#00d0ff 81.5px,#00a0ff 87.5px,#00a0ff 92.5px,#00c0ff 96.5px,#00d8ff 98.5px,#0cf4eb 100.5px,#19ffde 101.5px,#60ff97 107.5px,#7aff7d 111.5px,#7dff7a 114px)"></i><i style="background:linear-gradient(90deg,#83ff73 0px,#80ff77 4.5px,#63ff94 8.5px,#13fce4 15.5px,#00e4f8 17.5px,#00c0ff 22.5px,#00c0ff 26.5px,#00e0fb 31.5px,#16ffe1 34.5px,#80ff77 46.5px,#9dff5a 52.5px,#a0ff56 60.5px,#87ff70 67.5px,#43ffb4 75.5px,#16ffe1 80.5px,#00e0fb 83.5px,#00c0ff 88.5px,#00c0ff 92.5px,#00e4f8 97.5px,#13fce4 99.5px,#6dff8a 107.5px,#87ff70 112.5px,#87ff70 114px)"></i><i style="background:linear-gradient(90deg,#8dff6a 0px,#8aff6d 4.5px,#66ff90 9.5px,#16ffe1 17.5px,#00e4f8 21.5px,#00e4f8 26.5px,#19ffde 31.5px,#77ff80 43.5px,#94ff63 51.5px,#94ff63 63.5px,#77ff80 71.5px,#13fce4 84.5px,#00e4f8 88.5px,#00e4f8 93.5px,#16ffe1 97.5px,#80ff77 108.5px,#90ff66 114px)"></i><i style="background:linear-gradient(90deg,#94ff63 0px,#94ff63 4.5px,#6aff8d 10.5px,#2cffca 17.5px,#19ffde 21.5px,#23ffd4 27.5px,#7dff7a 42.5px,#8dff6a 50.5px,#8aff6d 68.5px,#6aff8d 76.5px,#1cffdb 88.5px,#1cffdb 94.5px,#43ffb4 100.5px,#8aff6d 108.5px,#97ff60 112.5px,#97ff60 114px)"></i><i style="background:linear-gradient(90deg,#9aff5d 0px,#9aff5d 4.5px,#83ff73 8.5px,#40ffb7 17.5px,#33ffc4 23.5px,#50ffa7 30.5px,#87ff70 40.5px,#8dff6a 47.5px,#7dff7a 58.5px,#8dff6a 71.5px,#7aff7d 77.5px,#3cffba 88.5px,#33ffc4 93.5px,#4dffaa 99.5px,#94ff63 108.5px,#9dff5a 114px)"></i><i style="background:linear-gradient(90deg,#9aff5d 0px,#a0ff56 4.5px,#73ff83 12.5px,#53ffa4 18.5px,#4dffaa 22.5px,#66ff90 29.5px,#97ff60 39.5px,#8dff6a 47.5px,#70ff87 56.5px,#80ff77 64.5px,#97ff60 71.5px,#90ff66 77.5px,#53ffa4 90.5px,#4dffaa 94.5px,#66ff90 100.5px,#9dff5a 109.5px,#a0ff56 114px)"></i><i style="background:linear-gradient(90deg,#9dff5a 0px,#a4ff53 4.5px,#66ff90 18.5px,#6dff8a 24.5px,#a4ff53 36.5px,#a4ff53 42.5px,#66ff90 54.5px,#66ff90 60.5px,#a4ff53 72.5px,#a4ff53 78.5px,#66ff90 92.5px,#6dff8a 98.5px,#a4ff53 110.5px,#a0ff56 114px)"></i><i style="background:linear-gradient(90deg,#9aff5d 0px,#a4ff53 4.5px,#7aff7d 17.5px,#83ff73 24.5px,#b4ff43 35.5px,#b4ff43 40.5px,#94ff63 46.5px,#5dff9a 54.5px,#56ffa0 58.5px,#73ff83 64.5px,#adff49 72.5px,#b7ff40 78.5px,#8aff6d 89.5px,#7aff7d 95.5px,#83ff73 101.5px,#a4ff53 110.5px,#a0ff56 114px)"></i><i style="background:linear-gradient(90deg,#9aff5d 0px,#a0ff56 6.5px,#8aff6d 17.5px,#9aff5d 24.5px,#c7ff30 34.5px,#c1ff36 40.5px,#94ff63 46.5px,#50ffa7 54.5px,#49ffad 58.5px,#5dff9a 62.5px,#b4ff43 72.5px,#c7ff30 76.5px,#c1ff36 82.5px,#8dff6a 94.5px,#8dff6a 101.5px,#a0ff56 110.5px,#9dff5a 114px)"></i><i style="background:linear-gradient(90deg,#94ff63 0px,#9dff5a 6.5px,#97ff60 17.5px,#beff39 27.5px,#d7ff1f 34.5px,#d1ff26 39.5px,#a0ff56 45.5px,#5dff9a 51.5px,#43ffb4 55.5px,#43ffb4 59.5px,#66ff90 64.5px,#b4ff43 71.5px,#d4ff23 76.5px,#d4ff23 82.5px,#9aff5d 96.5px,#9aff5d 105.5px,#9aff5d 112.5px,#97ff60 114px)"></i><i style="background:linear-gradient(90deg,#8dff6a 0px,#9aff5d 5.5px,#a0ff56 16.5px,#caff2c 26.5px,#e4ff13 33.5px,#deff19 38.5px,#b7ff40 43.5px,#4dffaa 52.5px,#36ffc1 56.5px,#40ffb7 60.5px,#63ff94 64.5px,#caff2c 73.5px,#e4ff13 78.5px,#deff19 84.5px,#a4ff53 97.5px,#9aff5d 105.5px,#94ff63 114px)"></i><i style="background:linear-gradient(90deg,#87ff70 0px,#aaff4d 17.5px,#eeff09 31.5px,#eeff09 36.5px,#ceff29 41.5px,#94ff63 46.5px,#46ffb1 52.5px,#2cffca 56.5px,#36ffc1 60.5px,#5dff9a 64.5px,#c4ff33 72.5px,#ebff0c 77.5px,#f1fc06 81.5px,#d4ff23 89.5px,#a0ff56 100.5px,#8aff6d 114px)"></i><i style="background:linear-gradient(90deg,#7dff7a 0px,#a0ff56 13.5px,#e4ff13 26.5px,#f8f500 32.5px,#f4f802 36.5px,#dbff1c 40.5px,#a0ff56 45.5px,#40ffb7 52.5px,#26ffd1 56.5px,#30ffc7 60.5px,#5aff9d 64.5px,#d1ff26 73.5px,#f1fc06 77.5px,#fbf100 81.5px,#ebff0c 87.5px,#a4ff53 100.5px,#8aff6d 109.5px,#83ff73 114px)"></i><i style="background:linear-gradient(90deg,#77ff80 0px,#94ff63 11.5px,#f1fc06 27.5px,#feed00 31.5px,#feed00 35.5px,#eeff09 38.5px,#c7ff30 42.5px,#3cffba 52.5px,#23ffd4 56.5px,#26ffd1 59.5px,#49ffad 63.5px,#d4ff23 73.5px,#f4f802 77.5px,#ffea00 81.5px,#f4f802 86.5px,#caff2c 94.5px,#90ff66 104.5px,#7aff7d 114px)"></i><i style="background:linear-gradient(90deg,#6dff8a 0px,#8aff6d 10.5px,#f1fc06 26.5px,#ffea00 31.5px,#ffea00 34.5px,#eeff09 38.5px,#c7ff30 42.5px,#46ffb1 51.5px,#23ffd4 55.5px,#1fffd7 58.5px,#39ffbe 62.5px,#8dff6a 68.5px,#deff19 74.5px,#f4f802 77.5px,#ffe600 81.5px,#f8f500 87.5px,#e7ff0f 90.5px,#8aff6d 104.5px,#70ff87 112.5px,#70ff87 114px)"></i><i style="background:linear-gradient(90deg,#63ff94 0px,#77ff80 8.5px,#b7ff40 17.5px,#f1fc06 25.5px,#ffe600 30.5px,#feed00 35.5px,#eeff09 38.5px,#aaff4d 44.5px,#36ffc1 52.5px,#1cffdb 56.5px,#26ffd1 60.5px,#50ffa7 64.5px,#d1ff26 73.5px,#f4f802 77.5px,#ffe600 81.5px,#feed00 86.5px,#ebff0c 90.5px,#a7ff50 99.5px,#73ff83 107.5px,#66ff90 114px)"></i><i style="background:linear-gradient(90deg,#5dff9a 0px,#6aff8d 7.5px,#90ff66 13.5px,#deff19 22.5px,#f1fc06 25.5px,#ffe600 30.5px,#feed00 35.5px,#f4f802 37.5px,#ceff29 41.5px,#36ffc1 52.5px,#1cffdb 56.5px,#1fffd7 59.5px,#40ffb7 63.5px,#dbff1c 74.5px,#f4f802 77.5px,#ffe600 81.5px,#feed00 86.5px,#f1fc06 89.5px,#beff39 96.5px,#73ff83 105.5px,#5dff9a 112.5px,#5dff9a 114px)"></i><i style="background:linear-gradient(90deg,#56ffa0 0px,#5dff9a 6.5px,#83ff73 12.5px,#e4ff13 23.5px,#fbf100 27.5px,#ffea00 33.5px,#eeff09 37.5px,#beff39 42.5px,#40ffb7 51.5px,#1fffd7 55.5px,#1fffd7 59.5px,#40ffb7 63.5px,#caff2c 73.5px,#eeff09 77.5px,#ffea00 81.5px,#fbf100 87.5px,#e4ff13 91.5px,#9dff5a 99.5px,#60ff97 107.5px,#56ffa0 114px)"></i><i style="background:linear-gradient(90deg,#50ffa7 0px,#50ffa7 5.5px,#6aff8d 10.5px,#dbff1c 22.5px,#f1fc06 26.5px,#feed00 30.5px,#f1fc06 36.5px,#baff3c 42.5px,#36ffc1 52.5px,#1fffd7 55.5px,#1fffd7 59.5px,#40ffb7 63.5px,#d1ff26 74.5px,#f4f802 79.5px,#feed00 84.5px,#f1fc06 88.5px,#caff2c 94.5px,#6aff8d 104.5px,#4dffaa 110.5px,#4dffaa 114px)"></i><i style="background:linear-gradient(90deg,#49ffad 0px,#49ffad 6.5px,#6aff8d 11.5px,#d7ff1f 22.5px,#f4f802 28.5px,#f4f802 34.5px,#deff19 38.5px,#9aff5d 44.5px,#36ffc1 52.5px,#1fffd7 56.5px,#29ffce 60.5px,#4dffaa 64.5px,#caff2c 74.5px,#ebff0c 78.5px,#f8f500 83.5px,#ebff0c 89.5px,#b4ff43 96.5px,#5aff9d 105.5px,#46ffb1 109.5px,#46ffb1 114px)"></i><i style="background:linear-gradient(90deg,#46ffb1 0px,#40ffb7 5.5px,#5aff9d 10.5px,#dbff1c 23.5px,#f1fc06 29.5px,#e7ff0f 35.5px,#c4ff33 40.5px,#43ffb4 51.5px,#26ffd1 55.5px,#26ffd1 59.5px,#43ffb4 63.5px,#ceff29 75.5px,#e7ff0f 79.5px,#f1fc06 85.5px,#e4ff13 89.5px,#c1ff36 94.5px,#53ffa4 105.5px,#40ffb7 109.5px,#43ffb4 114px)"></i><i style="background:linear-gradient(90deg,#43ffb4 0px,#39ffbe 5.5px,#49ffad 9.5px,#d4ff23 23.5px,#ebff0c 29.5px,#e1ff16 35.5px,#b4ff43 41.5px,#43ffb4 51.5px,#26ffd1 56.5px,#30ffc7 60.5px,#56ffa0 65.5px,#c7ff30 75.5px,#e7ff0f 81.5px,#e7ff0f 87.5px,#c4ff33 93.5px,#43ffb4 106.5px,#39ffbe 111.5px,#40ffb7 114px)"></i><i style="background:linear-gradient(90deg,#40ffb7 0px,#33ffc4 5.5px,#4dffaa 10.5px,#c7ff30 22.5px,#e1ff16 27.5px,#e1ff16 33.5px,#beff39 39.5px,#83ff73 45.5px,#3cffba 52.5px,#2cffca 57.5px,#3cffba 62.5px,#8dff6a 70.5px,#c7ff30 76.5px,#e1ff16 81.5px,#e1ff16 87.5px,#beff39 93.5px,#46ffb1 105.5px,#33ffc4 109.5px,#3cffba 114px)"></i><i style="background:linear-gradient(90deg,#40ffb7 0px,#30ffc7 5.5px,#46ffb1 10.5px,#baff3c 21.5px,#dbff1c 27.5px,#dbff1c 32.5px,#c1ff36 38.5px,#46ffb1 51.5px,#30ffc7 56.5px,#39ffbe 61.5px,#6aff8d 67.5px,#c1ff36 76.5px,#deff19 83.5px,#d7ff1f 88.5px,#b1ff46 94.5px,#46ffb1 104.5px,#30ffc7 109.5px,#39ffbe 114px)"></i><i style="background:linear-gradient(90deg,#40ffb7 0px,#2cffca 5.5px,#43ffb4 10.5px,#baff3c 22.5px,#d4ff23 27.5px,#ceff29 34.5px,#a0ff56 41.5px,#43ffb4 52.5px,#33ffc4 57.5px,#43ffb4 62.5px,#87ff70 70.5px,#c4ff33 78.5px,#d4ff23 83.5px,#ceff29 89.5px,#a0ff56 95.5px,#3cffba 105.5px,#2cffca 109.5px,#39ffbe 114px)"></i><i style="background:linear-gradient(90deg,#43ffb4 0px,#30ffc7 4.5px,#33ffc4 8.5px,#70ff87 15.5px,#adff49 21.5px,#ceff29 27.5px,#c7ff30 34.5px,#94ff63 42.5px,#4dffaa 51.5px,#39ffbe 55.5px,#40ffb7 61.5px,#8aff6d 71.5px,#beff39 78.5px,#ceff29 84.5px,#c7ff30 89.5px,#9dff5a 95.5px,#40ffb7 104.5px,#2cffca 108.5px,#36ffc1 112.5px,#3cffba 114px)"></i><i style="background:linear-gradient(90deg,#46ffb1 0px,#30ffc7 4.5px,#33ffc4 8.5px,#63ff94 14.5px,#b1ff46 22.5px,#c7ff30 28.5px,#beff39 34.5px,#97ff60 41.5px,#4dffaa 51.5px,#3cffba 57.5px,#4dffaa 63.5px,#b1ff46 77.5px,#c7ff30 84.5px,#c1ff36 89.5px,#97ff60 95.5px,#36ffc1 105.5px,#2cffca 109.5px,#3cffba 114px)"></i><i style="background:linear-gradient(90deg,#49ffad 0px,#30ffc7 4.5px,#36ffc1 9.5px,#6aff8d 15.5px,#a4ff53 21.5px,#c1ff36 27.5px,#baff3c 33.5px,#90ff66 41.5px,#50ffa7 51.5px,#40ffb7 57.5px,#53ffa4 64.5px,#b4ff43 79.5px,#c1ff36 85.5px,#b7ff40 90.5px,#77ff80 98.5px,#3cffba 104.5px,#30ffc7 108.5px,#39ffbe 112.5px,#40ffb7 114px)"></i><i style="background:linear-gradient(90deg,#4dffaa 0px,#33ffc4 4.5px,#33ffc4 8.5px,#56ffa0 13.5px,#a7ff50 22.5px,#baff3c 28.5px,#b1ff46 34.5px,#83ff73 42.5px,#49ffad 53.5px,#49ffad 61.5px,#83ff73 72.5px,#b1ff46 80.5px,#baff3c 86.5px,#a7ff50 92.5px,#3cffba 104.5px,#30ffc7 108.5px,#3cffba 112.5px,#43ffb4 114px)"></i><i style="background:linear-gradient(90deg,#50ffa7 0px,#33ffc4 5.5px,#39ffbe 9.5px,#7aff7d 17.5px,#a4ff53 22.5px,#b7ff40 28.5px,#a4ff53 36.5px,#56ffa0 50.5px,#49ffad 58.5px,#5aff9d 65.5px,#a7ff50 79.5px,#b7ff40 86.5px,#a4ff53 92.5px,#40ffb7 104.5px,#33ffc4 108.5px,#40ffb7 112.5px,#49ffad 114px)"></i><i style="background:linear-gradient(90deg,#56ffa0 0px,#36ffc1 5.5px,#40ffb7 10.5px,#9dff5a 22.5px,#b1ff46 27.5px,#a4ff53 35.5px,#5dff9a 49.5px,#4dffaa 57.5px,#5dff9a 65.5px,#adff49 82.5px,#adff49 89.5px,#8aff6d 95.5px,#40ffb7 104.5px,#36ffc1 109.5px,#4dffaa 114px)"></i><i style="background:linear-gradient(90deg,#5aff9d 0px,#40ffb7 4.5px,#3cffba 8.5px,#56ffa0 13.5px,#9dff5a 22.5px,#adff49 29.5px,#90ff66 38.5px,#5dff9a 49.5px,#50ffa7 58.5px,#66ff90 68.5px,#a4ff53 81.5px,#adff49 87.5px,#90ff66 94.5px,#43ffb4 104.5px,#39ffbe 108.5px,#50ffa7 114px)"></i><i style="background:linear-gradient(90deg,#5dff9a 0px,#40ffb7 5.5px,#46ffb1 10.5px,#9dff5a 23.5px,#a7ff50 29.5px,#97ff60 36.5px,#5dff9a 49.5px,#53ffa4 59.5px,#6aff8d 69.5px,#a4ff53 82.5px,#a4ff53 89.5px,#87ff70 95.5px,#43ffb4 105.5px,#43ffb4 110.5px,#56ffa0 114px)"></i><i style="background:linear-gradient(90deg,#60ff97 0px,#43ffb4 6.5px,#49ffad 10.5px,#97ff60 22.5px,#a4ff53 27.5px,#97ff60 35.5px,#5dff9a 49.5px,#56ffa0 61.5px,#6dff8a 70.5px,#a0ff56 82.5px,#a0ff56 90.5px,#7aff7d 97.5px,#46ffb1 105.5px,#46ffb1 109.5px,#5aff9d 114px)"></i><i style="background:linear-gradient(90deg,#63ff94 0px,#49ffad 5.5px,#53ffa4 11.5px,#9aff5d 23.5px,#a0ff56 30.5px,#83ff73 39.5px,#60ff97 48.5px,#5aff9d 62.5px,#70ff87 71.5px,#9dff5a 82.5px,#9dff5a 90.5px,#73ff83 98.5px,#50ffa7 104.5px,#49ffad 109.5px,#5dff9a 114px)"></i><i style="background:linear-gradient(90deg,#66ff90 0px,#50ffa7 5.5px,#50ffa7 9.5px,#7aff7d 17.5px,#9dff5a 25.5px,#97ff60 33.5px,#60ff97 49.5px,#5dff9a 63.5px,#73ff83 72.5px,#9aff5d 83.5px,#9aff5d 90.5px,#73ff83 98.5px,#4dffaa 106.5px,#56ffa0 111.5px,#60ff97 114px)"></i><i style="background:linear-gradient(90deg,#6aff8d 0px,#53ffa4 5.5px,#5aff9d 11.5px,#97ff60 23.5px,#97ff60 32.5px,#60ff97 49.5px,#60ff97 65.5px,#9aff5d 84.5px,#94ff63 92.5px,#53ffa4 105.5px,#5aff9d 111.5px,#63ff94 114px)"></i><i style="background:linear-gradient(90deg,#6dff8a 0px,#56ffa0 5.5px,#60ff97 11.5px,#97ff60 24.5px,#94ff63 32.5px,#63ff94 48.5px,#63ff94 66.5px,#97ff60 84.5px,#97ff60 90.5px,#6dff8a 100.5px,#56ffa0 107.5px,#60ff97 112.5px,#66ff90 114px)"></i><i style="background:linear-gradient(90deg,#6dff8a 0px,#5aff9d 6.5px,#66ff90 12.5px,#94ff63 23.5px,#94ff63 30.5px,#63ff94 49.5px,#66ff90 67.5px,#94ff63 84.5px,#94ff63 91.5px,#5dff9a 106.5px,#60ff97 111.5px,#66ff90 114px)"></i><i style="background:linear-gradient(90deg,#6dff8a 0px,#60ff97 6.5px,#73ff83 14.5px,#94ff63 24.5px,#83ff73 37.5px,#66ff90 48.5px,#66ff90 67.5px,#8dff6a 82.5px,#94ff63 90.5px,#60ff97 107.5px,#6aff8d 114px)"></i><i style="background:linear-gradient(90deg,#6dff8a 0px,#63ff94 6.5px,#87ff70 19.5px,#90ff66 27.5px,#7aff7d 41.5px,#66ff90 48.5px,#6aff8d 68.5px,#87ff70 79.5px,#90ff66 91.5px,#63ff94 108.5px,#6aff8d 114px)"></i><i style="background:linear-gradient(90deg,#6dff8a 0px,#66ff90 7.5px,#90ff66 23.5px,#7dff7a 40.5px,#6aff8d 46.5px,#6aff8d 68.5px,#83ff73 77.5px,#90ff66 91.5px,#66ff90 109.5px,#6aff8d 114px)"></i><i style="background:linear-gradient(90deg,#6aff8d 0px,#6aff8d 6.5px,#8dff6a 22.5px,#7dff7a 40.5px,#6aff8d 46.5px,#6dff8a 70.5px,#83ff73 77.5px,#87ff70 85.5px,#8dff6a 93.5px,#66ff90 112.5px,#6aff8d 114px)"></i><i style="background:linear-gradient(90deg,#6aff8d 0px,#6aff8d 4.5px,#8dff6a 23.5px,#7dff7a 33.5px,#87ff70 38.5px,#6aff8d 46.5px,#6dff8a 64.5px,#6dff8a 70.5px,#87ff70 76.5px,#7dff7a 83.5px,#8dff6a 92.5px,#6aff8d 110.5px,#66ff90 114px)"></i><i style="background:linear-gradient(90deg,#63ff94 0px,#80ff77 12.5px,#8aff6d 25.5px,#77ff80 33.5px,#87ff70 38.5px,#77ff80 42.5px,#6aff8d 45.5px,#70ff87 60.5px,#6aff8d 70.5px,#87ff70 75.5px,#80ff77 79.5px,#77ff80 82.5px,#8aff6d 91.5px,#7aff7d 106.5px,#63ff94 114px)"></i><i style="background:linear-gradient(90deg,#5dff9a 0px,#73ff83 4.5px,#87ff70 9.5px,#87ff70 18.5px,#87ff70 25.5px,#70ff87 32.5px,#80ff77 36.5px,#8aff6d 38.5px,#73ff83 42.5px,#63ff94 45.5px,#73ff83 53.5px,#6dff8a 66.5px,#66ff90 70.5px,#87ff70 75.5px,#87ff70 77.5px,#70ff87 81.5px,#7aff7d 85.5px,#8aff6d 92.5px,#83ff73 107.5px,#60ff97 114px)"></i><i style="background:linear-gradient(90deg,#50ffa7 0px,#8aff6d 6.5px,#8dff6a 10.5px,#87ff70 18.5px,#87ff70 25.5px,#66ff90 32.5px,#73ff83 35.5px,#87ff70 38.5px,#80ff77 40.5px,#60ff97 44.5px,#77ff80 51.5px,#73ff83 65.5px,#60ff97 70.5px,#87ff70 75.5px,#7dff7a 78.5px,#66ff90 81.5px,#73ff83 85.5px,#8aff6d 91.5px,#8aff6d 103.5px,#8dff6a 107.5px,#7aff7d 110.5px,#56ffa0 114px)"></i><i style="background:linear-gradient(90deg,#40ffb7 0px,#5aff9d 2.5px,#8aff6d 5.5px,#9aff5d 7.5px,#87ff70 16.5px,#87ff70 25.5px,#5aff9d 32.5px,#60ff97 34.5px,#83ff73 38.5px,#5dff9a 44.5px,#70ff87 48.5px,#7dff7a 53.5px,#77ff80 65.5px,#5dff9a 69.5px,#66ff90 72.5px,#83ff73 76.5px,#5aff9d 81.5px,#5dff9a 83.5px,#87ff70 89.5px,#8aff6d 101.5px,#9aff5d 107.5px,#7dff7a 110.5px,#49ffad 114px)"></i><i style="background:linear-gradient(90deg,#2cffca 0px,#50ffa7 2.5px,#90ff66 5.5px,#a4ff53 7.5px,#87ff70 15.5px,#87ff70 25.5px,#6aff8d 29.5px,#49ffad 32.5px,#53ffa4 34.5px,#77ff80 37.5px,#7aff7d 39.5px,#56ffa0 44.5px,#80ff77 50.5px,#7dff7a 65.5px,#56ffa0 70.5px,#7aff7d 75.5px,#77ff80 77.5px,#4dffaa 81.5px,#50ffa7 83.5px,#7dff7a 87.5px,#8aff6d 91.5px,#8aff6d 101.5px,#a4ff53 107.5px,#90ff66 109.5px,#39ffbe 114px)"></i><i style="background:linear-gradient(90deg,#19ffde 0px,#26ffd1 1.5px,#90ff66 5.5px,#a7ff50 7.5px,#94ff63 11.5px,#83ff73 17.5px,#8aff6d 25.5px,#80ff77 27.5px,#3cffba 32.5px,#43ffb4 34.5px,#6aff8d 37.5px,#70ff87 39.5px,#53ffa4 43.5px,#5dff9a 45.5px,#87ff70 49.5px,#83ff73 61.5px,#87ff70 65.5px,#56ffa0 70.5px,#56ffa0 72.5px,#70ff87 75.5px,#6aff8d 77.5px,#3cffba 81.5px,#46ffb1 83.5px,#80ff77 87.5px,#8aff6d 91.5px,#87ff70 100.5px,#a7ff50 107.5px,#90ff66 109.5px,#26ffd1 114px)"></i><i style="background:linear-gradient(90deg,#06ecf1 0px,#16ffe1 1.5px,#8dff6a 5.5px,#a7ff50 7.5px,#94ff63 11.5px,#80ff77 17.5px,#8dff6a 26.5px,#7aff7d 28.5px,#33ffc4 32.5px,#2cffca 33.5px,#40ffb7 35.5px,#63ff94 38.5px,#50ffa7 43.5px,#63ff94 45.5px,#8dff6a 48.5px,#8dff6a 52.5px,#80ff77 58.5px,#90ff66 65.5px,#80ff77 67.5px,#56ffa0 70.5px,#50ffa7 72.5px,#63ff94 76.5px,#2cffca 81.5px,#40ffb7 83.5px,#87ff70 87.5px,#8dff6a 91.5px,#80ff77 98.5px,#9aff5d 104.5px,#a7ff50 107.5px,#8dff6a 109.5px,#16ffe1 114px)"></i><i style="background:linear-gradient(90deg,#00e0fb 0px,#06ecf1 1.5px,#1fffd7 2.5px,#80ff77 5.5px,#97ff60 6.5px,#a0ff56 8.5px,#7dff7a 16.5px,#8aff6d 22.5px,#97ff60 26.5px,#83ff73 28.5px,#2cffca 32.5px,#23ffd4 33.5px,#30ffc7 35.5px,#50ffa7 38.5px,#50ffa7 43.5px,#90ff66 47.5px,#9dff5a 49.5px,#80ff77 57.5px,#97ff60 63.5px,#9dff5a 65.5px,#90ff66 67.5px,#50ffa7 71.5px,#50ffa7 76.5px,#26ffd1 80.5px,#23ffd4 81.5px,#40ffb7 83.5px,#83ff73 86.5px,#97ff60 88.5px,#7dff7a 97.5px,#90ff66 103.5px,#a0ff56 107.5px,#97ff60 108.5px,#63ff94 110.5px,#1fffd7 112.5px,#06ecf1 114px)"></i><i style="background:linear-gradient(90deg,#02e8f4 0px,#06ecf1 1.5px,#19ffde 2.5px,#77ff80 5.5px,#8dff6a 6.5px,#9dff5a 8.5px,#7aff7d 16.5px,#83ff73 21.5px,#a4ff53 26.5px,#97ff60 28.5px,#30ffc7 32.5px,#19ffde 34.5px,#40ffb7 38.5px,#4dffaa 42.5px,#66ff90 44.5px,#90ff66 46.5px,#a7ff50 48.5px,#a7ff50 50.5px,#83ff73 55.5px,#83ff73 59.5px,#aaff4d 65.5px,#9dff5a 67.5px,#7aff7d 69.5px,#56ffa0 71.5px,#46ffb1 73.5px,#40ffb7 76.5px,#19ffde 80.5px,#30ffc7 82.5px,#97ff60 86.5px,#a4ff53 88.5px,#7dff7a 95.5px,#7dff7a 99.5px,#9dff5a 106.5px,#8dff6a 108.5px,#56ffa0 110.5px,#19ffde 112.5px,#06ecf1 114px)"></i><i style="background:linear-gradient(90deg,#1fffd7 0px,#16ffe1 1.5px,#1fffd7 2.5px,#83ff73 6.5px,#97ff60 8.5px,#87ff70 12.5px,#73ff83 17.5px,#80ff77 21.5px,#b4ff43 26.5px,#b7ff40 27.5px,#9aff5d 29.5px,#23ffd4 33.5px,#13fce4 35.5px,#4dffaa 42.5px,#adff49 47.5px,#b4ff43 49.5px,#83ff73 55.5px,#80ff77 58.5px,#9aff5d 62.5px,#b4ff43 65.5px,#adff49 67.5px,#4dffaa 72.5px,#13fce4 79.5px,#23ffd4 81.5px,#9aff5d 85.5px,#b7ff40 87.5px,#a0ff56 90.5px,#7aff7d 94.5px,#73ff83 98.5px,#97ff60 105.5px,#90ff66 107.5px,#6dff8a 109.5px,#1fffd7 112.5px,#16ffe1 114px)"></i><i style="background:linear-gradient(90deg,#5aff9d 0px,#43ffb4 1.5px,#3cffba 2.5px,#83ff73 6.5px,#94ff63 8.5px,#83ff73 12.5px,#6dff8a 17.5px,#7aff7d 21.5px,#caff2c 27.5px,#c7ff30 28.5px,#9dff5a 30.5px,#30ffc7 33.5px,#19ffde 34.5px,#0cf4eb 35.5px,#13fce4 37.5px,#40ffb7 41.5px,#80ff77 44.5px,#adff49 46.5px,#beff39 48.5px,#b4ff43 50.5px,#80ff77 55.5px,#7dff7a 58.5px,#90ff66 61.5px,#baff3c 65.5px,#baff3c 67.5px,#9aff5d 69.5px,#53ffa4 72.5px,#26ffd1 75.5px,#0cf4eb 78.5px,#0cf4eb 79.5px,#19ffde 80.5px,#50ffa7 82.5px,#9dff5a 84.5px,#c7ff30 86.5px,#caff2c 87.5px,#7aff7d 93.5px,#6dff8a 97.5px,#8aff6d 103.5px,#94ff63 106.5px,#83ff73 108.5px,#3cffba 112.5px,#43ffb4 114px)"></i><i style="background:linear-gradient(90deg,#adff49 0px,#8aff6d 1.5px,#77ff80 2.5px,#77ff80 4.5px,#94ff63 7.5px,#90ff66 10.5px,#6aff8d 16.5px,#6dff8a 20.5px,#80ff77 22.5px,#ceff29 26.5px,#e1ff16 28.5px,#d7ff1f 29.5px,#c1ff36 30.5px,#46ffb1 33.5px,#0ff8e7 35.5px,#06ecf1 36.5px,#06ecf1 37.5px,#19ffde 39.5px,#3cffba 41.5px,#a7ff50 45.5px,#c4ff33 47.5px,#c1ff36 49.5px,#7dff7a 55.5px,#77ff80 58.5px,#9dff5a 62.5px,#c7ff30 66.5px,#baff3c 68.5px,#8dff6a 70.5px,#3cffba 73.5px,#19ffde 75.5px,#06ecf1 77.5px,#06ecf1 78.5px,#0ff8e7 79.5px,#46ffb1 81.5px,#c1ff36 84.5px,#d7ff1f 85.5px,#e1ff16 86.5px,#ceff29 88.5px,#80ff77 92.5px,#6dff8a 94.5px,#6aff8d 98.5px,#97ff60 106.5px,#8dff6a 108.5px,#77ff80 110.5px,#77ff80 112.5px,#8aff6d 114px)"></i><i style="background:linear-gradient(90deg,#ffd300 0px,#ebff0c 1.5px,#b4ff43 3.5px,#a4ff53 5.5px,#87ff70 11.5px,#6dff8a 15.5px,#66ff90 19.5px,#77ff80 22.5px,#9dff5a 24.5px,#e7ff0f 27.5px,#f4f802 28.5px,#f4f802 29.5px,#e4ff13 30.5px,#c4ff33 31.5px,#40ffb7 34.5px,#1cffdb 35.5px,#09f0ee 36.5px,#02e8f4 37.5px,#06ecf1 38.5px,#13fce4 39.5px,#5aff9d 42.5px,#b1ff46 45.5px,#c4ff33 46.5px,#caff2c 48.5px,#aaff4d 51.5px,#80ff77 54.5px,#70ff87 57.5px,#80ff77 60.5px,#c4ff33 65.5px,#caff2c 67.5px,#c4ff33 68.5px,#97ff60 70.5px,#26ffd1 74.5px,#13fce4 75.5px,#06ecf1 76.5px,#02e8f4 77.5px,#09f0ee 78.5px,#1cffdb 79.5px,#6aff8d 81.5px,#c4ff33 83.5px,#e4ff13 84.5px,#f4f802 85.5px,#f4f802 86.5px,#d1ff26 88.5px,#87ff70 91.5px,#6dff8a 93.5px,#66ff90 97.5px,#7dff7a 102.5px,#9dff5a 107.5px,#a7ff50 110.5px,#caff2c 112.5px,#ebff0c 114px)"></i><i style="background:linear-gradient(90deg,#ff5500 0px,#ffe600 3.5px,#e7ff0f 4.5px,#beff39 6.5px,#80ff77 11.5px,#66ff90 16.5px,#66ff90 21.5px,#7dff7a 23.5px,#adff49 25.5px,#ebff0c 27.5px,#ffea00 28.5px,#ffde00 29.5px,#ffe600 30.5px,#ebff0c 31.5px,#36ffc1 35.5px,#19ffde 36.5px,#09f0ee 37.5px,#09f0ee 38.5px,#26ffd1 40.5px,#a4ff53 44.5px,#caff2c 46.5px,#ceff29 48.5px,#7dff7a 54.5px,#6aff8d 57.5px,#87ff70 61.5px,#ceff29 66.5px,#caff2c 68.5px,#a4ff53 70.5px,#26ffd1 74.5px,#09f0ee 76.5px,#09f0ee 77.5px,#19ffde 78.5px,#36ffc1 79.5px,#ebff0c 83.5px,#ffe600 84.5px,#ffde00 85.5px,#ffea00 86.5px,#ebff0c 87.5px,#90ff66 90.5px,#6dff8a 92.5px,#63ff94 96.5px,#73ff83 101.5px,#97ff60 105.5px,#ceff29 109.5px,#e7ff0f 110.5px,#ffe600 111.5px,#ff8900 114px)"></i><i style="background:linear-gradient(90deg,#d60000 0px,#ff1a00 1.5px,#ffc100 4.5px,#feed00 5.5px,#dbff1c 6.5px,#a4ff53 8.5px,#7aff7d 11.5px,#6aff8d 14.5px,#60ff97 21.5px,#70ff87 23.5px,#9dff5a 25.5px,#e4ff13 27.5px,#ffe600 28.5px,#ffcc00 29.5px,#ffc800 30.5px,#ffdb00 31.5px,#eeff09 32.5px,#60ff97 35.5px,#39ffbe 36.5px,#23ffd4 37.5px,#1cffdb 38.5px,#23ffd4 39.5px,#50ffa7 41.5px,#b1ff46 44.5px,#d1ff26 46.5px,#ceff29 48.5px,#73ff83 54.5px,#66ff90 57.5px,#73ff83 60.5px,#b1ff46 64.5px,#ceff29 66.5px,#d1ff26 68.5px,#b1ff46 70.5px,#36ffc1 74.5px,#23ffd4 75.5px,#1cffdb 76.5px,#23ffd4 77.5px,#39ffbe 78.5px,#8dff6a 80.5px,#eeff09 82.5px,#ffdb00 83.5px,#ffc800 84.5px,#ffcc00 85.5px,#ffe600 86.5px,#e4ff13 87.5px,#9dff5a 89.5px,#70ff87 91.5px,#60ff97 93.5px,#70ff87 102.5px,#94ff63 105.5px,#beff39 107.5px,#dbff1c 108.5px,#feed00 109.5px,#ffc100 110.5px,#ff1a00 114px)"></i><i style="background:linear-gradient(90deg,#9b0000 0px,#bb0000 1.5px,#f60b00 2.5px,#ff8900 4.5px,#ffc800 5.5px,#eeff09 6.5px,#a4ff53 8.5px,#77ff80 10.5px,#63ff94 13.5px,#63ff94 18.5px,#56ffa0 21.5px,#60ff97 23.5px,#8aff6d 25.5px,#d4ff23 27.5px,#fbf100 28.5px,#ffcc00 29.5px,#ffb900 30.5px,#ffb900 31.5px,#ffd000 32.5px,#f4f802 33.5px,#97ff60 35.5px,#53ffa4 37.5px,#46ffb1 38.5px,#46ffb1 39.5px,#6dff8a 41.5px,#c1ff36 44.5px,#d7ff1f 46.5px,#caff2c 48.5px,#77ff80 53.5px,#63ff94 55.5px,#63ff94 59.5px,#83ff73 62.5px,#caff2c 66.5px,#d7ff1f 68.5px,#c1ff36 70.5px,#56ffa0 74.5px,#46ffb1 75.5px,#46ffb1 76.5px,#53ffa4 77.5px,#97ff60 79.5px,#f4f802 81.5px,#ffd000 82.5px,#ffb900 83.5px,#ffb900 84.5px,#ffcc00 85.5px,#fbf100 86.5px,#d4ff23 87.5px,#8aff6d 89.5px,#60ff97 91.5px,#56ffa0 93.5px,#66ff90 98.5px,#66ff90 102.5px,#77ff80 104.5px,#a4ff53 106.5px,#eeff09 108.5px,#ffc800 109.5px,#ff4700 111.5px,#f60b00 112.5px,#bb0000 114px)"></i><i style="background:linear-gradient(90deg,#bb0000 0px,#bf0000 1.5px,#e80000 2.5px,#ff3800 3.5px,#ffbd00 5.5px,#f1fc06 6.5px,#97ff60 8.5px,#7aff7d 9.5px,#5dff9a 11.5px,#60ff97 15.5px,#63ff94 18.5px,#4dffaa 22.5px,#5aff9d 24.5px,#8dff6a 26.5px,#e1ff16 28.5px,#ffde00 29.5px,#ffb900 30.5px,#ffa300 31.5px,#ffa700 32.5px,#ffbd00 33.5px,#ffe200 34.5px,#e1ff16 35.5px,#9dff5a 37.5px,#87ff70 39.5px,#a0ff56 41.5px,#d7ff1f 44.5px,#dbff1c 46.5px,#c1ff36 48.5px,#73ff83 52.5px,#5dff9a 55.5px,#5dff9a 59.5px,#73ff83 62.5px,#d1ff26 67.5px,#deff19 69.5px,#c7ff30 71.5px,#90ff66 74.5px,#87ff70 75.5px,#9dff5a 77.5px,#e1ff16 79.5px,#ffe200 80.5px,#ffbd00 81.5px,#ffa700 82.5px,#ffa300 83.5px,#ffb900 84.5px,#ffde00 85.5px,#e1ff16 86.5px,#8dff6a 88.5px,#5aff9d 90.5px,#4dffaa 92.5px,#63ff94 97.5px,#5aff9d 102.5px,#6aff8d 104.5px,#7aff7d 105.5px,#97ff60 106.5px,#f1fc06 108.5px,#ffbd00 109.5px,#ff3800 111.5px,#e80000 112.5px,#bf0000 114px)"></i><i style="background:linear-gradient(90deg,#ff4300 0px,#ff3400 1.5px,#ff3f00 2.5px,#ff6400 3.5px,#ffd700 5.5px,#deff19 6.5px,#87ff70 8.5px,#6aff8d 9.5px,#50ffa7 11.5px,#63ff94 17.5px,#4dffaa 21.5px,#40ffb7 23.5px,#43ffb4 24.5px,#6aff8d 26.5px,#beff39 28.5px,#eeff09 29.5px,#ffcc00 30.5px,#ffa300 31.5px,#ff8900 32.5px,#ff8600 33.5px,#ff9100 34.5px,#ffea00 37.5px,#eeff09 38.5px,#e1ff16 39.5px,#f1fc06 44.5px,#dbff1c 46.5px,#73ff83 51.5px,#5dff9a 53.5px,#56ffa0 59.5px,#66ff90 62.5px,#83ff73 64.5px,#dbff1c 68.5px,#f1fc06 70.5px,#e1ff16 75.5px,#eeff09 76.5px,#ffea00 77.5px,#ff9100 80.5px,#ff8600 81.5px,#ff8900 82.5px,#ffa300 83.5px,#ffcc00 84.5px,#eeff09 85.5px,#90ff66 87.5px,#6aff8d 88.5px,#43ffb4 90.5px,#43ffb4 92.5px,#60ff97 96.5px,#5dff9a 99.5px,#50ffa7 103.5px,#6aff8d 105.5px,#adff49 107.5px,#deff19 108.5px,#ffd700 109.5px,#ff6400 111.5px,#ff3f00 112.5px,#ff3400 114px)"></i><i style="background:linear-gradient(90deg,#feed00 0px,#ffc800 1.5px,#ffc100 2.5px,#ffcc00 3.5px,#ffea00 4.5px,#deff19 5.5px,#90ff66 7.5px,#5dff9a 9.5px,#49ffad 11.5px,#60ff97 18.5px,#3cffba 22.5px,#30ffc7 24.5px,#46ffb1 26.5px,#63ff94 27.5px,#c1ff36 29.5px,#fbf100 30.5px,#ff8200 32.5px,#ff5d00 33.5px,#ff4e00 34.5px,#ff4e00 35.5px,#ff6c00 37.5px,#ffa300 40.5px,#ffd000 43.5px,#ffe200 44.5px,#eeff09 45.5px,#80ff77 49.5px,#5dff9a 51.5px,#50ffa7 53.5px,#53ffa4 62.5px,#6dff8a 64.5px,#9aff5d 66.5px,#eeff09 69.5px,#ffe200 70.5px,#ffb200 73.5px,#ff8200 76.5px,#ff5900 78.5px,#ff4e00 79.5px,#ff4e00 80.5px,#ff5d00 81.5px,#ff8200 82.5px,#fbf100 84.5px,#c1ff36 85.5px,#63ff94 87.5px,#46ffb1 88.5px,#30ffc7 90.5px,#3cffba 92.5px,#60ff97 96.5px,#53ffa4 100.5px,#49ffad 103.5px,#5dff9a 105.5px,#90ff66 107.5px,#deff19 109.5px,#ffea00 110.5px,#ffcc00 111.5px,#ffc100 112.5px,#ffc800 114px)"></i><i style="background:linear-gradient(90deg,#53ffa4 0px,#97ff60 2.5px,#a0ff56 4.5px,#83ff73 6.5px,#60ff97 8.5px,#4dffaa 10.5px,#56ffa0 14.5px,#60ff97 18.5px,#49ffad 21.5px,#23ffd4 24.5px,#1cffdb 25.5px,#23ffd4 26.5px,#36ffc1 27.5px,#5aff9d 28.5px,#c7ff30 30.5px,#ffde00 31.5px,#ff9400 32.5px,#ff5500 33.5px,#ff2500 34.5px,#f10800 35.5px,#df0000 36.5px,#e40000 37.5px,#f60b00 38.5px,#ff3f00 40.5px,#ffab00 43.5px,#ffd700 44.5px,#e7ff0f 45.5px,#7dff7a 48.5px,#53ffa4 50.5px,#43ffb4 52.5px,#53ffa4 57.5px,#43ffb4 62.5px,#53ffa4 64.5px,#7dff7a 66.5px,#e7ff0f 69.5px,#ffd700 70.5px,#ff8200 72.5px,#ff2200 75.5px,#f60b00 76.5px,#e40000 77.5px,#df0000 78.5px,#f10800 79.5px,#ff2500 80.5px,#ff5500 81.5px,#ff9400 82.5px,#ffde00 83.5px,#c7ff30 84.5px,#5aff9d 86.5px,#36ffc1 87.5px,#23ffd4 88.5px,#1cffdb 89.5px,#39ffbe 92.5px,#53ffa4 94.5px,#60ff97 97.5px,#4dffaa 103.5px,#56ffa0 105.5px,#70ff87 107.5px,#97ff60 109.5px,#a0ff56 111.5px,#97ff60 112.5px,#7aff7d 114px)"></i><i style="background:linear-gradient(90deg,#008cff 0px,#00bcff 1.5px,#06ecf1 2.5px,#26ffd1 3.5px,#4dffaa 5.5px,#5aff9d 10.5px,#66ff90 17.5px,#5aff9d 20.5px,#1cffdb 24.5px,#0cf4eb 26.5px,#13fce4 27.5px,#2cffca 28.5px,#53ffa4 29.5px,#8dff6a 30.5px,#d4ff23 31.5px,#ffc800 32.5px,#ff7300 33.5px,#ff2d00 34.5px,#d60000 35.5px,#ad0000 36.5px,#9b0000 37.5px,#9f0000 38.5px,#bb0000 39.5px,#e80000 40.5px,#ff3000 41.5px,#ffe200 44.5px,#d1ff26 45.5px,#7aff7d 47.5px,#5aff9d 48.5px,#39ffbe 50.5px,#36ffc1 52.5px,#50ffa7 56.5px,#4dffaa 59.5px,#36ffc1 62.5px,#39ffbe 64.5px,#5aff9d 66.5px,#a0ff56 68.5px,#d1ff26 69.5px,#ffe200 70.5px,#ff3000 73.5px,#e80000 74.5px,#bb0000 75.5px,#9f0000 76.5px,#9b0000 77.5px,#ad0000 78.5px,#d60000 79.5px,#ff2d00 80.5px,#ff7300 81.5px,#ffc800 82.5px,#d4ff23 83.5px,#8dff6a 84.5px,#53ffa4 85.5px,#2cffca 86.5px,#13fce4 87.5px,#0cf4eb 88.5px,#1cffdb 90.5px,#5aff9d 94.5px,#66ff90 98.5px,#4dffaa 109.5px,#26ffd1 111.5px,#06ecf1 112.5px,#00bcff 114px)"></i><i style="background:linear-gradient(90deg,#0008ff 0px,#0060ff 2.5px,#00ccff 4.5px,#0ff8e7 5.5px,#46ffb1 7.5px,#63ff94 9.5px,#73ff83 13.5px,#70ff87 18.5px,#5aff9d 21.5px,#13fce4 25.5px,#00e4f8 27.5px,#09f0ee 28.5px,#26ffd1 29.5px,#53ffa4 30.5px,#d7ff1f 32.5px,#ffc100 33.5px,#ff6c00 34.5px,#ff2500 35.5px,#d10000 36.5px,#ad0000 37.5px,#a80000 38.5px,#bf0000 39.5px,#ed0400 40.5px,#ff3b00 41.5px,#ffc100 43.5px,#e7ff0f 44.5px,#7aff7d 46.5px,#39ffbe 48.5px,#26ffd1 50.5px,#43ffb4 54.5px,#53ffa4 57.5px,#43ffb4 60.5px,#26ffd1 64.5px,#39ffbe 66.5px,#7aff7d 68.5px,#e7ff0f 70.5px,#ffc100 71.5px,#ff3b00 73.5px,#ed0400 74.5px,#bf0000 75.5px,#a80000 76.5px,#ad0000 77.5px,#d10000 78.5px,#ff2500 79.5px,#ff6c00 80.5px,#ffc100 81.5px,#d7ff1f 82.5px,#53ffa4 84.5px,#26ffd1 85.5px,#09f0ee 86.5px,#00e4f8 87.5px,#13fce4 89.5px,#5aff9d 93.5px,#73ff83 97.5px,#70ff87 103.5px,#56ffa0 106.5px,#2cffca 108.5px,#0ff8e7 109.5px,#00ccff 110.5px,#0030ff 114px)"></i><i style="background:linear-gradient(90deg,#0000df 0px,#0000fa 1.5px,#0018ff 2.5px,#00c8ff 5.5px,#16ffe1 6.5px,#5aff9d 8.5px,#80ff77 10.5px,#8dff6a 12.5px,#87ff70 17.5px,#6dff8a 21.5px,#50ffa7 23.5px,#0ff8e7 26.5px,#00e4f8 27.5px,#00e0fb 28.5px,#06ecf1 29.5px,#1cffdb 30.5px,#46ffb1 31.5px,#c4ff33 33.5px,#ffe200 34.5px,#ff9c00 35.5px,#ff6000 36.5px,#ff3b00 37.5px,#ff2d00 38.5px,#ff3800 39.5px,#ff5500 40.5px,#ff8600 41.5px,#ffc100 42.5px,#ebff0c 43.5px,#80ff77 45.5px,#36ffc1 47.5px,#1cffdb 49.5px,#26ffd1 51.5px,#50ffa7 55.5px,#56ffa0 58.5px,#33ffc4 62.5px,#1fffd7 64.5px,#1cffdb 65.5px,#36ffc1 67.5px,#80ff77 69.5px,#ebff0c 71.5px,#ffc100 72.5px,#ff8600 73.5px,#ff5500 74.5px,#ff3800 75.5px,#ff2d00 76.5px,#ff3b00 77.5px,#ff6000 78.5px,#ff9c00 79.5px,#ffe200 80.5px,#c4ff33 81.5px,#46ffb1 83.5px,#1cffdb 84.5px,#06ecf1 85.5px,#00e0fb 86.5px,#00e4f8 87.5px,#0ff8e7 88.5px,#60ff97 92.5px,#7dff7a 95.5px,#8dff6a 101.5px,#8aff6d 103.5px,#70ff87 105.5px,#3cffba 107.5px,#16ffe1 108.5px,#00c8ff 109.5px,#0018ff 112.5px,#0000fa 114px)"></i><i style="background:linear-gradient(90deg,#0000ff 0px,#0000ff 1.5px,#0018ff 2.5px,#007cff 4.5px,#00b8ff 5.5px,#0cf4eb 6.5px,#39ffbe 7.5px,#7aff7d 9.5px,#9aff5d 11.5px,#a4ff53 13.5px,#8dff6a 20.5px,#6dff8a 23.5px,#16ffe1 27.5px,#02e8f4 28.5px,#00dcfe 29.5px,#00dcfe 30.5px,#09f0ee 31.5px,#26ffd1 32.5px,#deff19 36.5px,#feed00 37.5px,#ffdb00 38.5px,#ffd700 39.5px,#ffea00 40.5px,#e7ff0f 41.5px,#50ffa7 45.5px,#26ffd1 47.5px,#23ffd4 49.5px,#5dff9a 55.5px,#60ff97 58.5px,#4dffaa 61.5px,#23ffd4 65.5px,#26ffd1 67.5px,#50ffa7 69.5px,#e7ff0f 73.5px,#ffea00 74.5px,#ffd700 75.5px,#ffdb00 76.5px,#feed00 77.5px,#deff19 78.5px,#26ffd1 82.5px,#09f0ee 83.5px,#00dcfe 84.5px,#00dcfe 85.5px,#02e8f4 86.5px,#16ffe1 87.5px,#6dff8a 91.5px,#8dff6a 94.5px,#a4ff53 101.5px,#9aff5d 103.5px,#7aff7d 105.5px,#39ffbe 107.5px,#0cf4eb 108.5px,#00b8ff 109.5px,#0048ff 111.5px,#0018ff 112.5px,#0000ff 114px)"></i><i style="background:linear-gradient(90deg,#004cff 0px,#0048ff 1.5px,#0054ff 2.5px,#006cff 3.5px,#00c4ff 5.5px,#0ff8e7 6.5px,#7aff7d 9.5px,#a0ff56 11.5px,#b1ff46 13.5px,#a4ff53 20.5px,#8dff6a 23.5px,#6aff8d 25.5px,#19ffde 28.5px,#00e4f8 29.5px,#00c8ff 30.5px,#00b8ff 31.5px,#00b8ff 32.5px,#00c4ff 33.5px,#00dcfe 34.5px,#13fce4 35.5px,#5aff9d 38.5px,#66ff90 40.5px,#46ffb1 43.5px,#2cffca 45.5px,#2cffca 48.5px,#6aff8d 54.5px,#73ff83 58.5px,#5aff9d 62.5px,#2cffca 66.5px,#2cffca 69.5px,#60ff97 73.5px,#63ff94 75.5px,#46ffb1 77.5px,#13fce4 79.5px,#00dcfe 80.5px,#00c4ff 81.5px,#00b8ff 82.5px,#00b8ff 83.5px,#00c8ff 84.5px,#00e4f8 85.5px,#19ffde 86.5px,#6aff8d 89.5px,#8dff6a 91.5px,#a7ff50 95.5px,#b1ff46 101.5px,#a0ff56 103.5px,#7aff7d 105.5px,#0ff8e7 108.5px,#00c4ff 109.5px,#006cff 111.5px,#0054ff 112.5px,#0048ff 114px)"></i><i style="background:linear-gradient(90deg,#00c0ff 0px,#00b0ff 1.5px,#00acff 2.5px,#00b4ff 3.5px,#00e4f8 5.5px,#19ffde 6.5px,#83ff73 10.5px,#aaff4d 13.5px,#b4ff43 19.5px,#a4ff53 23.5px,#8aff6d 25.5px,#56ffa0 27.5px,#0ff8e7 29.5px,#00ccff 30.5px,#007cff 32.5px,#0054ff 34.5px,#005cff 36.5px,#00e0fb 43.5px,#19ffde 45.5px,#70ff87 51.5px,#8aff6d 55.5px,#87ff70 60.5px,#66ff90 64.5px,#19ffde 69.5px,#00e0fb 71.5px,#005cff 78.5px,#0054ff 80.5px,#007cff 82.5px,#00ccff 84.5px,#0ff8e7 85.5px,#56ffa0 87.5px,#8aff6d 89.5px,#a4ff53 91.5px,#b4ff43 95.5px,#aaff4d 101.5px,#83ff73 104.5px,#19ffde 108.5px,#00e4f8 109.5px,#00b4ff 111.5px,#00acff 112.5px,#00b0ff 114px)"></i><i style="background:linear-gradient(90deg,#40ffb7 0px,#19ffde 3.5px,#1fffd7 5.5px,#5aff9d 9.5px,#8aff6d 12.5px,#a7ff50 16.5px,#b1ff46 22.5px,#a7ff50 24.5px,#8aff6d 26.5px,#4dffaa 28.5px,#26ffd1 29.5px,#00dcfe 30.5px,#0034ff 33.5px,#000cff 34.5px,#0000ff 35.5px,#0000ed 36.5px,#0000ed 37.5px,#0000ff 38.5px,#0004ff 39.5px,#004cff 41.5px,#00d0ff 44.5px,#0ff8e7 45.5px,#66ff90 48.5px,#8aff6d 50.5px,#a4ff53 54.5px,#a0ff56 61.5px,#8aff6d 64.5px,#66ff90 66.5px,#0ff8e7 69.5px,#00d0ff 70.5px,#0024ff 74.5px,#0004ff 75.5px,#0000ff 76.5px,#0000ed 77.5px,#0000ed 78.5px,#0000ff 79.5px,#000cff 80.5px,#0034ff 81.5px,#00dcfe 84.5px,#26ffd1 85.5px,#70ff87 87.5px,#9aff5d 89.5px,#adff49 91.5px,#b1ff46 95.5px,#9dff5a 100.5px,#6dff8a 104.5px,#29ffce 108.5px,#19ffde 110.5px,#23ffd4 112.5px,#30ffc7 114px)"></i><i style="background:linear-gradient(90deg,#8aff6d 0px,#49ffad 4.5px,#3cffba 6.5px,#49ffad 9.5px,#87ff70 15.5px,#a4ff53 21.5px,#a4ff53 24.5px,#8dff6a 26.5px,#5dff9a 28.5px,#39ffbe 29.5px,#0cf4eb 30.5px,#00b8ff 31.5px,#003cff 33.5px,#0008ff 34.5px,#0000c8 36.5px,#0000bb 37.5px,#0000bf 38.5px,#0000d6 39.5px,#0000ff 40.5px,#001cff 41.5px,#00c4ff 44.5px,#13fce4 45.5px,#60ff97 47.5px,#90ff66 49.5px,#adff49 51.5px,#b7ff40 55.5px,#b4ff43 62.5px,#a0ff56 64.5px,#7dff7a 66.5px,#3cffba 68.5px,#13fce4 69.5px,#00c4ff 70.5px,#001cff 73.5px,#0000ff 74.5px,#0000d6 75.5px,#0000bf 76.5px,#0000bb 77.5px,#0000c8 78.5px,#0008ff 80.5px,#0078ff 82.5px,#00b8ff 83.5px,#0cf4eb 84.5px,#39ffbe 85.5px,#7aff7d 87.5px,#9aff5d 89.5px,#a7ff50 91.5px,#94ff63 97.5px,#77ff80 101.5px,#43ffb4 106.5px,#3cffba 108.5px,#49ffad 110.5px,#77ff80 114px)"></i><i style="background:linear-gradient(90deg,#b7ff40 0px,#53ffa4 6.5px,#43ffb4 9.5px,#56ffa0 13.5px,#87ff70 20.5px,#8dff6a 24.5px,#80ff77 26.5px,#60ff97 28.5px,#23ffd4 30.5px,#00e0fb 31.5px,#0040ff 34.5px,#0014ff 35.5px,#0000ff 36.5px,#0000ed 37.5px,#0000e8 38.5px,#0004ff 40.5px,#0060ff 42.5px,#00d0ff 44.5px,#1cffdb 45.5px,#66ff90 47.5px,#97ff60 49.5px,#b1ff46 51.5px,#beff39 56.5px,#b7ff40 62.5px,#a7ff50 64.5px,#80ff77 66.5px,#43ffb4 68.5px,#1cffdb 69.5px,#00d0ff 70.5px,#0060ff 72.5px,#0004ff 74.5px,#0000e8 76.5px,#0000ed 77.5px,#0000ff 78.5px,#0014ff 79.5px,#0074ff 81.5px,#00e0fb 83.5px,#23ffd4 84.5px,#60ff97 86.5px,#80ff77 88.5px,#8dff6a 90.5px,#87ff70 94.5px,#43ffb4 104.5px,#49ffad 107.5px,#73ff83 110.5px,#aaff4d 114px)"></i><i style="background:linear-gradient(90deg,#ceff29 0px,#a4ff53 3.5px,#50ffa7 8.5px,#40ffb7 11.5px,#56ffa0 17.5px,#70ff87 23.5px,#66ff90 27.5px,#50ffa7 29.5px,#23ffd4 31.5px,#06ecf1 32.5px,#00c4ff 33.5px,#0078ff 35.5px,#0048ff 37.5px,#0040ff 38.5px,#0058ff 40.5px,#0094ff 42.5px,#00c0ff 43.5px,#02e8f4 44.5px,#26ffd1 45.5px,#60ff97 47.5px,#8aff6d 49.5px,#a7ff50 52.5px,#adff49 60.5px,#97ff60 64.5px,#77ff80 66.5px,#46ffb1 68.5px,#26ffd1 69.5px,#02e8f4 70.5px,#00c0ff 71.5px,#0094ff 72.5px,#0058ff 74.5px,#0040ff 76.5px,#0048ff 77.5px,#0078ff 79.5px,#00c4ff 81.5px,#06ecf1 82.5px,#23ffd4 83.5px,#50ffa7 85.5px,#6dff8a 88.5px,#6dff8a 92.5px,#40ffb7 102.5px,#46ffb1 105.5px,#6dff8a 108.5px,#c4ff33 114px)"></i><i style="background:linear-gradient(90deg,#ceff29 0px,#b4ff43 3.5px,#56ffa0 9.5px,#3cffba 13.5px,#50ffa7 21.5px,#5dff9a 28.5px,#49ffad 31.5px,#1cffdb 34.5px,#09f0ee 35.5px,#00d0ff 37.5px,#00c0ff 39.5px,#00d0ff 41.5px,#00e0fb 42.5px,#1fffd7 44.5px,#70ff87 49.5px,#8aff6d 53.5px,#90ff66 59.5px,#7aff7d 64.5px,#43ffb4 68.5px,#1fffd7 70.5px,#00e0fb 72.5px,#00c4ff 74.5px,#00c4ff 76.5px,#00e0fb 78.5px,#09f0ee 79.5px,#1cffdb 80.5px,#53ffa4 84.5px,#5dff9a 88.5px,#3cffba 101.5px,#56ffa0 105.5px,#c1ff36 112.5px,#c7ff30 114px)"></i><i style="background:linear-gradient(90deg,#c4ff33 0px,#adff49 4.5px,#4dffaa 12.5px,#40ffb7 16.5px,#4dffaa 24.5px,#6dff8a 31.5px,#63ff94 35.5px,#40ffb7 40.5px,#3cffba 44.5px,#6aff8d 54.5px,#66ff90 61.5px,#39ffbe 71.5px,#43ffb4 75.5px,#6dff8a 81.5px,#66ff90 85.5px,#43ffb4 93.5px,#43ffb4 100.5px,#60ff97 104.5px,#b7ff40 111.5px,#c1ff36 114px)"></i><i style="background:linear-gradient(90deg,#b4ff43 0px,#adff49 4.5px,#8dff6a 8.5px,#5dff9a 13.5px,#49ffad 17.5px,#4dffaa 23.5px,#6dff8a 28.5px,#9dff5a 33.5px,#a0ff56 37.5px,#56ffa0 45.5px,#46ffb1 49.5px,#49ffad 67.5px,#70ff87 72.5px,#a0ff56 77.5px,#9dff5a 81.5px,#56ffa0 89.5px,#46ffb1 95.5px,#56ffa0 100.5px,#80ff77 105.5px,#a7ff50 109.5px,#b4ff43 114px)"></i><i style="background:linear-gradient(90deg,#a4ff53 0px,#a4ff53 6.5px,#63ff94 16.5px,#5aff9d 22.5px,#73ff83 27.5px,#c1ff36 34.5px,#caff2c 37.5px,#c1ff36 39.5px,#56ffa0 47.5px,#3cffba 51.5px,#3cffba 63.5px,#56ffa0 67.5px,#8aff6d 71.5px,#c1ff36 75.5px,#caff2c 78.5px,#baff3c 81.5px,#73ff83 87.5px,#5aff9d 92.5px,#63ff94 98.5px,#a4ff53 108.5px,#a7ff50 114px)"></i></div>
<svg style="left:215px;top:199px" width="114" height="143"><path d="M-80.04,118.42 L-70.06,108.30 L-62.88,108.30 L-52.90,118.42 L-44.62,118.42 L-34.64,108.30 L-27.46,108.30 L-17.48,118.42 L-9.20,118.42 L0.78,108.30 L7.96,108.30 L17.94,118.42 L26.22,118.42 L36.20,108.30 L43.38,108.30 L53.36,118.42 L61.64,118.42 L71.62,108.30 L78.80,108.30 L88.78,118.42 L97.06,118.42 L107.04,108.30 L114.22,108.30 L124.20,118.42 L132.48,118.42 L142.46,108.30 L149.64,108.30 L159.62,118.42 L167.90,118.42 L177.88,108.30 L185.06,108.30 L195.04,118.42" fill="none" stroke="#b8692a" stroke-width="0.9" stroke-opacity="0.9"/><circle cx="57.50" cy="26.12" r="0.55" fill="#8e44a8" fill-opacity="0.8"/></svg>
<div class="frm" style="left:215px;top:199px;width:112px;height:141px"></div>
<div class="ann" style="left:256.49px;top:215.24px">Source/Receiver</div>
<div class="ann" style="left:217.3px;top:298.779px">Soil surface</div>
<div class="ttl" style="left:272px;top:190.4px">Centre frequency = 250 MHz</div>
<div class="yt" style="left:174.5px;top:211.14px">2.0</div>
<b class="tk" style="left:213px;top:214.04px;width:2px;height:0.8px"></b>
<div class="yt" style="left:174.5px;top:234.355px">1.5</div>
<b class="tk" style="left:213px;top:237.255px;width:2px;height:0.8px"></b>
<div class="yt" style="left:174.5px;top:257.57px">1.0</div>
<b class="tk" style="left:213px;top:260.47px;width:2px;height:0.8px"></b>
<div class="yt" style="left:174.5px;top:280.785px">0.5</div>
<b class="tk" style="left:213px;top:283.685px;width:2px;height:0.8px"></b>
<div class="yt" style="left:174.5px;top:304px">0.0</div>
<b class="tk" style="left:213px;top:306.9px;width:2px;height:0.8px"></b>
<div class="yt" style="left:174.5px;top:327.215px">−0.5</div>
<b class="tk" style="left:213px;top:330.115px;width:2px;height:0.8px"></b>
<div class="xt" style="left:206.5px;top:344.1px">−1.0</div>
<b class="tk" style="left:226.1px;top:342px;width:0.8px;height:1.8px"></b>
<div class="xt" style="left:229.5px;top:344.1px">−0.5</div>
<b class="tk" style="left:249.1px;top:342px;width:0.8px;height:1.8px"></b>
<div class="xt" style="left:252.5px;top:344.1px">0.0</div>
<b class="tk" style="left:272.1px;top:342px;width:0.8px;height:1.8px"></b>
<div class="xt" style="left:275.5px;top:344.1px">0.5</div>
<b class="tk" style="left:295.1px;top:342px;width:0.8px;height:1.8px"></b>
<div class="xt" style="left:298.5px;top:344.1px">1.0</div>
<b class="tk" style="left:318.1px;top:342px;width:0.8px;height:1.8px"></b>
<div class="yl" style="left:181.2px;top:265.4px"><i>y</i> (m)</div>
<div class="xl" style="left:252.5px;top:353.5px"><i>x</i> (m)</div>
<div class="cap" style="left:256px;top:370px">(e)</div>
<div class="cb" style="left:338px;top:199px;height:141px;background-image:linear-gradient(180deg,#800000 0.00%,#9f0000 3.12%,#c40000 6.25%,#e80000 9.38%,#ff1e00 12.50%,#ff3b00 15.62%,#ff5900 18.75%,#ff7700 21.88%,#ff9400 25.00%,#ffb200 28.12%,#ffd000 31.25%,#feed00 34.38%,#e4ff13 37.50%,#caff2c 40.62%,#b1ff46 43.75%,#97ff60 46.88%,#7dff7a 50.00%,#63ff94 53.12%,#49ffad 56.25%,#30ffc7 59.38%,#16ffe1 62.50%,#00e0fb 65.62%,#00c0ff 68.75%,#00a0ff 71.88%,#0080ff 75.00%,#0060ff 78.12%,#0040ff 81.25%,#0020ff 84.38%,#0000ff 87.50%,#0000ed 90.62%,#0000c8 93.75%,#0000a4 96.88%,#000080 100.00%)"></div>
<b class="tk" style="left:346px;top:210.933px;width:2px;height:0.8px"></b>
<div class="ct" style="left:349.5px;top:207.233px">100</div>
<b class="tk" style="left:346px;top:240.517px;width:2px;height:0.8px"></b>
<div class="ct" style="left:349.5px;top:236.817px">50</div>
<b class="tk" style="left:346px;top:270.1px;width:2px;height:0.8px"></b>
<div class="ct" style="left:349.5px;top:266.4px">0</div>
<b class="tk" style="left:346px;top:299.683px;width:2px;height:0.8px"></b>
<div class="ct" style="left:349.5px;top:295.983px">−50</div>
<b class="tk" style="left:346px;top:329.267px;width:2px;height:0.8px"></b>
<div class="ct" style="left:349.5px;top:325.567px">−100</div>
<div class="fld" style="left:398px;top:199px;width:115px;height:143px"><i style="background:linear-gradient(90deg,#7aff7d 0px,#7aff7d 115px)"></i><i style="background:linear-gradient(90deg,#7aff7d 0px,#7aff7d 115px)"></i><i style="background:linear-gradient(90deg,#7aff7d 0px,#7aff7d 115px)"></i><i style="background:linear-gradient(90deg,#7aff7d 0px,#7aff7d 115px)"></i><i style="background:linear-gradient(90deg,#7aff7d 0px,#7aff7d 115px)"></i><i style="background:linear-gradient(90deg,#7aff7d 0px,#7aff7d 115px)"></i><i style="background:linear-gradient(90deg,#7aff7d 0px,#77ff80 91.5px,#7aff7d 115px)"></i><i style="background:linear-gradient(90deg,#7aff7d 0px,#73ff83 84.5px,#7aff7d 115px)"></i><i style="background:linear-gradient(90deg,#7aff7d 0px,#70ff87 67.5px,#7aff7d 115px)"></i><i style="background:linear-gradient(90deg,#7aff7d 0px,#6aff8d 66.5px,#7aff7d 115px)"></i><i style="background:linear-gradient(90deg,#7aff7d 0px,#63ff94 62.5px,#7aff7d 115px)"></i><i style="background:linear-gradient(90deg,#7aff7d 0px,#5dff9a 60.5px,#7aff7d 115px)"></i><i style="background:linear-gradient(90deg,#7aff7d 0px,#56ffa0 59.5px,#7aff7d 115px)"></i><i style="background:linear-gradient(90deg,#77ff80 0px,#50ffa7 59.5px,#77ff80 115px)"></i><i style="background:linear-gradient(90deg,#77ff80 0px,#49ffad 58.5px,#77ff80 115px)"></i><i style="background:linear-gradient(90deg,#73ff83 0px,#46ffb1 57.5px,#6dff8a 109.5px,#73ff83 115px)"></i><i style="background:linear-gradient(90deg,#70ff87 0px,#5dff9a 24.5px,#49ffad 48.5px,#43ffb4 61.5px,#5dff9a 90.5px,#6dff8a 112.5px,#70ff87 115px)"></i><i style="background:linear-gradient(90deg,#6dff8a 0px,#5dff9a 20.5px,#56ffa0 38.5px,#46ffb1 56.5px,#4dffaa 70.5px,#5dff9a 90.5px,#63ff94 107.5px,#6dff8a 115px)"></i><i style="background:linear-gradient(90deg,#6aff8d 0px,#5dff9a 14.5px,#5dff9a 36.5px,#4dffaa 56.5px,#53ffa4 71.5px,#60ff97 90.5px,#60ff97 108.5px,#6aff8d 115px)"></i><i style="background:linear-gradient(90deg,#66ff90 0px,#5aff9d 13.5px,#66ff90 31.5px,#56ffa0 61.5px,#66ff90 86.5px,#5aff9d 106.5px,#63ff94 115px)"></i><i style="background:linear-gradient(90deg,#60ff97 0px,#5aff9d 13.5px,#6dff8a 30.5px,#6aff8d 91.5px,#5aff9d 106.5px,#60ff97 115px)"></i><i style="background:linear-gradient(90deg,#5aff9d 0px,#5aff9d 12.5px,#77ff80 28.5px,#80ff77 62.5px,#70ff87 92.5px,#56ffa0 108.5px,#5aff9d 115px)"></i><i style="background:linear-gradient(90deg,#56ffa0 0px,#56ffa0 8.5px,#80ff77 27.5px,#90ff66 46.5px,#9dff5a 58.5px,#83ff73 82.5px,#73ff83 95.5px,#53ffa4 108.5px,#56ffa0 115px)"></i><i style="background:linear-gradient(90deg,#50ffa7 0px,#5aff9d 9.5px,#8aff6d 26.5px,#9dff5a 42.5px,#baff3c 56.5px,#b1ff46 65.5px,#90ff66 81.5px,#77ff80 97.5px,#50ffa7 111.5px,#50ffa7 115px)"></i><i style="background:linear-gradient(90deg,#4dffaa 0px,#5dff9a 8.5px,#8dff6a 23.5px,#a7ff50 39.5px,#d7ff1f 54.5px,#d1ff26 63.5px,#9aff5d 81.5px,#80ff77 97.5px,#50ffa7 111.5px,#4dffaa 115px)"></i><i style="background:linear-gradient(90deg,#4dffaa 0px,#5aff9d 6.5px,#90ff66 20.5px,#aaff4d 36.5px,#ebff0c 52.5px,#f4f802 59.5px,#d4ff23 69.5px,#a4ff53 80.5px,#87ff70 98.5px,#4dffaa 113.5px,#4dffaa 115px)"></i><i style="background:linear-gradient(90deg,#4dffaa 0px,#70ff87 9.5px,#90ff66 17.5px,#a4ff53 32.5px,#c4ff33 40.5px,#f1fc06 48.5px,#ffe600 53.5px,#ffe200 59.5px,#feed00 64.5px,#ebff0c 68.5px,#a7ff50 81.5px,#9aff5d 90.5px,#8aff6d 100.5px,#4dffaa 115px)"></i><i style="background:linear-gradient(90deg,#50ffa7 0px,#94ff63 15.5px,#9dff5a 30.5px,#baff3c 37.5px,#eeff09 45.5px,#ffe600 49.5px,#ffd000 57.5px,#ffde00 64.5px,#f8f500 68.5px,#e4ff13 71.5px,#a4ff53 82.5px,#97ff60 93.5px,#90ff66 100.5px,#6aff8d 109.5px,#53ffa4 115px)"></i><i style="background:linear-gradient(90deg,#56ffa0 0px,#94ff63 12.5px,#97ff60 20.5px,#97ff60 30.5px,#c1ff36 38.5px,#f1fc06 45.5px,#ffe600 48.5px,#ffcc00 55.5px,#ffd300 62.5px,#fbf100 68.5px,#ebff0c 71.5px,#a0ff56 82.5px,#94ff63 88.5px,#97ff60 101.5px,#77ff80 109.5px,#5aff9d 115px)"></i><i style="background:linear-gradient(90deg,#63ff94 0px,#94ff63 9.5px,#9dff5a 15.5px,#8aff6d 27.5px,#9dff5a 33.5px,#f1fc06 45.5px,#ffe600 49.5px,#ffd300 56.5px,#ffe200 65.5px,#f4f802 69.5px,#dbff1c 73.5px,#9aff5d 82.5px,#8aff6d 87.5px,#94ff63 95.5px,#9dff5a 102.5px,#8aff6d 108.5px,#66ff90 115px)"></i><i style="background:linear-gradient(90deg,#70ff87 0px,#97ff60 6.5px,#a4ff53 12.5px,#7dff7a 25.5px,#83ff73 30.5px,#b7ff40 38.5px,#f1fc06 47.5px,#ffea00 54.5px,#ffea00 62.5px,#f4f802 67.5px,#deff19 71.5px,#87ff70 84.5px,#7dff7a 90.5px,#a4ff53 103.5px,#94ff63 109.5px,#77ff80 115px)"></i><i style="background:linear-gradient(90deg,#83ff73 0px,#a7ff50 6.5px,#aaff4d 11.5px,#73ff83 23.5px,#77ff80 29.5px,#d4ff23 44.5px,#e7ff0f 52.5px,#e7ff0f 63.5px,#d1ff26 71.5px,#7aff7d 85.5px,#70ff87 90.5px,#8dff6a 97.5px,#aaff4d 104.5px,#a7ff50 109.5px,#8aff6d 115px)"></i><i style="background:linear-gradient(90deg,#9aff5d 0px,#b7ff40 6.5px,#adff49 11.5px,#6dff8a 22.5px,#66ff90 26.5px,#7dff7a 32.5px,#b7ff40 41.5px,#caff2c 50.5px,#c7ff30 68.5px,#b4ff43 74.5px,#6aff8d 87.5px,#6aff8d 92.5px,#8aff6d 98.5px,#b1ff46 104.5px,#b7ff40 109.5px,#a0ff56 115px)"></i><i style="background:linear-gradient(90deg,#b4ff43 0px,#c7ff30 5.5px,#b7ff40 10.5px,#66ff90 21.5px,#60ff97 26.5px,#87ff70 34.5px,#a7ff50 41.5px,#aaff4d 49.5px,#aaff4d 66.5px,#aaff4d 72.5px,#8aff6d 80.5px,#63ff94 88.5px,#63ff94 92.5px,#83ff73 98.5px,#baff3c 105.5px,#c7ff30 110.5px,#b7ff40 115px)"></i><i style="background:linear-gradient(90deg,#caff2c 0px,#d7ff1f 4.5px,#baff3c 10.5px,#6dff8a 19.5px,#60ff97 23.5px,#6dff8a 29.5px,#94ff63 38.5px,#94ff63 46.5px,#83ff73 59.5px,#97ff60 75.5px,#77ff80 84.5px,#60ff97 90.5px,#6aff8d 95.5px,#9aff5d 101.5px,#d1ff26 108.5px,#d4ff23 112.5px,#ceff29 115px)"></i><i style="background:linear-gradient(90deg,#e4ff13 0px,#e4ff13 4.5px,#c4ff33 9.5px,#7aff7d 17.5px,#66ff90 21.5px,#70ff87 27.5px,#8dff6a 36.5px,#80ff77 44.5px,#66ff90 55.5px,#6dff8a 64.5px,#8dff6a 76.5px,#83ff73 83.5px,#66ff90 91.5px,#6aff8d 95.5px,#8dff6a 100.5px,#d7ff1f 108.5px,#e7ff0f 113.5px,#e4ff13 115px)"></i><i style="background:linear-gradient(90deg,#f8f500 0px,#f1fc06 3.5px,#d7ff1f 7.5px,#80ff77 16.5px,#70ff87 21.5px,#94ff63 34.5px,#7aff7d 42.5px,#53ffa4 51.5px,#4dffaa 60.5px,#66ff90 69.5px,#8dff6a 78.5px,#94ff63 82.5px,#70ff87 94.5px,#7dff7a 98.5px,#b1ff46 104.5px,#ebff0c 110.5px,#f8f500 115px)"></i><i style="background:linear-gradient(90deg,#ffe200 0px,#f8f500 3.5px,#deff19 6.5px,#90ff66 14.5px,#80ff77 18.5px,#8aff6d 23.5px,#a7ff50 31.5px,#94ff63 37.5px,#50ffa7 47.5px,#3cffba 53.5px,#3cffba 62.5px,#5dff9a 70.5px,#9dff5a 80.5px,#a7ff50 84.5px,#80ff77 95.5px,#87ff70 99.5px,#adff49 104.5px,#eeff09 110.5px,#ffe600 115px)"></i><i style="background:linear-gradient(90deg,#ffdb00 0px,#f8f500 3.5px,#eeff09 4.5px,#97ff60 13.5px,#8dff6a 17.5px,#b4ff43 25.5px,#c4ff33 30.5px,#adff49 35.5px,#49ffad 46.5px,#33ffc4 52.5px,#2cffca 60.5px,#46ffb1 68.5px,#8aff6d 76.5px,#b7ff40 81.5px,#c4ff33 85.5px,#adff49 91.5px,#90ff66 97.5px,#94ff63 101.5px,#c7ff30 107.5px,#f4f802 111.5px,#ffe600 113.5px,#ffde00 115px)"></i><i style="background:linear-gradient(90deg,#ffdb00 0px,#fbf100 2.5px,#e7ff0f 4.5px,#aaff4d 10.5px,#97ff60 14.5px,#aaff4d 19.5px,#e1ff16 26.5px,#e4ff13 30.5px,#c7ff30 34.5px,#53ffa4 44.5px,#33ffc4 49.5px,#26ffd1 57.5px,#30ffc7 65.5px,#50ffa7 70.5px,#94ff63 76.5px,#ceff29 81.5px,#e4ff13 85.5px,#deff19 89.5px,#9aff5d 99.5px,#9dff5a 103.5px,#d4ff23 109.5px,#ebff0c 111.5px,#f8f500 112.5px,#ffe200 115px)"></i><i style="background:linear-gradient(90deg,#ffe600 0px,#eeff09 2.5px,#a7ff50 9.5px,#9dff5a 13.5px,#b4ff43 17.5px,#f1fc06 23.5px,#ffea00 25.5px,#ffde00 28.5px,#feed00 31.5px,#ebff0c 33.5px,#60ff97 43.5px,#30ffc7 49.5px,#1fffd7 57.5px,#2cffca 65.5px,#46ffb1 69.5px,#8dff6a 75.5px,#f1fc06 82.5px,#ffea00 84.5px,#ffde00 87.5px,#f8f500 91.5px,#eeff09 92.5px,#aaff4d 99.5px,#9dff5a 103.5px,#b1ff46 107.5px,#e7ff0f 112.5px,#f4f802 113.5px,#feed00 115px)"></i><i style="background:linear-gradient(90deg,#f4f802 0px,#c4ff33 4.5px,#a0ff56 8.5px,#9dff5a 12.5px,#beff39 16.5px,#f4f802 20.5px,#ffea00 21.5px,#ffbd00 25.5px,#ffb600 28.5px,#ffcc00 31.5px,#ffe600 33.5px,#f4f802 34.5px,#b4ff43 38.5px,#5aff9d 44.5px,#33ffc4 48.5px,#1cffdb 55.5px,#23ffd4 63.5px,#40ffb7 68.5px,#6aff8d 72.5px,#ebff0c 80.5px,#fbf100 81.5px,#ffc800 84.5px,#ffb600 87.5px,#ffc100 90.5px,#ffe200 93.5px,#eeff09 95.5px,#baff3c 99.5px,#9dff5a 103.5px,#9dff5a 106.5px,#c7ff30 111.5px,#eeff09 115px)"></i><i style="background:linear-gradient(90deg,#deff19 0px,#a4ff53 5.5px,#94ff63 9.5px,#a0ff56 12.5px,#d1ff26 16.5px,#f1fc06 18.5px,#ffea00 19.5px,#ffa700 23.5px,#ff9400 26.5px,#ff9c00 29.5px,#ffd000 33.5px,#f8f500 35.5px,#e4ff13 36.5px,#6dff8a 43.5px,#36ffc1 48.5px,#19ffde 54.5px,#19ffde 61.5px,#30ffc7 66.5px,#73ff83 72.5px,#ebff0c 79.5px,#feed00 80.5px,#ffab00 84.5px,#ff9400 87.5px,#ff9800 90.5px,#ffcc00 94.5px,#fbf100 96.5px,#ebff0c 97.5px,#a4ff53 102.5px,#94ff63 106.5px,#9dff5a 109.5px,#d4ff23 115px)"></i><i style="background:linear-gradient(90deg,#c1ff36 0px,#94ff63 4.5px,#83ff73 7.5px,#97ff60 11.5px,#d1ff26 15.5px,#f4f802 17.5px,#ffe200 18.5px,#ff9800 22.5px,#ff7a00 25.5px,#ff7e00 28.5px,#ff9f00 31.5px,#ffea00 35.5px,#f1fc06 36.5px,#66ff90 44.5px,#2cffca 49.5px,#0ff8e7 55.5px,#0ff8e7 60.5px,#30ffc7 66.5px,#6dff8a 71.5px,#e4ff13 78.5px,#f8f500 79.5px,#ffb900 82.5px,#ff8d00 85.5px,#ff7a00 88.5px,#ff8600 91.5px,#ffae00 94.5px,#ffea00 97.5px,#eeff09 98.5px,#9dff5a 103.5px,#83ff73 107.5px,#97ff60 111.5px,#b7ff40 115px)"></i><i style="background:linear-gradient(90deg,#a0ff56 0px,#7aff7d 4.5px,#73ff83 7.5px,#97ff60 11.5px,#f1fc06 16.5px,#ffe200 17.5px,#ff9100 21.5px,#ff7300 24.5px,#ff6f00 27.5px,#ff9c00 31.5px,#ffe200 35.5px,#f8f500 36.5px,#e4ff13 37.5px,#5dff9a 45.5px,#19ffde 51.5px,#00e4f8 56.5px,#02e8f4 60.5px,#16ffe1 63.5px,#3cffba 67.5px,#94ff63 73.5px,#ebff0c 78.5px,#feed00 79.5px,#ff9400 84.5px,#ff7300 87.5px,#ff7300 91.5px,#ff9800 94.5px,#feed00 98.5px,#ebff0c 99.5px,#a0ff56 103.5px,#7dff7a 106.5px,#73ff83 109.5px,#8dff6a 113.5px,#97ff60 115px)"></i><i style="background:linear-gradient(90deg,#7dff7a 0px,#60ff97 4.5px,#6dff8a 8.5px,#aaff4d 12.5px,#e7ff0f 15.5px,#feed00 16.5px,#ff9800 20.5px,#ff7700 23.5px,#ff7300 26.5px,#ff8900 29.5px,#ffd300 34.5px,#ffe600 35.5px,#f4f802 36.5px,#b4ff43 40.5px,#36ffc1 48.5px,#13fce4 51.5px,#00e4f8 53.5px,#00d0ff 58.5px,#00e0fb 61.5px,#16ffe1 64.5px,#6aff8d 70.5px,#ebff0c 78.5px,#fbf100 79.5px,#ff9100 85.5px,#ff7700 88.5px,#ff7300 91.5px,#ff9100 94.5px,#ffc800 97.5px,#ffde00 98.5px,#f4f802 99.5px,#a0ff56 103.5px,#6aff8d 107.5px,#60ff97 110.5px,#77ff80 115px)"></i><i style="background:linear-gradient(90deg,#5dff9a 0px,#4dffaa 4.5px,#5aff9d 7.5px,#97ff60 11.5px,#eeff09 15.5px,#ffea00 16.5px,#ffab00 19.5px,#ff8900 22.5px,#ff8600 25.5px,#ffa300 29.5px,#ffea00 34.5px,#f8f500 35.5px,#e7ff0f 36.5px,#73ff83 44.5px,#19ffde 50.5px,#00e4f8 52.5px,#00c4ff 55.5px,#00bcff 57.5px,#00c8ff 60.5px,#00dcfe 62.5px,#02e8f4 63.5px,#1cffdb 65.5px,#d4ff23 77.5px,#eeff09 79.5px,#ffe200 81.5px,#ff9400 87.5px,#ff8200 90.5px,#ff8d00 93.5px,#ffb200 96.5px,#fbf100 99.5px,#e4ff13 100.5px,#7dff7a 105.5px,#56ffa0 108.5px,#4dffaa 112.5px,#5aff9d 115px)"></i><i style="background:linear-gradient(90deg,#40ffb7 0px,#36ffc1 3.5px,#46ffb1 6.5px,#83ff73 10.5px,#eeff09 15.5px,#ffea00 16.5px,#ffb600 19.5px,#ffa300 22.5px,#ffb200 26.5px,#fbf100 32.5px,#e7ff0f 34.5px,#9dff5a 41.5px,#46ffb1 47.5px,#16ffe1 50.5px,#06ecf1 51.5px,#00dcfe 52.5px,#00b8ff 55.5px,#00acff 57.5px,#00c4ff 61.5px,#00e0fb 63.5px,#19ffde 65.5px,#8aff6d 72.5px,#ceff29 78.5px,#f4f802 82.5px,#ffe200 84.5px,#ffae00 89.5px,#ffa300 92.5px,#ffa700 94.5px,#ffcc00 97.5px,#fbf100 99.5px,#e4ff13 100.5px,#6aff8d 106.5px,#43ffb4 109.5px,#36ffc1 112.5px,#3cffba 115px)"></i><i style="background:linear-gradient(90deg,#26ffd1 0px,#26ffd1 3.5px,#40ffb7 6.5px,#83ff73 10.5px,#e7ff0f 15.5px,#f8f500 16.5px,#ffd000 19.5px,#ffcc00 22.5px,#feed00 26.5px,#ebff0c 28.5px,#beff39 34.5px,#9dff5a 40.5px,#66ff90 45.5px,#16ffe1 50.5px,#06ecf1 51.5px,#00d8ff 52.5px,#00b0ff 55.5px,#00a8ff 58.5px,#00c0ff 61.5px,#00e0fb 63.5px,#1cffdb 65.5px,#7aff7d 71.5px,#a7ff50 76.5px,#d4ff23 84.5px,#eeff09 87.5px,#ffea00 89.5px,#ffcc00 93.5px,#ffd300 96.5px,#ffea00 98.5px,#f1fc06 99.5px,#56ffa0 107.5px,#30ffc7 110.5px,#23ffd4 113.5px,#26ffd1 115px)"></i><i style="background:linear-gradient(90deg,#0ff8e7 0px,#1fffd7 4.5px,#5aff9d 8.5px,#ceff29 14.5px,#f1fc06 17.5px,#f4f802 20.5px,#d4ff23 24.5px,#9aff5d 30.5px,#8dff6a 34.5px,#87ff70 41.5px,#66ff90 45.5px,#1cffdb 50.5px,#00e0fb 52.5px,#00b0ff 56.5px,#00b0ff 58.5px,#00c8ff 61.5px,#00d8ff 62.5px,#02e8f4 63.5px,#13fce4 64.5px,#6aff8d 70.5px,#87ff70 74.5px,#97ff60 84.5px,#b7ff40 88.5px,#f1fc06 94.5px,#f4f802 97.5px,#d7ff1f 100.5px,#8dff6a 104.5px,#33ffc4 109.5px,#16ffe1 112.5px,#0ff8e7 115px)"></i><i style="background:linear-gradient(90deg,#00e4f8 0px,#06ecf1 2.5px,#19ffde 4.5px,#5aff9d 8.5px,#b4ff43 13.5px,#d1ff26 16.5px,#caff2c 19.5px,#90ff66 24.5px,#60ff97 28.5px,#50ffa7 31.5px,#56ffa0 35.5px,#73ff83 41.5px,#66ff90 45.5px,#39ffbe 49.5px,#1cffdb 51.5px,#02e8f4 53.5px,#00d8ff 54.5px,#00c4ff 57.5px,#00ccff 59.5px,#00e0fb 61.5px,#13fce4 63.5px,#60ff97 69.5px,#73ff83 73.5px,#60ff97 78.5px,#50ffa7 83.5px,#5aff9d 86.5px,#94ff63 91.5px,#c7ff30 95.5px,#d1ff26 98.5px,#beff39 101.5px,#53ffa4 107.5px,#1fffd7 110.5px,#16ffe1 111.5px,#00e4f8 115px)"></i><i style="background:linear-gradient(90deg,#00d0ff 0px,#00e0fb 2.5px,#13fce4 4.5px,#9dff5a 12.5px,#b1ff46 15.5px,#adff49 17.5px,#7aff7d 21.5px,#26ffd1 26.5px,#09f0ee 29.5px,#09f0ee 32.5px,#1fffd7 35.5px,#5aff9d 41.5px,#66ff90 44.5px,#5dff9a 47.5px,#16ffe1 54.5px,#09f0ee 58.5px,#23ffd4 62.5px,#60ff97 68.5px,#63ff94 72.5px,#46ffb1 76.5px,#13fce4 81.5px,#06ecf1 84.5px,#13fce4 87.5px,#49ffad 91.5px,#9dff5a 96.5px,#b1ff46 99.5px,#adff49 101.5px,#8aff6d 104.5px,#1cffdb 110.5px,#02e8f4 112.5px,#00d4ff 115px)"></i><i style="background:linear-gradient(90deg,#00c4ff 0px,#00d8ff 2.5px,#02e8f4 3.5px,#13fce4 4.5px,#87ff70 11.5px,#97ff60 13.5px,#8dff6a 16.5px,#60ff97 19.5px,#1fffd7 22.5px,#0cf4eb 23.5px,#00dcfe 24.5px,#00b4ff 26.5px,#0098ff 28.5px,#0094ff 31.5px,#00c4ff 35.5px,#00d8ff 36.5px,#06ecf1 37.5px,#16ffe1 38.5px,#50ffa7 42.5px,#6aff8d 46.5px,#5aff9d 51.5px,#3cffba 56.5px,#43ffb4 60.5px,#6aff8d 67.5px,#63ff94 70.5px,#49ffad 73.5px,#0ff8e7 77.5px,#00e4f8 78.5px,#00b0ff 81.5px,#0098ff 83.5px,#0094ff 86.5px,#00b8ff 89.5px,#00e4f8 91.5px,#13fce4 92.5px,#7aff7d 97.5px,#97ff60 100.5px,#8dff6a 103.5px,#53ffa4 107.5px,#1cffdb 110.5px,#00e4f8 112.5px,#00c8ff 115px)"></i><i style="background:linear-gradient(90deg,#00b8ff 0px,#00d4ff 2.5px,#02e8f4 3.5px,#13fce4 4.5px,#77ff80 10.5px,#83ff73 12.5px,#80ff77 14.5px,#66ff90 16.5px,#0ff8e7 20.5px,#00d8ff 21.5px,#0068ff 25.5px,#0048ff 27.5px,#003cff 29.5px,#0044ff 31.5px,#005cff 33.5px,#00ccff 38.5px,#02e8f4 39.5px,#16ffe1 40.5px,#5aff9d 44.5px,#7aff7d 47.5px,#83ff73 52.5px,#7dff7a 58.5px,#80ff77 66.5px,#63ff94 70.5px,#23ffd4 74.5px,#0ff8e7 75.5px,#00dcfe 76.5px,#007cff 80.5px,#004cff 83.5px,#003cff 85.5px,#0044ff 87.5px,#005cff 89.5px,#00a4ff 92.5px,#00e4f8 94.5px,#19ffde 95.5px,#5dff9a 98.5px,#7aff7d 100.5px,#83ff73 103.5px,#63ff94 106.5px,#1cffdb 110.5px,#00e0fb 112.5px,#00c0ff 115px)"></i><i style="background:linear-gradient(90deg,#00b4ff 0px,#00d4ff 2.5px,#02e8f4 3.5px,#13fce4 4.5px,#5aff9d 8.5px,#77ff80 11.5px,#70ff87 13.5px,#40ffb7 16.5px,#29ffce 17.5px,#0cf4eb 18.5px,#00d4ff 19.5px,#0068ff 22.5px,#0030ff 24.5px,#0008ff 26.5px,#0000ff 28.5px,#0004ff 31.5px,#0034ff 34.5px,#00dcfe 40.5px,#13fce4 41.5px,#7aff7d 46.5px,#aaff4d 50.5px,#c1ff36 54.5px,#c1ff36 61.5px,#a7ff50 65.5px,#73ff83 69.5px,#1fffd7 73.5px,#09f0ee 74.5px,#00d0ff 75.5px,#0044ff 80.5px,#0008ff 83.5px,#0000ff 85.5px,#0000ff 88.5px,#003cff 91.5px,#00bcff 95.5px,#00e0fb 96.5px,#19ffde 97.5px,#49ffad 99.5px,#6aff8d 101.5px,#77ff80 103.5px,#63ff94 106.5px,#1fffd7 110.5px,#00e0fb 112.5px,#00bcff 115px)"></i><i style="background:linear-gradient(90deg,#00b4ff 0px,#00d8ff 2.5px,#06ecf1 3.5px,#19ffde 4.5px,#5dff9a 8.5px,#6dff8a 10.5px,#66ff90 12.5px,#49ffad 14.5px,#19ffde 16.5px,#00e4f8 17.5px,#0070ff 20.5px,#0028ff 22.5px,#000cff 23.5px,#0000ff 24.5px,#0000cd 27.5px,#0000cd 29.5px,#0000df 31.5px,#0000ff 33.5px,#000cff 34.5px,#007cff 38.5px,#00e0fb 41.5px,#16ffe1 42.5px,#97ff60 47.5px,#e4ff13 51.5px,#f1fc06 52.5px,#feed00 53.5px,#ffd700 56.5px,#ffd700 59.5px,#f8f500 62.5px,#ebff0c 63.5px,#a4ff53 67.5px,#43ffb4 71.5px,#26ffd1 72.5px,#0cf4eb 73.5px,#00d4ff 74.5px,#0034ff 79.5px,#0000ff 81.5px,#0000fa 82.5px,#0000cd 85.5px,#0000cd 87.5px,#0000df 89.5px,#0000ff 91.5px,#0058ff 94.5px,#00ccff 97.5px,#09f0ee 98.5px,#26ffd1 99.5px,#60ff97 102.5px,#6dff8a 104.5px,#63ff94 106.5px,#26ffd1 110.5px,#13fce4 111.5px,#00e4f8 112.5px,#00bcff 115px)"></i><i style="background:linear-gradient(90deg,#00b8ff 0px,#00e0fb 2.5px,#0ff8e7 3.5px,#56ffa0 7.5px,#66ff90 9.5px,#63ff94 11.5px,#46ffb1 13.5px,#16ffe1 15.5px,#00dcfe 16.5px,#001cff 21.5px,#0000ff 22.5px,#0000bf 25.5px,#0000ad 27.5px,#0000ad 29.5px,#0000d6 32.5px,#0000ff 34.5px,#000cff 35.5px,#0060ff 38.5px,#00c8ff 41.5px,#06ecf1 42.5px,#26ffd1 43.5px,#dbff1c 49.5px,#f8f500 50.5px,#ffab00 53.5px,#ff8900 55.5px,#ff7e00 58.5px,#ff9f00 61.5px,#ffc800 63.5px,#ffe600 64.5px,#ebff0c 65.5px,#39ffbe 71.5px,#19ffde 72.5px,#00e0fb 73.5px,#0054ff 77.5px,#0000ff 80.5px,#0000fa 81.5px,#0000cd 83.5px,#0000b2 85.5px,#0000a8 87.5px,#0000b6 89.5px,#0000fa 92.5px,#0008ff 93.5px,#0074ff 96.5px,#00c4ff 98.5px,#06ecf1 99.5px,#23ffd4 100.5px,#5dff9a 103.5px,#66ff90 105.5px,#5dff9a 107.5px,#1cffdb 111.5px,#09f0ee 112.5px,#00d8ff 113.5px,#00c4ff 115px)"></i><i style="background:linear-gradient(90deg,#00c4ff 0px,#00d8ff 1.5px,#09f0ee 2.5px,#1cffdb 3.5px,#53ffa4 6.5px,#66ff90 8.5px,#63ff94 10.5px,#49ffad 12.5px,#1cffdb 14.5px,#00e4f8 15.5px,#0068ff 18.5px,#0000ff 21.5px,#0000f1 22.5px,#0000bf 24.5px,#0000a8 26.5px,#0000ad 29.5px,#0000d6 32.5px,#0000ff 34.5px,#0008ff 35.5px,#0054ff 38.5px,#00dcfe 42.5px,#19ffde 43.5px,#eeff09 49.5px,#ffd700 50.5px,#ff8d00 52.5px,#ff5500 54.5px,#ff3400 56.5px,#ff3000 58.5px,#ff3800 59.5px,#ff7a00 62.5px,#ffe600 65.5px,#e1ff16 66.5px,#2cffca 71.5px,#0cf4eb 72.5px,#00ccff 73.5px,#002cff 78.5px,#0000ff 80.5px,#0000e3 82.5px,#0000b2 85.5px,#0000a8 88.5px,#0000b6 90.5px,#0000fa 93.5px,#000cff 94.5px,#0078ff 97.5px,#00ccff 99.5px,#09f0ee 100.5px,#26ffd1 101.5px,#53ffa4 103.5px,#66ff90 105.5px,#63ff94 107.5px,#4dffaa 109.5px,#16ffe1 112.5px,#02e8f4 113.5px,#00d0ff 115px)"></i><i style="background:linear-gradient(90deg,#00dcfe 0px,#0cf4eb 1.5px,#1fffd7 2.5px,#63ff94 6.5px,#70ff87 8.5px,#63ff94 10.5px,#40ffb7 12.5px,#26ffd1 13.5px,#0cf4eb 14.5px,#00ccff 15.5px,#0030ff 19.5px,#0010ff 20.5px,#0000ff 21.5px,#0000cd 24.5px,#0000bf 27.5px,#0000e3 31.5px,#0000ff 33.5px,#0004ff 34.5px,#0054ff 38.5px,#00acff 41.5px,#00d0ff 42.5px,#0ff8e7 43.5px,#53ffa4 45.5px,#ceff29 48.5px,#fbf100 49.5px,#ff6800 52.5px,#ff2200 54.5px,#f60b00 55.5px,#df0000 56.5px,#d60000 57.5px,#e80000 59.5px,#ff1300 60.5px,#ff5200 62.5px,#ffd300 65.5px,#e7ff0f 66.5px,#46ffb1 70.5px,#23ffd4 71.5px,#02e8f4 72.5px,#00c0ff 73.5px,#0064ff 76.5px,#0020ff 79.5px,#0000ff 81.5px,#0000ed 83.5px,#0000c8 86.5px,#0000bf 89.5px,#0000d1 91.5px,#0000f6 93.5px,#0000ff 94.5px,#0040ff 96.5px,#00dcfe 100.5px,#16ffe1 101.5px,#49ffad 103.5px,#66ff90 105.5px,#6dff8a 107.5px,#5dff9a 109.5px,#16ffe1 113.5px,#02e8f4 115px)"></i><i style="background:linear-gradient(90deg,#13fce4 0px,#6dff8a 5.5px,#7aff7d 7.5px,#70ff87 9.5px,#50ffa7 11.5px,#1cffdb 13.5px,#00e4f8 14.5px,#0070ff 17.5px,#0030ff 19.5px,#0004ff 21.5px,#0000f1 25.5px,#0000ff 29.5px,#0008ff 31.5px,#0054ff 37.5px,#008cff 40.5px,#00c8ff 42.5px,#06ecf1 43.5px,#26ffd1 44.5px,#9dff5a 47.5px,#caff2c 48.5px,#fbf100 49.5px,#ff5500 52.5px,#ff2900 53.5px,#ed0400 54.5px,#b20000 56.5px,#a80000 57.5px,#bb0000 59.5px,#d60000 60.5px,#ff1300 61.5px,#ff6800 63.5px,#ffd000 65.5px,#e7ff0f 66.5px,#3cffba 70.5px,#19ffde 71.5px,#00dcfe 72.5px,#009cff 74.5px,#004cff 78.5px,#0004ff 84.5px,#0000f6 88.5px,#0000f6 91.5px,#0000ff 93.5px,#0020ff 95.5px,#0080ff 98.5px,#00ccff 100.5px,#0cf4eb 101.5px,#29ffce 102.5px,#5aff9d 104.5px,#77ff80 106.5px,#7aff7d 108.5px,#66ff90 110.5px,#1fffd7 115px)"></i><i style="background:linear-gradient(90deg,#39ffbe 0px,#7dff7a 4.5px,#8aff6d 6.5px,#83ff73 8.5px,#66ff90 10.5px,#16ffe1 13.5px,#00dcfe 14.5px,#0094ff 16.5px,#0040ff 19.5px,#001cff 22.5px,#001cff 24.5px,#003cff 29.5px,#0068ff 35.5px,#0088ff 39.5px,#00c4ff 42.5px,#00e4f8 43.5px,#1cffdb 44.5px,#90ff66 47.5px,#f1fc06 49.5px,#ffc400 50.5px,#ff2500 53.5px,#e80000 54.5px,#bf0000 55.5px,#9b0000 57.5px,#ad0000 59.5px,#cd0000 60.5px,#fa0f00 61.5px,#ff3800 62.5px,#ffdb00 65.5px,#deff19 66.5px,#56ffa0 69.5px,#0ff8e7 71.5px,#00d8ff 72.5px,#00a4ff 74.5px,#0078ff 77.5px,#003cff 86.5px,#001cff 90.5px,#001cff 93.5px,#0034ff 95.5px,#0060ff 97.5px,#00c4ff 100.5px,#06ecf1 101.5px,#23ffd4 102.5px,#5aff9d 104.5px,#7dff7a 106.5px,#8dff6a 108.5px,#83ff73 110.5px,#43ffb4 115px)"></i><i style="background:linear-gradient(90deg,#66ff90 0px,#9dff5a 4.5px,#a0ff56 6.5px,#90ff66 8.5px,#4dffaa 11.5px,#13fce4 13.5px,#00d8ff 14.5px,#0098ff 16.5px,#005cff 19.5px,#0050ff 21.5px,#0068ff 25.5px,#0098ff 30.5px,#00a4ff 34.5px,#00a4ff 38.5px,#00bcff 41.5px,#00e4f8 43.5px,#19ffde 44.5px,#5aff9d 46.5px,#e1ff16 49.5px,#ffd700 50.5px,#ff3b00 53.5px,#fa0f00 54.5px,#d60000 55.5px,#bb0000 56.5px,#ad0000 57.5px,#b20000 58.5px,#c40000 59.5px,#e40000 60.5px,#ff2200 61.5px,#ff7e00 63.5px,#feed00 65.5px,#caff2c 66.5px,#49ffad 69.5px,#29ffce 70.5px,#0cf4eb 71.5px,#00d8ff 72.5px,#00b4ff 74.5px,#00a4ff 76.5px,#00a0ff 83.5px,#0090ff 86.5px,#0054ff 92.5px,#0054ff 94.5px,#0060ff 96.5px,#0088ff 98.5px,#00e4f8 101.5px,#1fffd7 102.5px,#70ff87 105.5px,#94ff63 107.5px,#a4ff53 109.5px,#90ff66 112.5px,#70ff87 115px)"></i><i style="background:linear-gradient(90deg,#9aff5d 0px,#beff39 3.5px,#c1ff36 5.5px,#9aff5d 8.5px,#2cffca 12.5px,#0ff8e7 13.5px,#00d8ff 14.5px,#00a4ff 16.5px,#0088ff 18.5px,#0084ff 20.5px,#00a0ff 23.5px,#00d8ff 27.5px,#0cf4eb 30.5px,#02e8f4 35.5px,#00d0ff 38.5px,#00d0ff 41.5px,#00d8ff 42.5px,#06ecf1 43.5px,#16ffe1 44.5px,#50ffa7 46.5px,#c7ff30 49.5px,#f4f802 50.5px,#ffc100 51.5px,#ff6000 53.5px,#ff1a00 55.5px,#f10800 56.5px,#e40000 57.5px,#e80000 58.5px,#fa0f00 59.5px,#ff2500 60.5px,#ff7300 62.5px,#ffd700 64.5px,#e4ff13 65.5px,#63ff94 68.5px,#26ffd1 70.5px,#0ff8e7 71.5px,#00e4f8 72.5px,#00ccff 74.5px,#00e0fb 79.5px,#0cf4eb 82.5px,#09f0ee 85.5px,#00c8ff 89.5px,#0090ff 93.5px,#0084ff 96.5px,#0098ff 98.5px,#00c8ff 100.5px,#00e4f8 101.5px,#1cffdb 102.5px,#8aff6d 106.5px,#b1ff46 108.5px,#c1ff36 110.5px,#baff3c 112.5px,#a4ff53 115px)"></i><i style="background:linear-gradient(90deg,#d1ff26 0px,#e4ff13 2.5px,#e4ff13 4.5px,#ceff29 6.5px,#a0ff56 8.5px,#29ffce 12.5px,#0ff8e7 13.5px,#00dcfe 14.5px,#00b8ff 16.5px,#00acff 18.5px,#00bcff 20.5px,#00dcfe 22.5px,#06ecf1 23.5px,#16ffe1 24.5px,#49ffad 28.5px,#53ffa4 31.5px,#39ffbe 35.5px,#0ff8e7 39.5px,#09f0ee 41.5px,#0ff8e7 43.5px,#30ffc7 45.5px,#66ff90 47.5px,#d4ff23 50.5px,#feed00 51.5px,#ff9800 53.5px,#ff5d00 55.5px,#ff3f00 57.5px,#ff4e00 59.5px,#ff8200 61.5px,#ffd300 63.5px,#eeff09 64.5px,#7aff7d 67.5px,#3cffba 69.5px,#16ffe1 71.5px,#09f0ee 73.5px,#13fce4 76.5px,#4dffaa 82.5px,#53ffa4 85.5px,#30ffc7 89.5px,#0ff8e7 91.5px,#02e8f4 92.5px,#00d4ff 93.5px,#00b0ff 96.5px,#00b0ff 98.5px,#00d0ff 100.5px,#02e8f4 101.5px,#19ffde 102.5px,#aaff4d 107.5px,#d4ff23 109.5px,#e7ff0f 111.5px,#e1ff16 113.5px,#d7ff1f 115px)"></i><i style="background:linear-gradient(90deg,#ffde00 0px,#ffd300 2.5px,#ffd700 3.5px,#ffe600 4.5px,#f4f802 5.5px,#c4ff33 7.5px,#29ffce 12.5px,#13fce4 13.5px,#00e4f8 14.5px,#00ccff 16.5px,#00d4ff 18.5px,#00e0fb 19.5px,#1cffdb 21.5px,#77ff80 26.5px,#94ff63 29.5px,#8dff6a 32.5px,#63ff94 36.5px,#2cffca 40.5px,#23ffd4 43.5px,#36ffc1 45.5px,#5dff9a 47.5px,#f1fc06 52.5px,#ffde00 53.5px,#ffab00 55.5px,#ff9c00 56.5px,#ff9800 58.5px,#ffb200 60.5px,#ffea00 62.5px,#e4ff13 63.5px,#6aff8d 67.5px,#30ffc7 70.5px,#23ffd4 72.5px,#29ffce 74.5px,#5aff9d 78.5px,#8aff6d 82.5px,#94ff63 85.5px,#80ff77 88.5px,#16ffe1 94.5px,#06ecf1 95.5px,#00dcfe 96.5px,#00ccff 98.5px,#00d8ff 100.5px,#06ecf1 101.5px,#19ffde 102.5px,#70ff87 105.5px,#d1ff26 108.5px,#e7ff0f 109.5px,#feed00 110.5px,#ffd700 112.5px,#ffd300 113.5px,#ffdb00 115px)"></i><i style="background:linear-gradient(90deg,#ffa300 0px,#ffa300 2.5px,#ffae00 3.5px,#ffde00 5.5px,#eeff09 6.5px,#43ffb4 11.5px,#13fce4 13.5px,#00e4f8 15.5px,#06ecf1 17.5px,#13fce4 18.5px,#a0ff56 25.5px,#c7ff30 28.5px,#ceff29 30.5px,#beff39 33.5px,#83ff73 37.5px,#49ffad 41.5px,#3cffba 43.5px,#43ffb4 45.5px,#6aff8d 48.5px,#caff2c 53.5px,#f1fc06 56.5px,#f4f802 58.5px,#d7ff1f 61.5px,#63ff94 67.5px,#46ffb1 69.5px,#3cffba 71.5px,#4dffaa 74.5px,#c1ff36 82.5px,#ceff29 85.5px,#baff3c 88.5px,#70ff87 92.5px,#1cffdb 96.5px,#02e8f4 98.5px,#02e8f4 100.5px,#1cffdb 102.5px,#50ffa7 104.5px,#dbff1c 108.5px,#fbf100 109.5px,#ffb900 111.5px,#ff9f00 113.5px,#ff9f00 115px)"></i><i style="background:linear-gradient(90deg,#ff6c00 0px,#ff7a00 2.5px,#ff8d00 3.5px,#ffcc00 5.5px,#f8f500 6.5px,#d1ff26 7.5px,#40ffb7 11.5px,#19ffde 13.5px,#0ff8e7 15.5px,#1fffd7 17.5px,#77ff80 21.5px,#d1ff26 25.5px,#f4f802 28.5px,#f8f500 31.5px,#dbff1c 34.5px,#70ff87 41.5px,#5dff9a 43.5px,#5aff9d 46.5px,#9aff5d 56.5px,#94ff63 60.5px,#56ffa0 69.5px,#60ff97 72.5px,#90ff66 76.5px,#e1ff16 81.5px,#f8f500 84.5px,#f8f500 86.5px,#dbff1c 89.5px,#a0ff56 92.5px,#29ffce 97.5px,#0ff8e7 99.5px,#0cf4eb 100.5px,#1cffdb 102.5px,#4dffaa 104.5px,#b7ff40 107.5px,#e1ff16 108.5px,#ffe600 109.5px,#ff9c00 111.5px,#ff7300 113.5px,#ff6c00 115px)"></i><i style="background:linear-gradient(90deg,#ff4300 0px,#ff5900 2.5px,#ff7300 3.5px,#ffc100 5.5px,#fbf100 6.5px,#d1ff26 7.5px,#5dff9a 10.5px,#2cffca 12.5px,#19ffde 14.5px,#29ffce 16.5px,#4dffaa 18.5px,#e1ff16 24.5px,#f1fc06 25.5px,#ffea00 26.5px,#ffd000 29.5px,#ffdb00 32.5px,#fbf100 34.5px,#eeff09 35.5px,#8aff6d 42.5px,#66ff90 47.5px,#43ffb4 57.5px,#49ffad 61.5px,#73ff83 70.5px,#9aff5d 74.5px,#e4ff13 79.5px,#f4f802 80.5px,#ffde00 82.5px,#ffd000 86.5px,#fbf100 89.5px,#ebff0c 90.5px,#90ff66 94.5px,#33ffc4 98.5px,#1cffdb 100.5px,#19ffde 101.5px,#33ffc4 103.5px,#6aff8d 105.5px,#e1ff16 108.5px,#ffdb00 109.5px,#ff8900 111.5px,#ff6800 112.5px,#ff5200 113.5px,#ff4700 115px)"></i><i style="background:linear-gradient(90deg,#ff2900 0px,#ff4700 2.5px,#ff9100 4.5px,#feed00 6.5px,#d1ff26 7.5px,#7dff7a 9.5px,#43ffb4 11.5px,#26ffd1 13.5px,#30ffc7 15.5px,#50ffa7 17.5px,#e4ff13 23.5px,#f8f500 24.5px,#ffc800 27.5px,#ffbd00 30.5px,#ffdb00 34.5px,#f8f500 36.5px,#ebff0c 37.5px,#6aff8d 48.5px,#16ffe1 53.5px,#06ecf1 54.5px,#00d4ff 56.5px,#00d4ff 58.5px,#00e4f8 60.5px,#1cffdb 62.5px,#7dff7a 68.5px,#f1fc06 78.5px,#feed00 79.5px,#ffbd00 84.5px,#ffc400 87.5px,#ffea00 90.5px,#eeff09 91.5px,#90ff66 95.5px,#46ffb1 98.5px,#29ffce 100.5px,#29ffce 102.5px,#4dffaa 104.5px,#8dff6a 106.5px,#e1ff16 108.5px,#ffdb00 109.5px,#ff7e00 111.5px,#ff5900 112.5px,#ff2d00 115px)"></i><i style="background:linear-gradient(90deg,#ff2200 0px,#ff2d00 1.5px,#ff6800 3.5px,#ffc100 5.5px,#f8f500 6.5px,#ceff29 7.5px,#7dff7a 9.5px,#49ffad 11.5px,#33ffc4 13.5px,#40ffb7 15.5px,#63ff94 17.5px,#f1fc06 23.5px,#ffea00 24.5px,#ffc400 27.5px,#ffb900 30.5px,#ffd700 35.5px,#f8f500 38.5px,#eeff09 39.5px,#beff39 44.5px,#8dff6a 47.5px,#23ffd4 51.5px,#06ecf1 52.5px,#00c8ff 53.5px,#0094ff 55.5px,#007cff 57.5px,#007cff 58.5px,#009cff 60.5px,#00d4ff 62.5px,#0ff8e7 63.5px,#7dff7a 67.5px,#b7ff40 70.5px,#f1fc06 76.5px,#ffe600 78.5px,#ffc100 83.5px,#ffb900 86.5px,#ffd000 89.5px,#fbf100 91.5px,#e7ff0f 92.5px,#49ffad 99.5px,#36ffc1 101.5px,#40ffb7 103.5px,#6aff8d 105.5px,#deff19 108.5px,#ffde00 109.5px,#ff7e00 111.5px,#ff3b00 113.5px,#ff2500 115px)"></i><i style="background:linear-gradient(90deg,#ff2900 0px,#ff3800 1.5px,#ff7300 3.5px,#ffcc00 5.5px,#f1fc06 6.5px,#a0ff56 8.5px,#66ff90 10.5px,#46ffb1 12.5px,#49ffad 14.5px,#63ff94 16.5px,#e1ff16 22.5px,#f4f802 23.5px,#ffea00 24.5px,#ffcc00 27.5px,#ffc400 31.5px,#fbf100 41.5px,#e1ff16 44.5px,#a4ff53 47.5px,#3cffba 50.5px,#13fce4 51.5px,#00ccff 52.5px,#0078ff 54.5px,#0040ff 56.5px,#0038ff 58.5px,#0048ff 59.5px,#0084ff 61.5px,#00e0fb 63.5px,#23ffd4 64.5px,#90ff66 67.5px,#c4ff33 69.5px,#f1fc06 72.5px,#ffea00 75.5px,#ffc400 85.5px,#ffd000 88.5px,#fbf100 91.5px,#eeff09 92.5px,#5dff9a 99.5px,#46ffb1 101.5px,#49ffad 103.5px,#70ff87 105.5px,#b1ff46 107.5px,#d7ff1f 108.5px,#ffea00 109.5px,#ff8900 111.5px,#ff4700 113.5px,#ff3000 115px)"></i><i style="background:linear-gradient(90deg,#ff4700 0px,#ff6c00 2.5px,#ff8900 3.5px,#ffdb00 5.5px,#e7ff0f 6.5px,#a0ff56 8.5px,#70ff87 10.5px,#5aff9d 12.5px,#5dff9a 14.5px,#8aff6d 17.5px,#eeff09 23.5px,#ffea00 25.5px,#ffd700 30.5px,#ffdb00 42.5px,#feed00 44.5px,#ebff0c 45.5px,#b7ff40 47.5px,#6aff8d 49.5px,#3cffba 50.5px,#0cf4eb 51.5px,#00bcff 52.5px,#0054ff 54.5px,#002cff 55.5px,#0014ff 56.5px,#0008ff 57.5px,#000cff 58.5px,#001cff 59.5px,#003cff 60.5px,#0098ff 62.5px,#00d4ff 63.5px,#1fffd7 64.5px,#a4ff53 67.5px,#deff19 69.5px,#f4f802 70.5px,#ffea00 71.5px,#ffd700 73.5px,#ffdb00 87.5px,#feed00 90.5px,#ebff0c 92.5px,#63ff94 100.5px,#56ffa0 102.5px,#66ff90 104.5px,#90ff66 106.5px,#d1ff26 108.5px,#f8f500 109.5px,#ff7e00 112.5px,#ff6000 113.5px,#ff4e00 115px)"></i><i style="background:linear-gradient(90deg,#ff7300 0px,#ff7e00 1.5px,#ffae00 3.5px,#f8f500 5.5px,#d7ff1f 6.5px,#8aff6d 9.5px,#70ff87 11.5px,#70ff87 13.5px,#9aff5d 17.5px,#dbff1c 22.5px,#f4f802 26.5px,#ffea00 35.5px,#ffc400 41.5px,#ffc800 43.5px,#ffd300 44.5px,#ffea00 45.5px,#ebff0c 46.5px,#a4ff53 48.5px,#43ffb4 50.5px,#0cf4eb 51.5px,#00b4ff 52.5px,#0044ff 54.5px,#0018ff 55.5px,#0000ff 56.5px,#0004ff 59.5px,#0028ff 60.5px,#0090ff 62.5px,#00ccff 63.5px,#23ffd4 64.5px,#b4ff43 67.5px,#f4f802 69.5px,#ffde00 70.5px,#ffc800 72.5px,#ffcc00 75.5px,#ffea00 80.5px,#f1fc06 89.5px,#d7ff1f 93.5px,#7aff7d 100.5px,#6dff8a 103.5px,#80ff77 105.5px,#aaff4d 107.5px,#e4ff13 109.5px,#ffe600 110.5px,#ffa300 112.5px,#ff8900 113.5px,#ff7a00 115px)"></i><i style="background:linear-gradient(90deg,#ffae00 0px,#ffb600 1.5px,#f8f500 4.5px,#deff19 5.5px,#a0ff56 8.5px,#8aff6d 10.5px,#83ff73 12.5px,#a0ff56 16.5px,#d1ff26 22.5px,#e4ff13 33.5px,#f8f500 36.5px,#ffd000 39.5px,#ffb900 42.5px,#ffb900 43.5px,#ffd700 45.5px,#f8f500 46.5px,#d7ff1f 47.5px,#7dff7a 49.5px,#13fce4 51.5px,#00b8ff 52.5px,#0040ff 54.5px,#0014ff 55.5px,#0000ff 56.5px,#0000f6 57.5px,#0000ff 59.5px,#0024ff 60.5px,#0054ff 61.5px,#00d0ff 63.5px,#29ffce 64.5px,#c1ff36 67.5px,#e4ff13 68.5px,#ffe600 69.5px,#ffc100 71.5px,#ffb900 73.5px,#ffd300 76.5px,#feed00 78.5px,#eeff09 80.5px,#deff19 85.5px,#d4ff23 92.5px,#a4ff53 98.5px,#87ff70 102.5px,#87ff70 104.5px,#97ff60 106.5px,#e7ff0f 110.5px,#feed00 111.5px,#ffc100 113.5px,#ffb200 115px)"></i><i style="background:linear-gradient(90deg,#fbf100 0px,#ebff0c 2.5px,#a7ff50 7.5px,#97ff60 9.5px,#a0ff56 13.5px,#c1ff36 20.5px,#c7ff30 32.5px,#e7ff0f 36.5px,#f4f802 37.5px,#ffe600 38.5px,#ffbd00 41.5px,#ffb600 43.5px,#ffbd00 44.5px,#ffea00 46.5px,#deff19 47.5px,#83ff73 49.5px,#19ffde 51.5px,#00c0ff 52.5px,#0080ff 53.5px,#0020ff 55.5px,#0004ff 56.5px,#0000ff 58.5px,#000cff 59.5px,#0030ff 60.5px,#0060ff 61.5px,#00dcfe 63.5px,#30ffc7 64.5px,#9aff5d 66.5px,#eeff09 68.5px,#ffde00 69.5px,#ffc400 70.5px,#ffb200 72.5px,#ffcc00 75.5px,#feed00 77.5px,#f1fc06 78.5px,#caff2c 82.5px,#c4ff33 87.5px,#c1ff36 95.5px,#97ff60 104.5px,#a0ff56 107.5px,#f1fc06 113.5px,#f8f500 115px)"></i><i style="background:linear-gradient(90deg,#beff39 0px,#97ff60 7.5px,#c4ff33 16.5px,#b7ff40 23.5px,#a7ff50 29.5px,#b7ff40 33.5px,#d7ff1f 36.5px,#e7ff0f 37.5px,#f8f500 38.5px,#ffc100 41.5px,#ffb600 43.5px,#ffbd00 44.5px,#ffea00 46.5px,#e1ff16 47.5px,#8aff6d 49.5px,#23ffd4 51.5px,#00d0ff 52.5px,#0094ff 53.5px,#003cff 55.5px,#0020ff 56.5px,#0014ff 57.5px,#0018ff 58.5px,#0028ff 59.5px,#0048ff 60.5px,#0074ff 61.5px,#00acff 62.5px,#02e8f4 63.5px,#36ffc1 64.5px,#9dff5a 66.5px,#eeff09 68.5px,#ffde00 69.5px,#ffb900 71.5px,#ffb900 73.5px,#ffea00 76.5px,#f1fc06 77.5px,#baff3c 81.5px,#a7ff50 85.5px,#c4ff33 98.5px,#a7ff50 104.5px,#9aff5d 107.5px,#a0ff56 110.5px,#baff3c 115px)"></i><i style="background:linear-gradient(90deg,#7dff7a 0px,#77ff80 4.5px,#87ff70 7.5px,#caff2c 13.5px,#d1ff26 16.5px,#b7ff40 21.5px,#94ff63 27.5px,#94ff63 31.5px,#b7ff40 35.5px,#ebff0c 38.5px,#feed00 39.5px,#ffcc00 41.5px,#ffc100 43.5px,#ffd700 45.5px,#fbf100 46.5px,#dbff1c 47.5px,#8aff6d 49.5px,#2cffca 51.5px,#00e0fb 52.5px,#0080ff 54.5px,#005cff 55.5px,#003cff 57.5px,#004cff 59.5px,#0090ff 61.5px,#00c0ff 62.5px,#0ff8e7 63.5px,#c4ff33 67.5px,#e7ff0f 68.5px,#ffe600 69.5px,#ffd000 70.5px,#ffc100 72.5px,#ffe200 75.5px,#f4f802 76.5px,#b1ff46 80.5px,#94ff63 84.5px,#97ff60 88.5px,#b7ff40 94.5px,#d1ff26 98.5px,#c7ff30 102.5px,#83ff73 108.5px,#77ff80 111.5px,#7dff7a 115px)"></i><i style="background:linear-gradient(90deg,#43ffb4 0px,#46ffb1 4.5px,#73ff83 7.5px,#c1ff36 11.5px,#dbff1c 13.5px,#e1ff16 15.5px,#c7ff30 19.5px,#8dff6a 25.5px,#7dff7a 29.5px,#8dff6a 33.5px,#caff2c 37.5px,#eeff09 39.5px,#feed00 40.5px,#ffd300 42.5px,#ffdb00 44.5px,#ffea00 45.5px,#ebff0c 46.5px,#adff49 48.5px,#33ffc4 51.5px,#0cf4eb 52.5px,#00c8ff 53.5px,#0088ff 55.5px,#0074ff 56.5px,#006cff 58.5px,#0090ff 60.5px,#00d8ff 62.5px,#1cffdb 63.5px,#baff3c 67.5px,#f4f802 69.5px,#ffe200 70.5px,#ffd300 71.5px,#ffd700 73.5px,#fbf100 75.5px,#e7ff0f 76.5px,#a0ff56 80.5px,#83ff73 83.5px,#80ff77 87.5px,#97ff60 91.5px,#dbff1c 98.5px,#e1ff16 100.5px,#d7ff1f 102.5px,#94ff63 106.5px,#5aff9d 109.5px,#40ffb7 112.5px,#40ffb7 115px)"></i><i style="background:linear-gradient(90deg,#0ff8e7 0px,#0ff8e7 3.5px,#2cffca 5.5px,#c4ff33 11.5px,#e4ff13 13.5px,#eeff09 15.5px,#d4ff23 18.5px,#80ff77 25.5px,#6dff8a 29.5px,#77ff80 32.5px,#9aff5d 35.5px,#f1fc06 40.5px,#feed00 41.5px,#ffe600 43.5px,#feed00 44.5px,#eeff09 45.5px,#c1ff36 47.5px,#1cffdb 52.5px,#02e8f4 53.5px,#00c8ff 54.5px,#00a4ff 56.5px,#00a0ff 58.5px,#00bcff 60.5px,#00d4ff 61.5px,#0cf4eb 62.5px,#29ffce 63.5px,#caff2c 68.5px,#f4f802 70.5px,#ffea00 71.5px,#ffea00 73.5px,#f8f500 74.5px,#ebff0c 75.5px,#87ff70 81.5px,#70ff87 84.5px,#70ff87 87.5px,#8dff6a 91.5px,#e4ff13 98.5px,#eeff09 100.5px,#e1ff16 102.5px,#beff39 104.5px,#39ffbe 109.5px,#16ffe1 111.5px,#0cf4eb 112.5px,#0cf4eb 115px)"></i><i style="background:linear-gradient(90deg,#00c4ff 0px,#00bcff 2.5px,#00d4ff 4.5px,#09f0ee 5.5px,#23ffd4 6.5px,#c4ff33 11.5px,#e7ff0f 13.5px,#f4f802 15.5px,#dbff1c 18.5px,#80ff77 24.5px,#63ff94 28.5px,#6dff8a 32.5px,#90ff66 35.5px,#e1ff16 40.5px,#f1fc06 42.5px,#e7ff0f 44.5px,#c7ff30 46.5px,#2cffca 52.5px,#19ffde 53.5px,#00e0fb 55.5px,#00d4ff 58.5px,#00e4f8 60.5px,#0ff8e7 61.5px,#4dffaa 64.5px,#ceff29 69.5px,#ebff0c 71.5px,#eeff09 73.5px,#deff19 75.5px,#7dff7a 81.5px,#6aff8d 83.5px,#66ff90 87.5px,#87ff70 91.5px,#ebff0c 98.5px,#f4f802 100.5px,#e4ff13 102.5px,#b7ff40 104.5px,#16ffe1 109.5px,#00e4f8 110.5px,#00ccff 111.5px,#00bcff 113.5px,#00c0ff 115px)"></i><i style="background:linear-gradient(90deg,#00a0ff 0px,#0090ff 2.5px,#00a8ff 4.5px,#00c4ff 5.5px,#06ecf1 6.5px,#29ffce 7.5px,#baff3c 11.5px,#e7ff0f 13.5px,#f4f802 15.5px,#ebff0c 17.5px,#7dff7a 24.5px,#5dff9a 28.5px,#66ff90 32.5px,#8aff6d 35.5px,#d4ff23 40.5px,#deff19 42.5px,#d1ff26 44.5px,#9aff5d 47.5px,#49ffad 51.5px,#2cffca 53.5px,#19ffde 57.5px,#1fffd7 60.5px,#50ffa7 64.5px,#c7ff30 70.5px,#dbff1c 72.5px,#d7ff1f 74.5px,#c4ff33 76.5px,#6aff8d 82.5px,#5dff9a 85.5px,#63ff94 88.5px,#90ff66 92.5px,#e1ff16 97.5px,#f4f802 99.5px,#eeff09 101.5px,#caff2c 103.5px,#8dff6a 105.5px,#19ffde 108.5px,#00dcfe 109.5px,#00b8ff 110.5px,#00a0ff 111.5px,#0090ff 113.5px,#0098ff 115px)"></i><i style="background:linear-gradient(90deg,#008cff 0px,#0078ff 1.5px,#0070ff 2.5px,#0074ff 3.5px,#00a4ff 5.5px,#00c8ff 6.5px,#0ff8e7 7.5px,#adff49 11.5px,#deff19 13.5px,#eeff09 14.5px,#f1fc06 16.5px,#deff19 18.5px,#7dff7a 24.5px,#5aff9d 28.5px,#63ff94 32.5px,#94ff63 36.5px,#c7ff30 40.5px,#caff2c 42.5px,#baff3c 44.5px,#5aff9d 50.5px,#46ffb1 52.5px,#40ffb7 60.5px,#50ffa7 64.5px,#beff39 71.5px,#caff2c 73.5px,#c4ff33 75.5px,#66ff90 82.5px,#5aff9d 85.5px,#6aff8d 89.5px,#a0ff56 93.5px,#e4ff13 97.5px,#f1fc06 99.5px,#e7ff0f 101.5px,#beff39 103.5px,#7aff7d 105.5px,#29ffce 107.5px,#00e4f8 108.5px,#00b8ff 109.5px,#0080ff 111.5px,#0074ff 112.5px,#0074ff 113.5px,#0080ff 115px)"></i><i style="background:linear-gradient(90deg,#0084ff 0px,#006cff 1.5px,#0060ff 2.5px,#0060ff 3.5px,#0088ff 5.5px,#00dcfe 7.5px,#23ffd4 8.5px,#9aff5d 11.5px,#d1ff26 13.5px,#ebff0c 15.5px,#e7ff0f 17.5px,#d1ff26 19.5px,#70ff87 25.5px,#5aff9d 28.5px,#56ffa0 30.5px,#77ff80 34.5px,#aaff4d 38.5px,#baff3c 40.5px,#b1ff46 43.5px,#5dff9a 49.5px,#50ffa7 52.5px,#60ff97 58.5px,#50ffa7 63.5px,#60ff97 66.5px,#b4ff43 72.5px,#baff3c 75.5px,#60ff97 83.5px,#56ffa0 86.5px,#6aff8d 89.5px,#b4ff43 94.5px,#e1ff16 97.5px,#eeff09 99.5px,#deff19 101.5px,#adff49 103.5px,#66ff90 105.5px,#13fce4 107.5px,#00c8ff 108.5px,#007cff 110.5px,#0068ff 111.5px,#0060ff 112.5px,#0064ff 113.5px,#0074ff 115px)"></i><i style="background:linear-gradient(90deg,#008cff 0px,#005cff 2.5px,#0058ff 3.5px,#0078ff 5.5px,#00c4ff 7.5px,#0cf4eb 8.5px,#36ffc1 9.5px,#87ff70 11.5px,#c1ff36 13.5px,#e1ff16 15.5px,#e1ff16 17.5px,#c1ff36 20.5px,#80ff77 24.5px,#60ff97 27.5px,#5aff9d 30.5px,#6dff8a 33.5px,#a7ff50 38.5px,#b1ff46 40.5px,#9dff5a 43.5px,#5dff9a 48.5px,#53ffa4 50.5px,#6aff8d 54.5px,#7aff7d 58.5px,#53ffa4 64.5px,#56ffa0 66.5px,#87ff70 70.5px,#aaff4d 73.5px,#b1ff46 75.5px,#8dff6a 79.5px,#60ff97 83.5px,#5aff9d 86.5px,#77ff80 90.5px,#d4ff23 96.5px,#e4ff13 98.5px,#deff19 100.5px,#b7ff40 102.5px,#77ff80 104.5px,#26ffd1 106.5px,#00e0fb 107.5px,#008cff 109.5px,#005cff 111.5px,#0058ff 112.5px,#0078ff 115px)"></i><i style="background:linear-gradient(90deg,#00a0ff 0px,#007cff 1.5px,#005cff 3.5px,#0060ff 4.5px,#0070ff 5.5px,#008cff 6.5px,#00e0fb 8.5px,#23ffd4 9.5px,#90ff66 12.5px,#c4ff33 14.5px,#dbff1c 16.5px,#d7ff1f 18.5px,#a0ff56 22.5px,#6aff8d 26.5px,#5aff9d 29.5px,#70ff87 33.5px,#a4ff53 38.5px,#a4ff53 41.5px,#5aff9d 47.5px,#50ffa7 49.5px,#6dff8a 53.5px,#8dff6a 56.5px,#8aff6d 59.5px,#56ffa0 64.5px,#50ffa7 66.5px,#5dff9a 68.5px,#9dff5a 73.5px,#a7ff50 76.5px,#83ff73 80.5px,#5dff9a 84.5px,#60ff97 87.5px,#7aff7d 90.5px,#d1ff26 96.5px,#dbff1c 98.5px,#ceff29 100.5px,#a4ff53 102.5px,#13fce4 106.5px,#00ccff 107.5px,#0080ff 109.5px,#0068ff 110.5px,#0060ff 112.5px,#0088ff 115px)"></i><i style="background:linear-gradient(90deg,#00b8ff 0px,#0094ff 1.5px,#006cff 3.5px,#0074ff 5.5px,#00a8ff 7.5px,#00d0ff 8.5px,#13fce4 9.5px,#97ff60 13.5px,#c1ff36 15.5px,#d1ff26 17.5px,#caff2c 19.5px,#6dff8a 26.5px,#60ff97 29.5px,#6aff8d 32.5px,#9dff5a 37.5px,#a0ff56 40.5px,#80ff77 43.5px,#4dffaa 47.5px,#50ffa7 50.5px,#9dff5a 56.5px,#a0ff56 58.5px,#73ff83 62.5px,#56ffa0 64.5px,#49ffad 67.5px,#5aff9d 69.5px,#9dff5a 74.5px,#a0ff56 77.5px,#66ff90 83.5px,#63ff94 87.5px,#7dff7a 90.5px,#ceff29 96.5px,#d1ff26 98.5px,#baff3c 100.5px,#8dff6a 102.5px,#26ffd1 105.5px,#02e8f4 106.5px,#00c0ff 107.5px,#0080ff 109.5px,#0068ff 111.5px,#0070ff 112.5px,#0084ff 113.5px,#00a4ff 115px)"></i><i style="background:linear-gradient(90deg,#00d8ff 0px,#0094ff 2.5px,#007cff 4.5px,#0080ff 5.5px,#00a8ff 7.5px,#00c8ff 8.5px,#06ecf1 9.5px,#26ffd1 10.5px,#9dff5a 14.5px,#beff39 16.5px,#c7ff30 18.5px,#b4ff43 21.5px,#73ff83 26.5px,#63ff94 28.5px,#6aff8d 31.5px,#9dff5a 37.5px,#9aff5d 40.5px,#4dffaa 46.5px,#46ffb1 48.5px,#53ffa4 50.5px,#9dff5a 55.5px,#aaff4d 57.5px,#a4ff53 59.5px,#6aff8d 63.5px,#4dffaa 65.5px,#46ffb1 67.5px,#50ffa7 69.5px,#94ff63 74.5px,#a0ff56 76.5px,#94ff63 79.5px,#6dff8a 83.5px,#63ff94 86.5px,#77ff80 89.5px,#c1ff36 95.5px,#c7ff30 97.5px,#b7ff40 99.5px,#94ff63 101.5px,#19ffde 105.5px,#00dcfe 106.5px,#009cff 108.5px,#007cff 110.5px,#007cff 111.5px,#0088ff 112.5px,#00c0ff 115px)"></i><i style="background:linear-gradient(90deg,#0ff8e7 0px,#00d4ff 1.5px,#00a0ff 3.5px,#0094ff 4.5px,#009cff 6.5px,#00c4ff 8.5px,#00e0fb 9.5px,#19ffde 10.5px,#87ff70 14.5px,#adff49 16.5px,#beff39 18.5px,#baff3c 20.5px,#6dff8a 27.5px,#6aff8d 30.5px,#87ff70 34.5px,#9dff5a 37.5px,#94ff63 40.5px,#46ffb1 46.5px,#43ffb4 48.5px,#53ffa4 50.5px,#a4ff53 55.5px,#b4ff43 57.5px,#aaff4d 59.5px,#80ff77 62.5px,#50ffa7 65.5px,#40ffb7 67.5px,#53ffa4 70.5px,#8dff6a 74.5px,#9dff5a 76.5px,#8dff6a 80.5px,#6aff8d 84.5px,#6aff8d 87.5px,#94ff63 91.5px,#beff39 95.5px,#beff39 97.5px,#97ff60 100.5px,#29ffce 104.5px,#0cf4eb 105.5px,#00d4ff 106.5px,#00a4ff 108.5px,#0094ff 110.5px,#0098ff 111.5px,#00c0ff 113.5px,#00e4f8 115px)"></i><i style="background:linear-gradient(90deg,#2cffca 0px,#0ff8e7 1.5px,#00d8ff 2.5px,#00b4ff 4.5px,#00acff 5.5px,#00b8ff 7.5px,#00e0fb 9.5px,#0ff8e7 10.5px,#77ff80 14.5px,#adff49 17.5px,#b7ff40 20.5px,#73ff83 27.5px,#6aff8d 29.5px,#80ff77 33.5px,#9dff5a 37.5px,#90ff66 40.5px,#49ffad 45.5px,#40ffb7 48.5px,#66ff90 51.5px,#aaff4d 55.5px,#b7ff40 57.5px,#b1ff46 59.5px,#50ffa7 65.5px,#40ffb7 67.5px,#43ffb4 69.5px,#94ff63 75.5px,#9dff5a 78.5px,#6dff8a 85.5px,#73ff83 88.5px,#b4ff43 94.5px,#b7ff40 96.5px,#a7ff50 98.5px,#6dff8a 101.5px,#1fffd7 104.5px,#09f0ee 105.5px,#00d4ff 106.5px,#00b4ff 108.5px,#00acff 109.5px,#00b8ff 111.5px,#00e4f8 113.5px,#19ffde 115px)"></i><i style="background:linear-gradient(90deg,#43ffb4 0px,#13fce4 2.5px,#00e4f8 3.5px,#00ccff 5.5px,#00ccff 7.5px,#00e4f8 9.5px,#0ff8e7 10.5px,#66ff90 14.5px,#a0ff56 17.5px,#b1ff46 19.5px,#a7ff50 22.5px,#77ff80 27.5px,#70ff87 30.5px,#9aff5d 36.5px,#9aff5d 38.5px,#70ff87 42.5px,#46ffb1 45.5px,#3cffba 47.5px,#49ffad 49.5px,#aaff4d 55.5px,#baff3c 57.5px,#a7ff50 60.5px,#46ffb1 66.5px,#3cffba 68.5px,#56ffa0 71.5px,#90ff66 75.5px,#9dff5a 78.5px,#70ff87 85.5px,#80ff77 89.5px,#aaff4d 93.5px,#adff49 96.5px,#9aff5d 98.5px,#46ffb1 102.5px,#19ffde 104.5px,#06ecf1 105.5px,#00dcfe 106.5px,#00c8ff 108.5px,#00d0ff 110.5px,#00dcfe 111.5px,#06ecf1 112.5px,#1cffdb 113.5px,#33ffc4 115px)"></i><i style="background:linear-gradient(90deg,#5aff9d 0px,#2cffca 2.5px,#0ff8e7 4.5px,#00e4f8 6.5px,#00e4f8 8.5px,#0ff8e7 10.5px,#5aff9d 14.5px,#94ff63 17.5px,#a7ff50 19.5px,#aaff4d 21.5px,#73ff83 28.5px,#80ff77 32.5px,#9dff5a 36.5px,#94ff63 39.5px,#43ffb4 45.5px,#43ffb4 48.5px,#7dff7a 52.5px,#adff49 55.5px,#b7ff40 58.5px,#9aff5d 61.5px,#49ffad 66.5px,#3cffba 68.5px,#46ffb1 70.5px,#97ff60 76.5px,#9aff5d 79.5px,#73ff83 85.5px,#83ff73 89.5px,#a7ff50 93.5px,#aaff4d 95.5px,#8dff6a 98.5px,#19ffde 104.5px,#02e8f4 106.5px,#00e0fb 108.5px,#09f0ee 110.5px,#23ffd4 112.5px,#49ffad 115px)"></i><i style="background:linear-gradient(90deg,#6aff8d 0px,#36ffc1 3.5px,#0ff8e7 7.5px,#16ffe1 10.5px,#3cffba 13.5px,#8aff6d 17.5px,#a0ff56 19.5px,#a4ff53 22.5px,#7aff7d 28.5px,#7dff7a 31.5px,#9dff5a 36.5px,#90ff66 39.5px,#43ffb4 45.5px,#40ffb7 47.5px,#50ffa7 49.5px,#a0ff56 54.5px,#b7ff40 57.5px,#a7ff50 60.5px,#4dffaa 66.5px,#40ffb7 68.5px,#46ffb1 70.5px,#94ff63 76.5px,#9dff5a 78.5px,#87ff70 82.5px,#77ff80 86.5px,#a4ff53 93.5px,#a4ff53 95.5px,#83ff73 98.5px,#26ffd1 103.5px,#0ff8e7 106.5px,#19ffde 109.5px,#49ffad 113.5px,#5dff9a 115px)"></i><i style="background:linear-gradient(90deg,#73ff83 0px,#2cffca 6.5px,#1fffd7 9.5px,#26ffd1 11.5px,#5dff9a 15.5px,#9aff5d 19.5px,#a0ff56 22.5px,#7aff7d 29.5px,#9aff5d 36.5px,#97ff60 38.5px,#49ffad 44.5px,#40ffb7 46.5px,#53ffa4 49.5px,#9dff5a 54.5px,#b4ff43 57.5px,#a4ff53 60.5px,#46ffb1 67.5px,#40ffb7 69.5px,#6aff8d 73.5px,#90ff66 76.5px,#9aff5d 79.5px,#7aff7d 85.5px,#80ff77 88.5px,#a0ff56 93.5px,#9dff5a 95.5px,#7aff7d 98.5px,#36ffc1 102.5px,#23ffd4 104.5px,#23ffd4 107.5px,#46ffb1 111.5px,#6aff8d 115px)"></i><i style="background:linear-gradient(90deg,#7dff7a 0px,#33ffc4 8.5px,#2cffca 11.5px,#49ffad 14.5px,#94ff63 19.5px,#9dff5a 22.5px,#7dff7a 29.5px,#9aff5d 36.5px,#94ff63 38.5px,#49ffad 44.5px,#43ffb4 47.5px,#73ff83 51.5px,#a4ff53 55.5px,#adff49 58.5px,#97ff60 61.5px,#50ffa7 66.5px,#43ffb4 69.5px,#4dffaa 71.5px,#8dff6a 76.5px,#9aff5d 78.5px,#8dff6a 82.5px,#7dff7a 86.5px,#9dff5a 93.5px,#97ff60 95.5px,#63ff94 99.5px,#36ffc1 102.5px,#2cffca 105.5px,#50ffa7 110.5px,#77ff80 115px)"></i><i style="background:linear-gradient(90deg,#80ff77 0px,#36ffc1 11.5px,#49ffad 14.5px,#97ff60 20.5px,#9aff5d 23.5px,#80ff77 29.5px,#9aff5d 36.5px,#87ff70 39.5px,#49ffad 44.5px,#43ffb4 46.5px,#4dffaa 48.5px,#9aff5d 54.5px,#aaff4d 58.5px,#8aff6d 62.5px,#49ffad 67.5px,#43ffb4 69.5px,#56ffa0 72.5px,#8aff6d 76.5px,#9aff5d 79.5px,#80ff77 86.5px,#9dff5a 93.5px,#8aff6d 96.5px,#46ffb1 101.5px,#36ffc1 104.5px,#53ffa4 108.5px,#7dff7a 115px)"></i><i style="background:linear-gradient(90deg,#80ff77 0px,#70ff87 5.5px,#43ffb4 11.5px,#4dffaa 14.5px,#94ff63 20.5px,#9aff5d 23.5px,#83ff73 29.5px,#97ff60 35.5px,#8dff6a 38.5px,#49ffad 44.5px,#49ffad 47.5px,#73ff83 51.5px,#9dff5a 55.5px,#a0ff56 59.5px,#7aff7d 63.5px,#4dffaa 67.5px,#43ffb4 69.5px,#56ffa0 72.5px,#90ff66 77.5px,#97ff60 80.5px,#83ff73 86.5px,#9aff5d 93.5px,#87ff70 96.5px,#53ffa4 100.5px,#43ffb4 102.5px,#49ffad 105.5px,#73ff83 110.5px,#7dff7a 115px)"></i><i style="background:linear-gradient(90deg,#7dff7a 0px,#7dff7a 5.5px,#4dffaa 12.5px,#50ffa7 14.5px,#97ff60 21.5px,#94ff63 25.5px,#87ff70 29.5px,#97ff60 36.5px,#73ff83 40.5px,#49ffad 44.5px,#49ffad 47.5px,#90ff66 54.5px,#9dff5a 57.5px,#97ff60 60.5px,#50ffa7 67.5px,#46ffb1 70.5px,#6dff8a 74.5px,#94ff63 78.5px,#90ff66 82.5px,#87ff70 86.5px,#9aff5d 92.5px,#83ff73 96.5px,#4dffaa 101.5px,#56ffa0 105.5px,#80ff77 110.5px,#80ff77 115px)"></i><i style="background:linear-gradient(90deg,#7aff7d 0px,#87ff70 4.5px,#7dff7a 7.5px,#5aff9d 11.5px,#56ffa0 14.5px,#7aff7d 18.5px,#94ff63 21.5px,#97ff60 24.5px,#87ff70 29.5px,#94ff63 36.5px,#73ff83 40.5px,#49ffad 44.5px,#4dffaa 47.5px,#94ff63 55.5px,#97ff60 59.5px,#7aff7d 63.5px,#49ffad 68.5px,#4dffaa 71.5px,#90ff66 78.5px,#90ff66 82.5px,#87ff70 86.5px,#9aff5d 92.5px,#8aff6d 95.5px,#5aff9d 100.5px,#53ffa4 102.5px,#6dff8a 106.5px,#83ff73 109.5px,#87ff70 112.5px,#7dff7a 115px)"></i><i style="background:linear-gradient(90deg,#77ff80 0px,#8dff6a 4.5px,#87ff70 7.5px,#5dff9a 12.5px,#60ff97 15.5px,#94ff63 21.5px,#94ff63 25.5px,#8aff6d 31.5px,#94ff63 35.5px,#83ff73 38.5px,#53ffa4 43.5px,#49ffad 46.5px,#66ff90 50.5px,#90ff66 55.5px,#90ff66 59.5px,#77ff80 63.5px,#4dffaa 68.5px,#4dffaa 71.5px,#87ff70 77.5px,#94ff63 80.5px,#8aff6d 87.5px,#97ff60 91.5px,#90ff66 94.5px,#5dff9a 100.5px,#60ff97 103.5px,#8dff6a 109.5px,#80ff77 113.5px,#7aff7d 115px)"></i><i style="background:linear-gradient(90deg,#73ff83 0px,#8dff6a 4.5px,#8dff6a 7.5px,#63ff94 13.5px,#63ff94 15.5px,#94ff63 21.5px,#94ff63 25.5px,#8aff6d 31.5px,#90ff66 35.5px,#7aff7d 39.5px,#53ffa4 43.5px,#4dffaa 46.5px,#70ff87 51.5px,#8dff6a 55.5px,#8dff6a 59.5px,#6dff8a 64.5px,#50ffa7 68.5px,#50ffa7 71.5px,#73ff83 75.5px,#90ff66 79.5px,#8dff6a 87.5px,#97ff60 92.5px,#80ff77 96.5px,#63ff94 100.5px,#66ff90 103.5px,#90ff66 109.5px,#80ff77 113.5px,#7aff7d 115px)"></i><i style="background:linear-gradient(90deg,#70ff87 0px,#8dff6a 4.5px,#90ff66 7.5px,#66ff90 13.5px,#6dff8a 16.5px,#97ff60 22.5px,#8aff6d 31.5px,#8aff6d 36.5px,#6dff8a 40.5px,#50ffa7 44.5px,#53ffa4 47.5px,#83ff73 54.5px,#8aff6d 58.5px,#7dff7a 62.5px,#4dffaa 69.5px,#5dff9a 73.5px,#8aff6d 78.5px,#8dff6a 87.5px,#97ff60 92.5px,#80ff77 96.5px,#66ff90 100.5px,#6dff8a 103.5px,#90ff66 108.5px,#8dff6a 111.5px,#77ff80 115px)"></i><i style="background:linear-gradient(90deg,#70ff87 0px,#90ff66 5.5px,#8dff6a 8.5px,#6dff8a 13.5px,#70ff87 16.5px,#97ff60 23.5px,#8aff6d 32.5px,#8aff6d 36.5px,#53ffa4 44.5px,#5aff9d 48.5px,#87ff70 55.5px,#80ff77 61.5px,#50ffa7 69.5px,#60ff97 73.5px,#8aff6d 79.5px,#8dff6a 87.5px,#97ff60 92.5px,#6aff8d 100.5px,#7aff7d 104.5px,#90ff66 108.5px,#90ff66 110.5px,#73ff83 115px)"></i><i style="background:linear-gradient(90deg,#6dff8a 0px,#8dff6a 5.5px,#8dff6a 8.5px,#6dff8a 14.5px,#7dff7a 18.5px,#97ff60 23.5px,#8aff6d 32.5px,#83ff73 37.5px,#5aff9d 43.5px,#56ffa0 46.5px,#83ff73 55.5px,#83ff73 60.5px,#53ffa4 69.5px,#60ff97 73.5px,#83ff73 78.5px,#90ff66 88.5px,#94ff63 93.5px,#6dff8a 100.5px,#7dff7a 104.5px,#90ff66 108.5px,#80ff77 112.5px,#70ff87 115px)"></i><i style="background:linear-gradient(90deg,#6dff8a 0px,#8dff6a 6.5px,#80ff77 10.5px,#70ff87 15.5px,#94ff63 22.5px,#80ff77 37.5px,#5aff9d 44.5px,#60ff97 48.5px,#80ff77 54.5px,#80ff77 60.5px,#63ff94 66.5px,#56ffa0 70.5px,#70ff87 75.5px,#87ff70 79.5px,#8dff6a 87.5px,#94ff63 92.5px,#70ff87 100.5px,#7dff7a 104.5px,#8dff6a 109.5px,#77ff80 113.5px,#70ff87 115px)"></i><i style="background:linear-gradient(90deg,#6dff8a 0px,#8aff6d 6.5px,#73ff83 14.5px,#8dff6a 21.5px,#94ff63 25.5px,#87ff70 33.5px,#77ff80 39.5px,#5dff9a 44.5px,#63ff94 48.5px,#7dff7a 54.5px,#83ff73 58.5px,#6dff8a 65.5px,#5dff9a 69.5px,#66ff90 73.5px,#83ff73 79.5px,#90ff66 89.5px,#90ff66 93.5px,#73ff83 99.5px,#80ff77 105.5px,#87ff70 109.5px,#70ff87 115px)"></i><i style="background:linear-gradient(90deg,#70ff87 0px,#83ff73 6.5px,#73ff83 15.5px,#94ff63 24.5px,#83ff73 32.5px,#7dff7a 38.5px,#60ff97 46.5px,#80ff77 55.5px,#7dff7a 61.5px,#60ff97 70.5px,#83ff73 79.5px,#8aff6d 87.5px,#94ff63 92.5px,#73ff83 101.5px,#83ff73 109.5px,#70ff87 115px)"></i><i style="background:linear-gradient(90deg,#70ff87 0px,#7dff7a 8.5px,#7aff7d 16.5px,#90ff66 23.5px,#80ff77 34.5px,#7aff7d 40.5px,#66ff90 45.5px,#6dff8a 49.5px,#83ff73 56.5px,#7aff7d 63.5px,#66ff90 69.5px,#70ff87 73.5px,#80ff77 78.5px,#87ff70 86.5px,#90ff66 93.5px,#77ff80 100.5px,#7aff7d 111.5px,#73ff83 115px)"></i><i style="background:linear-gradient(90deg,#77ff80 0px,#77ff80 7.5px,#7aff7d 16.5px,#90ff66 23.5px,#7dff7a 34.5px,#7dff7a 40.5px,#6aff8d 46.5px,#83ff73 56.5px,#77ff80 64.5px,#6aff8d 70.5px,#83ff73 77.5px,#80ff77 85.5px,#90ff66 92.5px,#77ff80 101.5px,#77ff80 108.5px,#77ff80 115px)"></i><i style="background:linear-gradient(90deg,#7aff7d 0px,#70ff87 4.5px,#6aff8d 6.5px,#7aff7d 11.5px,#7dff7a 17.5px,#90ff66 23.5px,#7aff7d 34.5px,#83ff73 40.5px,#6dff8a 46.5px,#83ff73 57.5px,#7aff7d 64.5px,#6dff8a 68.5px,#77ff80 72.5px,#87ff70 76.5px,#7aff7d 83.5px,#8dff6a 92.5px,#7aff7d 101.5px,#73ff83 107.5px,#6aff8d 109.5px,#7dff7a 113.5px,#7aff7d 115px)"></i><i style="background:linear-gradient(90deg,#80ff77 0px,#77ff80 3.5px,#60ff97 5.5px,#6aff8d 7.5px,#7aff7d 10.5px,#80ff77 17.5px,#8dff6a 23.5px,#7dff7a 29.5px,#7aff7d 35.5px,#8aff6d 40.5px,#6dff8a 46.5px,#83ff73 56.5px,#7aff7d 64.5px,#6dff8a 69.5px,#8aff6d 74.5px,#77ff80 82.5px,#8dff6a 92.5px,#7aff7d 102.5px,#77ff80 106.5px,#60ff97 109.5px,#6dff8a 111.5px,#80ff77 113.5px,#80ff77 115px)"></i><i style="background:linear-gradient(90deg,#87ff70 0px,#80ff77 2.5px,#63ff94 4.5px,#60ff97 6.5px,#7dff7a 9.5px,#80ff77 17.5px,#8dff6a 24.5px,#73ff83 32.5px,#87ff70 40.5px,#8aff6d 42.5px,#6dff8a 46.5px,#83ff73 55.5px,#7dff7a 64.5px,#6dff8a 69.5px,#8aff6d 73.5px,#73ff83 81.5px,#87ff70 89.5px,#8dff6a 93.5px,#7dff7a 101.5px,#7aff7d 106.5px,#60ff97 109.5px,#6aff8d 111.5px,#83ff73 113.5px,#87ff70 115px)"></i><i style="background:linear-gradient(90deg,#87ff70 0px,#7dff7a 2.5px,#6aff8d 4.5px,#73ff83 6.5px,#83ff73 8.5px,#80ff77 16.5px,#8aff6d 24.5px,#70ff87 32.5px,#7aff7d 36.5px,#8aff6d 42.5px,#7dff7a 44.5px,#66ff90 46.5px,#83ff73 53.5px,#7dff7a 64.5px,#6aff8d 69.5px,#8aff6d 72.5px,#70ff87 83.5px,#8dff6a 92.5px,#7dff7a 102.5px,#80ff77 107.5px,#6aff8d 110.5px,#83ff73 115px)"></i><i style="background:linear-gradient(90deg,#7dff7a 0px,#70ff87 3.5px,#94ff63 7.5px,#80ff77 12.5px,#8aff6d 24.5px,#6dff8a 32.5px,#7dff7a 37.5px,#87ff70 43.5px,#60ff97 46.5px,#7dff7a 50.5px,#83ff73 62.5px,#77ff80 66.5px,#63ff94 68.5px,#63ff94 69.5px,#8aff6d 72.5px,#7dff7a 78.5px,#6dff8a 84.5px,#8aff6d 90.5px,#80ff77 103.5px,#94ff63 108.5px,#73ff83 111.5px,#73ff83 113.5px,#7aff7d 115px)"></i><i style="background:linear-gradient(90deg,#70ff87 0px,#6aff8d 2.5px,#87ff70 4.5px,#aaff4d 6.5px,#83ff73 10.5px,#83ff73 18.5px,#8aff6d 24.5px,#7aff7d 28.5px,#66ff90 31.5px,#83ff73 36.5px,#83ff73 40.5px,#87ff70 42.5px,#70ff87 44.5px,#5aff9d 46.5px,#80ff77 49.5px,#83ff73 65.5px,#70ff87 67.5px,#5aff9d 69.5px,#83ff73 72.5px,#80ff77 80.5px,#66ff90 83.5px,#6aff8d 85.5px,#87ff70 89.5px,#83ff73 98.5px,#83ff73 105.5px,#a7ff50 108.5px,#a7ff50 109.5px,#6dff8a 112.5px,#6dff8a 115px)"></i><i style="background:linear-gradient(90deg,#66ff90 0px,#66ff90 2.5px,#adff49 5.5px,#b4ff43 6.5px,#80ff77 9.5px,#7aff7d 11.5px,#8aff6d 25.5px,#7aff7d 28.5px,#5dff9a 30.5px,#56ffa0 31.5px,#6dff8a 33.5px,#87ff70 35.5px,#87ff70 41.5px,#70ff87 43.5px,#53ffa4 45.5px,#5aff9d 46.5px,#83ff73 48.5px,#8aff6d 50.5px,#80ff77 56.5px,#87ff70 64.5px,#8aff6d 66.5px,#66ff90 68.5px,#53ffa4 69.5px,#53ffa4 70.5px,#83ff73 73.5px,#8aff6d 79.5px,#77ff80 81.5px,#5aff9d 83.5px,#56ffa0 84.5px,#7dff7a 87.5px,#8aff6d 91.5px,#7aff7d 104.5px,#87ff70 106.5px,#adff49 108.5px,#b4ff43 109.5px,#a7ff50 110.5px,#70ff87 112.5px,#63ff94 113.5px,#63ff94 115px)"></i><i style="background:linear-gradient(90deg,#5aff9d 0px,#6dff8a 2.5px,#b1ff46 5.5px,#b1ff46 6.5px,#77ff80 9.5px,#73ff83 11.5px,#83ff73 16.5px,#87ff70 27.5px,#70ff87 29.5px,#53ffa4 30.5px,#43ffb4 31.5px,#49ffad 32.5px,#7aff7d 34.5px,#90ff66 36.5px,#80ff77 41.5px,#43ffb4 44.5px,#46ffb1 45.5px,#97ff60 48.5px,#8dff6a 50.5px,#80ff77 53.5px,#83ff73 63.5px,#9aff5d 66.5px,#90ff66 67.5px,#53ffa4 69.5px,#43ffb4 70.5px,#49ffad 71.5px,#77ff80 73.5px,#87ff70 75.5px,#8dff6a 79.5px,#70ff87 81.5px,#46ffb1 83.5px,#49ffad 84.5px,#77ff80 86.5px,#8aff6d 88.5px,#80ff77 101.5px,#70ff87 104.5px,#7dff7a 106.5px,#a7ff50 108.5px,#b4ff43 109.5px,#aaff4d 110.5px,#77ff80 112.5px,#5dff9a 115px)"></i><i style="background:linear-gradient(90deg,#46ffb1 0px,#9dff5a 4.5px,#a7ff50 5.5px,#a4ff53 6.5px,#73ff83 9.5px,#6dff8a 11.5px,#87ff70 15.5px,#83ff73 21.5px,#94ff63 27.5px,#90ff66 28.5px,#7dff7a 29.5px,#39ffbe 31.5px,#33ffc4 32.5px,#49ffad 33.5px,#87ff70 35.5px,#90ff66 37.5px,#83ff73 40.5px,#5aff9d 42.5px,#3cffba 43.5px,#33ffc4 44.5px,#46ffb1 45.5px,#9aff5d 47.5px,#a7ff50 48.5px,#a0ff56 49.5px,#80ff77 51.5px,#7dff7a 63.5px,#94ff63 65.5px,#a4ff53 66.5px,#a7ff50 67.5px,#8dff6a 68.5px,#39ffbe 70.5px,#33ffc4 71.5px,#63ff94 73.5px,#7dff7a 74.5px,#94ff63 78.5px,#90ff66 79.5px,#60ff97 81.5px,#3cffba 82.5px,#30ffc7 83.5px,#43ffb4 84.5px,#8aff6d 86.5px,#94ff63 87.5px,#80ff77 96.5px,#87ff70 100.5px,#6dff8a 104.5px,#77ff80 106.5px,#9dff5a 108.5px,#a7ff50 110.5px,#53ffa4 115px)"></i><i style="background:linear-gradient(90deg,#23ffd4 0px,#73ff83 2.5px,#8dff6a 3.5px,#9dff5a 5.5px,#73ff83 9.5px,#70ff87 11.5px,#87ff70 14.5px,#7dff7a 20.5px,#90ff66 26.5px,#a7ff50 28.5px,#9aff5d 29.5px,#39ffbe 31.5px,#1fffd7 32.5px,#2cffca 33.5px,#7aff7d 35.5px,#8dff6a 36.5px,#90ff66 38.5px,#7dff7a 40.5px,#30ffc7 43.5px,#36ffc1 44.5px,#5dff9a 45.5px,#90ff66 46.5px,#b1ff46 47.5px,#b4ff43 48.5px,#77ff80 51.5px,#77ff80 62.5px,#73ff83 63.5px,#90ff66 65.5px,#b7ff40 67.5px,#a7ff50 68.5px,#49ffad 70.5px,#2cffca 71.5px,#36ffc1 72.5px,#70ff87 74.5px,#8dff6a 76.5px,#90ff66 78.5px,#87ff70 79.5px,#6dff8a 80.5px,#23ffd4 82.5px,#26ffd1 83.5px,#4dffaa 84.5px,#83ff73 85.5px,#a4ff53 86.5px,#a4ff53 87.5px,#8dff6a 89.5px,#7dff7a 97.5px,#87ff70 100.5px,#70ff87 104.5px,#7aff7d 106.5px,#9aff5d 109.5px,#97ff60 111.5px,#66ff90 113.5px,#3cffba 115px)"></i><i style="background:linear-gradient(90deg,#00e0fb 0px,#36ffc1 1.5px,#6aff8d 2.5px,#87ff70 3.5px,#90ff66 5.5px,#77ff80 9.5px,#7dff7a 12.5px,#87ff70 14.5px,#77ff80 18.5px,#8aff6d 26.5px,#b4ff43 28.5px,#b4ff43 29.5px,#90ff66 30.5px,#19ffde 32.5px,#13fce4 33.5px,#33ffc4 34.5px,#60ff97 35.5px,#7dff7a 36.5px,#8aff6d 37.5px,#83ff73 39.5px,#77ff80 40.5px,#43ffb4 42.5px,#39ffbe 43.5px,#53ffa4 44.5px,#adff49 46.5px,#c1ff36 47.5px,#b4ff43 48.5px,#7dff7a 50.5px,#70ff87 51.5px,#7aff7d 56.5px,#73ff83 62.5px,#6dff8a 63.5px,#83ff73 65.5px,#baff3c 67.5px,#beff39 68.5px,#a0ff56 69.5px,#43ffb4 71.5px,#39ffbe 72.5px,#7dff7a 75.5px,#8aff6d 77.5px,#87ff70 78.5px,#73ff83 79.5px,#23ffd4 81.5px,#0ff8e7 82.5px,#2cffca 83.5px,#a4ff53 85.5px,#b7ff40 86.5px,#87ff70 89.5px,#77ff80 97.5px,#87ff70 101.5px,#77ff80 105.5px,#90ff66 110.5px,#90ff66 111.5px,#80ff77 112.5px,#56ffa0 113.5px,#1cffdb 115px)"></i><i style="background:linear-gradient(90deg,#00b8ff 0px,#19ffde 1.5px,#56ffa0 2.5px,#7aff7d 3.5px,#83ff73 4.5px,#7aff7d 9.5px,#8aff6d 13.5px,#6dff8a 17.5px,#7aff7d 21.5px,#83ff73 24.5px,#83ff73 26.5px,#90ff66 27.5px,#b1ff46 28.5px,#c4ff33 29.5px,#b4ff43 30.5px,#77ff80 31.5px,#2cffca 32.5px,#06ecf1 33.5px,#13fce4 34.5px,#66ff90 36.5px,#7dff7a 37.5px,#80ff77 39.5px,#4dffaa 42.5px,#56ffa0 43.5px,#a7ff50 45.5px,#c1ff36 46.5px,#c1ff36 47.5px,#87ff70 49.5px,#73ff83 50.5px,#70ff87 52.5px,#7dff7a 54.5px,#73ff83 58.5px,#7dff7a 61.5px,#6dff8a 63.5px,#6dff8a 64.5px,#7aff7d 65.5px,#b1ff46 67.5px,#c4ff33 68.5px,#baff3c 69.5px,#6aff8d 71.5px,#50ffa7 72.5px,#50ffa7 73.5px,#83ff73 76.5px,#83ff73 77.5px,#77ff80 78.5px,#56ffa0 79.5px,#29ffce 80.5px,#06ecf1 81.5px,#0ff8e7 82.5px,#46ffb1 83.5px,#94ff63 84.5px,#c1ff36 85.5px,#c1ff36 86.5px,#8aff6d 88.5px,#80ff77 89.5px,#83ff73 92.5px,#6dff8a 97.5px,#73ff83 99.5px,#87ff70 101.5px,#87ff70 103.5px,#7aff7d 107.5px,#83ff73 111.5px,#70ff87 112.5px,#40ffb7 113.5px,#00e4f8 115px)"></i><i style="background:linear-gradient(90deg,#00b4ff 0px,#02e8f4 1.5px,#3cffba 2.5px,#66ff90 3.5px,#73ff83 4.5px,#6dff8a 7.5px,#8dff6a 11.5px,#87ff70 13.5px,#6aff8d 15.5px,#63ff94 17.5px,#7aff7d 22.5px,#87ff70 24.5px,#80ff77 26.5px,#87ff70 27.5px,#c4ff33 29.5px,#ceff29 30.5px,#a4ff53 31.5px,#56ffa0 32.5px,#16ffe1 33.5px,#06ecf1 34.5px,#23ffd4 35.5px,#50ffa7 36.5px,#70ff87 37.5px,#7dff7a 38.5px,#6dff8a 40.5px,#5dff9a 41.5px,#5dff9a 42.5px,#73ff83 43.5px,#b7ff40 45.5px,#beff39 46.5px,#adff49 47.5px,#7aff7d 49.5px,#6dff8a 50.5px,#87ff70 54.5px,#6dff8a 57.5px,#7aff7d 59.5px,#87ff70 60.5px,#80ff77 62.5px,#6dff8a 64.5px,#70ff87 65.5px,#80ff77 66.5px,#b7ff40 68.5px,#beff39 69.5px,#aaff4d 70.5px,#6aff8d 72.5px,#5aff9d 73.5px,#7dff7a 76.5px,#7aff7d 77.5px,#63ff94 78.5px,#13fce4 80.5px,#06ecf1 81.5px,#29ffce 82.5px,#baff3c 84.5px,#d1ff26 85.5px,#94ff63 87.5px,#80ff77 88.5px,#87ff70 91.5px,#73ff83 94.5px,#63ff94 98.5px,#70ff87 100.5px,#8aff6d 102.5px,#8dff6a 104.5px,#6dff8a 108.5px,#70ff87 111.5px,#5aff9d 112.5px,#26ffd1 113.5px,#00ccff 115px)"></i><i style="background:linear-gradient(90deg,#00d0ff 0px,#00d0ff 1.5px,#1cffdb 2.5px,#46ffb1 3.5px,#5dff9a 4.5px,#77ff80 8.5px,#90ff66 10.5px,#8dff6a 12.5px,#5dff9a 15.5px,#66ff90 17.5px,#77ff80 19.5px,#70ff87 22.5px,#8aff6d 24.5px,#87ff70 27.5px,#97ff60 28.5px,#d7ff1f 30.5px,#caff2c 31.5px,#8dff6a 32.5px,#43ffb4 33.5px,#19ffde 34.5px,#23ffd4 35.5px,#6aff8d 37.5px,#7aff7d 38.5px,#77ff80 39.5px,#60ff97 41.5px,#6aff8d 42.5px,#a0ff56 44.5px,#adff49 45.5px,#aaff4d 46.5px,#80ff77 48.5px,#73ff83 49.5px,#7dff7a 51.5px,#94ff63 53.5px,#94ff63 54.5px,#6aff8d 57.5px,#7aff7d 59.5px,#8dff6a 60.5px,#94ff63 62.5px,#77ff80 64.5px,#70ff87 65.5px,#87ff70 67.5px,#adff49 69.5px,#aaff4d 70.5px,#63ff94 73.5px,#60ff97 74.5px,#7aff7d 76.5px,#77ff80 77.5px,#5dff9a 78.5px,#19ffde 80.5px,#26ffd1 81.5px,#60ff97 82.5px,#aaff4d 83.5px,#d7ff1f 84.5px,#d1ff26 85.5px,#8dff6a 87.5px,#8aff6d 89.5px,#8dff6a 90.5px,#70ff87 93.5px,#73ff83 96.5px,#5dff9a 99.5px,#70ff87 101.5px,#90ff66 103.5px,#8dff6a 105.5px,#6aff8d 108.5px,#63ff94 110.5px,#56ffa0 111.5px,#39ffbe 112.5px,#09f0ee 113.5px,#00c8ff 115px)"></i><i style="background:linear-gradient(90deg,#1fffd7 0px,#00ccff 1.5px,#00dcfe 2.5px,#23ffd4 3.5px,#4dffaa 4.5px,#73ff83 6.5px,#94ff63 9.5px,#90ff66 11.5px,#60ff97 14.5px,#63ff94 16.5px,#7aff7d 18.5px,#77ff80 20.5px,#66ff90 22.5px,#6dff8a 23.5px,#94ff63 25.5px,#97ff60 28.5px,#d4ff23 30.5px,#e1ff16 31.5px,#c1ff36 32.5px,#7dff7a 33.5px,#46ffb1 34.5px,#36ffc1 35.5px,#66ff90 37.5px,#77ff80 38.5px,#63ff94 40.5px,#63ff94 41.5px,#87ff70 43.5px,#9aff5d 44.5px,#9dff5a 45.5px,#77ff80 48.5px,#80ff77 50.5px,#9dff5a 52.5px,#94ff63 54.5px,#70ff87 56.5px,#66ff90 58.5px,#9aff5d 61.5px,#a0ff56 62.5px,#8aff6d 64.5px,#77ff80 66.5px,#7aff7d 67.5px,#97ff60 69.5px,#9dff5a 70.5px,#94ff63 71.5px,#6aff8d 73.5px,#60ff97 74.5px,#73ff83 76.5px,#73ff83 77.5px,#40ffb7 79.5px,#36ffc1 80.5px,#5aff9d 81.5px,#d1ff26 83.5px,#e1ff16 84.5px,#a4ff53 86.5px,#94ff63 87.5px,#97ff60 89.5px,#7aff7d 91.5px,#6aff8d 92.5px,#66ff90 93.5px,#7dff7a 96.5px,#5dff9a 100.5px,#94ff63 104.5px,#90ff66 106.5px,#5dff9a 110.5px,#13fce4 112.5px,#00d0ff 113.5px,#00dcfe 115px)"></i><i style="background:linear-gradient(90deg,#8aff6d 0px,#1cffdb 1.5px,#00e0fb 2.5px,#19ffde 3.5px,#7aff7d 5.5px,#9dff5a 7.5px,#9dff5a 9.5px,#66ff90 13.5px,#6aff8d 15.5px,#87ff70 18.5px,#7aff7d 20.5px,#5dff9a 22.5px,#5dff9a 23.5px,#a0ff56 26.5px,#b1ff46 29.5px,#e1ff16 31.5px,#d7ff1f 32.5px,#6dff8a 34.5px,#49ffad 35.5px,#49ffad 36.5px,#6aff8d 38.5px,#6aff8d 41.5px,#90ff66 44.5px,#7dff7a 48.5px,#a0ff56 51.5px,#97ff60 53.5px,#6aff8d 56.5px,#66ff90 58.5px,#7dff7a 60.5px,#9dff5a 62.5px,#9aff5d 64.5px,#80ff77 66.5px,#80ff77 68.5px,#90ff66 70.5px,#80ff77 72.5px,#66ff90 74.5px,#6dff8a 76.5px,#56ffa0 78.5px,#46ffb1 79.5px,#53ffa4 80.5px,#beff39 82.5px,#e1ff16 83.5px,#dbff1c 84.5px,#aaff4d 86.5px,#a4ff53 88.5px,#80ff77 90.5px,#66ff90 91.5px,#5aff9d 92.5px,#70ff87 94.5px,#87ff70 96.5px,#7dff7a 98.5px,#66ff90 100.5px,#6aff8d 102.5px,#97ff60 105.5px,#9dff5a 107.5px,#9aff5d 108.5px,#8aff6d 109.5px,#6aff8d 110.5px,#39ffbe 111.5px,#09f0ee 112.5px,#00e4f8 113.5px,#40ffb7 115px)"></i><i style="background:linear-gradient(90deg,#ff9100 0px,#baff3c 1.5px,#66ff90 2.5px,#60ff97 3.5px,#aaff4d 5.5px,#beff39 6.5px,#baff3c 7.5px,#70ff87 11.5px,#6aff8d 13.5px,#8aff6d 16.5px,#8dff6a 18.5px,#7dff7a 20.5px,#5aff9d 22.5px,#50ffa7 23.5px,#5aff9d 24.5px,#aaff4d 27.5px,#dbff1c 31.5px,#d7ff1f 32.5px,#b4ff43 33.5px,#4dffaa 35.5px,#3cffba 36.5px,#80ff77 43.5px,#8dff6a 48.5px,#a0ff56 50.5px,#90ff66 52.5px,#6dff8a 54.5px,#6aff8d 56.5px,#66ff90 60.5px,#83ff73 62.5px,#a0ff56 64.5px,#83ff73 68.5px,#83ff73 71.5px,#4dffaa 77.5px,#3cffba 78.5px,#40ffb7 79.5px,#5dff9a 80.5px,#c7ff30 82.5px,#deff19 83.5px,#a0ff56 88.5px,#66ff90 90.5px,#53ffa4 91.5px,#53ffa4 92.5px,#8aff6d 96.5px,#8dff6a 98.5px,#6aff8d 102.5px,#6aff8d 103.5px,#beff39 108.5px,#b7ff40 109.5px,#9dff5a 110.5px,#73ff83 111.5px,#5aff9d 112.5px,#7dff7a 113.5px,#f1fc06 115px)"></i><i style="background:linear-gradient(90deg,#800000 0px,#ff1300 1.5px,#ff9f00 2.5px,#fbf100 3.5px,#e7ff0f 4.5px,#d7ff1f 6.5px,#80ff77 9.5px,#6dff8a 10.5px,#66ff90 11.5px,#7dff7a 13.5px,#94ff63 15.5px,#7dff7a 20.5px,#66ff90 22.5px,#49ffad 24.5px,#53ffa4 25.5px,#b4ff43 28.5px,#d4ff23 30.5px,#dbff1c 31.5px,#d4ff23 32.5px,#b1ff46 33.5px,#40ffb7 35.5px,#1fffd7 36.5px,#19ffde 37.5px,#60ff97 41.5px,#a4ff53 48.5px,#a7ff50 49.5px,#8aff6d 51.5px,#5dff9a 53.5px,#56ffa0 54.5px,#7dff7a 57.5px,#7aff7d 58.5px,#5aff9d 60.5px,#56ffa0 61.5px,#7aff7d 63.5px,#a4ff53 65.5px,#a0ff56 67.5px,#5aff9d 74.5px,#1fffd7 77.5px,#19ffde 78.5px,#29ffce 79.5px,#56ffa0 80.5px,#c4ff33 82.5px,#dbff1c 83.5px,#d1ff26 85.5px,#aaff4d 87.5px,#63ff94 89.5px,#4dffaa 90.5px,#4dffaa 91.5px,#77ff80 94.5px,#94ff63 99.5px,#83ff73 101.5px,#6aff8d 103.5px,#66ff90 104.5px,#8aff6d 106.5px,#caff2c 108.5px,#deff19 109.5px,#ebff0c 111.5px,#ffd700 112.5px,#ff6c00 113.5px,#b20000 115px)"></i><i style="background:linear-gradient(90deg,#800000 0px,#800000 2.5px,#ff3b00 3.5px,#ffae00 4.5px,#f1fc06 5.5px,#94ff63 7.5px,#73ff83 8.5px,#60ff97 9.5px,#5dff9a 10.5px,#8aff6d 13.5px,#94ff63 15.5px,#7aff7d 19.5px,#73ff83 22.5px,#50ffa7 24.5px,#46ffb1 25.5px,#50ffa7 26.5px,#9aff5d 28.5px,#c4ff33 29.5px,#e1ff16 30.5px,#ebff0c 31.5px,#e1ff16 32.5px,#baff3c 33.5px,#39ffbe 35.5px,#06ecf1 36.5px,#00d4ff 37.5px,#00e0fb 38.5px,#13fce4 39.5px,#40ffb7 41.5px,#63ff94 43.5px,#aaff4d 46.5px,#b4ff43 47.5px,#a4ff53 49.5px,#53ffa4 52.5px,#49ffad 53.5px,#66ff90 55.5px,#8aff6d 57.5px,#87ff70 58.5px,#4dffaa 61.5px,#49ffad 62.5px,#5aff9d 63.5px,#aaff4d 66.5px,#b4ff43 67.5px,#b1ff46 68.5px,#8aff6d 70.5px,#49ffad 73.5px,#23ffd4 75.5px,#09f0ee 76.5px,#00d8ff 77.5px,#00d8ff 78.5px,#16ffe1 79.5px,#97ff60 81.5px,#ceff29 82.5px,#e7ff0f 83.5px,#ebff0c 84.5px,#d7ff1f 85.5px,#60ff97 88.5px,#49ffad 89.5px,#46ffb1 90.5px,#7aff7d 93.5px,#7dff7a 97.5px,#94ff63 100.5px,#83ff73 102.5px,#63ff94 104.5px,#5dff9a 105.5px,#66ff90 106.5px,#7dff7a 107.5px,#a0ff56 108.5px,#d1ff26 109.5px,#ffe200 110.5px,#ff8600 111.5px,#ed0400 112.5px,#800000 113.5px,#800000 115px)"></i><i style="background:linear-gradient(90deg,#840000 0px,#800000 2.5px,#ff2500 3.5px,#ffc800 4.5px,#adff49 5.5px,#63ff94 6.5px,#40ffb7 7.5px,#36ffc1 8.5px,#4dffaa 10.5px,#77ff80 12.5px,#87ff70 14.5px,#73ff83 19.5px,#80ff77 22.5px,#63ff94 24.5px,#49ffad 25.5px,#3cffba 26.5px,#49ffad 27.5px,#70ff87 28.5px,#dbff1c 30.5px,#feed00 31.5px,#ffe600 32.5px,#e7ff0f 33.5px,#aaff4d 34.5px,#1cffdb 36.5px,#00d4ff 37.5px,#00c4ff 38.5px,#00d8ff 39.5px,#0ff8e7 40.5px,#49ffad 42.5px,#9aff5d 44.5px,#baff3c 45.5px,#caff2c 46.5px,#c4ff33 47.5px,#8dff6a 49.5px,#53ffa4 51.5px,#49ffad 52.5px,#50ffa7 53.5px,#87ff70 56.5px,#8aff6d 58.5px,#6dff8a 60.5px,#4dffaa 62.5px,#49ffad 63.5px,#5aff9d 64.5px,#baff3c 67.5px,#c7ff30 68.5px,#c4ff33 69.5px,#adff49 70.5px,#3cffba 73.5px,#1fffd7 74.5px,#02e8f4 75.5px,#00ccff 76.5px,#00c8ff 77.5px,#00e4f8 78.5px,#33ffc4 79.5px,#c7ff30 81.5px,#f8f500 82.5px,#ffe200 83.5px,#f4f802 84.5px,#c7ff30 85.5px,#5dff9a 87.5px,#40ffb7 88.5px,#40ffb7 89.5px,#7dff7a 92.5px,#7aff7d 94.5px,#73ff83 97.5px,#87ff70 101.5px,#70ff87 103.5px,#46ffb1 105.5px,#36ffc1 107.5px,#4dffaa 108.5px,#7dff7a 109.5px,#d4ff23 110.5px,#ff8900 111.5px,#c40000 112.5px,#800000 113.5px,#800000 115px)"></i><i style="background:linear-gradient(90deg,#8dff6a 0px,#ffc800 1.5px,#ff9400 2.5px,#ffd300 3.5px,#adff49 4.5px,#49ffad 5.5px,#0ff8e7 6.5px,#00e0fb 7.5px,#06ecf1 8.5px,#1fffd7 9.5px,#50ffa7 11.5px,#6aff8d 13.5px,#7dff7a 21.5px,#80ff77 23.5px,#73ff83 24.5px,#40ffb7 26.5px,#33ffc4 27.5px,#40ffb7 28.5px,#6aff8d 29.5px,#f4f802 31.5px,#ffbd00 32.5px,#ffab00 33.5px,#ffc800 34.5px,#deff19 35.5px,#49ffad 37.5px,#23ffd4 38.5px,#1cffdb 39.5px,#30ffc7 40.5px,#53ffa4 41.5px,#b1ff46 43.5px,#d7ff1f 44.5px,#e7ff0f 45.5px,#deff19 46.5px,#70ff87 49.5px,#56ffa0 50.5px,#50ffa7 51.5px,#80ff77 55.5px,#83ff73 59.5px,#73ff83 61.5px,#53ffa4 63.5px,#50ffa7 64.5px,#5dff9a 65.5px,#a7ff50 67.5px,#ceff29 68.5px,#e4ff13 69.5px,#e4ff13 70.5px,#caff2c 71.5px,#43ffb4 74.5px,#26ffd1 75.5px,#1cffdb 76.5px,#30ffc7 77.5px,#63ff94 78.5px,#adff49 79.5px,#fbf100 80.5px,#ffb600 81.5px,#ffab00 82.5px,#ffd000 83.5px,#d7ff1f 84.5px,#90ff66 85.5px,#56ffa0 86.5px,#36ffc1 87.5px,#36ffc1 88.5px,#7aff7d 91.5px,#80ff77 93.5px,#70ff87 98.5px,#66ff90 102.5px,#49ffad 104.5px,#16ffe1 106.5px,#00e4f8 107.5px,#00e4f8 108.5px,#23ffd4 109.5px,#70ff87 110.5px,#d7ff1f 111.5px,#ffae00 112.5px,#ff9800 113.5px,#eeff09 115px)"></i><i style="background:linear-gradient(90deg,#0000c8 0px,#0064ff 1.5px,#0cf4eb 2.5px,#46ffb1 3.5px,#46ffb1 4.5px,#13fce4 6.5px,#0cf4eb 7.5px,#1fffd7 9.5px,#49ffad 12.5px,#73ff83 17.5px,#7dff7a 23.5px,#7aff7d 24.5px,#6aff8d 25.5px,#29ffce 27.5px,#16ffe1 28.5px,#1fffd7 29.5px,#50ffa7 30.5px,#aaff4d 31.5px,#ffd300 32.5px,#ff6800 33.5px,#ff3000 34.5px,#ff3400 35.5px,#ff7300 36.5px,#ffc400 37.5px,#e4ff13 38.5px,#c4ff33 39.5px,#c7ff30 40.5px,#e1ff16 41.5px,#ffea00 42.5px,#ffd300 43.5px,#ffd700 44.5px,#f4f802 45.5px,#6dff8a 48.5px,#56ffa0 49.5px,#53ffa4 50.5px,#80ff77 53.5px,#80ff77 55.5px,#73ff83 58.5px,#83ff73 60.5px,#7aff7d 62.5px,#5aff9d 64.5px,#53ffa4 65.5px,#5dff9a 66.5px,#7dff7a 67.5px,#dbff1c 69.5px,#ffe600 70.5px,#ffd000 71.5px,#ffd700 72.5px,#f4f802 73.5px,#d4ff23 74.5px,#c4ff33 75.5px,#ceff29 76.5px,#fbf100 77.5px,#ff5500 79.5px,#ff2d00 80.5px,#ff3f00 81.5px,#ff9100 82.5px,#e7ff0f 83.5px,#83ff73 84.5px,#39ffbe 85.5px,#16ffe1 86.5px,#1cffdb 87.5px,#5aff9d 89.5px,#7dff7a 91.5px,#77ff80 97.5px,#46ffb1 103.5px,#0ff8e7 107.5px,#0cf4eb 108.5px,#1cffdb 109.5px,#4dffaa 111.5px,#36ffc1 112.5px,#00c0ff 113.5px,#0020ff 115px)"></i><i style="background:linear-gradient(90deg,#000080 0px,#000080 1.5px,#0000ff 2.5px,#009cff 3.5px,#2cffca 4.5px,#63ff94 5.5px,#77ff80 6.5px,#46ffb1 11.5px,#4dffaa 13.5px,#7aff7d 18.5px,#77ff80 24.5px,#6aff8d 25.5px,#50ffa7 26.5px,#29ffce 27.5px,#00e0fb 28.5px,#00b8ff 29.5px,#00c4ff 30.5px,#26ffd1 31.5px,#a4ff53 32.5px,#ffa700 33.5px,#e80000 34.5px,#800000 35.5px,#800000 37.5px,#ad0000 38.5px,#ed0400 39.5px,#ff2500 40.5px,#ff3b00 41.5px,#ff5d00 42.5px,#ff9400 43.5px,#ffe200 44.5px,#beff39 45.5px,#7aff7d 46.5px,#50ffa7 47.5px,#40ffb7 48.5px,#46ffb1 49.5px,#80ff77 52.5px,#83ff73 54.5px,#6dff8a 57.5px,#73ff83 59.5px,#87ff70 62.5px,#6aff8d 64.5px,#43ffb4 66.5px,#43ffb4 67.5px,#5dff9a 68.5px,#94ff63 69.5px,#dbff1c 70.5px,#ffc100 71.5px,#ff7a00 72.5px,#ff4e00 73.5px,#ff1a00 75.5px,#d60000 76.5px,#920000 77.5px,#800000 78.5px,#800000 79.5px,#920000 80.5px,#ff3f00 81.5px,#feed00 82.5px,#6aff8d 83.5px,#06ecf1 84.5px,#00b8ff 85.5px,#00c4ff 86.5px,#0cf4eb 87.5px,#39ffbe 88.5px,#5dff9a 89.5px,#70ff87 90.5px,#7dff7a 95.5px,#7aff7d 97.5px,#49ffad 102.5px,#46ffb1 104.5px,#73ff83 108.5px,#73ff83 109.5px,#53ffa4 110.5px,#09f0ee 111.5px,#005cff 112.5px,#0000b6 113.5px,#000080 115px)"></i><i style="background:linear-gradient(90deg,#000096 0px,#000084 1.5px,#0000e8 2.5px,#007cff 3.5px,#36ffc1 4.5px,#a0ff56 5.5px,#dbff1c 6.5px,#e7ff0f 7.5px,#d4ff23 8.5px,#73ff83 11.5px,#56ffa0 13.5px,#63ff94 16.5px,#77ff80 20.5px,#6aff8d 24.5px,#4dffaa 26.5px,#29ffce 27.5px,#00d8ff 28.5px,#0098ff 29.5px,#0070ff 30.5px,#0080ff 31.5px,#00e0fb 32.5px,#8aff6d 33.5px,#ffa700 34.5px,#c40000 35.5px,#800000 36.5px,#800000 40.5px,#cd0000 41.5px,#ff6000 42.5px,#ffe600 43.5px,#97ff60 44.5px,#40ffb7 45.5px,#0cf4eb 46.5px,#02e8f4 47.5px,#19ffde 48.5px,#73ff83 51.5px,#80ff77 53.5px,#73ff83 57.5px,#7dff7a 61.5px,#7aff7d 63.5px,#6aff8d 64.5px,#2cffca 66.5px,#0cf4eb 67.5px,#02e8f4 68.5px,#1cffdb 69.5px,#5dff9a 70.5px,#c1ff36 71.5px,#ffae00 72.5px,#ff2d00 73.5px,#9b0000 74.5px,#800000 75.5px,#800000 79.5px,#ff2d00 80.5px,#f4f802 81.5px,#49ffad 82.5px,#00b0ff 83.5px,#0070ff 84.5px,#0078ff 85.5px,#00b0ff 86.5px,#0cf4eb 87.5px,#39ffbe 88.5px,#56ffa0 89.5px,#6dff8a 91.5px,#77ff80 95.5px,#60ff97 99.5px,#56ffa0 101.5px,#66ff90 103.5px,#9dff5a 105.5px,#deff19 107.5px,#e4ff13 108.5px,#caff2c 109.5px,#7aff7d 110.5px,#00e4f8 111.5px,#0038ff 112.5px,#0000b2 113.5px,#000080 115px)"></i><i style="background:linear-gradient(90deg,#00a8ff 0px,#0064ff 1.5px,#0060ff 2.5px,#00a4ff 3.5px,#29ffce 4.5px,#8dff6a 5.5px,#deff19 6.5px,#ffde00 7.5px,#ffd700 8.5px,#ffea00 9.5px,#deff19 10.5px,#97ff60 12.5px,#6aff8d 14.5px,#5dff9a 16.5px,#66ff90 22.5px,#4dffaa 26.5px,#3cffba 27.5px,#1cffdb 28.5px,#00d0ff 29.5px,#0090ff 30.5px,#005cff 31.5px,#0058ff 32.5px,#009cff 33.5px,#36ffc1 34.5px,#d1ff26 35.5px,#ff6f00 36.5px,#c80000 37.5px,#800000 38.5px,#840000 39.5px,#e80000 40.5px,#ff8200 41.5px,#d7ff1f 42.5px,#5dff9a 43.5px,#00e0fb 44.5px,#00a0ff 45.5px,#0094ff 46.5px,#00b0ff 47.5px,#00e4f8 48.5px,#29ffce 49.5px,#4dffaa 50.5px,#63ff94 51.5px,#7aff7d 55.5px,#7aff7d 60.5px,#6aff8d 63.5px,#40ffb7 65.5px,#19ffde 66.5px,#00d0ff 67.5px,#00a0ff 68.5px,#0094ff 69.5px,#00b4ff 70.5px,#1fffd7 71.5px,#8aff6d 72.5px,#ffdb00 73.5px,#ff4a00 74.5px,#bb0000 75.5px,#800000 76.5px,#890000 77.5px,#ff1300 78.5px,#ffb200 79.5px,#90ff66 80.5px,#02e8f4 81.5px,#0078ff 82.5px,#0054ff 83.5px,#0070ff 84.5px,#00a8ff 85.5px,#02e8f4 86.5px,#29ffce 87.5px,#53ffa4 89.5px,#66ff90 93.5px,#5dff9a 99.5px,#70ff87 101.5px,#a4ff53 103.5px,#eeff09 105.5px,#ffde00 106.5px,#ffd700 107.5px,#fbf100 108.5px,#c1ff36 109.5px,#66ff90 110.5px,#00e4f8 111.5px,#0080ff 112.5px,#0058ff 113.5px,#0078ff 115px)"></i><i style="background:linear-gradient(90deg,#8dff6a 0px,#1cffdb 2.5px,#02e8f4 3.5px,#0ff8e7 4.5px,#40ffb7 5.5px,#c1ff36 7.5px,#eeff09 8.5px,#ffe600 9.5px,#ffe600 10.5px,#f4f802 11.5px,#80ff77 15.5px,#63ff94 17.5px,#5aff9d 21.5px,#6dff8a 28.5px,#5aff9d 29.5px,#33ffc4 30.5px,#00d8ff 31.5px,#0080ff 32.5px,#003cff 33.5px,#0030ff 34.5px,#0068ff 35.5px,#00d8ff 36.5px,#5aff9d 37.5px,#a4ff53 38.5px,#beff39 39.5px,#a0ff56 40.5px,#16ffe1 42.5px,#00b8ff 43.5px,#0094ff 44.5px,#0090ff 45.5px,#00a8ff 46.5px,#00ccff 47.5px,#0cf4eb 48.5px,#26ffd1 49.5px,#4dffaa 51.5px,#77ff80 55.5px,#80ff77 58.5px,#60ff97 62.5px,#36ffc1 65.5px,#1cffdb 66.5px,#00e4f8 67.5px,#009cff 69.5px,#008cff 70.5px,#009cff 71.5px,#00d0ff 72.5px,#33ffc4 73.5px,#7dff7a 74.5px,#b1ff46 75.5px,#baff3c 76.5px,#8dff6a 77.5px,#33ffc4 78.5px,#00a8ff 79.5px,#0048ff 80.5px,#002cff 81.5px,#0050ff 82.5px,#00a0ff 83.5px,#0ff8e7 84.5px,#46ffb1 85.5px,#63ff94 86.5px,#6dff8a 88.5px,#5dff9a 92.5px,#5dff9a 96.5px,#66ff90 98.5px,#8aff6d 100.5px,#e4ff13 103.5px,#feed00 104.5px,#ffe200 105.5px,#feed00 106.5px,#deff19 107.5px,#66ff90 109.5px,#29ffce 110.5px,#06ecf1 111.5px,#09f0ee 112.5px,#30ffc7 113.5px,#6aff8d 115px)"></i><i style="background:linear-gradient(90deg,#e7ff0f 0px,#c4ff33 1.5px,#49ffad 3.5px,#19ffde 4.5px,#09f0ee 5.5px,#1cffdb 6.5px,#80ff77 8.5px,#b7ff40 9.5px,#deff19 10.5px,#f4f802 11.5px,#f8f500 12.5px,#eeff09 13.5px,#94ff63 17.5px,#7aff7d 19.5px,#73ff83 21.5px,#83ff73 24.5px,#ceff29 28.5px,#d1ff26 29.5px,#beff39 30.5px,#8aff6d 31.5px,#30ffc7 32.5px,#0098ff 33.5px,#0014ff 34.5px,#0000bf 35.5px,#000096 36.5px,#0000ad 37.5px,#0000e8 38.5px,#0018ff 39.5px,#004cff 40.5px,#009cff 42.5px,#00ccff 43.5px,#13fce4 44.5px,#33ffc4 45.5px,#50ffa7 47.5px,#46ffb1 51.5px,#6aff8d 56.5px,#60ff97 60.5px,#46ffb1 64.5px,#4dffaa 68.5px,#40ffb7 69.5px,#26ffd1 70.5px,#02e8f4 71.5px,#00b8ff 72.5px,#0038ff 75.5px,#0000ff 76.5px,#00009f 78.5px,#00009f 79.5px,#0000df 80.5px,#0044ff 81.5px,#00d0ff 82.5px,#56ffa0 83.5px,#a4ff53 84.5px,#caff2c 85.5px,#d1ff26 86.5px,#c7ff30 87.5px,#8dff6a 90.5px,#73ff83 93.5px,#7dff7a 96.5px,#9aff5d 98.5px,#f4f802 102.5px,#f8f500 103.5px,#eeff09 104.5px,#d1ff26 105.5px,#36ffc1 108.5px,#13fce4 109.5px,#0cf4eb 110.5px,#29ffce 111.5px,#a0ff56 113.5px,#d4ff23 115px)"></i><i style="background:linear-gradient(90deg,#eeff09 0px,#e1ff16 1.5px,#c1ff36 2.5px,#4dffaa 4.5px,#1cffdb 5.5px,#00e4f8 6.5px,#00e4f8 7.5px,#19ffde 8.5px,#77ff80 10.5px,#ceff29 12.5px,#e4ff13 13.5px,#eeff09 15.5px,#b7ff40 20.5px,#b7ff40 22.5px,#c7ff30 24.5px,#e7ff0f 26.5px,#f8f500 27.5px,#ffe200 28.5px,#ffdb00 29.5px,#ffe600 30.5px,#e1ff16 31.5px,#9dff5a 32.5px,#39ffbe 33.5px,#0090ff 34.5px,#0000ff 35.5px,#000080 36.5px,#000080 39.5px,#0000c8 40.5px,#0044ff 41.5px,#00ccff 42.5px,#50ffa7 43.5px,#9dff5a 44.5px,#caff2c 45.5px,#dbff1c 46.5px,#d1ff26 47.5px,#7aff7d 50.5px,#5aff9d 52.5px,#50ffa7 54.5px,#53ffa4 62.5px,#6dff8a 64.5px,#d7ff1f 68.5px,#d7ff1f 69.5px,#beff39 70.5px,#80ff77 71.5px,#29ffce 72.5px,#0098ff 73.5px,#000cff 74.5px,#000096 75.5px,#000080 76.5px,#000080 78.5px,#0000a4 79.5px,#0030ff 80.5px,#00d0ff 81.5px,#63ff94 82.5px,#beff39 83.5px,#f1fc06 84.5px,#ffde00 85.5px,#ffde00 86.5px,#ffea00 87.5px,#f1fc06 88.5px,#baff3c 92.5px,#baff3c 95.5px,#f1fc06 100.5px,#eeff09 101.5px,#deff19 102.5px,#c1ff36 103.5px,#30ffc7 106.5px,#0cf4eb 107.5px,#00e0fb 108.5px,#06ecf1 109.5px,#2cffca 110.5px,#a0ff56 112.5px,#d1ff26 113.5px,#ebff0c 115px)"></i><i style="background:linear-gradient(90deg,#ceff29 0px,#caff2c 2.5px,#b1ff46 3.5px,#5aff9d 5.5px,#2cffca 6.5px,#09f0ee 7.5px,#00dcfe 8.5px,#00e4f8 9.5px,#16ffe1 10.5px,#b4ff43 14.5px,#d1ff26 15.5px,#ebff0c 17.5px,#f1fc06 28.5px,#deff19 30.5px,#caff2c 31.5px,#a7ff50 32.5px,#70ff87 33.5px,#23ffd4 34.5px,#009cff 35.5px,#0024ff 36.5px,#0000d1 37.5px,#0000a4 38.5px,#0000bb 39.5px,#0008ff 40.5px,#0084ff 41.5px,#1fffd7 42.5px,#87ff70 43.5px,#d7ff1f 44.5px,#ffde00 45.5px,#ffc100 46.5px,#ffc400 47.5px,#ffd700 48.5px,#f4f802 49.5px,#b1ff46 51.5px,#80ff77 53.5px,#63ff94 55.5px,#5aff9d 57.5px,#66ff90 60.5px,#87ff70 62.5px,#deff19 65.5px,#feed00 66.5px,#ffd000 67.5px,#ffc100 68.5px,#ffc800 69.5px,#fbf100 70.5px,#baff3c 71.5px,#60ff97 72.5px,#00d4ff 73.5px,#0050ff 74.5px,#0000ed 75.5px,#0000a8 76.5px,#0000ad 77.5px,#0000f6 78.5px,#0054ff 79.5px,#00ccff 80.5px,#46ffb1 81.5px,#8aff6d 82.5px,#b7ff40 83.5px,#e1ff16 85.5px,#f4f802 88.5px,#ebff0c 94.5px,#eeff09 97.5px,#dbff1c 99.5px,#c7ff30 100.5px,#80ff77 102.5px,#2cffca 104.5px,#09f0ee 105.5px,#00dcfe 106.5px,#00e0fb 107.5px,#16ffe1 108.5px,#6dff8a 110.5px,#beff39 112.5px,#ceff29 113.5px,#d1ff26 115px)"></i><i style="background:linear-gradient(90deg,#a7ff50 0px,#b7ff40 2.5px,#adff49 4.5px,#73ff83 6.5px,#26ffd1 8.5px,#0cf4eb 9.5px,#00e0fb 10.5px,#00e4f8 11.5px,#0ff8e7 12.5px,#87ff70 16.5px,#b4ff43 18.5px,#caff2c 20.5px,#caff2c 23.5px,#b1ff46 26.5px,#7aff7d 30.5px,#6aff8d 33.5px,#5dff9a 34.5px,#43ffb4 35.5px,#1cffdb 36.5px,#00d8ff 37.5px,#00b0ff 38.5px,#00a0ff 39.5px,#00b0ff 40.5px,#00dcfe 41.5px,#2cffca 42.5px,#9aff5d 44.5px,#eeff09 46.5px,#ffde00 47.5px,#ffd000 48.5px,#ffd700 50.5px,#ffea00 51.5px,#eeff09 52.5px,#c4ff33 54.5px,#adff49 56.5px,#aaff4d 58.5px,#beff39 60.5px,#f4f802 63.5px,#ffe200 64.5px,#ffcc00 66.5px,#ffd300 67.5px,#ffea00 68.5px,#e1ff16 69.5px,#83ff73 71.5px,#16ffe1 73.5px,#00c8ff 74.5px,#00a8ff 75.5px,#00a4ff 76.5px,#00bcff 77.5px,#06ecf1 78.5px,#2cffca 79.5px,#50ffa7 80.5px,#6dff8a 82.5px,#7dff7a 85.5px,#c1ff36 90.5px,#ceff29 93.5px,#c7ff30 95.5px,#adff49 97.5px,#7dff7a 99.5px,#1cffdb 102.5px,#06ecf1 103.5px,#00e0fb 104.5px,#02e8f4 105.5px,#16ffe1 106.5px,#5aff9d 108.5px,#a0ff56 110.5px,#b4ff43 111.5px,#b7ff40 113.5px,#adff49 115px)"></i><i style="background:linear-gradient(90deg,#90ff66 0px,#adff49 4.5px,#adff49 5.5px,#8aff6d 7.5px,#16ffe1 11.5px,#06ecf1 12.5px,#00e4f8 13.5px,#02e8f4 14.5px,#1fffd7 16.5px,#53ffa4 19.5px,#66ff90 22.5px,#53ffa4 25.5px,#30ffc7 28.5px,#2cffca 30.5px,#49ffad 32.5px,#97ff60 35.5px,#a4ff53 36.5px,#a4ff53 37.5px,#7aff7d 39.5px,#40ffb7 41.5px,#30ffc7 42.5px,#2cffca 43.5px,#36ffc1 44.5px,#6dff8a 46.5px,#dbff1c 49.5px,#f4f802 50.5px,#ffe600 51.5px,#ffde00 54.5px,#ffea00 57.5px,#ffde00 62.5px,#feed00 64.5px,#ebff0c 65.5px,#aaff4d 67.5px,#60ff97 69.5px,#30ffc7 71.5px,#2cffca 72.5px,#49ffad 74.5px,#9aff5d 77.5px,#a4ff53 78.5px,#a0ff56 79.5px,#73ff83 81.5px,#40ffb7 83.5px,#2cffca 85.5px,#36ffc1 87.5px,#60ff97 91.5px,#66ff90 93.5px,#4dffaa 96.5px,#19ffde 99.5px,#00e4f8 101.5px,#00e4f8 102.5px,#09f0ee 103.5px,#1fffd7 104.5px,#94ff63 108.5px,#a7ff50 109.5px,#adff49 111.5px,#94ff63 115px)"></i><i style="background:linear-gradient(90deg,#83ff73 0px,#aaff4d 6.5px,#9dff5a 8.5px,#16ffe1 14.5px,#02e8f4 16.5px,#06ecf1 19.5px,#0ff8e7 23.5px,#0ff8e7 27.5px,#1cffdb 29.5px,#3cffba 31.5px,#deff19 36.5px,#eeff09 37.5px,#eeff09 38.5px,#d7ff1f 39.5px,#b4ff43 40.5px,#53ffa4 42.5px,#0ff8e7 44.5px,#06ecf1 45.5px,#09f0ee 46.5px,#1cffdb 47.5px,#baff3c 52.5px,#e1ff16 54.5px,#f4f802 56.5px,#f1fc06 59.5px,#caff2c 62.5px,#70ff87 65.5px,#2cffca 67.5px,#13fce4 68.5px,#06ecf1 69.5px,#09f0ee 70.5px,#19ffde 71.5px,#39ffbe 72.5px,#c4ff33 75.5px,#e4ff13 76.5px,#f1fc06 77.5px,#ebff0c 78.5px,#b4ff43 80.5px,#6aff8d 82.5px,#36ffc1 84.5px,#19ffde 86.5px,#0ff8e7 88.5px,#0cf4eb 94.5px,#02e8f4 98.5px,#0ff8e7 100.5px,#33ffc4 102.5px,#94ff63 106.5px,#aaff4d 108.5px,#a4ff53 110.5px,#83ff73 115px)"></i><i style="background:linear-gradient(90deg,#7dff7a 0px,#8dff6a 4.5px,#a7ff50 8.5px,#94ff63 11.5px,#39ffbe 16.5px,#19ffde 19.5px,#16ffe1 23.5px,#30ffc7 27.5px,#6dff8a 31.5px,#deff19 36.5px,#f1fc06 38.5px,#e7ff0f 39.5px,#b1ff46 41.5px,#39ffbe 44.5px,#19ffde 45.5px,#02e8f4 46.5px,#00d8ff 47.5px,#00d4ff 48.5px,#00e0fb 49.5px,#1fffd7 51.5px,#6dff8a 55.5px,#7aff7d 57.5px,#73ff83 59.5px,#43ffb4 62.5px,#16ffe1 64.5px,#02e8f4 65.5px,#00d8ff 66.5px,#00d4ff 67.5px,#00dcfe 68.5px,#09f0ee 69.5px,#26ffd1 70.5px,#c1ff36 74.5px,#deff19 75.5px,#eeff09 77.5px,#e7ff0f 78.5px,#90ff66 82.5px,#53ffa4 85.5px,#23ffd4 89.5px,#13fce4 93.5px,#1cffdb 96.5px,#40ffb7 99.5px,#97ff60 104.5px,#a7ff50 106.5px,#94ff63 110.5px,#80ff77 115px)"></i><i style="background:linear-gradient(90deg,#7dff7a 0px,#87ff70 5.5px,#a4ff53 10.5px,#9dff5a 13.5px,#5aff9d 20.5px,#5aff9d 24.5px,#a0ff56 32.5px,#caff2c 38.5px,#c7ff30 40.5px,#adff49 42.5px,#43ffb4 46.5px,#0ff8e7 48.5px,#00e4f8 49.5px,#00d0ff 51.5px,#00e4f8 56.5px,#00e4f8 59.5px,#00d0ff 63.5px,#00d0ff 64.5px,#00dcfe 65.5px,#06ecf1 66.5px,#19ffde 67.5px,#b7ff40 73.5px,#caff2c 75.5px,#beff39 79.5px,#5dff9a 90.5px,#5aff9d 94.5px,#77ff80 98.5px,#9dff5a 102.5px,#a4ff53 105.5px,#83ff73 111.5px,#7dff7a 115px)"></i><i style="background:linear-gradient(90deg,#7dff7a 0px,#83ff73 6.5px,#a4ff53 14.5px,#90ff66 23.5px,#a4ff53 33.5px,#a4ff53 38.5px,#b1ff46 42.5px,#a7ff50 44.5px,#73ff83 47.5px,#23ffd4 51.5px,#09f0ee 53.5px,#00dcfe 55.5px,#00dcfe 59.5px,#02e8f4 61.5px,#19ffde 63.5px,#66ff90 67.5px,#a0ff56 70.5px,#b1ff46 72.5px,#a7ff50 76.5px,#a0ff56 81.5px,#a0ff56 85.5px,#90ff66 93.5px,#a4ff53 101.5px,#7dff7a 112.5px,#7dff7a 115px)"></i></div>
<svg style="left:398px;top:199px" width="115" height="143"><path d="M-80.19,118.42 L-70.17,108.30 L-62.97,108.30 L-52.96,118.42 L-44.65,118.42 L-34.64,108.30 L-27.44,108.30 L-17.42,118.42 L-9.12,118.42 L0.90,108.30 L8.10,108.30 L18.11,118.42 L26.42,118.42 L36.43,108.30 L43.63,108.30 L53.65,118.42 L61.95,118.42 L71.97,108.30 L79.17,108.30 L89.18,118.42 L97.49,118.42 L107.50,108.30 L114.70,108.30 L124.72,118.42 L133.02,118.42 L143.04,108.30 L150.24,108.30 L160.25,118.42 L168.56,118.42 L178.57,108.30 L185.77,108.30 L195.79,118.42" fill="none" stroke="#b8692a" stroke-width="0.9" stroke-opacity="0.9"/><circle cx="57.80" cy="26.12" r="0.55" fill="#8e44a8" fill-opacity="0.8"/></svg>
<div class="frm" style="left:398px;top:199px;width:113px;height:141px"></div>
<div class="ann" style="left:439.74px;top:215.24px">Source/Receiver</div>
<div class="ann" style="left:400.3px;top:298.779px">Soil surface</div>
<div class="ttl" style="left:455.5px;top:190.4px">Centre frequency = 450 MHz</div>
<div class="yt" style="left:357.5px;top:211.14px">2.0</div>
<b class="tk" style="left:396px;top:214.04px;width:2px;height:0.8px"></b>
<div class="yt" style="left:357.5px;top:234.355px">1.5</div>
<b class="tk" style="left:396px;top:237.255px;width:2px;height:0.8px"></b>
<div class="yt" style="left:357.5px;top:257.57px">1.0</div>
<b class="tk" style="left:396px;top:260.47px;width:2px;height:0.8px"></b>
<div class="yt" style="left:357.5px;top:280.785px">0.5</div>
<b class="tk" style="left:396px;top:283.685px;width:2px;height:0.8px"></b>
<div class="yt" style="left:357.5px;top:304px">0.0</div>
<b class="tk" style="left:396px;top:306.9px;width:2px;height:0.8px"></b>
<div class="yt" style="left:357.5px;top:327.215px">−0.5</div>
<b class="tk" style="left:396px;top:330.115px;width:2px;height:0.8px"></b>
<div class="xt" style="left:389.65px;top:344.1px">−1.0</div>
<b class="tk" style="left:409.25px;top:342px;width:0.8px;height:1.8px"></b>
<div class="xt" style="left:412.725px;top:344.1px">−0.5</div>
<b class="tk" style="left:432.325px;top:342px;width:0.8px;height:1.8px"></b>
<div class="xt" style="left:435.8px;top:344.1px">0.0</div>
<b class="tk" style="left:455.4px;top:342px;width:0.8px;height:1.8px"></b>
<div class="xt" style="left:458.875px;top:344.1px">0.5</div>
<b class="tk" style="left:478.475px;top:342px;width:0.8px;height:1.8px"></b>
<div class="xt" style="left:481.95px;top:344.1px">1.0</div>
<b class="tk" style="left:501.55px;top:342px;width:0.8px;height:1.8px"></b>
<div class="yl" style="left:364.2px;top:265.4px"><i>y</i> (m)</div>
<div class="xl" style="left:435.8px;top:353.5px"><i>x</i> (m)</div>
<div class="cap" style="left:439px;top:370px">(f)</div>
<div class="cb" style="left:522px;top:199px;height:141px;background-image:linear-gradient(180deg,#800000 0.00%,#9f0000 3.12%,#c40000 6.25%,#e80000 9.38%,#ff1e00 12.50%,#ff3b00 15.62%,#ff5900 18.75%,#ff7700 21.88%,#ff9400 25.00%,#ffb200 28.12%,#ffd000 31.25%,#feed00 34.38%,#e4ff13 37.50%,#caff2c 40.62%,#b1ff46 43.75%,#97ff60 46.88%,#7dff7a 50.00%,#63ff94 53.12%,#49ffad 56.25%,#30ffc7 59.38%,#16ffe1 62.50%,#00e0fb 65.62%,#00c0ff 68.75%,#00a0ff 71.88%,#0080ff 75.00%,#0060ff 78.12%,#0040ff 81.25%,#0020ff 84.38%,#0000ff 87.50%,#0000ed 90.62%,#0000c8 93.75%,#0000a4 96.88%,#000080 100.00%)"></div>
<b class="tk" style="left:530px;top:210.933px;width:2px;height:0.8px"></b>
<div class="ct" style="left:533.5px;top:207.233px">100</div>
<b class="tk" style="left:530px;top:240.517px;width:2px;height:0.8px"></b>
<div class="ct" style="left:533.5px;top:236.817px">50</div>
<b class="tk" style="left:530px;top:270.1px;width:2px;height:0.8px"></b>
<div class="ct" style="left:533.5px;top:266.4px">0</div>
<b class="tk" style="left:530px;top:299.683px;width:2px;height:0.8px"></b>
<div class="ct" style="left:533.5px;top:295.983px">−50</div>
<b class="tk" style="left:530px;top:329.267px;width:2px;height:0.8px"></b>
<div class="ct" style="left:533.5px;top:325.567px">−100</div>
</body></html>
